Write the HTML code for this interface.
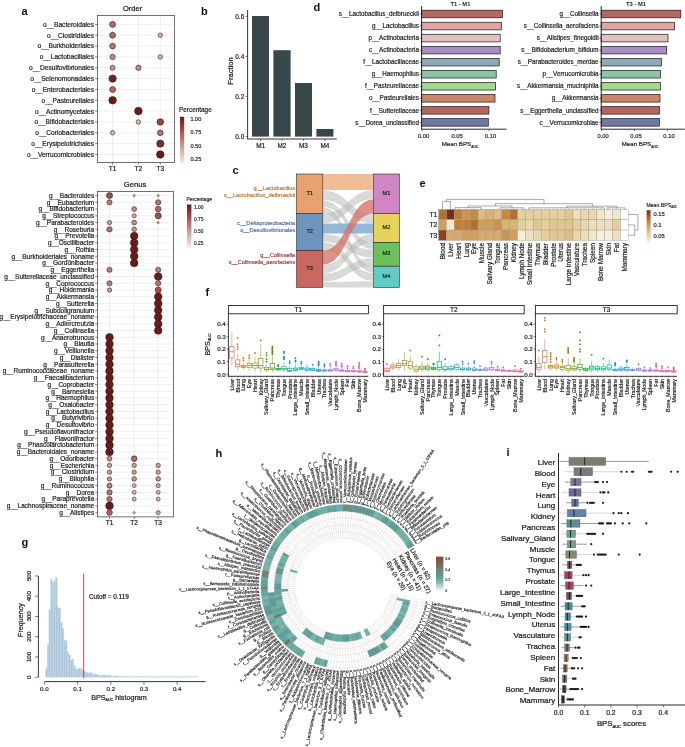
<!DOCTYPE html>
<html lang="en"><head><meta charset="utf-8"><title>Figure</title>
<style>
html,body{margin:0;padding:0;background:#fff;}
body{width:685px;height:747px;overflow:hidden;}
svg{display:block;font-family:"Liberation Sans",Arial,sans-serif;}
</style></head><body>
<svg width="685" height="747" viewBox="0 0 685 747">
<rect width="685" height="747" fill="#ffffff"/>
<g fill="#1a1a1a">
<g id="panel_a">
<text x="21.50" y="14.50" font-size="11" fill="#111" font-weight="bold">a</text>
<rect x="97.60" y="15.50" width="77.00" height="146.90" fill="#fff" stroke="#333" stroke-width="0.7" />
<line x1="112.60" y1="15.90" x2="112.60" y2="162.00" stroke="#dcdcdc" stroke-width="0.5" />
<line x1="138.40" y1="15.90" x2="138.40" y2="162.00" stroke="#dcdcdc" stroke-width="0.5" />
<line x1="160.30" y1="15.90" x2="160.30" y2="162.00" stroke="#dcdcdc" stroke-width="0.5" />
<line x1="98.00" y1="24.40" x2="174.20" y2="24.40" stroke="#dfdfdf" stroke-width="0.5" />
<line x1="98.00" y1="35.24" x2="174.20" y2="35.24" stroke="#dfdfdf" stroke-width="0.5" />
<line x1="98.00" y1="46.08" x2="174.20" y2="46.08" stroke="#dfdfdf" stroke-width="0.5" />
<line x1="98.00" y1="56.92" x2="174.20" y2="56.92" stroke="#dfdfdf" stroke-width="0.5" />
<line x1="98.00" y1="67.76" x2="174.20" y2="67.76" stroke="#dfdfdf" stroke-width="0.5" />
<line x1="98.00" y1="78.60" x2="174.20" y2="78.60" stroke="#dfdfdf" stroke-width="0.5" />
<line x1="98.00" y1="89.44" x2="174.20" y2="89.44" stroke="#dfdfdf" stroke-width="0.5" />
<line x1="98.00" y1="100.28" x2="174.20" y2="100.28" stroke="#dfdfdf" stroke-width="0.5" />
<line x1="98.00" y1="111.12" x2="174.20" y2="111.12" stroke="#dfdfdf" stroke-width="0.5" />
<line x1="98.00" y1="121.96" x2="174.20" y2="121.96" stroke="#dfdfdf" stroke-width="0.5" />
<line x1="98.00" y1="132.80" x2="174.20" y2="132.80" stroke="#dfdfdf" stroke-width="0.5" />
<line x1="98.00" y1="143.64" x2="174.20" y2="143.64" stroke="#dfdfdf" stroke-width="0.5" />
<line x1="98.00" y1="154.48" x2="174.20" y2="154.48" stroke="#dfdfdf" stroke-width="0.5" />
<line x1="95.00" y1="24.40" x2="97.60" y2="24.40" stroke="#333" stroke-width="0.6" />
<text x="94.00" y="26.80" font-size="6.6" text-anchor="end" stroke="#1a1a1a" stroke-width="0.198">o__Bacteroidales</text>
<circle cx="112.60" cy="24.40" r="2.96" fill="#ad6863" stroke="#2b1010" stroke-width="0.55" />
<line x1="95.00" y1="35.24" x2="97.60" y2="35.24" stroke="#333" stroke-width="0.6" />
<text x="94.00" y="37.64" font-size="6.6" text-anchor="end" stroke="#1a1a1a" stroke-width="0.198">o__Clostridiales</text>
<circle cx="112.60" cy="35.24" r="2.96" fill="#ad6863" stroke="#2b1010" stroke-width="0.55" />
<circle cx="160.30" cy="35.24" r="2.23" fill="#d9b5b1" stroke="#2b1010" stroke-width="0.55" />
<line x1="95.00" y1="46.08" x2="97.60" y2="46.08" stroke="#333" stroke-width="0.6" />
<text x="94.00" y="48.48" font-size="6.6" text-anchor="end" stroke="#1a1a1a" stroke-width="0.198">o__Burkholderiales</text>
<circle cx="112.60" cy="46.08" r="2.86" fill="#b4746f" stroke="#2b1010" stroke-width="0.55" />
<line x1="95.00" y1="56.92" x2="97.60" y2="56.92" stroke="#333" stroke-width="0.6" />
<text x="94.00" y="59.32" font-size="6.6" text-anchor="end" stroke="#1a1a1a" stroke-width="0.198">o__Lactobacillales</text>
<circle cx="112.60" cy="56.92" r="2.65" fill="#c18a85" stroke="#2b1010" stroke-width="0.55" />
<circle cx="160.30" cy="56.92" r="2.23" fill="#d9b5b1" stroke="#2b1010" stroke-width="0.55" />
<line x1="95.00" y1="67.76" x2="97.60" y2="67.76" stroke="#333" stroke-width="0.6" />
<text x="94.00" y="70.16" font-size="6.6" text-anchor="end" stroke="#1a1a1a" stroke-width="0.198">o__Desulfovibrionales</text>
<circle cx="112.60" cy="67.76" r="2.54" fill="#c79590" stroke="#2b1010" stroke-width="0.55" />
<circle cx="138.40" cy="67.76" r="2.65" fill="#c18a85" stroke="#2b1010" stroke-width="0.55" />
<line x1="95.00" y1="78.60" x2="97.60" y2="78.60" stroke="#333" stroke-width="0.6" />
<text x="94.00" y="81.00" font-size="6.6" text-anchor="end" stroke="#1a1a1a" stroke-width="0.198">o__Selenomonadales</text>
<circle cx="112.60" cy="78.60" r="3.69" fill="#742323" stroke="#2b1010" stroke-width="0.55" />
<line x1="95.00" y1="89.44" x2="97.60" y2="89.44" stroke="#333" stroke-width="0.6" />
<text x="94.00" y="91.84" font-size="6.6" text-anchor="end" stroke="#1a1a1a" stroke-width="0.198">o__Enterobacteriales</text>
<circle cx="112.60" cy="89.44" r="2.96" fill="#ad6863" stroke="#2b1010" stroke-width="0.55" />
<line x1="95.00" y1="100.28" x2="97.60" y2="100.28" stroke="#333" stroke-width="0.6" />
<text x="94.00" y="102.68" font-size="6.6" text-anchor="end" stroke="#1a1a1a" stroke-width="0.198">o__Pasteurellales</text>
<circle cx="112.60" cy="100.28" r="3.80" fill="#6b1a1b" stroke="#2b1010" stroke-width="0.55" />
<line x1="95.00" y1="111.12" x2="97.60" y2="111.12" stroke="#333" stroke-width="0.6" />
<text x="94.00" y="113.52" font-size="6.6" text-anchor="end" stroke="#1a1a1a" stroke-width="0.198">o__Actinomycetales</text>
<circle cx="138.40" cy="111.12" r="3.80" fill="#6b1a1b" stroke="#2b1010" stroke-width="0.55" />
<line x1="95.00" y1="121.96" x2="97.60" y2="121.96" stroke="#333" stroke-width="0.6" />
<text x="94.00" y="124.36" font-size="6.6" text-anchor="end" stroke="#1a1a1a" stroke-width="0.198">o__Bifidobacteriales</text>
<circle cx="138.40" cy="121.96" r="2.23" fill="#d9b5b1" stroke="#2b1010" stroke-width="0.55" />
<circle cx="160.30" cy="121.96" r="3.28" fill="#974641" stroke="#2b1010" stroke-width="0.55" />
<line x1="95.00" y1="132.80" x2="97.60" y2="132.80" stroke="#333" stroke-width="0.6" />
<text x="94.00" y="135.20" font-size="6.6" text-anchor="end" stroke="#1a1a1a" stroke-width="0.198">o__Coriobacteriales</text>
<circle cx="112.60" cy="132.80" r="2.23" fill="#d9b5b1" stroke="#2b1010" stroke-width="0.55" />
<circle cx="160.30" cy="132.80" r="2.86" fill="#b4746f" stroke="#2b1010" stroke-width="0.55" />
<line x1="95.00" y1="143.64" x2="97.60" y2="143.64" stroke="#333" stroke-width="0.6" />
<text x="94.00" y="146.04" font-size="6.6" text-anchor="end" stroke="#1a1a1a" stroke-width="0.198">o__Erysipelotrichales</text>
<circle cx="160.30" cy="143.64" r="3.59" fill="#7d2c2a" stroke="#2b1010" stroke-width="0.55" />
<line x1="95.00" y1="154.48" x2="97.60" y2="154.48" stroke="#333" stroke-width="0.6" />
<text x="94.00" y="156.88" font-size="6.6" text-anchor="end" stroke="#1a1a1a" stroke-width="0.198">o__Verrucomicrobiales</text>
<circle cx="160.30" cy="154.48" r="3.80" fill="#6b1a1b" stroke="#2b1010" stroke-width="0.55" />
<line x1="112.60" y1="162.40" x2="112.60" y2="164.80" stroke="#333" stroke-width="0.6" />
<text x="112.60" y="170.60" font-size="6.6" text-anchor="middle" stroke="#1a1a1a" stroke-width="0.198">T1</text>
<line x1="138.40" y1="162.40" x2="138.40" y2="164.80" stroke="#333" stroke-width="0.6" />
<text x="138.40" y="170.60" font-size="6.6" text-anchor="middle" stroke="#1a1a1a" stroke-width="0.198">T2</text>
<line x1="160.30" y1="162.40" x2="160.30" y2="164.80" stroke="#333" stroke-width="0.6" />
<text x="160.30" y="170.60" font-size="6.6" text-anchor="middle" stroke="#1a1a1a" stroke-width="0.198">T3</text>
<text x="132.60" y="11.20" font-size="7.6" text-anchor="middle" stroke="#1a1a1a" stroke-width="0.228">Order</text>
<text x="179.00" y="112.00" font-size="6.4" stroke="#1a1a1a" stroke-width="0.192">Percentage</text>
<defs><linearGradient id="gred" x1="0" y1="0" x2="0" y2="1"><stop offset="0.0" stop-color="#6b1a1b"/><stop offset="0.25" stop-color="#974641"/><stop offset="0.5" stop-color="#bb7f7a"/><stop offset="0.75" stop-color="#d9b5b1"/><stop offset="1" stop-color="#f3e6e4"/></linearGradient></defs>
<rect x="180.00" y="116.80" width="4.20" height="46.00" fill="url(#gred)" />
<text x="190.40" y="120.80" font-size="5.6" stroke="#1a1a1a" stroke-width="0.168">1.00</text>
<text x="190.40" y="134.40" font-size="5.6" stroke="#1a1a1a" stroke-width="0.168">0.75</text>
<text x="190.40" y="147.60" font-size="5.6" stroke="#1a1a1a" stroke-width="0.168">0.50</text>
<text x="190.40" y="160.80" font-size="5.6" stroke="#1a1a1a" stroke-width="0.168">0.25</text>
<text x="135.00" y="187.00" font-size="7.6" text-anchor="middle" stroke="#1a1a1a" stroke-width="0.228">Genus</text>
<rect x="97.40" y="191.40" width="76.20" height="325.50" fill="#fff" stroke="#333" stroke-width="0.7" />
<line x1="109.50" y1="191.80" x2="109.50" y2="516.50" stroke="#dcdcdc" stroke-width="0.5" />
<line x1="134.20" y1="191.80" x2="134.20" y2="516.50" stroke="#dcdcdc" stroke-width="0.5" />
<line x1="158.20" y1="191.80" x2="158.20" y2="516.50" stroke="#dcdcdc" stroke-width="0.5" />
<line x1="97.80" y1="195.60" x2="173.20" y2="195.60" stroke="#dfdfdf" stroke-width="0.5" />
<line x1="97.80" y1="202.34" x2="173.20" y2="202.34" stroke="#dfdfdf" stroke-width="0.5" />
<line x1="97.80" y1="209.09" x2="173.20" y2="209.09" stroke="#dfdfdf" stroke-width="0.5" />
<line x1="97.80" y1="215.83" x2="173.20" y2="215.83" stroke="#dfdfdf" stroke-width="0.5" />
<line x1="97.80" y1="222.58" x2="173.20" y2="222.58" stroke="#dfdfdf" stroke-width="0.5" />
<line x1="97.80" y1="229.32" x2="173.20" y2="229.32" stroke="#dfdfdf" stroke-width="0.5" />
<line x1="97.80" y1="236.07" x2="173.20" y2="236.07" stroke="#dfdfdf" stroke-width="0.5" />
<line x1="97.80" y1="242.81" x2="173.20" y2="242.81" stroke="#dfdfdf" stroke-width="0.5" />
<line x1="97.80" y1="249.56" x2="173.20" y2="249.56" stroke="#dfdfdf" stroke-width="0.5" />
<line x1="97.80" y1="256.31" x2="173.20" y2="256.31" stroke="#dfdfdf" stroke-width="0.5" />
<line x1="97.80" y1="263.05" x2="173.20" y2="263.05" stroke="#dfdfdf" stroke-width="0.5" />
<line x1="97.80" y1="269.80" x2="173.20" y2="269.80" stroke="#dfdfdf" stroke-width="0.5" />
<line x1="97.80" y1="276.54" x2="173.20" y2="276.54" stroke="#dfdfdf" stroke-width="0.5" />
<line x1="97.80" y1="283.28" x2="173.20" y2="283.28" stroke="#dfdfdf" stroke-width="0.5" />
<line x1="97.80" y1="290.03" x2="173.20" y2="290.03" stroke="#dfdfdf" stroke-width="0.5" />
<line x1="97.80" y1="296.77" x2="173.20" y2="296.77" stroke="#dfdfdf" stroke-width="0.5" />
<line x1="97.80" y1="303.52" x2="173.20" y2="303.52" stroke="#dfdfdf" stroke-width="0.5" />
<line x1="97.80" y1="310.26" x2="173.20" y2="310.26" stroke="#dfdfdf" stroke-width="0.5" />
<line x1="97.80" y1="317.01" x2="173.20" y2="317.01" stroke="#dfdfdf" stroke-width="0.5" />
<line x1="97.80" y1="323.75" x2="173.20" y2="323.75" stroke="#dfdfdf" stroke-width="0.5" />
<line x1="97.80" y1="330.50" x2="173.20" y2="330.50" stroke="#dfdfdf" stroke-width="0.5" />
<line x1="97.80" y1="337.25" x2="173.20" y2="337.25" stroke="#dfdfdf" stroke-width="0.5" />
<line x1="97.80" y1="343.99" x2="173.20" y2="343.99" stroke="#dfdfdf" stroke-width="0.5" />
<line x1="97.80" y1="350.74" x2="173.20" y2="350.74" stroke="#dfdfdf" stroke-width="0.5" />
<line x1="97.80" y1="357.48" x2="173.20" y2="357.48" stroke="#dfdfdf" stroke-width="0.5" />
<line x1="97.80" y1="364.23" x2="173.20" y2="364.23" stroke="#dfdfdf" stroke-width="0.5" />
<line x1="97.80" y1="370.97" x2="173.20" y2="370.97" stroke="#dfdfdf" stroke-width="0.5" />
<line x1="97.80" y1="377.72" x2="173.20" y2="377.72" stroke="#dfdfdf" stroke-width="0.5" />
<line x1="97.80" y1="384.46" x2="173.20" y2="384.46" stroke="#dfdfdf" stroke-width="0.5" />
<line x1="97.80" y1="391.20" x2="173.20" y2="391.20" stroke="#dfdfdf" stroke-width="0.5" />
<line x1="97.80" y1="397.95" x2="173.20" y2="397.95" stroke="#dfdfdf" stroke-width="0.5" />
<line x1="97.80" y1="404.69" x2="173.20" y2="404.69" stroke="#dfdfdf" stroke-width="0.5" />
<line x1="97.80" y1="411.44" x2="173.20" y2="411.44" stroke="#dfdfdf" stroke-width="0.5" />
<line x1="97.80" y1="418.19" x2="173.20" y2="418.19" stroke="#dfdfdf" stroke-width="0.5" />
<line x1="97.80" y1="424.93" x2="173.20" y2="424.93" stroke="#dfdfdf" stroke-width="0.5" />
<line x1="97.80" y1="431.68" x2="173.20" y2="431.68" stroke="#dfdfdf" stroke-width="0.5" />
<line x1="97.80" y1="438.42" x2="173.20" y2="438.42" stroke="#dfdfdf" stroke-width="0.5" />
<line x1="97.80" y1="445.16" x2="173.20" y2="445.16" stroke="#dfdfdf" stroke-width="0.5" />
<line x1="97.80" y1="451.91" x2="173.20" y2="451.91" stroke="#dfdfdf" stroke-width="0.5" />
<line x1="97.80" y1="458.65" x2="173.20" y2="458.65" stroke="#dfdfdf" stroke-width="0.5" />
<line x1="97.80" y1="465.40" x2="173.20" y2="465.40" stroke="#dfdfdf" stroke-width="0.5" />
<line x1="97.80" y1="472.14" x2="173.20" y2="472.14" stroke="#dfdfdf" stroke-width="0.5" />
<line x1="97.80" y1="478.89" x2="173.20" y2="478.89" stroke="#dfdfdf" stroke-width="0.5" />
<line x1="97.80" y1="485.63" x2="173.20" y2="485.63" stroke="#dfdfdf" stroke-width="0.5" />
<line x1="97.80" y1="492.38" x2="173.20" y2="492.38" stroke="#dfdfdf" stroke-width="0.5" />
<line x1="97.80" y1="499.12" x2="173.20" y2="499.12" stroke="#dfdfdf" stroke-width="0.5" />
<line x1="97.80" y1="505.87" x2="173.20" y2="505.87" stroke="#dfdfdf" stroke-width="0.5" />
<line x1="97.80" y1="512.62" x2="173.20" y2="512.62" stroke="#dfdfdf" stroke-width="0.5" />
<line x1="95.20" y1="195.60" x2="97.40" y2="195.60" stroke="#333" stroke-width="0.6" />
<text x="94.20" y="197.90" font-size="6.5" text-anchor="end" stroke="#1a1a1a" stroke-width="0.195">g__Bacteroides</text>
<line x1="95.20" y1="202.34" x2="97.40" y2="202.34" stroke="#333" stroke-width="0.6" />
<text x="94.20" y="204.65" font-size="6.5" text-anchor="end" stroke="#1a1a1a" stroke-width="0.195">g__Eubacterium</text>
<line x1="95.20" y1="209.09" x2="97.40" y2="209.09" stroke="#333" stroke-width="0.6" />
<text x="94.20" y="211.39" font-size="6.5" text-anchor="end" stroke="#1a1a1a" stroke-width="0.195">g__Bifidobacterium</text>
<line x1="95.20" y1="215.83" x2="97.40" y2="215.83" stroke="#333" stroke-width="0.6" />
<text x="94.20" y="218.13" font-size="6.5" text-anchor="end" stroke="#1a1a1a" stroke-width="0.195">g__Streptococcus</text>
<line x1="95.20" y1="222.58" x2="97.40" y2="222.58" stroke="#333" stroke-width="0.6" />
<text x="94.20" y="224.88" font-size="6.5" text-anchor="end" stroke="#1a1a1a" stroke-width="0.195">g__Parabacteroides</text>
<line x1="95.20" y1="229.32" x2="97.40" y2="229.32" stroke="#333" stroke-width="0.6" />
<text x="94.20" y="231.62" font-size="6.5" text-anchor="end" stroke="#1a1a1a" stroke-width="0.195">g__Roseburia</text>
<line x1="95.20" y1="236.07" x2="97.40" y2="236.07" stroke="#333" stroke-width="0.6" />
<text x="94.20" y="238.37" font-size="6.5" text-anchor="end" stroke="#1a1a1a" stroke-width="0.195">g__Prevotella</text>
<line x1="95.20" y1="242.81" x2="97.40" y2="242.81" stroke="#333" stroke-width="0.6" />
<text x="94.20" y="245.12" font-size="6.5" text-anchor="end" stroke="#1a1a1a" stroke-width="0.195">g__Oscillibacter</text>
<line x1="95.20" y1="249.56" x2="97.40" y2="249.56" stroke="#333" stroke-width="0.6" />
<text x="94.20" y="251.86" font-size="6.5" text-anchor="end" stroke="#1a1a1a" stroke-width="0.195">g__Rothia</text>
<line x1="95.20" y1="256.31" x2="97.40" y2="256.31" stroke="#333" stroke-width="0.6" />
<text x="94.20" y="258.61" font-size="6.5" text-anchor="end" stroke="#1a1a1a" stroke-width="0.195">g__Burkholderiales_noname</text>
<line x1="95.20" y1="263.05" x2="97.40" y2="263.05" stroke="#333" stroke-width="0.6" />
<text x="94.20" y="265.35" font-size="6.5" text-anchor="end" stroke="#1a1a1a" stroke-width="0.195">g__Gordonibacter</text>
<line x1="95.20" y1="269.80" x2="97.40" y2="269.80" stroke="#333" stroke-width="0.6" />
<text x="94.20" y="272.10" font-size="6.5" text-anchor="end" stroke="#1a1a1a" stroke-width="0.195">g__Eggerthella</text>
<line x1="95.20" y1="276.54" x2="97.40" y2="276.54" stroke="#333" stroke-width="0.6" />
<text x="94.20" y="278.84" font-size="6.5" text-anchor="end" stroke="#1a1a1a" stroke-width="0.195">g__Sutterellaceae_unclassified</text>
<line x1="95.20" y1="283.28" x2="97.40" y2="283.28" stroke="#333" stroke-width="0.6" />
<text x="94.20" y="285.58" font-size="6.5" text-anchor="end" stroke="#1a1a1a" stroke-width="0.195">g__Coprococcus</text>
<line x1="95.20" y1="290.03" x2="97.40" y2="290.03" stroke="#333" stroke-width="0.6" />
<text x="94.20" y="292.33" font-size="6.5" text-anchor="end" stroke="#1a1a1a" stroke-width="0.195">g__Holdemania</text>
<line x1="95.20" y1="296.77" x2="97.40" y2="296.77" stroke="#333" stroke-width="0.6" />
<text x="94.20" y="299.07" font-size="6.5" text-anchor="end" stroke="#1a1a1a" stroke-width="0.195">g__Akkermansia</text>
<line x1="95.20" y1="303.52" x2="97.40" y2="303.52" stroke="#333" stroke-width="0.6" />
<text x="94.20" y="305.82" font-size="6.5" text-anchor="end" stroke="#1a1a1a" stroke-width="0.195">g__Sutterella</text>
<line x1="95.20" y1="310.26" x2="97.40" y2="310.26" stroke="#333" stroke-width="0.6" />
<text x="94.20" y="312.56" font-size="6.5" text-anchor="end" stroke="#1a1a1a" stroke-width="0.195">g__Subdoligranulum</text>
<line x1="95.20" y1="317.01" x2="97.40" y2="317.01" stroke="#333" stroke-width="0.6" />
<text x="94.20" y="319.31" font-size="6.5" text-anchor="end" stroke="#1a1a1a" stroke-width="0.195">g__Erysipelotrichaceae_noname</text>
<line x1="95.20" y1="323.75" x2="97.40" y2="323.75" stroke="#333" stroke-width="0.6" />
<text x="94.20" y="326.06" font-size="6.5" text-anchor="end" stroke="#1a1a1a" stroke-width="0.195">g__Adlercreutzia</text>
<line x1="95.20" y1="330.50" x2="97.40" y2="330.50" stroke="#333" stroke-width="0.6" />
<text x="94.20" y="332.80" font-size="6.5" text-anchor="end" stroke="#1a1a1a" stroke-width="0.195">g__Collinsella</text>
<line x1="95.20" y1="337.25" x2="97.40" y2="337.25" stroke="#333" stroke-width="0.6" />
<text x="94.20" y="339.55" font-size="6.5" text-anchor="end" stroke="#1a1a1a" stroke-width="0.195">g__Anaerotruncus</text>
<line x1="95.20" y1="343.99" x2="97.40" y2="343.99" stroke="#333" stroke-width="0.6" />
<text x="94.20" y="346.29" font-size="6.5" text-anchor="end" stroke="#1a1a1a" stroke-width="0.195">g__Blautia</text>
<line x1="95.20" y1="350.74" x2="97.40" y2="350.74" stroke="#333" stroke-width="0.6" />
<text x="94.20" y="353.04" font-size="6.5" text-anchor="end" stroke="#1a1a1a" stroke-width="0.195">g__Veillonella</text>
<line x1="95.20" y1="357.48" x2="97.40" y2="357.48" stroke="#333" stroke-width="0.6" />
<text x="94.20" y="359.78" font-size="6.5" text-anchor="end" stroke="#1a1a1a" stroke-width="0.195">g__Dialister</text>
<line x1="95.20" y1="364.23" x2="97.40" y2="364.23" stroke="#333" stroke-width="0.6" />
<text x="94.20" y="366.53" font-size="6.5" text-anchor="end" stroke="#1a1a1a" stroke-width="0.195">g__Parasutterella</text>
<line x1="95.20" y1="370.97" x2="97.40" y2="370.97" stroke="#333" stroke-width="0.6" />
<text x="94.20" y="373.27" font-size="6.5" text-anchor="end" stroke="#1a1a1a" stroke-width="0.195">g__Ruminococcaceae_noname</text>
<line x1="95.20" y1="377.72" x2="97.40" y2="377.72" stroke="#333" stroke-width="0.6" />
<text x="94.20" y="380.02" font-size="6.5" text-anchor="end" stroke="#1a1a1a" stroke-width="0.195">g__Faecalibacterium</text>
<line x1="95.20" y1="384.46" x2="97.40" y2="384.46" stroke="#333" stroke-width="0.6" />
<text x="94.20" y="386.76" font-size="6.5" text-anchor="end" stroke="#1a1a1a" stroke-width="0.195">g__Coprobacter</text>
<line x1="95.20" y1="391.20" x2="97.40" y2="391.20" stroke="#333" stroke-width="0.6" />
<text x="94.20" y="393.50" font-size="6.5" text-anchor="end" stroke="#1a1a1a" stroke-width="0.195">g__Barnesiella</text>
<line x1="95.20" y1="397.95" x2="97.40" y2="397.95" stroke="#333" stroke-width="0.6" />
<text x="94.20" y="400.25" font-size="6.5" text-anchor="end" stroke="#1a1a1a" stroke-width="0.195">g__Haemophilus</text>
<line x1="95.20" y1="404.69" x2="97.40" y2="404.69" stroke="#333" stroke-width="0.6" />
<text x="94.20" y="407.00" font-size="6.5" text-anchor="end" stroke="#1a1a1a" stroke-width="0.195">g__Oxalobacter</text>
<line x1="95.20" y1="411.44" x2="97.40" y2="411.44" stroke="#333" stroke-width="0.6" />
<text x="94.20" y="413.74" font-size="6.5" text-anchor="end" stroke="#1a1a1a" stroke-width="0.195">g__Lactobacillus</text>
<line x1="95.20" y1="418.19" x2="97.40" y2="418.19" stroke="#333" stroke-width="0.6" />
<text x="94.20" y="420.49" font-size="6.5" text-anchor="end" stroke="#1a1a1a" stroke-width="0.195">g__Butyrivibrio</text>
<line x1="95.20" y1="424.93" x2="97.40" y2="424.93" stroke="#333" stroke-width="0.6" />
<text x="94.20" y="427.23" font-size="6.5" text-anchor="end" stroke="#1a1a1a" stroke-width="0.195">g__Desulfovibrio</text>
<line x1="95.20" y1="431.68" x2="97.40" y2="431.68" stroke="#333" stroke-width="0.6" />
<text x="94.20" y="433.98" font-size="6.5" text-anchor="end" stroke="#1a1a1a" stroke-width="0.195">g__Pseudoflavonifractor</text>
<line x1="95.20" y1="438.42" x2="97.40" y2="438.42" stroke="#333" stroke-width="0.6" />
<text x="94.20" y="440.72" font-size="6.5" text-anchor="end" stroke="#1a1a1a" stroke-width="0.195">g__Flavonifractor</text>
<line x1="95.20" y1="445.16" x2="97.40" y2="445.16" stroke="#333" stroke-width="0.6" />
<text x="94.20" y="447.46" font-size="6.5" text-anchor="end" stroke="#1a1a1a" stroke-width="0.195">g__Phascolarctobacterium</text>
<line x1="95.20" y1="451.91" x2="97.40" y2="451.91" stroke="#333" stroke-width="0.6" />
<text x="94.20" y="454.21" font-size="6.5" text-anchor="end" stroke="#1a1a1a" stroke-width="0.195">g__Bacteroidales_noname</text>
<line x1="95.20" y1="458.65" x2="97.40" y2="458.65" stroke="#333" stroke-width="0.6" />
<text x="94.20" y="460.95" font-size="6.5" text-anchor="end" stroke="#1a1a1a" stroke-width="0.195">g__Odoribacter</text>
<line x1="95.20" y1="465.40" x2="97.40" y2="465.40" stroke="#333" stroke-width="0.6" />
<text x="94.20" y="467.70" font-size="6.5" text-anchor="end" stroke="#1a1a1a" stroke-width="0.195">g__Escherichia</text>
<line x1="95.20" y1="472.14" x2="97.40" y2="472.14" stroke="#333" stroke-width="0.6" />
<text x="94.20" y="474.44" font-size="6.5" text-anchor="end" stroke="#1a1a1a" stroke-width="0.195">g__Clostridium</text>
<line x1="95.20" y1="478.89" x2="97.40" y2="478.89" stroke="#333" stroke-width="0.6" />
<text x="94.20" y="481.19" font-size="6.5" text-anchor="end" stroke="#1a1a1a" stroke-width="0.195">g__Bilophila</text>
<line x1="95.20" y1="485.63" x2="97.40" y2="485.63" stroke="#333" stroke-width="0.6" />
<text x="94.20" y="487.94" font-size="6.5" text-anchor="end" stroke="#1a1a1a" stroke-width="0.195">g__Ruminococcus</text>
<line x1="95.20" y1="492.38" x2="97.40" y2="492.38" stroke="#333" stroke-width="0.6" />
<text x="94.20" y="494.68" font-size="6.5" text-anchor="end" stroke="#1a1a1a" stroke-width="0.195">g__Dorea</text>
<line x1="95.20" y1="499.12" x2="97.40" y2="499.12" stroke="#333" stroke-width="0.6" />
<text x="94.20" y="501.43" font-size="6.5" text-anchor="end" stroke="#1a1a1a" stroke-width="0.195">g__Paraprevotella</text>
<line x1="95.20" y1="505.87" x2="97.40" y2="505.87" stroke="#333" stroke-width="0.6" />
<text x="94.20" y="508.17" font-size="6.5" text-anchor="end" stroke="#1a1a1a" stroke-width="0.195">g__Lachnospiraceae_noname</text>
<line x1="95.20" y1="512.62" x2="97.40" y2="512.62" stroke="#333" stroke-width="0.6" />
<text x="94.20" y="514.91" font-size="6.5" text-anchor="end" stroke="#1a1a1a" stroke-width="0.195">g__Alistipes</text>
<circle cx="109.50" cy="195.60" r="3.05" fill="#9e514c" stroke="#2b1010" stroke-width="0.55" />
<circle cx="134.20" cy="195.60" r="1.00" fill="#f0e0de" stroke="#2b1010" stroke-width="0.55" />
<circle cx="158.20" cy="195.60" r="1.00" fill="#f0e0de" stroke="#2b1010" stroke-width="0.55" />
<circle cx="109.50" cy="202.34" r="2.55" fill="#bb7f7a" stroke="#2b1010" stroke-width="0.55" />
<circle cx="158.20" cy="202.34" r="2.67" fill="#b4746f" stroke="#2b1010" stroke-width="0.55" />
<circle cx="134.20" cy="209.09" r="2.42" fill="#c18a85" stroke="#2b1010" stroke-width="0.55" />
<circle cx="158.20" cy="209.09" r="2.80" fill="#ad6863" stroke="#2b1010" stroke-width="0.55" />
<circle cx="134.20" cy="215.83" r="2.05" fill="#d3aaa6" stroke="#2b1010" stroke-width="0.55" />
<circle cx="158.20" cy="215.83" r="3.05" fill="#9e514c" stroke="#2b1010" stroke-width="0.55" />
<circle cx="109.50" cy="222.58" r="2.17" fill="#cd9f9b" stroke="#2b1010" stroke-width="0.55" />
<circle cx="134.20" cy="222.58" r="2.42" fill="#c18a85" stroke="#2b1010" stroke-width="0.55" />
<circle cx="158.20" cy="222.58" r="1.00" fill="#ebd6d4" stroke="#2b1010" stroke-width="0.55" />
<circle cx="109.50" cy="229.32" r="2.67" fill="#b4746f" stroke="#2b1010" stroke-width="0.55" />
<circle cx="134.20" cy="229.32" r="2.30" fill="#c79590" stroke="#2b1010" stroke-width="0.55" />
<circle cx="134.20" cy="236.07" r="3.80" fill="#6b1a1b" stroke="#2b1010" stroke-width="0.55" />
<circle cx="134.20" cy="242.81" r="3.80" fill="#6b1a1b" stroke="#2b1010" stroke-width="0.55" />
<circle cx="134.20" cy="249.56" r="3.80" fill="#6b1a1b" stroke="#2b1010" stroke-width="0.55" />
<circle cx="134.20" cy="256.31" r="3.80" fill="#6b1a1b" stroke="#2b1010" stroke-width="0.55" />
<circle cx="134.20" cy="263.05" r="3.80" fill="#6b1a1b" stroke="#2b1010" stroke-width="0.55" />
<circle cx="109.50" cy="269.80" r="2.55" fill="#bb7f7a" stroke="#2b1010" stroke-width="0.55" />
<circle cx="158.20" cy="269.80" r="2.55" fill="#bb7f7a" stroke="#2b1010" stroke-width="0.55" />
<circle cx="158.20" cy="276.54" r="3.80" fill="#6b1a1b" stroke="#2b1010" stroke-width="0.55" />
<circle cx="109.50" cy="283.28" r="2.55" fill="#bb7f7a" stroke="#2b1010" stroke-width="0.55" />
<circle cx="158.20" cy="283.28" r="2.67" fill="#b4746f" stroke="#2b1010" stroke-width="0.55" />
<circle cx="109.50" cy="290.03" r="2.17" fill="#cd9f9b" stroke="#2b1010" stroke-width="0.55" />
<circle cx="158.20" cy="290.03" r="3.05" fill="#9e514c" stroke="#2b1010" stroke-width="0.55" />
<circle cx="158.20" cy="296.77" r="3.80" fill="#6b1a1b" stroke="#2b1010" stroke-width="0.55" />
<circle cx="158.20" cy="303.52" r="3.80" fill="#6b1a1b" stroke="#2b1010" stroke-width="0.55" />
<circle cx="158.20" cy="310.26" r="3.80" fill="#6b1a1b" stroke="#2b1010" stroke-width="0.55" />
<circle cx="158.20" cy="317.01" r="3.80" fill="#6b1a1b" stroke="#2b1010" stroke-width="0.55" />
<circle cx="158.20" cy="323.75" r="3.80" fill="#6b1a1b" stroke="#2b1010" stroke-width="0.55" />
<circle cx="158.20" cy="330.50" r="3.80" fill="#6b1a1b" stroke="#2b1010" stroke-width="0.55" />
<circle cx="109.50" cy="337.25" r="3.80" fill="#6b1a1b" stroke="#2b1010" stroke-width="0.55" />
<circle cx="109.50" cy="343.99" r="3.80" fill="#6b1a1b" stroke="#2b1010" stroke-width="0.55" />
<circle cx="109.50" cy="350.74" r="3.80" fill="#6b1a1b" stroke="#2b1010" stroke-width="0.55" />
<circle cx="109.50" cy="357.48" r="3.80" fill="#6b1a1b" stroke="#2b1010" stroke-width="0.55" />
<circle cx="109.50" cy="364.23" r="3.80" fill="#6b1a1b" stroke="#2b1010" stroke-width="0.55" />
<circle cx="109.50" cy="370.97" r="3.80" fill="#6b1a1b" stroke="#2b1010" stroke-width="0.55" />
<circle cx="109.50" cy="377.72" r="3.80" fill="#6b1a1b" stroke="#2b1010" stroke-width="0.55" />
<circle cx="109.50" cy="384.46" r="3.80" fill="#6b1a1b" stroke="#2b1010" stroke-width="0.55" />
<circle cx="109.50" cy="391.20" r="3.80" fill="#6b1a1b" stroke="#2b1010" stroke-width="0.55" />
<circle cx="109.50" cy="397.95" r="3.80" fill="#6b1a1b" stroke="#2b1010" stroke-width="0.55" />
<circle cx="109.50" cy="404.69" r="3.80" fill="#6b1a1b" stroke="#2b1010" stroke-width="0.55" />
<circle cx="109.50" cy="411.44" r="3.80" fill="#6b1a1b" stroke="#2b1010" stroke-width="0.55" />
<circle cx="109.50" cy="418.19" r="3.80" fill="#6b1a1b" stroke="#2b1010" stroke-width="0.55" />
<circle cx="109.50" cy="424.93" r="3.80" fill="#6b1a1b" stroke="#2b1010" stroke-width="0.55" />
<circle cx="109.50" cy="431.68" r="3.80" fill="#6b1a1b" stroke="#2b1010" stroke-width="0.55" />
<circle cx="109.50" cy="438.42" r="3.80" fill="#6b1a1b" stroke="#2b1010" stroke-width="0.55" />
<circle cx="109.50" cy="445.16" r="3.80" fill="#6b1a1b" stroke="#2b1010" stroke-width="0.55" />
<circle cx="109.50" cy="451.91" r="3.80" fill="#6b1a1b" stroke="#2b1010" stroke-width="0.55" />
<circle cx="109.50" cy="458.65" r="2.42" fill="#c18a85" stroke="#2b1010" stroke-width="0.55" />
<circle cx="134.20" cy="458.65" r="2.80" fill="#ad6863" stroke="#2b1010" stroke-width="0.55" />
<circle cx="109.50" cy="465.40" r="2.17" fill="#cd9f9b" stroke="#2b1010" stroke-width="0.55" />
<circle cx="134.20" cy="465.40" r="2.17" fill="#cd9f9b" stroke="#2b1010" stroke-width="0.55" />
<circle cx="158.20" cy="465.40" r="2.17" fill="#cd9f9b" stroke="#2b1010" stroke-width="0.55" />
<circle cx="109.50" cy="472.14" r="2.17" fill="#cd9f9b" stroke="#2b1010" stroke-width="0.55" />
<circle cx="134.20" cy="472.14" r="2.17" fill="#cd9f9b" stroke="#2b1010" stroke-width="0.55" />
<circle cx="158.20" cy="472.14" r="2.17" fill="#cd9f9b" stroke="#2b1010" stroke-width="0.55" />
<circle cx="109.50" cy="478.89" r="2.17" fill="#cd9f9b" stroke="#2b1010" stroke-width="0.55" />
<circle cx="134.20" cy="478.89" r="2.30" fill="#c79590" stroke="#2b1010" stroke-width="0.55" />
<circle cx="158.20" cy="478.89" r="2.30" fill="#c79590" stroke="#2b1010" stroke-width="0.55" />
<circle cx="109.50" cy="485.63" r="2.55" fill="#bb7f7a" stroke="#2b1010" stroke-width="0.55" />
<circle cx="134.20" cy="485.63" r="1.93" fill="#d9b5b1" stroke="#2b1010" stroke-width="0.55" />
<circle cx="158.20" cy="485.63" r="2.05" fill="#d3aaa6" stroke="#2b1010" stroke-width="0.55" />
<circle cx="109.50" cy="492.38" r="2.67" fill="#b4746f" stroke="#2b1010" stroke-width="0.55" />
<circle cx="134.20" cy="492.38" r="1.93" fill="#d9b5b1" stroke="#2b1010" stroke-width="0.55" />
<circle cx="158.20" cy="492.38" r="1.93" fill="#d9b5b1" stroke="#2b1010" stroke-width="0.55" />
<circle cx="109.50" cy="499.12" r="2.67" fill="#b4746f" stroke="#2b1010" stroke-width="0.55" />
<circle cx="134.20" cy="499.12" r="1.93" fill="#d9b5b1" stroke="#2b1010" stroke-width="0.55" />
<circle cx="158.20" cy="499.12" r="1.93" fill="#d9b5b1" stroke="#2b1010" stroke-width="0.55" />
<circle cx="109.50" cy="505.87" r="3.80" fill="#6b1a1b" stroke="#2b1010" stroke-width="0.55" />
<circle cx="109.50" cy="512.62" r="2.80" fill="#ad6863" stroke="#2b1010" stroke-width="0.55" />
<circle cx="134.20" cy="512.62" r="1.00" fill="#f2e4e2" stroke="#2b1010" stroke-width="0.55" />
<circle cx="158.20" cy="512.62" r="2.05" fill="#d3aaa6" stroke="#2b1010" stroke-width="0.55" />
<line x1="109.50" y1="516.90" x2="109.50" y2="519.10" stroke="#333" stroke-width="0.6" />
<text x="109.50" y="524.90" font-size="6.6" text-anchor="middle" stroke="#1a1a1a" stroke-width="0.198">T1</text>
<line x1="134.20" y1="516.90" x2="134.20" y2="519.10" stroke="#333" stroke-width="0.6" />
<text x="134.20" y="524.90" font-size="6.6" text-anchor="middle" stroke="#1a1a1a" stroke-width="0.198">T2</text>
<line x1="158.20" y1="516.90" x2="158.20" y2="519.10" stroke="#333" stroke-width="0.6" />
<text x="158.20" y="524.90" font-size="6.6" text-anchor="middle" stroke="#1a1a1a" stroke-width="0.198">T3</text>
<text x="186.40" y="201.00" font-size="5" stroke="#1a1a1a" stroke-width="0.150">Percentage</text>
<rect x="187.00" y="204.50" width="4.40" height="42.70" fill="url(#gred)" />
<text x="194.00" y="209.40" font-size="4.8" stroke="#1a1a1a" stroke-width="0.144">1.00</text>
<text x="194.00" y="221.20" font-size="4.8" stroke="#1a1a1a" stroke-width="0.144">0.75</text>
<text x="194.00" y="233.00" font-size="4.8" stroke="#1a1a1a" stroke-width="0.144">0.50</text>
<text x="194.00" y="245.00" font-size="4.8" stroke="#1a1a1a" stroke-width="0.144">0.25</text>
</g>
<g id="panel_b">
<text x="201.00" y="15.00" font-size="11" fill="#111" font-weight="bold">b</text>
<rect x="252.00" y="16.00" width="17.00" height="120.60" fill="#37474a" />
<rect x="273.40" y="50.20" width="17.20" height="86.40" fill="#37474a" />
<rect x="295.00" y="83.00" width="17.00" height="53.60" fill="#37474a" />
<rect x="316.40" y="129.00" width="17.00" height="7.60" fill="#37474a" />
<line x1="247.60" y1="10.00" x2="247.60" y2="139.00" stroke="#1f1f1f" stroke-width="0.9" />
<line x1="247.25" y1="139.00" x2="336.80" y2="139.00" stroke="#1f1f1f" stroke-width="0.9" />
<line x1="245.60" y1="16.40" x2="247.60" y2="16.40" stroke="#222" stroke-width="0.6" />
<text x="244.20" y="18.70" font-size="6.4" text-anchor="end" stroke="#1a1a1a" stroke-width="0.192">0.6</text>
<line x1="245.60" y1="56.40" x2="247.60" y2="56.40" stroke="#222" stroke-width="0.6" />
<text x="244.20" y="58.70" font-size="6.4" text-anchor="end" stroke="#1a1a1a" stroke-width="0.192">0.4</text>
<line x1="245.60" y1="96.40" x2="247.60" y2="96.40" stroke="#222" stroke-width="0.6" />
<text x="244.20" y="98.70" font-size="6.4" text-anchor="end" stroke="#1a1a1a" stroke-width="0.192">0.2</text>
<line x1="245.60" y1="136.60" x2="247.60" y2="136.60" stroke="#222" stroke-width="0.6" />
<text x="244.20" y="138.90" font-size="6.4" text-anchor="end" stroke="#1a1a1a" stroke-width="0.192">0.0</text>
<line x1="260.60" y1="139.00" x2="260.60" y2="141.00" stroke="#222" stroke-width="0.6" />
<text x="260.60" y="147.80" font-size="6.4" text-anchor="middle" stroke="#1a1a1a" stroke-width="0.192">M1</text>
<line x1="282.00" y1="139.00" x2="282.00" y2="141.00" stroke="#222" stroke-width="0.6" />
<text x="282.00" y="147.80" font-size="6.4" text-anchor="middle" stroke="#1a1a1a" stroke-width="0.192">M2</text>
<line x1="303.40" y1="139.00" x2="303.40" y2="141.00" stroke="#222" stroke-width="0.6" />
<text x="303.40" y="147.80" font-size="6.4" text-anchor="middle" stroke="#1a1a1a" stroke-width="0.192">M3</text>
<line x1="325.00" y1="139.00" x2="325.00" y2="141.00" stroke="#222" stroke-width="0.6" />
<text x="325.00" y="147.80" font-size="6.4" text-anchor="middle" stroke="#1a1a1a" stroke-width="0.192">M4</text>
<text x="232.60" y="71.00" font-size="7.6" text-anchor="middle" stroke="#1a1a1a" stroke-width="0.228" transform="rotate(-90.00 232.60 71.00)">Fraction</text>
</g>
<g id="panel_d">
<text x="313.60" y="11.40" font-size="11" fill="#111" font-weight="bold">d</text>
<rect x="421.60" y="10.20" width="80.80" height="7.60" fill="#b4685e" stroke="#1a1a1a" stroke-width="0.7" />
<line x1="419.80" y1="14.00" x2="421.60" y2="14.00" stroke="#222" stroke-width="0.6" />
<text x="419.00" y="16.20" font-size="6.3" text-anchor="end" stroke="#1a1a1a" stroke-width="0.189">s__Lactobacillus_delbrueckii</text>
<rect x="421.60" y="22.24" width="79.80" height="7.60" fill="#e0a5a2" stroke="#1a1a1a" stroke-width="0.7" />
<line x1="419.80" y1="26.04" x2="421.60" y2="26.04" stroke="#222" stroke-width="0.6" />
<text x="419.00" y="28.24" font-size="6.3" text-anchor="end" stroke="#1a1a1a" stroke-width="0.189">g__Lactobacillus</text>
<rect x="421.60" y="34.28" width="78.60" height="7.60" fill="#e3c0c1" stroke="#1a1a1a" stroke-width="0.7" />
<line x1="419.80" y1="38.08" x2="421.60" y2="38.08" stroke="#222" stroke-width="0.6" />
<text x="419.00" y="40.28" font-size="6.3" text-anchor="end" stroke="#1a1a1a" stroke-width="0.189">p__Actinobacteria</text>
<rect x="421.60" y="46.32" width="78.60" height="7.60" fill="#a98cc0" stroke="#1a1a1a" stroke-width="0.7" />
<line x1="419.80" y1="50.12" x2="421.60" y2="50.12" stroke="#222" stroke-width="0.6" />
<text x="419.00" y="52.32" font-size="6.3" text-anchor="end" stroke="#1a1a1a" stroke-width="0.189">c__Actinobacteria</text>
<rect x="421.60" y="58.36" width="77.60" height="7.60" fill="#8fa9b8" stroke="#1a1a1a" stroke-width="0.7" />
<line x1="419.80" y1="62.16" x2="421.60" y2="62.16" stroke="#222" stroke-width="0.6" />
<text x="419.00" y="64.36" font-size="6.3" text-anchor="end" stroke="#1a1a1a" stroke-width="0.189">f__Lactobacillaceae</text>
<rect x="421.60" y="70.40" width="74.60" height="7.60" fill="#8dc3a8" stroke="#1a1a1a" stroke-width="0.7" />
<line x1="419.80" y1="74.20" x2="421.60" y2="74.20" stroke="#222" stroke-width="0.6" />
<text x="419.00" y="76.40" font-size="6.3" text-anchor="end" stroke="#1a1a1a" stroke-width="0.189">g__Haemophilus</text>
<rect x="421.60" y="82.44" width="74.00" height="7.60" fill="#a5d88f" stroke="#1a1a1a" stroke-width="0.7" />
<line x1="419.80" y1="86.24" x2="421.60" y2="86.24" stroke="#222" stroke-width="0.6" />
<text x="419.00" y="88.44" font-size="6.3" text-anchor="end" stroke="#1a1a1a" stroke-width="0.189">f__Pasteurellaceae</text>
<rect x="421.60" y="94.48" width="73.40" height="7.60" fill="#c98668" stroke="#1a1a1a" stroke-width="0.7" />
<line x1="419.80" y1="98.28" x2="421.60" y2="98.28" stroke="#222" stroke-width="0.6" />
<text x="419.00" y="100.48" font-size="6.3" text-anchor="end" stroke="#1a1a1a" stroke-width="0.189">o__Pasteurellales</text>
<rect x="421.60" y="106.52" width="67.30" height="7.60" fill="#b5655f" stroke="#1a1a1a" stroke-width="0.7" />
<line x1="419.80" y1="110.32" x2="421.60" y2="110.32" stroke="#222" stroke-width="0.6" />
<text x="419.00" y="112.52" font-size="6.3" text-anchor="end" stroke="#1a1a1a" stroke-width="0.189">f__Sutterellaceae</text>
<rect x="421.60" y="118.56" width="66.70" height="7.60" fill="#7178a8" stroke="#1a1a1a" stroke-width="0.7" />
<line x1="419.80" y1="122.36" x2="421.60" y2="122.36" stroke="#222" stroke-width="0.6" />
<text x="419.00" y="124.56" font-size="6.3" text-anchor="end" stroke="#1a1a1a" stroke-width="0.189">s__Dorea_unclassified</text>
<line x1="421.60" y1="6.00" x2="421.60" y2="129.20" stroke="#1f1f1f" stroke-width="0.95" />
<line x1="421.20" y1="129.20" x2="506.52" y2="129.20" stroke="#1f1f1f" stroke-width="0.95" />
<line x1="422.00" y1="129.20" x2="422.00" y2="131.00" stroke="#222" stroke-width="0.6" />
<text x="423.50" y="138.00" font-size="5.8" text-anchor="middle" stroke="#1a1a1a" stroke-width="0.174">0.00</text>
<line x1="455.60" y1="129.20" x2="455.60" y2="131.00" stroke="#222" stroke-width="0.6" />
<text x="457.10" y="138.00" font-size="5.8" text-anchor="middle" stroke="#1a1a1a" stroke-width="0.174">0.05</text>
<line x1="489.00" y1="129.20" x2="489.00" y2="131.00" stroke="#222" stroke-width="0.6" />
<text x="490.50" y="138.00" font-size="5.8" text-anchor="middle" stroke="#1a1a1a" stroke-width="0.174">0.10</text>
<text x="460.40" y="5.60" font-size="5.8" text-anchor="middle" font-weight="bold">T1 - M1</text>
<text x="460.00" y="146.40" font-size="6.2" text-anchor="middle" stroke="#1a1a1a" stroke-width="0.186">Mean BPS<tspan font-size="3.4" dy="1.2">AUC</tspan></text>
<rect x="601.20" y="10.20" width="79.60" height="7.60" fill="#b4685e" stroke="#1a1a1a" stroke-width="0.7" />
<line x1="599.40" y1="14.00" x2="601.20" y2="14.00" stroke="#222" stroke-width="0.6" />
<text x="598.60" y="16.20" font-size="6.3" text-anchor="end" stroke="#1a1a1a" stroke-width="0.189">g__Collinsella</text>
<rect x="601.20" y="22.24" width="73.20" height="7.60" fill="#e0a5a2" stroke="#1a1a1a" stroke-width="0.7" />
<line x1="599.40" y1="26.04" x2="601.20" y2="26.04" stroke="#222" stroke-width="0.6" />
<text x="598.60" y="28.24" font-size="6.3" text-anchor="end" stroke="#1a1a1a" stroke-width="0.189">s__Collinsella_aerofaciens</text>
<rect x="601.20" y="34.28" width="66.80" height="7.60" fill="#e3c0c1" stroke="#1a1a1a" stroke-width="0.7" />
<line x1="599.40" y1="38.08" x2="601.20" y2="38.08" stroke="#222" stroke-width="0.6" />
<text x="598.60" y="40.28" font-size="6.3" text-anchor="end" stroke="#1a1a1a" stroke-width="0.189">s__Alistipes_finegoldii</text>
<rect x="601.20" y="46.32" width="65.50" height="7.60" fill="#a98cc0" stroke="#1a1a1a" stroke-width="0.7" />
<line x1="599.40" y1="50.12" x2="601.20" y2="50.12" stroke="#222" stroke-width="0.6" />
<text x="598.60" y="52.32" font-size="6.3" text-anchor="end" stroke="#1a1a1a" stroke-width="0.189">s__Bifidobacterium_bifidum</text>
<rect x="601.20" y="58.36" width="60.40" height="7.60" fill="#8fa9b8" stroke="#1a1a1a" stroke-width="0.7" />
<line x1="599.40" y1="62.16" x2="601.20" y2="62.16" stroke="#222" stroke-width="0.6" />
<text x="598.60" y="64.36" font-size="6.3" text-anchor="end" stroke="#1a1a1a" stroke-width="0.189">s__Parabacteroides_merdae</text>
<rect x="601.20" y="70.40" width="59.30" height="7.60" fill="#8dc3a8" stroke="#1a1a1a" stroke-width="0.7" />
<line x1="599.40" y1="74.20" x2="601.20" y2="74.20" stroke="#222" stroke-width="0.6" />
<text x="598.60" y="76.40" font-size="6.3" text-anchor="end" stroke="#1a1a1a" stroke-width="0.189">p__Verrucomicrobia</text>
<rect x="601.20" y="82.44" width="59.30" height="7.60" fill="#a5d88f" stroke="#1a1a1a" stroke-width="0.7" />
<line x1="599.40" y1="86.24" x2="601.20" y2="86.24" stroke="#222" stroke-width="0.6" />
<text x="598.60" y="88.44" font-size="6.3" text-anchor="end" stroke="#1a1a1a" stroke-width="0.189">s__Akkermansia_muciniphila</text>
<rect x="601.20" y="94.48" width="58.80" height="7.60" fill="#c98668" stroke="#1a1a1a" stroke-width="0.7" />
<line x1="599.40" y1="98.28" x2="601.20" y2="98.28" stroke="#222" stroke-width="0.6" />
<text x="598.60" y="100.48" font-size="6.3" text-anchor="end" stroke="#1a1a1a" stroke-width="0.189">g__Akkermansia</text>
<rect x="601.20" y="106.52" width="58.30" height="7.60" fill="#b5655f" stroke="#1a1a1a" stroke-width="0.7" />
<line x1="599.40" y1="110.32" x2="601.20" y2="110.32" stroke="#222" stroke-width="0.6" />
<text x="598.60" y="112.52" font-size="6.3" text-anchor="end" stroke="#1a1a1a" stroke-width="0.189">s__Eggerthella_unclassified</text>
<rect x="601.20" y="118.56" width="58.20" height="7.60" fill="#7178a8" stroke="#1a1a1a" stroke-width="0.7" />
<line x1="599.40" y1="122.36" x2="601.20" y2="122.36" stroke="#222" stroke-width="0.6" />
<text x="598.60" y="124.56" font-size="6.3" text-anchor="end" stroke="#1a1a1a" stroke-width="0.189">c__Verrucomicrobiae</text>
<line x1="601.20" y1="6.00" x2="601.20" y2="129.20" stroke="#1f1f1f" stroke-width="0.95" />
<line x1="600.80" y1="129.20" x2="684.74" y2="129.20" stroke="#1f1f1f" stroke-width="0.95" />
<line x1="601.60" y1="129.20" x2="601.60" y2="131.00" stroke="#222" stroke-width="0.6" />
<text x="603.10" y="138.00" font-size="5.8" text-anchor="middle" stroke="#1a1a1a" stroke-width="0.174">0.00</text>
<line x1="634.50" y1="129.20" x2="634.50" y2="131.00" stroke="#222" stroke-width="0.6" />
<text x="636.00" y="138.00" font-size="5.8" text-anchor="middle" stroke="#1a1a1a" stroke-width="0.174">0.05</text>
<line x1="667.50" y1="129.20" x2="667.50" y2="131.00" stroke="#222" stroke-width="0.6" />
<text x="669.00" y="138.00" font-size="5.8" text-anchor="middle" stroke="#1a1a1a" stroke-width="0.174">0.10</text>
<text x="636.00" y="5.60" font-size="5.8" text-anchor="middle" font-weight="bold">T3 - M1</text>
<text x="640.00" y="146.40" font-size="6.2" text-anchor="middle" stroke="#1a1a1a" stroke-width="0.186">Mean BPS<tspan font-size="3.4" dy="1.2">AUC</tspan></text>
</g>
<g id="panel_c">
<text x="232.40" y="173.80" font-size="11" fill="#111" font-weight="bold">c</text>
<text x="295.20" y="189.80" font-size="5.6" text-anchor="end" fill="#b5763f" stroke="#b5763f" stroke-width="0.168">g__Lactobacillus</text>
<text x="295.20" y="196.60" font-size="5.6" text-anchor="end" fill="#b5763f" stroke="#b5763f" stroke-width="0.168">s__Lactobacillus_delbrueckii</text>
<text x="295.20" y="225.20" font-size="5.6" text-anchor="end" fill="#4f6fa8" stroke="#4f6fa8" stroke-width="0.168">c__Deltaproteobacteria</text>
<text x="295.20" y="232.20" font-size="5.6" text-anchor="end" fill="#4f6fa8" stroke="#4f6fa8" stroke-width="0.168">o__Desulfovibrionales</text>
<text x="295.20" y="256.80" font-size="5.6" text-anchor="end" fill="#a33b3b" stroke="#a33b3b" stroke-width="0.168">g__Collinsella</text>
<text x="295.20" y="263.80" font-size="5.6" text-anchor="end" fill="#a33b3b" stroke="#a33b3b" stroke-width="0.168">s__Collinsella_aerofaciens</text>
<path d="M322.80,190.40 C348.20,190.40 348.20,213.60 373.60,213.60 L373.60,223.40 C348.20,223.40 348.20,200.00 322.80,200.00 Z" fill="#b2b5af" fill-opacity="0.5"/>
<path d="M322.80,200.40 C348.20,200.40 348.20,242.40 373.60,242.40 L373.60,249.20 C348.20,249.20 348.20,207.00 322.80,207.00 Z" fill="#b2b5af" fill-opacity="0.5"/>
<path d="M322.80,207.40 C348.20,207.40 348.20,266.20 373.60,266.20 L373.60,272.40 C348.20,272.40 348.20,213.20 322.80,213.20 Z" fill="#b2b5af" fill-opacity="0.5"/>
<path d="M322.80,213.60 C348.20,213.60 348.20,190.20 373.60,190.20 L373.60,199.20 C348.20,199.20 348.20,223.20 322.80,223.20 Z" fill="#b2b5af" fill-opacity="0.5"/>
<path d="M322.80,234.00 C348.20,234.00 348.20,249.60 373.60,249.60 L373.60,257.60 C348.20,257.60 348.20,241.80 322.80,241.80 Z" fill="#b2b5af" fill-opacity="0.5"/>
<path d="M322.80,242.20 C348.20,242.20 348.20,272.80 373.60,272.80 L373.60,280.80 C348.20,280.80 348.20,250.20 322.80,250.20 Z" fill="#b2b5af" fill-opacity="0.5"/>
<path d="M322.80,264.80 C348.20,264.80 348.20,233.80 373.60,233.80 L373.60,242.20 C348.20,242.20 348.20,273.20 322.80,273.20 Z" fill="#b2b5af" fill-opacity="0.5"/>
<path d="M322.80,273.60 C348.20,273.60 348.20,258.00 373.60,258.00 L373.60,266.00 C348.20,266.00 348.20,281.60 322.80,281.60 Z" fill="#b2b5af" fill-opacity="0.5"/>
<path d="M322.80,282.00 C348.20,282.00 348.20,281.20 373.60,281.20 L373.60,287.40 C348.20,287.40 348.20,287.40 322.80,287.40 Z" fill="#b2b5af" fill-opacity="0.5"/>
<path d="M322.80,174.00 C348.20,174.00 348.20,174.00 373.60,174.00 L373.60,190.00 C348.20,190.00 348.20,190.00 322.80,190.00 Z" fill="#eeb184" fill-opacity="0.85"/>
<path d="M322.80,223.60 C348.20,223.60 348.20,223.60 373.60,223.60 L373.60,233.60 C348.20,233.60 348.20,233.60 322.80,233.60 Z" fill="#86a9cf" fill-opacity="0.85"/>
<path d="M322.80,250.40 C348.20,250.40 348.20,199.40 373.60,199.40 L373.60,213.60 C348.20,213.60 348.20,264.40 322.80,264.40 Z" fill="#d5756c" fill-opacity="0.8"/>
<rect x="296.60" y="174.00" width="26.20" height="39.40" fill="#e9a16f" stroke="#2a2a2a" stroke-width="0.6" />
<text x="309.70" y="194.70" font-size="5.6" text-anchor="middle" stroke="#1a1a1a" stroke-width="0.168">T1</text>
<rect x="296.60" y="213.40" width="26.20" height="37.00" fill="#6c94bd" stroke="#2a2a2a" stroke-width="0.6" />
<text x="309.70" y="232.90" font-size="5.6" text-anchor="middle" stroke="#1a1a1a" stroke-width="0.168">T2</text>
<rect x="296.60" y="250.40" width="26.20" height="37.00" fill="#c96863" stroke="#2a2a2a" stroke-width="0.6" />
<text x="309.70" y="269.90" font-size="5.6" text-anchor="middle" stroke="#1a1a1a" stroke-width="0.168">T3</text>
<rect x="373.60" y="174.00" width="25.80" height="39.60" fill="#d086c4" stroke="#2a2a2a" stroke-width="0.6" />
<text x="386.50" y="194.80" font-size="5.6" text-anchor="middle" stroke="#1a1a1a" stroke-width="0.168">M1</text>
<rect x="373.60" y="213.60" width="25.80" height="28.80" fill="#e6d35a" stroke="#2a2a2a" stroke-width="0.6" />
<text x="386.50" y="229.00" font-size="5.6" text-anchor="middle" stroke="#1a1a1a" stroke-width="0.168">M2</text>
<rect x="373.60" y="242.40" width="25.80" height="23.80" fill="#6cc15a" stroke="#2a2a2a" stroke-width="0.6" />
<text x="386.50" y="255.30" font-size="5.6" text-anchor="middle" stroke="#1a1a1a" stroke-width="0.168">M3</text>
<rect x="373.60" y="266.20" width="25.80" height="21.20" fill="#5fcdc6" stroke="#2a2a2a" stroke-width="0.6" />
<text x="386.50" y="277.80" font-size="5.6" text-anchor="middle" stroke="#1a1a1a" stroke-width="0.168">M4</text>
</g>
<g id="panel_e">
<text x="419.40" y="186.60" font-size="11" fill="#111" font-weight="bold">e</text>
<rect x="438.60" y="209.40" width="7.91" height="10.33" fill="#b27132" stroke="#9a9a9a" stroke-width="0.4" />
<rect x="438.60" y="219.73" width="7.91" height="10.33" fill="#cea05c" stroke="#9a9a9a" stroke-width="0.4" />
<rect x="438.60" y="230.06" width="7.91" height="10.33" fill="#894323" stroke="#9a9a9a" stroke-width="0.4" />
<text x="444.85" y="242.99" font-size="6.4" text-anchor="end" stroke="#1a1a1a" stroke-width="0.192" transform="rotate(-90.00 444.85 242.99)">Blood</text>
<rect x="446.50" y="209.40" width="7.91" height="10.33" fill="#73301f" stroke="#9a9a9a" stroke-width="0.4" />
<rect x="446.50" y="219.73" width="7.91" height="10.33" fill="#f3e8cf" stroke="#9a9a9a" stroke-width="0.4" />
<rect x="446.50" y="230.06" width="7.91" height="10.33" fill="#d4ab68" stroke="#9a9a9a" stroke-width="0.4" />
<text x="452.76" y="242.99" font-size="6.4" text-anchor="end" stroke="#1a1a1a" stroke-width="0.192" transform="rotate(-90.00 452.76 242.99)">Liver</text>
<rect x="454.41" y="209.40" width="7.91" height="10.33" fill="#bd8038" stroke="#9a9a9a" stroke-width="0.4" />
<rect x="454.41" y="219.73" width="7.91" height="10.33" fill="#bd8038" stroke="#9a9a9a" stroke-width="0.4" />
<rect x="454.41" y="230.06" width="7.91" height="10.33" fill="#d4ab68" stroke="#9a9a9a" stroke-width="0.4" />
<text x="460.66" y="242.99" font-size="6.4" text-anchor="end" stroke="#1a1a1a" stroke-width="0.192" transform="rotate(-90.00 460.66 242.99)">Heart</text>
<rect x="462.31" y="209.40" width="7.91" height="10.33" fill="#c89650" stroke="#9a9a9a" stroke-width="0.4" />
<rect x="462.31" y="219.73" width="7.91" height="10.33" fill="#bd8038" stroke="#9a9a9a" stroke-width="0.4" />
<rect x="462.31" y="230.06" width="7.91" height="10.33" fill="#cea05c" stroke="#9a9a9a" stroke-width="0.4" />
<text x="468.57" y="242.99" font-size="6.4" text-anchor="end" stroke="#1a1a1a" stroke-width="0.192" transform="rotate(-90.00 468.57 242.99)">Lung</text>
<rect x="470.22" y="209.40" width="7.91" height="10.33" fill="#c38b44" stroke="#9a9a9a" stroke-width="0.4" />
<rect x="470.22" y="219.73" width="7.91" height="10.33" fill="#b27132" stroke="#9a9a9a" stroke-width="0.4" />
<rect x="470.22" y="230.06" width="7.91" height="10.33" fill="#cea05c" stroke="#9a9a9a" stroke-width="0.4" />
<text x="476.47" y="242.99" font-size="6.4" text-anchor="end" stroke="#1a1a1a" stroke-width="0.192" transform="rotate(-90.00 476.47 242.99)">Eye</text>
<rect x="478.12" y="209.40" width="7.91" height="10.33" fill="#ddbd83" stroke="#9a9a9a" stroke-width="0.4" />
<rect x="478.12" y="219.73" width="7.91" height="10.33" fill="#cea05c" stroke="#9a9a9a" stroke-width="0.4" />
<rect x="478.12" y="230.06" width="7.91" height="10.33" fill="#d4ab68" stroke="#9a9a9a" stroke-width="0.4" />
<text x="484.38" y="242.99" font-size="6.4" text-anchor="end" stroke="#1a1a1a" stroke-width="0.192" transform="rotate(-90.00 484.38 242.99)">Muscle</text>
<rect x="486.03" y="209.40" width="7.91" height="10.33" fill="#d8b476" stroke="#9a9a9a" stroke-width="0.4" />
<rect x="486.03" y="219.73" width="7.91" height="10.33" fill="#cea05c" stroke="#9a9a9a" stroke-width="0.4" />
<rect x="486.03" y="230.06" width="7.91" height="10.33" fill="#d4ab68" stroke="#9a9a9a" stroke-width="0.4" />
<text x="492.28" y="242.99" font-size="6.4" text-anchor="end" stroke="#1a1a1a" stroke-width="0.192" transform="rotate(-90.00 492.28 242.99)">Salivary Gland</text>
<rect x="493.94" y="209.40" width="7.91" height="10.33" fill="#ddbd83" stroke="#9a9a9a" stroke-width="0.4" />
<rect x="493.94" y="219.73" width="7.91" height="10.33" fill="#c89650" stroke="#9a9a9a" stroke-width="0.4" />
<rect x="493.94" y="230.06" width="7.91" height="10.33" fill="#d4ab68" stroke="#9a9a9a" stroke-width="0.4" />
<text x="500.19" y="242.99" font-size="6.4" text-anchor="end" stroke="#1a1a1a" stroke-width="0.192" transform="rotate(-90.00 500.19 242.99)">Tongue</text>
<rect x="501.84" y="209.40" width="7.91" height="10.33" fill="#c38b44" stroke="#9a9a9a" stroke-width="0.4" />
<rect x="501.84" y="219.73" width="7.91" height="10.33" fill="#d8b476" stroke="#9a9a9a" stroke-width="0.4" />
<rect x="501.84" y="230.06" width="7.91" height="10.33" fill="#c89650" stroke="#9a9a9a" stroke-width="0.4" />
<text x="508.09" y="242.99" font-size="6.4" text-anchor="end" stroke="#1a1a1a" stroke-width="0.192" transform="rotate(-90.00 508.09 242.99)">Pancreas</text>
<rect x="509.75" y="209.40" width="7.91" height="10.33" fill="#b27132" stroke="#9a9a9a" stroke-width="0.4" />
<rect x="509.75" y="219.73" width="7.91" height="10.33" fill="#d8b476" stroke="#9a9a9a" stroke-width="0.4" />
<rect x="509.75" y="230.06" width="7.91" height="10.33" fill="#cea05c" stroke="#9a9a9a" stroke-width="0.4" />
<text x="516.00" y="242.99" font-size="6.4" text-anchor="end" stroke="#1a1a1a" stroke-width="0.192" transform="rotate(-90.00 516.00 242.99)">Kidney</text>
<rect x="517.65" y="209.40" width="7.91" height="10.33" fill="#e6cf9e" stroke="#9a9a9a" stroke-width="0.4" />
<rect x="517.65" y="219.73" width="7.91" height="10.33" fill="#e6cf9e" stroke="#9a9a9a" stroke-width="0.4" />
<rect x="517.65" y="230.06" width="7.91" height="10.33" fill="#f6eeda" stroke="#9a9a9a" stroke-width="0.4" />
<text x="523.90" y="242.99" font-size="6.4" text-anchor="end" stroke="#1a1a1a" stroke-width="0.192" transform="rotate(-90.00 523.90 242.99)">Lymph Node</text>
<rect x="525.56" y="209.40" width="7.91" height="10.33" fill="#e6cf9e" stroke="#9a9a9a" stroke-width="0.4" />
<rect x="525.56" y="219.73" width="7.91" height="10.33" fill="#ead6ac" stroke="#9a9a9a" stroke-width="0.4" />
<rect x="525.56" y="230.06" width="7.91" height="10.33" fill="#eedebb" stroke="#9a9a9a" stroke-width="0.4" />
<text x="531.81" y="242.99" font-size="6.4" text-anchor="end" stroke="#1a1a1a" stroke-width="0.192" transform="rotate(-90.00 531.81 242.99)">Small Intestine</text>
<rect x="533.46" y="209.40" width="7.91" height="10.33" fill="#e6cf9e" stroke="#9a9a9a" stroke-width="0.4" />
<rect x="533.46" y="219.73" width="7.91" height="10.33" fill="#e2c690" stroke="#9a9a9a" stroke-width="0.4" />
<rect x="533.46" y="230.06" width="7.91" height="10.33" fill="#ead6ac" stroke="#9a9a9a" stroke-width="0.4" />
<text x="539.71" y="242.99" font-size="6.4" text-anchor="end" stroke="#1a1a1a" stroke-width="0.192" transform="rotate(-90.00 539.71 242.99)">Thymus</text>
<rect x="541.37" y="209.40" width="7.91" height="10.33" fill="#e6cf9e" stroke="#9a9a9a" stroke-width="0.4" />
<rect x="541.37" y="219.73" width="7.91" height="10.33" fill="#e6cf9e" stroke="#9a9a9a" stroke-width="0.4" />
<rect x="541.37" y="230.06" width="7.91" height="10.33" fill="#e6cf9e" stroke="#9a9a9a" stroke-width="0.4" />
<text x="547.62" y="242.99" font-size="6.4" text-anchor="end" stroke="#1a1a1a" stroke-width="0.192" transform="rotate(-90.00 547.62 242.99)">Bladder</text>
<rect x="549.27" y="209.40" width="7.91" height="10.33" fill="#e6cf9e" stroke="#9a9a9a" stroke-width="0.4" />
<rect x="549.27" y="219.73" width="7.91" height="10.33" fill="#e2c690" stroke="#9a9a9a" stroke-width="0.4" />
<rect x="549.27" y="230.06" width="7.91" height="10.33" fill="#e2c690" stroke="#9a9a9a" stroke-width="0.4" />
<text x="555.52" y="242.99" font-size="6.4" text-anchor="end" stroke="#1a1a1a" stroke-width="0.192" transform="rotate(-90.00 555.52 242.99)">Prostate</text>
<rect x="557.18" y="209.40" width="7.91" height="10.33" fill="#e6cf9e" stroke="#9a9a9a" stroke-width="0.4" />
<rect x="557.18" y="219.73" width="7.91" height="10.33" fill="#e2c690" stroke="#9a9a9a" stroke-width="0.4" />
<rect x="557.18" y="230.06" width="7.91" height="10.33" fill="#e2c690" stroke="#9a9a9a" stroke-width="0.4" />
<text x="563.43" y="242.99" font-size="6.4" text-anchor="end" stroke="#1a1a1a" stroke-width="0.192" transform="rotate(-90.00 563.43 242.99)">Uterus</text>
<rect x="565.08" y="209.40" width="7.91" height="10.33" fill="#e2c690" stroke="#9a9a9a" stroke-width="0.4" />
<rect x="565.08" y="219.73" width="7.91" height="10.33" fill="#e2c690" stroke="#9a9a9a" stroke-width="0.4" />
<rect x="565.08" y="230.06" width="7.91" height="10.33" fill="#ddbd83" stroke="#9a9a9a" stroke-width="0.4" />
<text x="571.33" y="242.99" font-size="6.4" text-anchor="end" stroke="#1a1a1a" stroke-width="0.192" transform="rotate(-90.00 571.33 242.99)">Large Intestine</text>
<rect x="572.99" y="209.40" width="7.91" height="10.33" fill="#eedebb" stroke="#9a9a9a" stroke-width="0.4" />
<rect x="572.99" y="219.73" width="7.91" height="10.33" fill="#e6cf9e" stroke="#9a9a9a" stroke-width="0.4" />
<rect x="572.99" y="230.06" width="7.91" height="10.33" fill="#ead6ac" stroke="#9a9a9a" stroke-width="0.4" />
<text x="579.24" y="242.99" font-size="6.4" text-anchor="end" stroke="#1a1a1a" stroke-width="0.192" transform="rotate(-90.00 579.24 242.99)">Vasculature</text>
<rect x="580.89" y="209.40" width="7.91" height="10.33" fill="#ead6ac" stroke="#9a9a9a" stroke-width="0.4" />
<rect x="580.89" y="219.73" width="7.91" height="10.33" fill="#ead6ac" stroke="#9a9a9a" stroke-width="0.4" />
<rect x="580.89" y="230.06" width="7.91" height="10.33" fill="#eedebb" stroke="#9a9a9a" stroke-width="0.4" />
<text x="587.14" y="242.99" font-size="6.4" text-anchor="end" stroke="#1a1a1a" stroke-width="0.192" transform="rotate(-90.00 587.14 242.99)">Trachea</text>
<rect x="588.80" y="209.40" width="7.91" height="10.33" fill="#ead6ac" stroke="#9a9a9a" stroke-width="0.4" />
<rect x="588.80" y="219.73" width="7.91" height="10.33" fill="#eedebb" stroke="#9a9a9a" stroke-width="0.4" />
<rect x="588.80" y="230.06" width="7.91" height="10.33" fill="#f2e6c9" stroke="#9a9a9a" stroke-width="0.4" />
<text x="595.05" y="242.99" font-size="6.4" text-anchor="end" stroke="#1a1a1a" stroke-width="0.192" transform="rotate(-90.00 595.05 242.99)">Spleen</text>
<rect x="596.70" y="209.40" width="7.91" height="10.33" fill="#f2e6c9" stroke="#9a9a9a" stroke-width="0.4" />
<rect x="596.70" y="219.73" width="7.91" height="10.33" fill="#eedebb" stroke="#9a9a9a" stroke-width="0.4" />
<rect x="596.70" y="230.06" width="7.91" height="10.33" fill="#f6eeda" stroke="#9a9a9a" stroke-width="0.4" />
<text x="602.95" y="242.99" font-size="6.4" text-anchor="end" stroke="#1a1a1a" stroke-width="0.192" transform="rotate(-90.00 602.95 242.99)">Bone Marrow</text>
<rect x="604.61" y="209.40" width="7.91" height="10.33" fill="#f6eeda" stroke="#9a9a9a" stroke-width="0.4" />
<rect x="604.61" y="219.73" width="7.91" height="10.33" fill="#eedebb" stroke="#9a9a9a" stroke-width="0.4" />
<rect x="604.61" y="230.06" width="7.91" height="10.33" fill="#f6eeda" stroke="#9a9a9a" stroke-width="0.4" />
<text x="610.86" y="242.99" font-size="6.4" text-anchor="end" stroke="#1a1a1a" stroke-width="0.192" transform="rotate(-90.00 610.86 242.99)">Skin</text>
<rect x="612.51" y="209.40" width="7.91" height="10.33" fill="#f2e6c9" stroke="#9a9a9a" stroke-width="0.4" />
<rect x="612.51" y="219.73" width="7.91" height="10.33" fill="#e6cf9e" stroke="#9a9a9a" stroke-width="0.4" />
<rect x="612.51" y="230.06" width="7.91" height="10.33" fill="#eedebb" stroke="#9a9a9a" stroke-width="0.4" />
<text x="618.76" y="242.99" font-size="6.4" text-anchor="end" stroke="#1a1a1a" stroke-width="0.192" transform="rotate(-90.00 618.76 242.99)">Fat</text>
<rect x="620.41" y="209.40" width="7.91" height="10.33" fill="#ffffff" stroke="#9a9a9a" stroke-width="0.4" />
<rect x="620.41" y="219.73" width="7.91" height="10.33" fill="#ffffff" stroke="#9a9a9a" stroke-width="0.4" />
<rect x="620.41" y="230.06" width="7.91" height="10.33" fill="#ffffff" stroke="#9a9a9a" stroke-width="0.4" />
<text x="626.67" y="242.99" font-size="6.4" text-anchor="end" stroke="#1a1a1a" stroke-width="0.192" transform="rotate(-90.00 626.67 242.99)">Mammary</text>
<text x="437.40" y="216.97" font-size="6.8" text-anchor="end" stroke="#1a1a1a" stroke-width="0.204">T1</text>
<text x="437.40" y="227.30" font-size="6.8" text-anchor="end" stroke="#1a1a1a" stroke-width="0.204">T2</text>
<text x="437.40" y="237.62" font-size="6.8" text-anchor="end" stroke="#1a1a1a" stroke-width="0.204">T3</text>
<polyline points="442.55,209.40 442.55,201.40 450.46,201.40 450.46,209.40" fill="none" stroke="#555" stroke-width="0.5"/>
<polyline points="446.60,201.40 446.60,199.40 544.00,199.40 544.00,203.70" fill="none" stroke="#555" stroke-width="0.5"/>
<polyline points="495.40,206.00 495.40,203.70 592.40,203.70 592.40,206.20" fill="none" stroke="#555" stroke-width="0.5"/>
<polyline points="468.00,207.60 468.00,206.00 512.00,206.00 512.00,207.80" fill="none" stroke="#555" stroke-width="0.5"/>
<polyline points="455.00,209.40 455.00,207.60 481.00,207.60 481.00,209.40" fill="none" stroke="#555" stroke-width="0.5"/>
<polyline points="500.00,209.40 500.00,207.80 524.00,207.80 524.00,209.40" fill="none" stroke="#555" stroke-width="0.5"/>
<polyline points="567.00,207.80 567.00,206.20 617.00,206.20 617.00,207.80" fill="none" stroke="#555" stroke-width="0.5"/>
<polyline points="529.00,209.40 529.00,207.80 604.00,207.80 604.00,209.40" fill="none" stroke="#555" stroke-width="0.5"/>
<polyline points="607.00,209.40 607.00,207.80 625.00,207.80 625.00,209.40" fill="none" stroke="#555" stroke-width="0.5"/>
<line x1="458.36" y1="209.40" x2="458.36" y2="208.50" stroke="#555" stroke-width="0.4" />
<line x1="466.27" y1="209.40" x2="466.27" y2="208.50" stroke="#555" stroke-width="0.4" />
<line x1="474.17" y1="209.40" x2="474.17" y2="208.50" stroke="#555" stroke-width="0.4" />
<line x1="482.08" y1="209.40" x2="482.08" y2="208.50" stroke="#555" stroke-width="0.4" />
<line x1="489.98" y1="209.40" x2="489.98" y2="208.50" stroke="#555" stroke-width="0.4" />
<line x1="497.89" y1="209.40" x2="497.89" y2="208.50" stroke="#555" stroke-width="0.4" />
<line x1="505.79" y1="209.40" x2="505.79" y2="208.50" stroke="#555" stroke-width="0.4" />
<line x1="513.70" y1="209.40" x2="513.70" y2="208.50" stroke="#555" stroke-width="0.4" />
<line x1="521.60" y1="209.40" x2="521.60" y2="208.50" stroke="#555" stroke-width="0.4" />
<line x1="529.51" y1="209.40" x2="529.51" y2="208.50" stroke="#555" stroke-width="0.4" />
<line x1="537.41" y1="209.40" x2="537.41" y2="208.50" stroke="#555" stroke-width="0.4" />
<line x1="545.32" y1="209.40" x2="545.32" y2="208.50" stroke="#555" stroke-width="0.4" />
<line x1="553.22" y1="209.40" x2="553.22" y2="208.50" stroke="#555" stroke-width="0.4" />
<line x1="561.13" y1="209.40" x2="561.13" y2="208.50" stroke="#555" stroke-width="0.4" />
<line x1="569.03" y1="209.40" x2="569.03" y2="208.50" stroke="#555" stroke-width="0.4" />
<line x1="576.94" y1="209.40" x2="576.94" y2="208.50" stroke="#555" stroke-width="0.4" />
<line x1="584.84" y1="209.40" x2="584.84" y2="208.50" stroke="#555" stroke-width="0.4" />
<line x1="592.75" y1="209.40" x2="592.75" y2="208.50" stroke="#555" stroke-width="0.4" />
<line x1="600.65" y1="209.40" x2="600.65" y2="208.50" stroke="#555" stroke-width="0.4" />
<line x1="608.56" y1="209.40" x2="608.56" y2="208.50" stroke="#555" stroke-width="0.4" />
<line x1="616.46" y1="209.40" x2="616.46" y2="208.50" stroke="#555" stroke-width="0.4" />
<polyline points="628.32,224.90 634.72,224.90 634.72,235.22 628.32,235.22" fill="none" stroke="#555" stroke-width="0.5"/>
<polyline points="628.32,214.56 637.92,214.56 637.92,230.06 634.72,230.06" fill="none" stroke="#555" stroke-width="0.5"/>
<text x="646.40" y="206.60" font-size="5.2" stroke="#1a1a1a" stroke-width="0.156">Mean BPS<tspan font-size="2.8" dy="1.2">AUC</tspan></text>
<defs><linearGradient id="gbr" x1="0" y1="0" x2="0" y2="1"><stop offset="0.000" stop-color="#73301f"/><stop offset="0.150" stop-color="#9c5426"/><stop offset="0.300" stop-color="#bd8038"/><stop offset="0.500" stop-color="#d4ab68"/><stop offset="0.700" stop-color="#e6cf9e"/><stop offset="0.880" stop-color="#f4ead2"/><stop offset="1.000" stop-color="#ffffff"/></linearGradient></defs>
<rect x="646.60" y="210.20" width="4.00" height="34.40" fill="url(#gbr)" />
<text x="653.40" y="215.90" font-size="5.8" stroke="#1a1a1a" stroke-width="0.174">0.15</text>
<text x="653.40" y="227.10" font-size="5.8" stroke="#1a1a1a" stroke-width="0.174">0.1</text>
<text x="653.40" y="237.80" font-size="5.8" stroke="#1a1a1a" stroke-width="0.174">0.05</text>
</g>
<g id="panel_f">
<text x="205.60" y="296.00" font-size="11" fill="#111" font-weight="bold">f</text>
<g>
<rect x="228.40" y="305.50" width="140.00" height="8.30" fill="#fff" stroke="#222" stroke-width="0.9" />
<text x="298.40" y="312.00" font-size="6.6" text-anchor="middle" stroke="#1a1a1a" stroke-width="0.198">T1</text>
<line x1="228.40" y1="313.80" x2="228.40" y2="376.50" stroke="#1f1f1f" stroke-width="0.9" />
<line x1="227.95" y1="376.30" x2="368.40" y2="376.30" stroke="#1f1f1f" stroke-width="0.9" />
<line x1="226.60" y1="374.30" x2="228.40" y2="374.30" stroke="#222" stroke-width="0.6" />
<text x="225.80" y="376.50" font-size="6.2" text-anchor="end" stroke="#1a1a1a" stroke-width="0.186">0.0</text>
<line x1="226.60" y1="361.75" x2="228.40" y2="361.75" stroke="#222" stroke-width="0.6" />
<text x="225.80" y="363.95" font-size="6.2" text-anchor="end" stroke="#1a1a1a" stroke-width="0.186">0.1</text>
<line x1="226.60" y1="349.20" x2="228.40" y2="349.20" stroke="#222" stroke-width="0.6" />
<text x="225.80" y="351.40" font-size="6.2" text-anchor="end" stroke="#1a1a1a" stroke-width="0.186">0.2</text>
<line x1="226.60" y1="336.65" x2="228.40" y2="336.65" stroke="#222" stroke-width="0.6" />
<text x="225.80" y="338.85" font-size="6.2" text-anchor="end" stroke="#1a1a1a" stroke-width="0.186">0.3</text>
<line x1="226.60" y1="324.10" x2="228.40" y2="324.10" stroke="#222" stroke-width="0.6" />
<text x="225.80" y="326.30" font-size="6.2" text-anchor="end" stroke="#1a1a1a" stroke-width="0.186">0.4</text>
<line x1="231.87" y1="364.89" x2="231.87" y2="357.99" stroke="#d5635b" stroke-width="0.5" />
<line x1="231.87" y1="346.69" x2="231.87" y2="331.63" stroke="#d5635b" stroke-width="0.5" />
<rect x="229.67" y="346.69" width="4.40" height="11.30" fill="#fff" stroke="#d5635b" stroke-width="0.65" />
<line x1="229.67" y1="351.71" x2="234.07" y2="351.71" stroke="#d5635b" stroke-width="0.8" />
<line x1="231.87" y1="376.00" x2="231.87" y2="377.60" stroke="#222" stroke-width="0.5" />
<text x="233.77" y="379.00" font-size="5.3" text-anchor="end" stroke="#1a1a1a" stroke-width="0.159" transform="rotate(-90.00 233.77 379.00)">Liver</text>
<line x1="237.66" y1="370.54" x2="237.66" y2="366.77" stroke="#cc6d30" stroke-width="0.5" />
<line x1="237.66" y1="359.87" x2="237.66" y2="354.22" stroke="#cc6d30" stroke-width="0.5" />
<rect x="235.46" y="359.87" width="4.40" height="6.90" fill="#fff" stroke="#cc6d30" stroke-width="0.65" />
<line x1="235.46" y1="364.26" x2="239.85" y2="364.26" stroke="#cc6d30" stroke-width="0.8" />
<circle cx="237.66" cy="349.20" r="0.90" fill="#cc6d30" />
<circle cx="237.66" cy="346.69" r="0.90" fill="#cc6d30" />
<circle cx="237.66" cy="344.18" r="0.90" fill="#cc6d30" />
<circle cx="237.66" cy="337.91" r="0.90" fill="#cc6d30" />
<line x1="237.66" y1="376.00" x2="237.66" y2="377.60" stroke="#222" stroke-width="0.5" />
<text x="239.56" y="379.00" font-size="5.3" text-anchor="end" stroke="#1a1a1a" stroke-width="0.159" transform="rotate(-90.00 239.56 379.00)">Blood</text>
<line x1="243.44" y1="369.28" x2="243.44" y2="367.40" stroke="#bf7600" stroke-width="0.5" />
<line x1="243.44" y1="365.51" x2="243.44" y2="363.00" stroke="#bf7600" stroke-width="0.5" />
<rect x="241.24" y="365.51" width="4.40" height="1.88" fill="#fff" stroke="#bf7600" stroke-width="0.65" />
<line x1="241.24" y1="366.77" x2="245.64" y2="366.77" stroke="#bf7600" stroke-width="0.8" />
<circle cx="243.44" cy="360.50" r="0.90" fill="#bf7600" />
<circle cx="243.44" cy="357.99" r="0.90" fill="#bf7600" />
<line x1="243.44" y1="376.00" x2="243.44" y2="377.60" stroke="#222" stroke-width="0.5" />
<text x="245.34" y="379.00" font-size="5.3" text-anchor="end" stroke="#1a1a1a" stroke-width="0.159" transform="rotate(-90.00 245.34 379.00)">Lung</text>
<line x1="249.23" y1="370.54" x2="249.23" y2="367.40" stroke="#af7f00" stroke-width="0.5" />
<line x1="249.23" y1="363.63" x2="249.23" y2="359.24" stroke="#af7f00" stroke-width="0.5" />
<rect x="247.03" y="363.63" width="4.40" height="3.77" fill="#fff" stroke="#af7f00" stroke-width="0.65" />
<line x1="247.03" y1="365.51" x2="251.42" y2="365.51" stroke="#af7f00" stroke-width="0.8" />
<circle cx="249.23" cy="357.99" r="0.90" fill="#af7f00" />
<circle cx="249.23" cy="355.48" r="0.90" fill="#af7f00" />
<line x1="249.23" y1="376.00" x2="249.23" y2="377.60" stroke="#222" stroke-width="0.5" />
<text x="251.13" y="379.00" font-size="5.3" text-anchor="end" stroke="#1a1a1a" stroke-width="0.159" transform="rotate(-90.00 251.13 379.00)">Eye</text>
<line x1="255.01" y1="371.79" x2="255.01" y2="368.03" stroke="#9d8700" stroke-width="0.5" />
<line x1="255.01" y1="363.00" x2="255.01" y2="356.73" stroke="#9d8700" stroke-width="0.5" />
<rect x="252.81" y="363.00" width="4.40" height="5.02" fill="#fff" stroke="#9d8700" stroke-width="0.65" />
<line x1="252.81" y1="365.51" x2="257.21" y2="365.51" stroke="#9d8700" stroke-width="0.8" />
<circle cx="255.01" cy="352.97" r="0.90" fill="#9d8700" />
<line x1="255.01" y1="376.00" x2="255.01" y2="377.60" stroke="#222" stroke-width="0.5" />
<text x="256.91" y="379.00" font-size="5.3" text-anchor="end" stroke="#1a1a1a" stroke-width="0.159" transform="rotate(-90.00 256.91 379.00)">Heart</text>
<line x1="260.80" y1="373.05" x2="260.80" y2="368.03" stroke="#868e00" stroke-width="0.5" />
<line x1="260.80" y1="358.61" x2="260.80" y2="344.18" stroke="#868e00" stroke-width="0.5" />
<rect x="258.60" y="358.61" width="4.40" height="9.41" fill="#fff" stroke="#868e00" stroke-width="0.65" />
<line x1="258.60" y1="365.51" x2="263.00" y2="365.51" stroke="#868e00" stroke-width="0.8" />
<circle cx="260.80" cy="340.42" r="0.90" fill="#868e00" />
<line x1="260.80" y1="376.00" x2="260.80" y2="377.60" stroke="#222" stroke-width="0.5" />
<text x="262.70" y="379.00" font-size="5.3" text-anchor="end" stroke="#1a1a1a" stroke-width="0.159" transform="rotate(-90.00 262.70 379.00)">Kidney</text>
<line x1="266.58" y1="371.79" x2="266.58" y2="369.91" stroke="#689500" stroke-width="0.5" />
<line x1="266.58" y1="367.40" x2="266.58" y2="364.26" stroke="#689500" stroke-width="0.5" />
<rect x="264.38" y="367.40" width="4.40" height="2.51" fill="#fff" stroke="#689500" stroke-width="0.65" />
<line x1="264.38" y1="369.28" x2="268.78" y2="369.28" stroke="#689500" stroke-width="0.8" />
<circle cx="266.58" cy="361.75" r="0.90" fill="#689500" />
<circle cx="266.58" cy="359.24" r="0.90" fill="#689500" />
<circle cx="266.58" cy="355.48" r="0.90" fill="#689500" />
<circle cx="266.58" cy="352.97" r="0.90" fill="#689500" />
<line x1="266.58" y1="376.00" x2="266.58" y2="377.60" stroke="#222" stroke-width="0.5" />
<text x="268.48" y="379.00" font-size="5.3" text-anchor="end" stroke="#1a1a1a" stroke-width="0.159" transform="rotate(-90.00 268.48 379.00)">Salivary_Gland</text>
<line x1="272.37" y1="371.79" x2="272.37" y2="369.28" stroke="#3b9a00" stroke-width="0.5" />
<line x1="272.37" y1="363.63" x2="272.37" y2="355.48" stroke="#3b9a00" stroke-width="0.5" />
<rect x="270.17" y="363.63" width="4.40" height="5.65" fill="#fff" stroke="#3b9a00" stroke-width="0.65" />
<line x1="270.17" y1="368.03" x2="274.57" y2="368.03" stroke="#3b9a00" stroke-width="0.8" />
<circle cx="272.37" cy="354.22" r="0.90" fill="#3b9a00" />
<circle cx="272.37" cy="352.97" r="0.90" fill="#3b9a00" />
<circle cx="272.37" cy="351.71" r="0.90" fill="#3b9a00" />
<circle cx="272.37" cy="350.46" r="0.90" fill="#3b9a00" />
<circle cx="272.37" cy="349.20" r="0.90" fill="#3b9a00" />
<circle cx="272.37" cy="347.94" r="0.90" fill="#3b9a00" />
<circle cx="272.37" cy="346.69" r="0.90" fill="#3b9a00" />
<line x1="272.37" y1="376.00" x2="272.37" y2="377.60" stroke="#222" stroke-width="0.5" />
<text x="274.27" y="379.00" font-size="5.3" text-anchor="end" stroke="#1a1a1a" stroke-width="0.159" transform="rotate(-90.00 274.27 379.00)">Pancreas</text>
<line x1="278.15" y1="370.54" x2="278.15" y2="369.91" stroke="#009f2b" stroke-width="0.5" />
<line x1="278.15" y1="368.65" x2="278.15" y2="367.40" stroke="#009f2b" stroke-width="0.5" />
<rect x="275.95" y="368.65" width="4.40" height="1.25" fill="#fff" stroke="#009f2b" stroke-width="0.65" />
<line x1="275.95" y1="369.28" x2="280.35" y2="369.28" stroke="#009f2b" stroke-width="0.8" />
<circle cx="278.15" cy="366.14" r="0.90" fill="#009f2b" />
<circle cx="278.15" cy="364.89" r="0.90" fill="#009f2b" />
<line x1="278.15" y1="376.00" x2="278.15" y2="377.60" stroke="#222" stroke-width="0.5" />
<text x="280.05" y="379.00" font-size="5.3" text-anchor="end" stroke="#1a1a1a" stroke-width="0.159" transform="rotate(-90.00 280.05 379.00)">Thymus</text>
<line x1="283.94" y1="371.79" x2="283.94" y2="369.91" stroke="#00a256" stroke-width="0.5" />
<line x1="283.94" y1="366.77" x2="283.94" y2="361.75" stroke="#00a256" stroke-width="0.5" />
<rect x="281.74" y="366.77" width="4.40" height="3.14" fill="#fff" stroke="#00a256" stroke-width="0.65" />
<line x1="281.74" y1="368.65" x2="286.14" y2="368.65" stroke="#00a256" stroke-width="0.8" />
<circle cx="283.94" cy="359.24" r="0.90" fill="#00a256" />
<circle cx="283.94" cy="357.99" r="0.90" fill="#00a256" />
<circle cx="283.94" cy="356.73" r="0.90" fill="#00a256" />
<circle cx="283.94" cy="352.97" r="0.90" fill="#00a256" />
<circle cx="283.94" cy="351.71" r="0.90" fill="#00a256" />
<line x1="283.94" y1="376.00" x2="283.94" y2="377.60" stroke="#222" stroke-width="0.5" />
<text x="285.84" y="379.00" font-size="5.3" text-anchor="end" stroke="#1a1a1a" stroke-width="0.159" transform="rotate(-90.00 285.84 379.00)">Tongue</text>
<line x1="289.72" y1="372.42" x2="289.72" y2="371.16" stroke="#00a475" stroke-width="0.5" />
<line x1="289.72" y1="368.65" x2="289.72" y2="365.51" stroke="#00a475" stroke-width="0.5" />
<rect x="287.52" y="368.65" width="4.40" height="2.51" fill="#fff" stroke="#00a475" stroke-width="0.65" />
<line x1="287.52" y1="370.54" x2="291.92" y2="370.54" stroke="#00a475" stroke-width="0.8" />
<circle cx="289.72" cy="363.00" r="0.90" fill="#00a475" />
<circle cx="289.72" cy="361.12" r="0.90" fill="#00a475" />
<line x1="289.72" y1="376.00" x2="289.72" y2="377.60" stroke="#222" stroke-width="0.5" />
<text x="291.62" y="379.00" font-size="5.3" text-anchor="end" stroke="#1a1a1a" stroke-width="0.159" transform="rotate(-90.00 291.62 379.00)">Prostate</text>
<line x1="295.51" y1="371.79" x2="295.51" y2="370.54" stroke="#00a590" stroke-width="0.5" />
<line x1="295.51" y1="368.03" x2="295.51" y2="364.26" stroke="#00a590" stroke-width="0.5" />
<rect x="293.31" y="368.03" width="4.40" height="2.51" fill="#fff" stroke="#00a590" stroke-width="0.65" />
<line x1="293.31" y1="369.28" x2="297.71" y2="369.28" stroke="#00a590" stroke-width="0.8" />
<circle cx="295.51" cy="361.75" r="0.90" fill="#00a590" />
<circle cx="295.51" cy="360.50" r="0.90" fill="#00a590" />
<circle cx="295.51" cy="357.99" r="0.90" fill="#00a590" />
<line x1="295.51" y1="376.00" x2="295.51" y2="377.60" stroke="#222" stroke-width="0.5" />
<text x="297.41" y="379.00" font-size="5.3" text-anchor="end" stroke="#1a1a1a" stroke-width="0.159" transform="rotate(-90.00 297.41 379.00)">Large_Intestine</text>
<line x1="301.29" y1="370.54" x2="301.29" y2="369.28" stroke="#00a4a8" stroke-width="0.5" />
<line x1="301.29" y1="367.40" x2="301.29" y2="364.89" stroke="#00a4a8" stroke-width="0.5" />
<rect x="299.09" y="367.40" width="4.40" height="1.88" fill="#fff" stroke="#00a4a8" stroke-width="0.65" />
<line x1="299.09" y1="368.65" x2="303.49" y2="368.65" stroke="#00a4a8" stroke-width="0.8" />
<circle cx="301.29" cy="363.63" r="0.90" fill="#00a4a8" />
<circle cx="301.29" cy="361.75" r="0.90" fill="#00a4a8" />
<line x1="301.29" y1="376.00" x2="301.29" y2="377.60" stroke="#222" stroke-width="0.5" />
<text x="303.19" y="379.00" font-size="5.3" text-anchor="end" stroke="#1a1a1a" stroke-width="0.159" transform="rotate(-90.00 303.19 379.00)">Muscle</text>
<line x1="307.08" y1="372.42" x2="307.08" y2="370.54" stroke="#00a0bd" stroke-width="0.5" />
<line x1="307.08" y1="368.03" x2="307.08" y2="364.26" stroke="#00a0bd" stroke-width="0.5" />
<rect x="304.88" y="368.03" width="4.40" height="2.51" fill="#fff" stroke="#00a0bd" stroke-width="0.65" />
<line x1="304.88" y1="369.28" x2="309.28" y2="369.28" stroke="#00a0bd" stroke-width="0.8" />
<line x1="307.08" y1="376.00" x2="307.08" y2="377.60" stroke="#222" stroke-width="0.5" />
<text x="308.98" y="379.00" font-size="5.3" text-anchor="end" stroke="#1a1a1a" stroke-width="0.159" transform="rotate(-90.00 308.98 379.00)">Small_Intestine</text>
<line x1="312.86" y1="371.16" x2="312.86" y2="370.54" stroke="#009acf" stroke-width="0.5" />
<line x1="312.86" y1="368.65" x2="312.86" y2="366.77" stroke="#009acf" stroke-width="0.5" />
<rect x="310.66" y="368.65" width="4.40" height="1.88" fill="#fff" stroke="#009acf" stroke-width="0.65" />
<line x1="310.66" y1="369.91" x2="315.06" y2="369.91" stroke="#009acf" stroke-width="0.8" />
<circle cx="312.86" cy="364.89" r="0.90" fill="#009acf" />
<line x1="312.86" y1="376.00" x2="312.86" y2="377.60" stroke="#222" stroke-width="0.5" />
<text x="314.76" y="379.00" font-size="5.3" text-anchor="end" stroke="#1a1a1a" stroke-width="0.159" transform="rotate(-90.00 314.76 379.00)">Bladder</text>
<line x1="318.65" y1="371.79" x2="318.65" y2="371.16" stroke="#0091dc" stroke-width="0.5" />
<line x1="318.65" y1="369.28" x2="318.65" y2="366.77" stroke="#0091dc" stroke-width="0.5" />
<rect x="316.45" y="369.28" width="4.40" height="1.88" fill="#fff" stroke="#0091dc" stroke-width="0.65" />
<line x1="316.45" y1="370.54" x2="320.85" y2="370.54" stroke="#0091dc" stroke-width="0.8" />
<circle cx="318.65" cy="365.51" r="0.90" fill="#0091dc" />
<circle cx="318.65" cy="364.26" r="0.90" fill="#0091dc" />
<circle cx="318.65" cy="363.00" r="0.90" fill="#0091dc" />
<circle cx="318.65" cy="361.75" r="0.90" fill="#0091dc" />
<line x1="318.65" y1="376.00" x2="318.65" y2="377.60" stroke="#222" stroke-width="0.5" />
<text x="320.55" y="379.00" font-size="5.3" text-anchor="end" stroke="#1a1a1a" stroke-width="0.159" transform="rotate(-90.00 320.55 379.00)">Uterus</text>
<line x1="324.43" y1="371.79" x2="324.43" y2="371.16" stroke="#5085e3" stroke-width="0.5" />
<line x1="324.43" y1="369.91" x2="324.43" y2="368.03" stroke="#5085e3" stroke-width="0.5" />
<rect x="322.23" y="369.91" width="4.40" height="1.25" fill="#fff" stroke="#5085e3" stroke-width="0.65" />
<line x1="322.23" y1="370.54" x2="326.63" y2="370.54" stroke="#5085e3" stroke-width="0.8" />
<circle cx="324.43" cy="366.77" r="0.90" fill="#5085e3" />
<circle cx="324.43" cy="365.51" r="0.90" fill="#5085e3" />
<circle cx="324.43" cy="364.26" r="0.90" fill="#5085e3" />
<line x1="324.43" y1="376.00" x2="324.43" y2="377.60" stroke="#222" stroke-width="0.5" />
<text x="326.33" y="379.00" font-size="5.3" text-anchor="end" stroke="#1a1a1a" stroke-width="0.159" transform="rotate(-90.00 326.33 379.00)">Trachea</text>
<line x1="330.22" y1="371.79" x2="330.22" y2="371.16" stroke="#8777e4" stroke-width="0.5" />
<line x1="330.22" y1="369.28" x2="330.22" y2="366.77" stroke="#8777e4" stroke-width="0.5" />
<rect x="328.02" y="369.28" width="4.40" height="1.88" fill="#fff" stroke="#8777e4" stroke-width="0.65" />
<line x1="328.02" y1="370.54" x2="332.42" y2="370.54" stroke="#8777e4" stroke-width="0.8" />
<circle cx="330.22" cy="365.51" r="0.90" fill="#8777e4" />
<circle cx="330.22" cy="363.63" r="0.90" fill="#8777e4" />
<line x1="330.22" y1="376.00" x2="330.22" y2="377.60" stroke="#222" stroke-width="0.5" />
<text x="332.12" y="379.00" font-size="5.3" text-anchor="end" stroke="#1a1a1a" stroke-width="0.159" transform="rotate(-90.00 332.12 379.00)">Vasculature</text>
<line x1="336.00" y1="371.79" x2="336.00" y2="370.54" stroke="#ab68df" stroke-width="0.5" />
<line x1="336.00" y1="368.65" x2="336.00" y2="366.14" stroke="#ab68df" stroke-width="0.5" />
<rect x="333.80" y="368.65" width="4.40" height="1.88" fill="#fff" stroke="#ab68df" stroke-width="0.65" />
<line x1="333.80" y1="369.91" x2="338.20" y2="369.91" stroke="#ab68df" stroke-width="0.8" />
<circle cx="336.00" cy="365.51" r="0.90" fill="#ab68df" />
<circle cx="336.00" cy="364.26" r="0.90" fill="#ab68df" />
<circle cx="336.00" cy="363.00" r="0.90" fill="#ab68df" />
<circle cx="336.00" cy="361.75" r="0.90" fill="#ab68df" />
<line x1="336.00" y1="376.00" x2="336.00" y2="377.60" stroke="#222" stroke-width="0.5" />
<text x="337.90" y="379.00" font-size="5.3" text-anchor="end" stroke="#1a1a1a" stroke-width="0.159" transform="rotate(-90.00 337.90 379.00)">Lymph_Node</text>
<line x1="341.79" y1="371.79" x2="341.79" y2="371.16" stroke="#c35bd4" stroke-width="0.5" />
<line x1="341.79" y1="369.91" x2="341.79" y2="368.03" stroke="#c35bd4" stroke-width="0.5" />
<rect x="339.59" y="369.91" width="4.40" height="1.25" fill="#fff" stroke="#c35bd4" stroke-width="0.65" />
<line x1="339.59" y1="370.54" x2="343.99" y2="370.54" stroke="#c35bd4" stroke-width="0.8" />
<circle cx="341.79" cy="366.77" r="0.90" fill="#c35bd4" />
<circle cx="341.79" cy="365.51" r="0.90" fill="#c35bd4" />
<circle cx="341.79" cy="363.63" r="0.90" fill="#c35bd4" />
<line x1="341.79" y1="376.00" x2="341.79" y2="377.60" stroke="#222" stroke-width="0.5" />
<text x="343.69" y="379.00" font-size="5.3" text-anchor="end" stroke="#1a1a1a" stroke-width="0.159" transform="rotate(-90.00 343.69 379.00)">Spleen</text>
<line x1="347.57" y1="372.42" x2="347.57" y2="371.79" stroke="#d352c4" stroke-width="0.5" />
<line x1="347.57" y1="370.54" x2="347.57" y2="369.28" stroke="#d352c4" stroke-width="0.5" />
<rect x="345.38" y="370.54" width="4.40" height="1.25" fill="#fff" stroke="#d352c4" stroke-width="0.65" />
<line x1="345.38" y1="371.16" x2="349.77" y2="371.16" stroke="#d352c4" stroke-width="0.8" />
<circle cx="347.57" cy="368.03" r="0.90" fill="#d352c4" />
<circle cx="347.57" cy="366.14" r="0.90" fill="#d352c4" />
<line x1="347.57" y1="376.00" x2="347.57" y2="377.60" stroke="#222" stroke-width="0.5" />
<text x="349.47" y="379.00" font-size="5.3" text-anchor="end" stroke="#1a1a1a" stroke-width="0.159" transform="rotate(-90.00 349.47 379.00)">Fat</text>
<line x1="353.36" y1="372.42" x2="353.36" y2="371.79" stroke="#db50af" stroke-width="0.5" />
<line x1="353.36" y1="370.79" x2="353.36" y2="369.91" stroke="#db50af" stroke-width="0.5" />
<rect x="351.16" y="370.79" width="4.40" height="1.00" fill="#fff" stroke="#db50af" stroke-width="0.65" />
<line x1="351.16" y1="371.54" x2="355.56" y2="371.54" stroke="#db50af" stroke-width="0.8" />
<circle cx="353.36" cy="368.65" r="0.90" fill="#db50af" />
<circle cx="353.36" cy="366.77" r="0.90" fill="#db50af" />
<line x1="353.36" y1="376.00" x2="353.36" y2="377.60" stroke="#222" stroke-width="0.5" />
<text x="355.26" y="379.00" font-size="5.3" text-anchor="end" stroke="#1a1a1a" stroke-width="0.159" transform="rotate(-90.00 355.26 379.00)">Skin</text>
<line x1="359.14" y1="372.79" x2="359.14" y2="372.04" stroke="#de5397" stroke-width="0.5" />
<line x1="359.14" y1="370.79" x2="359.14" y2="369.28" stroke="#de5397" stroke-width="0.5" />
<rect x="356.95" y="370.79" width="4.40" height="1.25" fill="#fff" stroke="#de5397" stroke-width="0.65" />
<line x1="356.95" y1="371.54" x2="361.34" y2="371.54" stroke="#de5397" stroke-width="0.8" />
<circle cx="359.14" cy="368.03" r="0.90" fill="#de5397" />
<circle cx="359.14" cy="366.77" r="0.90" fill="#de5397" />
<circle cx="359.14" cy="364.89" r="0.90" fill="#de5397" />
<circle cx="359.14" cy="363.00" r="0.90" fill="#de5397" />
<line x1="359.14" y1="376.00" x2="359.14" y2="377.60" stroke="#222" stroke-width="0.5" />
<text x="361.04" y="379.00" font-size="5.3" text-anchor="end" stroke="#1a1a1a" stroke-width="0.159" transform="rotate(-90.00 361.04 379.00)">Bone_Marrow</text>
<line x1="364.93" y1="373.05" x2="364.93" y2="372.42" stroke="#dc5a7b" stroke-width="0.5" />
<line x1="364.93" y1="371.54" x2="364.93" y2="370.54" stroke="#dc5a7b" stroke-width="0.5" />
<rect x="362.73" y="371.54" width="4.40" height="0.88" fill="#fff" stroke="#dc5a7b" stroke-width="0.65" />
<line x1="362.73" y1="372.04" x2="367.13" y2="372.04" stroke="#dc5a7b" stroke-width="0.8" />
<circle cx="364.93" cy="369.91" r="0.90" fill="#dc5a7b" />
<circle cx="364.93" cy="368.65" r="0.90" fill="#dc5a7b" />
<line x1="364.93" y1="376.00" x2="364.93" y2="377.60" stroke="#222" stroke-width="0.5" />
<text x="366.83" y="379.00" font-size="5.3" text-anchor="end" stroke="#1a1a1a" stroke-width="0.159" transform="rotate(-90.00 366.83 379.00)">Mammary</text>
<rect x="383.60" y="305.50" width="140.60" height="8.30" fill="#fff" stroke="#222" stroke-width="0.9" />
<text x="453.90" y="312.00" font-size="6.6" text-anchor="middle" stroke="#1a1a1a" stroke-width="0.198">T2</text>
<line x1="383.60" y1="313.80" x2="383.60" y2="376.50" stroke="#1f1f1f" stroke-width="0.9" />
<line x1="383.15" y1="376.30" x2="524.20" y2="376.30" stroke="#1f1f1f" stroke-width="0.9" />
<line x1="381.80" y1="374.30" x2="383.60" y2="374.30" stroke="#222" stroke-width="0.6" />
<text x="381.00" y="376.50" font-size="6.2" text-anchor="end" stroke="#1a1a1a" stroke-width="0.186">0.0</text>
<line x1="381.80" y1="361.75" x2="383.60" y2="361.75" stroke="#222" stroke-width="0.6" />
<text x="381.00" y="363.95" font-size="6.2" text-anchor="end" stroke="#1a1a1a" stroke-width="0.186">0.1</text>
<line x1="381.80" y1="349.20" x2="383.60" y2="349.20" stroke="#222" stroke-width="0.6" />
<text x="381.00" y="351.40" font-size="6.2" text-anchor="end" stroke="#1a1a1a" stroke-width="0.186">0.2</text>
<line x1="381.80" y1="336.65" x2="383.60" y2="336.65" stroke="#222" stroke-width="0.6" />
<text x="381.00" y="338.85" font-size="6.2" text-anchor="end" stroke="#1a1a1a" stroke-width="0.186">0.3</text>
<line x1="381.80" y1="324.10" x2="383.60" y2="324.10" stroke="#222" stroke-width="0.6" />
<text x="381.00" y="326.30" font-size="6.2" text-anchor="end" stroke="#1a1a1a" stroke-width="0.186">0.4</text>
<line x1="387.09" y1="373.05" x2="387.09" y2="371.79" stroke="#d5635b" stroke-width="0.5" />
<line x1="387.09" y1="368.65" x2="387.09" y2="366.77" stroke="#d5635b" stroke-width="0.5" />
<rect x="384.88" y="368.65" width="4.42" height="3.14" fill="#fff" stroke="#d5635b" stroke-width="0.65" />
<line x1="384.88" y1="370.54" x2="389.29" y2="370.54" stroke="#d5635b" stroke-width="0.8" />
<circle cx="387.09" cy="364.26" r="0.90" fill="#d5635b" />
<line x1="387.09" y1="376.00" x2="387.09" y2="377.60" stroke="#222" stroke-width="0.5" />
<text x="388.99" y="379.00" font-size="5.3" text-anchor="end" stroke="#1a1a1a" stroke-width="0.159" transform="rotate(-90.00 388.99 379.00)">Liver</text>
<line x1="392.90" y1="370.54" x2="392.90" y2="368.03" stroke="#cc6d30" stroke-width="0.5" />
<line x1="392.90" y1="364.89" x2="392.90" y2="361.75" stroke="#cc6d30" stroke-width="0.5" />
<rect x="390.69" y="364.89" width="4.42" height="3.14" fill="#fff" stroke="#cc6d30" stroke-width="0.65" />
<line x1="390.69" y1="366.77" x2="395.10" y2="366.77" stroke="#cc6d30" stroke-width="0.8" />
<line x1="392.90" y1="376.00" x2="392.90" y2="377.60" stroke="#222" stroke-width="0.5" />
<text x="394.80" y="379.00" font-size="5.3" text-anchor="end" stroke="#1a1a1a" stroke-width="0.159" transform="rotate(-90.00 394.80 379.00)">Blood</text>
<line x1="398.71" y1="370.54" x2="398.71" y2="367.40" stroke="#bf7600" stroke-width="0.5" />
<line x1="398.71" y1="363.63" x2="398.71" y2="359.24" stroke="#bf7600" stroke-width="0.5" />
<rect x="396.50" y="363.63" width="4.42" height="3.77" fill="#fff" stroke="#bf7600" stroke-width="0.65" />
<line x1="396.50" y1="365.51" x2="400.91" y2="365.51" stroke="#bf7600" stroke-width="0.8" />
<line x1="398.71" y1="376.00" x2="398.71" y2="377.60" stroke="#222" stroke-width="0.5" />
<text x="400.61" y="379.00" font-size="5.3" text-anchor="end" stroke="#1a1a1a" stroke-width="0.159" transform="rotate(-90.00 400.61 379.00)">Lung</text>
<line x1="404.52" y1="370.54" x2="404.52" y2="365.51" stroke="#af7f00" stroke-width="0.5" />
<line x1="404.52" y1="360.50" x2="404.52" y2="351.71" stroke="#af7f00" stroke-width="0.5" />
<rect x="402.31" y="360.50" width="4.42" height="5.02" fill="#fff" stroke="#af7f00" stroke-width="0.65" />
<line x1="402.31" y1="363.63" x2="406.72" y2="363.63" stroke="#af7f00" stroke-width="0.8" />
<line x1="404.52" y1="376.00" x2="404.52" y2="377.60" stroke="#222" stroke-width="0.5" />
<text x="406.42" y="379.00" font-size="5.3" text-anchor="end" stroke="#1a1a1a" stroke-width="0.159" transform="rotate(-90.00 406.42 379.00)">Eye</text>
<line x1="410.33" y1="370.54" x2="410.33" y2="368.03" stroke="#9d8700" stroke-width="0.5" />
<line x1="410.33" y1="361.75" x2="410.33" y2="355.48" stroke="#9d8700" stroke-width="0.5" />
<rect x="408.12" y="361.75" width="4.42" height="6.28" fill="#fff" stroke="#9d8700" stroke-width="0.65" />
<line x1="408.12" y1="365.51" x2="412.53" y2="365.51" stroke="#9d8700" stroke-width="0.8" />
<circle cx="410.33" cy="350.46" r="0.90" fill="#9d8700" />
<line x1="410.33" y1="376.00" x2="410.33" y2="377.60" stroke="#222" stroke-width="0.5" />
<text x="412.23" y="379.00" font-size="5.3" text-anchor="end" stroke="#1a1a1a" stroke-width="0.159" transform="rotate(-90.00 412.23 379.00)">Heart</text>
<line x1="416.14" y1="373.05" x2="416.14" y2="371.16" stroke="#868e00" stroke-width="0.5" />
<line x1="416.14" y1="366.77" x2="416.14" y2="364.26" stroke="#868e00" stroke-width="0.5" />
<rect x="413.93" y="366.77" width="4.42" height="4.39" fill="#fff" stroke="#868e00" stroke-width="0.65" />
<line x1="413.93" y1="369.28" x2="418.34" y2="369.28" stroke="#868e00" stroke-width="0.8" />
<line x1="416.14" y1="376.00" x2="416.14" y2="377.60" stroke="#222" stroke-width="0.5" />
<text x="418.04" y="379.00" font-size="5.3" text-anchor="end" stroke="#1a1a1a" stroke-width="0.159" transform="rotate(-90.00 418.04 379.00)">Kidney</text>
<line x1="421.95" y1="371.79" x2="421.95" y2="369.28" stroke="#689500" stroke-width="0.5" />
<line x1="421.95" y1="366.14" x2="421.95" y2="361.75" stroke="#689500" stroke-width="0.5" />
<rect x="419.74" y="366.14" width="4.42" height="3.14" fill="#fff" stroke="#689500" stroke-width="0.65" />
<line x1="419.74" y1="368.03" x2="424.15" y2="368.03" stroke="#689500" stroke-width="0.8" />
<circle cx="421.95" cy="356.73" r="0.90" fill="#689500" />
<line x1="421.95" y1="376.00" x2="421.95" y2="377.60" stroke="#222" stroke-width="0.5" />
<text x="423.85" y="379.00" font-size="5.3" text-anchor="end" stroke="#1a1a1a" stroke-width="0.159" transform="rotate(-90.00 423.85 379.00)">Salivary_Gland</text>
<line x1="427.76" y1="371.79" x2="427.76" y2="369.28" stroke="#3b9a00" stroke-width="0.5" />
<line x1="427.76" y1="366.14" x2="427.76" y2="363.00" stroke="#3b9a00" stroke-width="0.5" />
<rect x="425.55" y="366.14" width="4.42" height="3.14" fill="#fff" stroke="#3b9a00" stroke-width="0.65" />
<line x1="425.55" y1="368.03" x2="429.96" y2="368.03" stroke="#3b9a00" stroke-width="0.8" />
<circle cx="427.76" cy="359.24" r="0.90" fill="#3b9a00" />
<line x1="427.76" y1="376.00" x2="427.76" y2="377.60" stroke="#222" stroke-width="0.5" />
<text x="429.66" y="379.00" font-size="5.3" text-anchor="end" stroke="#1a1a1a" stroke-width="0.159" transform="rotate(-90.00 429.66 379.00)">Pancreas</text>
<line x1="433.57" y1="370.54" x2="433.57" y2="369.28" stroke="#009f2b" stroke-width="0.5" />
<line x1="433.57" y1="367.40" x2="433.57" y2="365.51" stroke="#009f2b" stroke-width="0.5" />
<rect x="431.36" y="367.40" width="4.42" height="1.88" fill="#fff" stroke="#009f2b" stroke-width="0.65" />
<line x1="431.36" y1="368.65" x2="435.77" y2="368.65" stroke="#009f2b" stroke-width="0.8" />
<circle cx="433.57" cy="364.26" r="0.90" fill="#009f2b" />
<circle cx="433.57" cy="363.63" r="0.90" fill="#009f2b" />
<line x1="433.57" y1="376.00" x2="433.57" y2="377.60" stroke="#222" stroke-width="0.5" />
<text x="435.47" y="379.00" font-size="5.3" text-anchor="end" stroke="#1a1a1a" stroke-width="0.159" transform="rotate(-90.00 435.47 379.00)">Thymus</text>
<line x1="439.38" y1="371.79" x2="439.38" y2="369.28" stroke="#00a256" stroke-width="0.5" />
<line x1="439.38" y1="361.75" x2="439.38" y2="351.71" stroke="#00a256" stroke-width="0.5" />
<rect x="437.17" y="361.75" width="4.42" height="7.53" fill="#fff" stroke="#00a256" stroke-width="0.65" />
<line x1="437.17" y1="367.40" x2="441.58" y2="367.40" stroke="#00a256" stroke-width="0.8" />
<circle cx="439.38" cy="345.44" r="0.90" fill="#00a256" />
<circle cx="439.38" cy="335.39" r="0.90" fill="#00a256" />
<line x1="439.38" y1="376.00" x2="439.38" y2="377.60" stroke="#222" stroke-width="0.5" />
<text x="441.28" y="379.00" font-size="5.3" text-anchor="end" stroke="#1a1a1a" stroke-width="0.159" transform="rotate(-90.00 441.28 379.00)">Tongue</text>
<line x1="445.19" y1="371.79" x2="445.19" y2="369.91" stroke="#00a475" stroke-width="0.5" />
<line x1="445.19" y1="366.77" x2="445.19" y2="363.00" stroke="#00a475" stroke-width="0.5" />
<rect x="442.98" y="366.77" width="4.42" height="3.14" fill="#fff" stroke="#00a475" stroke-width="0.65" />
<line x1="442.98" y1="369.28" x2="447.39" y2="369.28" stroke="#00a475" stroke-width="0.8" />
<circle cx="445.19" cy="359.24" r="0.90" fill="#00a475" />
<line x1="445.19" y1="376.00" x2="445.19" y2="377.60" stroke="#222" stroke-width="0.5" />
<text x="447.09" y="379.00" font-size="5.3" text-anchor="end" stroke="#1a1a1a" stroke-width="0.159" transform="rotate(-90.00 447.09 379.00)">Prostate</text>
<line x1="451.00" y1="371.79" x2="451.00" y2="369.91" stroke="#00a590" stroke-width="0.5" />
<line x1="451.00" y1="366.77" x2="451.00" y2="364.26" stroke="#00a590" stroke-width="0.5" />
<rect x="448.79" y="366.77" width="4.42" height="3.14" fill="#fff" stroke="#00a590" stroke-width="0.65" />
<line x1="448.79" y1="368.65" x2="453.20" y2="368.65" stroke="#00a590" stroke-width="0.8" />
<line x1="451.00" y1="376.00" x2="451.00" y2="377.60" stroke="#222" stroke-width="0.5" />
<text x="452.90" y="379.00" font-size="5.3" text-anchor="end" stroke="#1a1a1a" stroke-width="0.159" transform="rotate(-90.00 452.90 379.00)">Large_Intestine</text>
<line x1="456.80" y1="370.54" x2="456.80" y2="369.28" stroke="#00a4a8" stroke-width="0.5" />
<line x1="456.80" y1="364.89" x2="456.80" y2="363.00" stroke="#00a4a8" stroke-width="0.5" />
<rect x="454.60" y="364.89" width="4.42" height="4.39" fill="#fff" stroke="#00a4a8" stroke-width="0.65" />
<line x1="454.60" y1="367.40" x2="459.01" y2="367.40" stroke="#00a4a8" stroke-width="0.8" />
<line x1="456.80" y1="376.00" x2="456.80" y2="377.60" stroke="#222" stroke-width="0.5" />
<text x="458.70" y="379.00" font-size="5.3" text-anchor="end" stroke="#1a1a1a" stroke-width="0.159" transform="rotate(-90.00 458.70 379.00)">Muscle</text>
<line x1="462.61" y1="371.79" x2="462.61" y2="369.91" stroke="#00a0bd" stroke-width="0.5" />
<line x1="462.61" y1="368.03" x2="462.61" y2="366.14" stroke="#00a0bd" stroke-width="0.5" />
<rect x="460.41" y="368.03" width="4.42" height="1.88" fill="#fff" stroke="#00a0bd" stroke-width="0.65" />
<line x1="460.41" y1="369.28" x2="464.82" y2="369.28" stroke="#00a0bd" stroke-width="0.8" />
<circle cx="462.61" cy="364.26" r="0.90" fill="#00a0bd" />
<circle cx="462.61" cy="361.75" r="0.90" fill="#00a0bd" />
<line x1="462.61" y1="376.00" x2="462.61" y2="377.60" stroke="#222" stroke-width="0.5" />
<text x="464.51" y="379.00" font-size="5.3" text-anchor="end" stroke="#1a1a1a" stroke-width="0.159" transform="rotate(-90.00 464.51 379.00)">Small_Intestine</text>
<line x1="468.42" y1="371.16" x2="468.42" y2="369.91" stroke="#009acf" stroke-width="0.5" />
<line x1="468.42" y1="368.03" x2="468.42" y2="366.14" stroke="#009acf" stroke-width="0.5" />
<rect x="466.22" y="368.03" width="4.42" height="1.88" fill="#fff" stroke="#009acf" stroke-width="0.65" />
<line x1="466.22" y1="369.28" x2="470.63" y2="369.28" stroke="#009acf" stroke-width="0.8" />
<circle cx="468.42" cy="363.63" r="0.90" fill="#009acf" />
<line x1="468.42" y1="376.00" x2="468.42" y2="377.60" stroke="#222" stroke-width="0.5" />
<text x="470.32" y="379.00" font-size="5.3" text-anchor="end" stroke="#1a1a1a" stroke-width="0.159" transform="rotate(-90.00 470.32 379.00)">Bladder</text>
<line x1="474.23" y1="371.79" x2="474.23" y2="370.54" stroke="#0091dc" stroke-width="0.5" />
<line x1="474.23" y1="368.03" x2="474.23" y2="365.51" stroke="#0091dc" stroke-width="0.5" />
<rect x="472.03" y="368.03" width="4.42" height="2.51" fill="#fff" stroke="#0091dc" stroke-width="0.65" />
<line x1="472.03" y1="369.91" x2="476.44" y2="369.91" stroke="#0091dc" stroke-width="0.8" />
<circle cx="474.23" cy="363.00" r="0.90" fill="#0091dc" />
<circle cx="474.23" cy="361.12" r="0.90" fill="#0091dc" />
<line x1="474.23" y1="376.00" x2="474.23" y2="377.60" stroke="#222" stroke-width="0.5" />
<text x="476.13" y="379.00" font-size="5.3" text-anchor="end" stroke="#1a1a1a" stroke-width="0.159" transform="rotate(-90.00 476.13 379.00)">Uterus</text>
<line x1="480.04" y1="371.79" x2="480.04" y2="370.54" stroke="#5085e3" stroke-width="0.5" />
<line x1="480.04" y1="369.28" x2="480.04" y2="368.03" stroke="#5085e3" stroke-width="0.5" />
<rect x="477.84" y="369.28" width="4.42" height="1.25" fill="#fff" stroke="#5085e3" stroke-width="0.65" />
<line x1="477.84" y1="369.91" x2="482.25" y2="369.91" stroke="#5085e3" stroke-width="0.8" />
<circle cx="480.04" cy="366.14" r="0.90" fill="#5085e3" />
<line x1="480.04" y1="376.00" x2="480.04" y2="377.60" stroke="#222" stroke-width="0.5" />
<text x="481.94" y="379.00" font-size="5.3" text-anchor="end" stroke="#1a1a1a" stroke-width="0.159" transform="rotate(-90.00 481.94 379.00)">Trachea</text>
<line x1="485.85" y1="371.79" x2="485.85" y2="370.54" stroke="#8777e4" stroke-width="0.5" />
<line x1="485.85" y1="368.03" x2="485.85" y2="366.14" stroke="#8777e4" stroke-width="0.5" />
<rect x="483.65" y="368.03" width="4.42" height="2.51" fill="#fff" stroke="#8777e4" stroke-width="0.65" />
<line x1="483.65" y1="369.28" x2="488.06" y2="369.28" stroke="#8777e4" stroke-width="0.8" />
<line x1="485.85" y1="376.00" x2="485.85" y2="377.60" stroke="#222" stroke-width="0.5" />
<text x="487.75" y="379.00" font-size="5.3" text-anchor="end" stroke="#1a1a1a" stroke-width="0.159" transform="rotate(-90.00 487.75 379.00)">Vasculature</text>
<line x1="491.66" y1="371.16" x2="491.66" y2="369.91" stroke="#ab68df" stroke-width="0.5" />
<line x1="491.66" y1="367.40" x2="491.66" y2="365.51" stroke="#ab68df" stroke-width="0.5" />
<rect x="489.46" y="367.40" width="4.42" height="2.51" fill="#fff" stroke="#ab68df" stroke-width="0.65" />
<line x1="489.46" y1="369.28" x2="493.87" y2="369.28" stroke="#ab68df" stroke-width="0.8" />
<circle cx="491.66" cy="363.63" r="0.90" fill="#ab68df" />
<circle cx="491.66" cy="361.75" r="0.90" fill="#ab68df" />
<line x1="491.66" y1="376.00" x2="491.66" y2="377.60" stroke="#222" stroke-width="0.5" />
<text x="493.56" y="379.00" font-size="5.3" text-anchor="end" stroke="#1a1a1a" stroke-width="0.159" transform="rotate(-90.00 493.56 379.00)">Lymph_Node</text>
<line x1="497.47" y1="371.79" x2="497.47" y2="370.54" stroke="#c35bd4" stroke-width="0.5" />
<line x1="497.47" y1="369.28" x2="497.47" y2="368.03" stroke="#c35bd4" stroke-width="0.5" />
<rect x="495.27" y="369.28" width="4.42" height="1.25" fill="#fff" stroke="#c35bd4" stroke-width="0.65" />
<line x1="495.27" y1="369.91" x2="499.68" y2="369.91" stroke="#c35bd4" stroke-width="0.8" />
<circle cx="497.47" cy="366.77" r="0.90" fill="#c35bd4" />
<line x1="497.47" y1="376.00" x2="497.47" y2="377.60" stroke="#222" stroke-width="0.5" />
<text x="499.37" y="379.00" font-size="5.3" text-anchor="end" stroke="#1a1a1a" stroke-width="0.159" transform="rotate(-90.00 499.37 379.00)">Spleen</text>
<line x1="503.28" y1="371.79" x2="503.28" y2="371.16" stroke="#d352c4" stroke-width="0.5" />
<line x1="503.28" y1="369.91" x2="503.28" y2="368.65" stroke="#d352c4" stroke-width="0.5" />
<rect x="501.08" y="369.91" width="4.42" height="1.25" fill="#fff" stroke="#d352c4" stroke-width="0.65" />
<line x1="501.08" y1="370.54" x2="505.49" y2="370.54" stroke="#d352c4" stroke-width="0.8" />
<circle cx="503.28" cy="367.40" r="0.90" fill="#d352c4" />
<line x1="503.28" y1="376.00" x2="503.28" y2="377.60" stroke="#222" stroke-width="0.5" />
<text x="505.18" y="379.00" font-size="5.3" text-anchor="end" stroke="#1a1a1a" stroke-width="0.159" transform="rotate(-90.00 505.18 379.00)">Fat</text>
<line x1="509.09" y1="372.04" x2="509.09" y2="371.54" stroke="#db50af" stroke-width="0.5" />
<line x1="509.09" y1="370.28" x2="509.09" y2="369.28" stroke="#db50af" stroke-width="0.5" />
<rect x="506.89" y="370.28" width="4.42" height="1.25" fill="#fff" stroke="#db50af" stroke-width="0.65" />
<line x1="506.89" y1="370.91" x2="511.30" y2="370.91" stroke="#db50af" stroke-width="0.8" />
<line x1="509.09" y1="376.00" x2="509.09" y2="377.60" stroke="#222" stroke-width="0.5" />
<text x="510.99" y="379.00" font-size="5.3" text-anchor="end" stroke="#1a1a1a" stroke-width="0.159" transform="rotate(-90.00 510.99 379.00)">Skin</text>
<line x1="514.90" y1="372.42" x2="514.90" y2="371.79" stroke="#de5397" stroke-width="0.5" />
<line x1="514.90" y1="369.91" x2="514.90" y2="368.65" stroke="#de5397" stroke-width="0.5" />
<rect x="512.70" y="369.91" width="4.42" height="1.88" fill="#fff" stroke="#de5397" stroke-width="0.65" />
<line x1="512.70" y1="371.16" x2="517.11" y2="371.16" stroke="#de5397" stroke-width="0.8" />
<circle cx="514.90" cy="366.14" r="0.90" fill="#de5397" />
<line x1="514.90" y1="376.00" x2="514.90" y2="377.60" stroke="#222" stroke-width="0.5" />
<text x="516.80" y="379.00" font-size="5.3" text-anchor="end" stroke="#1a1a1a" stroke-width="0.159" transform="rotate(-90.00 516.80 379.00)">Bone_Marrow</text>
<line x1="520.71" y1="372.79" x2="520.71" y2="372.04" stroke="#dc5a7b" stroke-width="0.5" />
<line x1="520.71" y1="370.79" x2="520.71" y2="369.91" stroke="#dc5a7b" stroke-width="0.5" />
<rect x="518.51" y="370.79" width="4.42" height="1.25" fill="#fff" stroke="#dc5a7b" stroke-width="0.65" />
<line x1="518.51" y1="371.54" x2="522.92" y2="371.54" stroke="#dc5a7b" stroke-width="0.8" />
<circle cx="520.71" cy="368.65" r="0.90" fill="#dc5a7b" />
<line x1="520.71" y1="376.00" x2="520.71" y2="377.60" stroke="#222" stroke-width="0.5" />
<text x="522.61" y="379.00" font-size="5.3" text-anchor="end" stroke="#1a1a1a" stroke-width="0.159" transform="rotate(-90.00 522.61 379.00)">Mammary</text>
<rect x="535.40" y="305.50" width="141.80" height="8.30" fill="#fff" stroke="#222" stroke-width="0.9" />
<text x="606.30" y="312.00" font-size="6.6" text-anchor="middle" stroke="#1a1a1a" stroke-width="0.198">T3</text>
<line x1="535.40" y1="313.80" x2="535.40" y2="376.50" stroke="#1f1f1f" stroke-width="0.9" />
<line x1="534.95" y1="376.30" x2="677.20" y2="376.30" stroke="#1f1f1f" stroke-width="0.9" />
<line x1="533.60" y1="374.30" x2="535.40" y2="374.30" stroke="#222" stroke-width="0.6" />
<text x="532.80" y="376.50" font-size="6.2" text-anchor="end" stroke="#1a1a1a" stroke-width="0.186">0.0</text>
<line x1="533.60" y1="361.75" x2="535.40" y2="361.75" stroke="#222" stroke-width="0.6" />
<text x="532.80" y="363.95" font-size="6.2" text-anchor="end" stroke="#1a1a1a" stroke-width="0.186">0.1</text>
<line x1="533.60" y1="349.20" x2="535.40" y2="349.20" stroke="#222" stroke-width="0.6" />
<text x="532.80" y="351.40" font-size="6.2" text-anchor="end" stroke="#1a1a1a" stroke-width="0.186">0.2</text>
<line x1="533.60" y1="336.65" x2="535.40" y2="336.65" stroke="#222" stroke-width="0.6" />
<text x="532.80" y="338.85" font-size="6.2" text-anchor="end" stroke="#1a1a1a" stroke-width="0.186">0.3</text>
<line x1="533.60" y1="324.10" x2="535.40" y2="324.10" stroke="#222" stroke-width="0.6" />
<text x="532.80" y="326.30" font-size="6.2" text-anchor="end" stroke="#1a1a1a" stroke-width="0.186">0.4</text>
<line x1="538.92" y1="372.42" x2="538.92" y2="369.28" stroke="#d5635b" stroke-width="0.5" />
<line x1="538.92" y1="363.63" x2="538.92" y2="356.73" stroke="#d5635b" stroke-width="0.5" />
<rect x="536.69" y="363.63" width="4.45" height="5.65" fill="#fff" stroke="#d5635b" stroke-width="0.65" />
<line x1="536.69" y1="367.40" x2="541.14" y2="367.40" stroke="#d5635b" stroke-width="0.8" />
<circle cx="538.92" cy="350.46" r="0.90" fill="#d5635b" />
<line x1="538.92" y1="376.00" x2="538.92" y2="377.60" stroke="#222" stroke-width="0.5" />
<text x="540.82" y="379.00" font-size="5.3" text-anchor="end" stroke="#1a1a1a" stroke-width="0.159" transform="rotate(-90.00 540.82 379.00)">Liver</text>
<line x1="544.78" y1="369.28" x2="544.78" y2="362.38" stroke="#cc6d30" stroke-width="0.5" />
<line x1="544.78" y1="350.46" x2="544.78" y2="339.16" stroke="#cc6d30" stroke-width="0.5" />
<rect x="542.55" y="350.46" width="4.45" height="11.92" fill="#fff" stroke="#cc6d30" stroke-width="0.65" />
<line x1="542.55" y1="356.73" x2="547.00" y2="356.73" stroke="#cc6d30" stroke-width="0.8" />
<circle cx="544.78" cy="331.63" r="0.90" fill="#cc6d30" />
<circle cx="544.78" cy="329.12" r="0.90" fill="#cc6d30" />
<circle cx="544.78" cy="320.34" r="0.90" fill="#cc6d30" />
<circle cx="544.78" cy="317.82" r="0.90" fill="#cc6d30" />
<line x1="544.78" y1="376.00" x2="544.78" y2="377.60" stroke="#222" stroke-width="0.5" />
<text x="546.68" y="379.00" font-size="5.3" text-anchor="end" stroke="#1a1a1a" stroke-width="0.159" transform="rotate(-90.00 546.68 379.00)">Blood</text>
<line x1="550.63" y1="370.54" x2="550.63" y2="368.03" stroke="#bf7600" stroke-width="0.5" />
<line x1="550.63" y1="365.51" x2="550.63" y2="363.63" stroke="#bf7600" stroke-width="0.5" />
<rect x="548.41" y="365.51" width="4.45" height="2.51" fill="#fff" stroke="#bf7600" stroke-width="0.65" />
<line x1="548.41" y1="366.77" x2="552.86" y2="366.77" stroke="#bf7600" stroke-width="0.8" />
<circle cx="550.63" cy="361.75" r="0.90" fill="#bf7600" />
<circle cx="550.63" cy="359.24" r="0.90" fill="#bf7600" />
<circle cx="550.63" cy="356.73" r="0.90" fill="#bf7600" />
<circle cx="550.63" cy="354.85" r="0.90" fill="#bf7600" />
<circle cx="550.63" cy="352.97" r="0.90" fill="#bf7600" />
<line x1="550.63" y1="376.00" x2="550.63" y2="377.60" stroke="#222" stroke-width="0.5" />
<text x="552.53" y="379.00" font-size="5.3" text-anchor="end" stroke="#1a1a1a" stroke-width="0.159" transform="rotate(-90.00 552.53 379.00)">Lung</text>
<line x1="556.49" y1="370.54" x2="556.49" y2="368.03" stroke="#af7f00" stroke-width="0.5" />
<line x1="556.49" y1="364.89" x2="556.49" y2="361.75" stroke="#af7f00" stroke-width="0.5" />
<rect x="554.27" y="364.89" width="4.45" height="3.14" fill="#fff" stroke="#af7f00" stroke-width="0.65" />
<line x1="554.27" y1="366.77" x2="558.72" y2="366.77" stroke="#af7f00" stroke-width="0.8" />
<circle cx="556.49" cy="359.87" r="0.90" fill="#af7f00" />
<circle cx="556.49" cy="357.99" r="0.90" fill="#af7f00" />
<line x1="556.49" y1="376.00" x2="556.49" y2="377.60" stroke="#222" stroke-width="0.5" />
<text x="558.39" y="379.00" font-size="5.3" text-anchor="end" stroke="#1a1a1a" stroke-width="0.159" transform="rotate(-90.00 558.39 379.00)">Eye</text>
<line x1="562.35" y1="371.79" x2="562.35" y2="369.28" stroke="#9d8700" stroke-width="0.5" />
<line x1="562.35" y1="366.14" x2="562.35" y2="363.00" stroke="#9d8700" stroke-width="0.5" />
<rect x="560.13" y="366.14" width="4.45" height="3.14" fill="#fff" stroke="#9d8700" stroke-width="0.65" />
<line x1="560.13" y1="367.40" x2="564.58" y2="367.40" stroke="#9d8700" stroke-width="0.8" />
<circle cx="562.35" cy="361.75" r="0.90" fill="#9d8700" />
<circle cx="562.35" cy="359.87" r="0.90" fill="#9d8700" />
<line x1="562.35" y1="376.00" x2="562.35" y2="377.60" stroke="#222" stroke-width="0.5" />
<text x="564.25" y="379.00" font-size="5.3" text-anchor="end" stroke="#1a1a1a" stroke-width="0.159" transform="rotate(-90.00 564.25 379.00)">Heart</text>
<line x1="568.21" y1="373.05" x2="568.21" y2="370.54" stroke="#868e00" stroke-width="0.5" />
<line x1="568.21" y1="365.51" x2="568.21" y2="357.99" stroke="#868e00" stroke-width="0.5" />
<rect x="565.99" y="365.51" width="4.45" height="5.02" fill="#fff" stroke="#868e00" stroke-width="0.65" />
<line x1="565.99" y1="368.65" x2="570.44" y2="368.65" stroke="#868e00" stroke-width="0.8" />
<circle cx="568.21" cy="352.97" r="0.90" fill="#868e00" />
<circle cx="568.21" cy="351.71" r="0.90" fill="#868e00" />
<circle cx="568.21" cy="350.46" r="0.90" fill="#868e00" />
<circle cx="568.21" cy="349.20" r="0.90" fill="#868e00" />
<circle cx="568.21" cy="347.94" r="0.90" fill="#868e00" />
<line x1="568.21" y1="376.00" x2="568.21" y2="377.60" stroke="#222" stroke-width="0.5" />
<text x="570.11" y="379.00" font-size="5.3" text-anchor="end" stroke="#1a1a1a" stroke-width="0.159" transform="rotate(-90.00 570.11 379.00)">Kidney</text>
<line x1="574.07" y1="371.79" x2="574.07" y2="369.91" stroke="#689500" stroke-width="0.5" />
<line x1="574.07" y1="366.77" x2="574.07" y2="363.00" stroke="#689500" stroke-width="0.5" />
<rect x="571.85" y="366.77" width="4.45" height="3.14" fill="#fff" stroke="#689500" stroke-width="0.65" />
<line x1="571.85" y1="368.65" x2="576.30" y2="368.65" stroke="#689500" stroke-width="0.8" />
<circle cx="574.07" cy="361.75" r="0.90" fill="#689500" />
<circle cx="574.07" cy="360.50" r="0.90" fill="#689500" />
<circle cx="574.07" cy="359.24" r="0.90" fill="#689500" />
<circle cx="574.07" cy="357.99" r="0.90" fill="#689500" />
<line x1="574.07" y1="376.00" x2="574.07" y2="377.60" stroke="#222" stroke-width="0.5" />
<text x="575.97" y="379.00" font-size="5.3" text-anchor="end" stroke="#1a1a1a" stroke-width="0.159" transform="rotate(-90.00 575.97 379.00)">Salivary_Gland</text>
<line x1="579.93" y1="371.79" x2="579.93" y2="369.28" stroke="#3b9a00" stroke-width="0.5" />
<line x1="579.93" y1="364.26" x2="579.93" y2="357.99" stroke="#3b9a00" stroke-width="0.5" />
<rect x="577.71" y="364.26" width="4.45" height="5.02" fill="#fff" stroke="#3b9a00" stroke-width="0.65" />
<line x1="577.71" y1="367.40" x2="582.16" y2="367.40" stroke="#3b9a00" stroke-width="0.8" />
<circle cx="579.93" cy="351.71" r="0.90" fill="#3b9a00" />
<circle cx="579.93" cy="349.20" r="0.90" fill="#3b9a00" />
<circle cx="579.93" cy="344.18" r="0.90" fill="#3b9a00" />
<circle cx="579.93" cy="340.42" r="0.90" fill="#3b9a00" />
<circle cx="579.93" cy="332.26" r="0.90" fill="#3b9a00" />
<line x1="579.93" y1="376.00" x2="579.93" y2="377.60" stroke="#222" stroke-width="0.5" />
<text x="581.83" y="379.00" font-size="5.3" text-anchor="end" stroke="#1a1a1a" stroke-width="0.159" transform="rotate(-90.00 581.83 379.00)">Pancreas</text>
<line x1="585.79" y1="371.79" x2="585.79" y2="370.54" stroke="#009f2b" stroke-width="0.5" />
<line x1="585.79" y1="368.65" x2="585.79" y2="366.77" stroke="#009f2b" stroke-width="0.5" />
<rect x="583.57" y="368.65" width="4.45" height="1.88" fill="#fff" stroke="#009f2b" stroke-width="0.65" />
<line x1="583.57" y1="369.91" x2="588.02" y2="369.91" stroke="#009f2b" stroke-width="0.8" />
<line x1="585.79" y1="376.00" x2="585.79" y2="377.60" stroke="#222" stroke-width="0.5" />
<text x="587.69" y="379.00" font-size="5.3" text-anchor="end" stroke="#1a1a1a" stroke-width="0.159" transform="rotate(-90.00 587.69 379.00)">Thymus</text>
<line x1="591.65" y1="372.42" x2="591.65" y2="369.91" stroke="#00a256" stroke-width="0.5" />
<line x1="591.65" y1="366.14" x2="591.65" y2="361.75" stroke="#00a256" stroke-width="0.5" />
<rect x="589.42" y="366.14" width="4.45" height="3.77" fill="#fff" stroke="#00a256" stroke-width="0.65" />
<line x1="589.42" y1="368.03" x2="593.88" y2="368.03" stroke="#00a256" stroke-width="0.8" />
<circle cx="591.65" cy="354.85" r="0.90" fill="#00a256" />
<line x1="591.65" y1="376.00" x2="591.65" y2="377.60" stroke="#222" stroke-width="0.5" />
<text x="593.55" y="379.00" font-size="5.3" text-anchor="end" stroke="#1a1a1a" stroke-width="0.159" transform="rotate(-90.00 593.55 379.00)">Tongue</text>
<line x1="597.51" y1="371.79" x2="597.51" y2="369.91" stroke="#00a475" stroke-width="0.5" />
<line x1="597.51" y1="366.77" x2="597.51" y2="364.89" stroke="#00a475" stroke-width="0.5" />
<rect x="595.28" y="366.77" width="4.45" height="3.14" fill="#fff" stroke="#00a475" stroke-width="0.65" />
<line x1="595.28" y1="368.65" x2="599.74" y2="368.65" stroke="#00a475" stroke-width="0.8" />
<line x1="597.51" y1="376.00" x2="597.51" y2="377.60" stroke="#222" stroke-width="0.5" />
<text x="599.41" y="379.00" font-size="5.3" text-anchor="end" stroke="#1a1a1a" stroke-width="0.159" transform="rotate(-90.00 599.41 379.00)">Prostate</text>
<line x1="603.37" y1="371.79" x2="603.37" y2="369.91" stroke="#00a590" stroke-width="0.5" />
<line x1="603.37" y1="366.77" x2="603.37" y2="363.00" stroke="#00a590" stroke-width="0.5" />
<rect x="601.14" y="366.77" width="4.45" height="3.14" fill="#fff" stroke="#00a590" stroke-width="0.65" />
<line x1="601.14" y1="368.65" x2="605.60" y2="368.65" stroke="#00a590" stroke-width="0.8" />
<circle cx="603.37" cy="358.61" r="0.90" fill="#00a590" />
<line x1="603.37" y1="376.00" x2="603.37" y2="377.60" stroke="#222" stroke-width="0.5" />
<text x="605.27" y="379.00" font-size="5.3" text-anchor="end" stroke="#1a1a1a" stroke-width="0.159" transform="rotate(-90.00 605.27 379.00)">Large_Intestine</text>
<line x1="609.23" y1="371.79" x2="609.23" y2="369.28" stroke="#00a4a8" stroke-width="0.5" />
<line x1="609.23" y1="364.89" x2="609.23" y2="359.24" stroke="#00a4a8" stroke-width="0.5" />
<rect x="607.00" y="364.89" width="4.45" height="4.39" fill="#fff" stroke="#00a4a8" stroke-width="0.65" />
<line x1="607.00" y1="368.03" x2="611.46" y2="368.03" stroke="#00a4a8" stroke-width="0.8" />
<line x1="609.23" y1="376.00" x2="609.23" y2="377.60" stroke="#222" stroke-width="0.5" />
<text x="611.13" y="379.00" font-size="5.3" text-anchor="end" stroke="#1a1a1a" stroke-width="0.159" transform="rotate(-90.00 611.13 379.00)">Muscle</text>
<line x1="615.09" y1="371.79" x2="615.09" y2="370.54" stroke="#00a0bd" stroke-width="0.5" />
<line x1="615.09" y1="369.28" x2="615.09" y2="367.40" stroke="#00a0bd" stroke-width="0.5" />
<rect x="612.86" y="369.28" width="4.45" height="1.25" fill="#fff" stroke="#00a0bd" stroke-width="0.65" />
<line x1="612.86" y1="369.91" x2="617.32" y2="369.91" stroke="#00a0bd" stroke-width="0.8" />
<circle cx="615.09" cy="365.51" r="0.90" fill="#00a0bd" />
<circle cx="615.09" cy="364.26" r="0.90" fill="#00a0bd" />
<circle cx="615.09" cy="363.00" r="0.90" fill="#00a0bd" />
<line x1="615.09" y1="376.00" x2="615.09" y2="377.60" stroke="#222" stroke-width="0.5" />
<text x="616.99" y="379.00" font-size="5.3" text-anchor="end" stroke="#1a1a1a" stroke-width="0.159" transform="rotate(-90.00 616.99 379.00)">Small_Intestine</text>
<line x1="620.95" y1="371.79" x2="620.95" y2="370.54" stroke="#009acf" stroke-width="0.5" />
<line x1="620.95" y1="368.03" x2="620.95" y2="365.51" stroke="#009acf" stroke-width="0.5" />
<rect x="618.72" y="368.03" width="4.45" height="2.51" fill="#fff" stroke="#009acf" stroke-width="0.65" />
<line x1="618.72" y1="369.28" x2="623.18" y2="369.28" stroke="#009acf" stroke-width="0.8" />
<line x1="620.95" y1="376.00" x2="620.95" y2="377.60" stroke="#222" stroke-width="0.5" />
<text x="622.85" y="379.00" font-size="5.3" text-anchor="end" stroke="#1a1a1a" stroke-width="0.159" transform="rotate(-90.00 622.85 379.00)">Bladder</text>
<line x1="626.81" y1="372.42" x2="626.81" y2="370.54" stroke="#0091dc" stroke-width="0.5" />
<line x1="626.81" y1="367.40" x2="626.81" y2="363.63" stroke="#0091dc" stroke-width="0.5" />
<rect x="624.58" y="367.40" width="4.45" height="3.14" fill="#fff" stroke="#0091dc" stroke-width="0.65" />
<line x1="624.58" y1="369.28" x2="629.03" y2="369.28" stroke="#0091dc" stroke-width="0.8" />
<circle cx="626.81" cy="361.75" r="0.90" fill="#0091dc" />
<circle cx="626.81" cy="360.50" r="0.90" fill="#0091dc" />
<line x1="626.81" y1="376.00" x2="626.81" y2="377.60" stroke="#222" stroke-width="0.5" />
<text x="628.71" y="379.00" font-size="5.3" text-anchor="end" stroke="#1a1a1a" stroke-width="0.159" transform="rotate(-90.00 628.71 379.00)">Uterus</text>
<line x1="632.67" y1="371.79" x2="632.67" y2="370.54" stroke="#5085e3" stroke-width="0.5" />
<line x1="632.67" y1="369.28" x2="632.67" y2="367.40" stroke="#5085e3" stroke-width="0.5" />
<rect x="630.44" y="369.28" width="4.45" height="1.25" fill="#fff" stroke="#5085e3" stroke-width="0.65" />
<line x1="630.44" y1="369.91" x2="634.89" y2="369.91" stroke="#5085e3" stroke-width="0.8" />
<line x1="632.67" y1="376.00" x2="632.67" y2="377.60" stroke="#222" stroke-width="0.5" />
<text x="634.57" y="379.00" font-size="5.3" text-anchor="end" stroke="#1a1a1a" stroke-width="0.159" transform="rotate(-90.00 634.57 379.00)">Trachea</text>
<line x1="638.53" y1="371.79" x2="638.53" y2="370.54" stroke="#8777e4" stroke-width="0.5" />
<line x1="638.53" y1="368.65" x2="638.53" y2="366.77" stroke="#8777e4" stroke-width="0.5" />
<rect x="636.30" y="368.65" width="4.45" height="1.88" fill="#fff" stroke="#8777e4" stroke-width="0.65" />
<line x1="636.30" y1="369.91" x2="640.75" y2="369.91" stroke="#8777e4" stroke-width="0.8" />
<circle cx="638.53" cy="364.26" r="0.90" fill="#8777e4" />
<line x1="638.53" y1="376.00" x2="638.53" y2="377.60" stroke="#222" stroke-width="0.5" />
<text x="640.43" y="379.00" font-size="5.3" text-anchor="end" stroke="#1a1a1a" stroke-width="0.159" transform="rotate(-90.00 640.43 379.00)">Vasculature</text>
<line x1="644.39" y1="371.79" x2="644.39" y2="371.16" stroke="#ab68df" stroke-width="0.5" />
<line x1="644.39" y1="369.91" x2="644.39" y2="368.65" stroke="#ab68df" stroke-width="0.5" />
<rect x="642.16" y="369.91" width="4.45" height="1.25" fill="#fff" stroke="#ab68df" stroke-width="0.65" />
<line x1="642.16" y1="370.54" x2="646.61" y2="370.54" stroke="#ab68df" stroke-width="0.8" />
<circle cx="644.39" cy="367.40" r="0.90" fill="#ab68df" />
<line x1="644.39" y1="376.00" x2="644.39" y2="377.60" stroke="#222" stroke-width="0.5" />
<text x="646.29" y="379.00" font-size="5.3" text-anchor="end" stroke="#1a1a1a" stroke-width="0.159" transform="rotate(-90.00 646.29 379.00)">Lymph_Node</text>
<line x1="650.25" y1="371.79" x2="650.25" y2="371.16" stroke="#c35bd4" stroke-width="0.5" />
<line x1="650.25" y1="369.91" x2="650.25" y2="369.28" stroke="#c35bd4" stroke-width="0.5" />
<rect x="648.02" y="369.91" width="4.45" height="1.25" fill="#fff" stroke="#c35bd4" stroke-width="0.65" />
<line x1="648.02" y1="370.54" x2="652.47" y2="370.54" stroke="#c35bd4" stroke-width="0.8" />
<circle cx="650.25" cy="368.03" r="0.90" fill="#c35bd4" />
<line x1="650.25" y1="376.00" x2="650.25" y2="377.60" stroke="#222" stroke-width="0.5" />
<text x="652.15" y="379.00" font-size="5.3" text-anchor="end" stroke="#1a1a1a" stroke-width="0.159" transform="rotate(-90.00 652.15 379.00)">Spleen</text>
<line x1="656.11" y1="371.79" x2="656.11" y2="371.16" stroke="#d352c4" stroke-width="0.5" />
<line x1="656.11" y1="369.91" x2="656.11" y2="368.03" stroke="#d352c4" stroke-width="0.5" />
<rect x="653.88" y="369.91" width="4.45" height="1.25" fill="#fff" stroke="#d352c4" stroke-width="0.65" />
<line x1="653.88" y1="370.54" x2="658.33" y2="370.54" stroke="#d352c4" stroke-width="0.8" />
<circle cx="656.11" cy="366.77" r="0.90" fill="#d352c4" />
<circle cx="656.11" cy="365.51" r="0.90" fill="#d352c4" />
<circle cx="656.11" cy="363.63" r="0.90" fill="#d352c4" />
<line x1="656.11" y1="376.00" x2="656.11" y2="377.60" stroke="#222" stroke-width="0.5" />
<text x="658.01" y="379.00" font-size="5.3" text-anchor="end" stroke="#1a1a1a" stroke-width="0.159" transform="rotate(-90.00 658.01 379.00)">Fat</text>
<line x1="661.97" y1="372.42" x2="661.97" y2="371.79" stroke="#db50af" stroke-width="0.5" />
<line x1="661.97" y1="370.54" x2="661.97" y2="369.28" stroke="#db50af" stroke-width="0.5" />
<rect x="659.74" y="370.54" width="4.45" height="1.25" fill="#fff" stroke="#db50af" stroke-width="0.65" />
<line x1="659.74" y1="371.16" x2="664.19" y2="371.16" stroke="#db50af" stroke-width="0.8" />
<circle cx="661.97" cy="368.03" r="0.90" fill="#db50af" />
<circle cx="661.97" cy="366.14" r="0.90" fill="#db50af" />
<line x1="661.97" y1="376.00" x2="661.97" y2="377.60" stroke="#222" stroke-width="0.5" />
<text x="663.87" y="379.00" font-size="5.3" text-anchor="end" stroke="#1a1a1a" stroke-width="0.159" transform="rotate(-90.00 663.87 379.00)">Skin</text>
<line x1="667.82" y1="372.42" x2="667.82" y2="371.79" stroke="#de5397" stroke-width="0.5" />
<line x1="667.82" y1="370.54" x2="667.82" y2="369.28" stroke="#de5397" stroke-width="0.5" />
<rect x="665.60" y="370.54" width="4.45" height="1.25" fill="#fff" stroke="#de5397" stroke-width="0.65" />
<line x1="665.60" y1="371.16" x2="670.05" y2="371.16" stroke="#de5397" stroke-width="0.8" />
<circle cx="667.82" cy="367.40" r="0.90" fill="#de5397" />
<line x1="667.82" y1="376.00" x2="667.82" y2="377.60" stroke="#222" stroke-width="0.5" />
<text x="669.72" y="379.00" font-size="5.3" text-anchor="end" stroke="#1a1a1a" stroke-width="0.159" transform="rotate(-90.00 669.72 379.00)">Bone_Marrow</text>
<line x1="673.68" y1="372.79" x2="673.68" y2="372.04" stroke="#dc5a7b" stroke-width="0.5" />
<line x1="673.68" y1="370.79" x2="673.68" y2="369.91" stroke="#dc5a7b" stroke-width="0.5" />
<rect x="671.46" y="370.79" width="4.45" height="1.25" fill="#fff" stroke="#dc5a7b" stroke-width="0.65" />
<line x1="671.46" y1="371.54" x2="675.91" y2="371.54" stroke="#dc5a7b" stroke-width="0.8" />
<circle cx="673.68" cy="369.28" r="0.90" fill="#dc5a7b" />
<circle cx="673.68" cy="368.28" r="0.90" fill="#dc5a7b" />
<circle cx="673.68" cy="367.40" r="0.90" fill="#dc5a7b" />
<line x1="673.68" y1="376.00" x2="673.68" y2="377.60" stroke="#222" stroke-width="0.5" />
<text x="675.58" y="379.00" font-size="5.3" text-anchor="end" stroke="#1a1a1a" stroke-width="0.159" transform="rotate(-90.00 675.58 379.00)">Mammary</text>
</g>
<text x="209.90" y="344.50" font-size="7.2" text-anchor="middle" stroke="#1a1a1a" stroke-width="0.216" transform="rotate(-90.00 209.90 344.50)">BPS<tspan font-size="3.6" dy="1.2">AUC</tspan></text>
</g>
<g id="panel_g">
<text x="21.60" y="546.40" font-size="11" fill="#111" font-weight="bold">g</text>
<rect x="45.60" y="668.09" width="1.66" height="9.11" fill="#a9c6dc" stroke="#c7dbea" stroke-width="0.25" />
<rect x="47.26" y="644.80" width="1.66" height="32.40" fill="#a9c6dc" stroke="#c7dbea" stroke-width="0.25" />
<rect x="48.92" y="609.36" width="1.66" height="67.84" fill="#a9c6dc" stroke="#c7dbea" stroke-width="0.25" />
<rect x="50.58" y="578.99" width="1.66" height="98.21" fill="#a9c6dc" stroke="#c7dbea" stroke-width="0.25" />
<rect x="52.24" y="582.03" width="1.66" height="95.18" fill="#a9c6dc" stroke="#c7dbea" stroke-width="0.25" />
<rect x="53.90" y="580.00" width="1.66" height="97.20" fill="#a9c6dc" stroke="#c7dbea" stroke-width="0.25" />
<rect x="55.56" y="577.37" width="1.66" height="99.83" fill="#a9c6dc" stroke="#c7dbea" stroke-width="0.25" />
<rect x="57.22" y="607.34" width="1.66" height="69.86" fill="#a9c6dc" stroke="#c7dbea" stroke-width="0.25" />
<rect x="58.88" y="608.35" width="1.66" height="68.85" fill="#a9c6dc" stroke="#c7dbea" stroke-width="0.25" />
<rect x="60.54" y="622.53" width="1.66" height="54.68" fill="#a9c6dc" stroke="#c7dbea" stroke-width="0.25" />
<rect x="62.20" y="628.60" width="1.66" height="48.60" fill="#a9c6dc" stroke="#c7dbea" stroke-width="0.25" />
<rect x="63.86" y="639.74" width="1.66" height="37.46" fill="#a9c6dc" stroke="#c7dbea" stroke-width="0.25" />
<rect x="65.52" y="640.75" width="1.66" height="36.45" fill="#a9c6dc" stroke="#c7dbea" stroke-width="0.25" />
<rect x="67.18" y="651.89" width="1.66" height="25.31" fill="#a9c6dc" stroke="#c7dbea" stroke-width="0.25" />
<rect x="68.84" y="654.93" width="1.66" height="22.28" fill="#a9c6dc" stroke="#c7dbea" stroke-width="0.25" />
<rect x="70.50" y="659.99" width="1.66" height="17.21" fill="#a9c6dc" stroke="#c7dbea" stroke-width="0.25" />
<rect x="72.16" y="658.98" width="1.66" height="18.23" fill="#a9c6dc" stroke="#c7dbea" stroke-width="0.25" />
<rect x="73.82" y="666.06" width="1.66" height="11.14" fill="#a9c6dc" stroke="#c7dbea" stroke-width="0.25" />
<rect x="75.48" y="668.70" width="1.66" height="8.51" fill="#a9c6dc" stroke="#c7dbea" stroke-width="0.25" />
<rect x="77.14" y="669.10" width="1.66" height="8.10" fill="#a9c6dc" stroke="#c7dbea" stroke-width="0.25" />
<rect x="78.80" y="668.09" width="1.66" height="9.11" fill="#a9c6dc" stroke="#c7dbea" stroke-width="0.25" />
<rect x="80.46" y="668.70" width="1.66" height="8.51" fill="#a9c6dc" stroke="#c7dbea" stroke-width="0.25" />
<rect x="82.12" y="670.11" width="1.66" height="7.09" fill="#a9c6dc" stroke="#c7dbea" stroke-width="0.25" />
<rect x="83.78" y="671.12" width="1.66" height="6.08" fill="#a9c6dc" stroke="#c7dbea" stroke-width="0.25" />
<rect x="85.44" y="672.14" width="1.66" height="5.06" fill="#a9c6dc" stroke="#c7dbea" stroke-width="0.25" />
<rect x="87.10" y="672.75" width="1.66" height="4.46" fill="#a9c6dc" stroke="#c7dbea" stroke-width="0.25" />
<rect x="88.76" y="673.15" width="1.66" height="4.05" fill="#a9c6dc" stroke="#c7dbea" stroke-width="0.25" />
<rect x="90.42" y="672.14" width="1.66" height="5.06" fill="#a9c6dc" stroke="#c7dbea" stroke-width="0.25" />
<rect x="92.08" y="674.16" width="1.66" height="3.04" fill="#a9c6dc" stroke="#c7dbea" stroke-width="0.25" />
<rect x="93.74" y="673.56" width="1.66" height="3.65" fill="#a9c6dc" stroke="#c7dbea" stroke-width="0.25" />
<rect x="95.40" y="674.37" width="1.66" height="2.83" fill="#a9c6dc" stroke="#c7dbea" stroke-width="0.25" />
<rect x="97.06" y="674.77" width="1.66" height="2.43" fill="#a9c6dc" stroke="#c7dbea" stroke-width="0.25" />
<rect x="98.72" y="675.18" width="1.66" height="2.03" fill="#a9c6dc" stroke="#c7dbea" stroke-width="0.25" />
<rect x="100.38" y="675.38" width="1.66" height="1.82" fill="#a9c6dc" stroke="#c7dbea" stroke-width="0.25" />
<rect x="102.04" y="674.97" width="1.66" height="2.23" fill="#a9c6dc" stroke="#c7dbea" stroke-width="0.25" />
<rect x="103.70" y="674.77" width="1.66" height="2.43" fill="#a9c6dc" stroke="#c7dbea" stroke-width="0.25" />
<rect x="105.36" y="675.58" width="1.66" height="1.62" fill="#a9c6dc" stroke="#c7dbea" stroke-width="0.25" />
<rect x="107.02" y="675.78" width="1.66" height="1.42" fill="#a9c6dc" stroke="#c7dbea" stroke-width="0.25" />
<rect x="108.68" y="675.38" width="1.66" height="1.82" fill="#a9c6dc" stroke="#c7dbea" stroke-width="0.25" />
<rect x="110.34" y="675.99" width="1.66" height="1.22" fill="#a9c6dc" stroke="#c7dbea" stroke-width="0.25" />
<rect x="112.00" y="676.19" width="1.66" height="1.01" fill="#a9c6dc" stroke="#c7dbea" stroke-width="0.25" />
<rect x="113.66" y="675.99" width="1.66" height="1.22" fill="#a9c6dc" stroke="#c7dbea" stroke-width="0.25" />
<rect x="115.32" y="675.78" width="1.66" height="1.42" fill="#a9c6dc" stroke="#c7dbea" stroke-width="0.25" />
<rect x="116.98" y="676.39" width="1.66" height="0.81" fill="#a9c6dc" stroke="#c7dbea" stroke-width="0.25" />
<rect x="118.64" y="676.39" width="1.66" height="0.81" fill="#a9c6dc" stroke="#c7dbea" stroke-width="0.25" />
<rect x="120.30" y="676.19" width="1.66" height="1.01" fill="#a9c6dc" stroke="#c7dbea" stroke-width="0.25" />
<rect x="121.96" y="676.59" width="1.66" height="0.61" fill="#a9c6dc" stroke="#c7dbea" stroke-width="0.25" />
<rect x="123.62" y="676.59" width="1.66" height="0.61" fill="#a9c6dc" stroke="#c7dbea" stroke-width="0.25" />
<rect x="125.28" y="676.39" width="1.66" height="0.81" fill="#a9c6dc" stroke="#c7dbea" stroke-width="0.25" />
<rect x="126.94" y="676.59" width="1.66" height="0.61" fill="#a9c6dc" stroke="#c7dbea" stroke-width="0.25" />
<rect x="128.60" y="676.70" width="1.66" height="0.50" fill="#a9c6dc" stroke="#c7dbea" stroke-width="0.25" />
<rect x="130.26" y="676.59" width="1.66" height="0.61" fill="#a9c6dc" stroke="#c7dbea" stroke-width="0.25" />
<rect x="131.92" y="676.70" width="1.66" height="0.50" fill="#a9c6dc" stroke="#c7dbea" stroke-width="0.25" />
<rect x="133.58" y="676.70" width="1.66" height="0.50" fill="#a9c6dc" stroke="#c7dbea" stroke-width="0.25" />
<rect x="135.24" y="676.59" width="1.66" height="0.61" fill="#a9c6dc" stroke="#c7dbea" stroke-width="0.25" />
<rect x="136.90" y="676.70" width="1.66" height="0.50" fill="#a9c6dc" stroke="#c7dbea" stroke-width="0.25" />
<rect x="138.56" y="676.70" width="1.66" height="0.50" fill="#a9c6dc" stroke="#c7dbea" stroke-width="0.25" />
<rect x="140.22" y="676.70" width="1.66" height="0.50" fill="#a9c6dc" stroke="#c7dbea" stroke-width="0.25" />
<rect x="141.88" y="676.70" width="1.66" height="0.50" fill="#a9c6dc" stroke="#c7dbea" stroke-width="0.25" />
<rect x="143.54" y="676.70" width="1.66" height="0.50" fill="#a9c6dc" stroke="#c7dbea" stroke-width="0.25" />
<rect x="145.20" y="676.70" width="1.66" height="0.50" fill="#a9c6dc" stroke="#c7dbea" stroke-width="0.25" />
<rect x="146.86" y="676.70" width="1.66" height="0.50" fill="#a9c6dc" stroke="#c7dbea" stroke-width="0.25" />
<rect x="148.52" y="676.70" width="1.66" height="0.50" fill="#a9c6dc" stroke="#c7dbea" stroke-width="0.25" />
<rect x="150.18" y="676.70" width="1.66" height="0.50" fill="#a9c6dc" stroke="#c7dbea" stroke-width="0.25" />
<rect x="151.84" y="676.70" width="1.66" height="0.50" fill="#a9c6dc" stroke="#c7dbea" stroke-width="0.25" />
<rect x="153.50" y="676.70" width="1.66" height="0.50" fill="#a9c6dc" stroke="#c7dbea" stroke-width="0.25" />
<rect x="155.16" y="676.70" width="1.66" height="0.50" fill="#a9c6dc" stroke="#c7dbea" stroke-width="0.25" />
<rect x="156.82" y="676.70" width="1.66" height="0.50" fill="#a9c6dc" stroke="#c7dbea" stroke-width="0.25" />
<rect x="158.48" y="676.70" width="1.66" height="0.50" fill="#a9c6dc" stroke="#c7dbea" stroke-width="0.25" />
<rect x="160.14" y="676.70" width="1.66" height="0.50" fill="#a9c6dc" stroke="#c7dbea" stroke-width="0.25" />
<rect x="161.80" y="676.70" width="1.66" height="0.50" fill="#a9c6dc" stroke="#c7dbea" stroke-width="0.25" />
<rect x="163.46" y="676.70" width="1.66" height="0.50" fill="#a9c6dc" stroke="#c7dbea" stroke-width="0.25" />
<rect x="165.12" y="676.70" width="1.66" height="0.50" fill="#a9c6dc" stroke="#c7dbea" stroke-width="0.25" />
<rect x="166.78" y="676.70" width="1.66" height="0.50" fill="#a9c6dc" stroke="#c7dbea" stroke-width="0.25" />
<rect x="168.44" y="676.70" width="1.66" height="0.50" fill="#a9c6dc" stroke="#c7dbea" stroke-width="0.25" />
<rect x="170.10" y="676.70" width="1.66" height="0.50" fill="#a9c6dc" stroke="#c7dbea" stroke-width="0.25" />
<rect x="171.76" y="676.70" width="1.66" height="0.50" fill="#a9c6dc" stroke="#c7dbea" stroke-width="0.25" />
<rect x="173.42" y="676.70" width="1.66" height="0.50" fill="#a9c6dc" stroke="#c7dbea" stroke-width="0.25" />
<rect x="175.08" y="676.70" width="1.66" height="0.50" fill="#a9c6dc" stroke="#c7dbea" stroke-width="0.25" />
<rect x="176.74" y="676.70" width="1.66" height="0.50" fill="#a9c6dc" stroke="#c7dbea" stroke-width="0.25" />
<rect x="178.40" y="676.70" width="1.66" height="0.50" fill="#a9c6dc" stroke="#c7dbea" stroke-width="0.25" />
<rect x="180.06" y="676.70" width="1.66" height="0.50" fill="#a9c6dc" stroke="#c7dbea" stroke-width="0.25" />
<rect x="181.72" y="676.70" width="1.66" height="0.50" fill="#a9c6dc" stroke="#c7dbea" stroke-width="0.25" />
<rect x="183.38" y="676.70" width="1.66" height="0.50" fill="#a9c6dc" stroke="#c7dbea" stroke-width="0.25" />
<rect x="185.04" y="676.70" width="1.66" height="0.50" fill="#a9c6dc" stroke="#c7dbea" stroke-width="0.25" />
<rect x="186.70" y="676.70" width="1.66" height="0.50" fill="#a9c6dc" stroke="#c7dbea" stroke-width="0.25" />
<rect x="188.36" y="676.70" width="1.66" height="0.50" fill="#a9c6dc" stroke="#c7dbea" stroke-width="0.25" />
<rect x="190.02" y="676.70" width="1.66" height="0.50" fill="#a9c6dc" stroke="#c7dbea" stroke-width="0.25" />
<rect x="191.68" y="676.70" width="1.66" height="0.50" fill="#a9c6dc" stroke="#c7dbea" stroke-width="0.25" />
<rect x="193.34" y="676.70" width="1.66" height="0.50" fill="#a9c6dc" stroke="#c7dbea" stroke-width="0.25" />
<rect x="195.00" y="676.70" width="1.66" height="0.50" fill="#a9c6dc" stroke="#c7dbea" stroke-width="0.25" />
<rect x="196.66" y="676.70" width="1.66" height="0.50" fill="#a9c6dc" stroke="#c7dbea" stroke-width="0.25" />
<line x1="38.40" y1="576.00" x2="38.40" y2="677.20" stroke="#1f1f1f" stroke-width="0.9" />
<line x1="35.00" y1="677.20" x2="38.40" y2="677.20" stroke="#222" stroke-width="0.6" />
<text x="31.40" y="677.20" font-size="6.2" text-anchor="middle" stroke="#1a1a1a" stroke-width="0.186" transform="rotate(-90.00 31.40 677.20)">0</text>
<line x1="35.00" y1="656.95" x2="38.40" y2="656.95" stroke="#222" stroke-width="0.6" />
<text x="31.40" y="656.95" font-size="6.2" text-anchor="middle" stroke="#1a1a1a" stroke-width="0.186" transform="rotate(-90.00 31.40 656.95)">100</text>
<line x1="35.00" y1="636.70" x2="38.40" y2="636.70" stroke="#222" stroke-width="0.6" />
<text x="31.40" y="636.70" font-size="6.2" text-anchor="middle" stroke="#1a1a1a" stroke-width="0.186" transform="rotate(-90.00 31.40 636.70)">200</text>
<line x1="35.00" y1="616.45" x2="38.40" y2="616.45" stroke="#222" stroke-width="0.6" />
<text x="31.40" y="616.45" font-size="6.2" text-anchor="middle" stroke="#1a1a1a" stroke-width="0.186" transform="rotate(-90.00 31.40 616.45)">300</text>
<line x1="35.00" y1="596.20" x2="38.40" y2="596.20" stroke="#222" stroke-width="0.6" />
<text x="31.40" y="596.20" font-size="6.2" text-anchor="middle" stroke="#1a1a1a" stroke-width="0.186" transform="rotate(-90.00 31.40 596.20)">400</text>
<line x1="35.00" y1="575.95" x2="38.40" y2="575.95" stroke="#222" stroke-width="0.6" />
<text x="31.40" y="575.95" font-size="6.2" text-anchor="middle" stroke="#1a1a1a" stroke-width="0.186" transform="rotate(-90.00 31.40 575.95)">500</text>
<text x="23.40" y="620.00" font-size="7.2" text-anchor="middle" stroke="#1a1a1a" stroke-width="0.216" transform="rotate(-90.00 23.40 620.00)">Frequency</text>
<line x1="44.40" y1="681.60" x2="205.50" y2="681.60" stroke="#1f1f1f" stroke-width="0.9" />
<line x1="44.40" y1="681.60" x2="44.40" y2="684.80" stroke="#222" stroke-width="0.6" />
<text x="44.40" y="691.40" font-size="6.2" text-anchor="middle" stroke="#1a1a1a" stroke-width="0.186">0.0</text>
<line x1="77.60" y1="681.60" x2="77.60" y2="684.80" stroke="#222" stroke-width="0.6" />
<text x="77.60" y="691.40" font-size="6.2" text-anchor="middle" stroke="#1a1a1a" stroke-width="0.186">0.1</text>
<line x1="110.80" y1="681.60" x2="110.80" y2="684.80" stroke="#222" stroke-width="0.6" />
<text x="110.80" y="691.40" font-size="6.2" text-anchor="middle" stroke="#1a1a1a" stroke-width="0.186">0.2</text>
<line x1="144.00" y1="681.60" x2="144.00" y2="684.80" stroke="#222" stroke-width="0.6" />
<text x="144.00" y="691.40" font-size="6.2" text-anchor="middle" stroke="#1a1a1a" stroke-width="0.186">0.3</text>
<line x1="177.20" y1="681.60" x2="177.20" y2="684.80" stroke="#222" stroke-width="0.6" />
<text x="177.20" y="691.40" font-size="6.2" text-anchor="middle" stroke="#1a1a1a" stroke-width="0.186">0.4</text>
<text x="119.00" y="699.60" font-size="7.2" text-anchor="middle" stroke="#1a1a1a" stroke-width="0.216">BPS<tspan font-size="3.6" dy="1.2">AUC</tspan><tspan dy="-1.2"> histogram</tspan></text>
<line x1="83.70" y1="573.60" x2="83.70" y2="678.00" stroke="#c0392b" stroke-width="0.9" />
<text x="89.00" y="599.20" font-size="6.4" stroke="#1a1a1a" stroke-width="0.192">Cutoff = 0.119</text>
</g>
<g id="panel_h">
<text x="215.40" y="457.30" font-size="11" fill="#111" font-weight="bold">h</text>
<path d="M423.83,600.13 A81.95,81.95 0 0 1 423.22,603.37 L416.61,601.99 A75.20,75.20 0 0 0 417.17,599.01 Z" fill="#ffffff" stroke="#cdbfbf" stroke-width="0.22"/>
<path d="M417.17,599.01 A75.20,75.20 0 0 1 416.61,601.99 L410.00,600.60 A68.45,68.45 0 0 0 410.51,597.90 Z" fill="#ffffff" stroke="#cdbfbf" stroke-width="0.22"/>
<path d="M410.51,597.90 A68.45,68.45 0 0 1 410.00,600.60 L403.39,599.22 A61.70,61.70 0 0 0 403.85,596.78 Z" fill="#ffffff" stroke="#cdbfbf" stroke-width="0.22"/>
<path d="M403.85,596.78 A61.70,61.70 0 0 1 403.39,599.22 L396.79,597.84 A54.95,54.95 0 0 0 397.20,595.67 Z" fill="#ffffff" stroke="#cdbfbf" stroke-width="0.22"/>
<path d="M397.20,595.67 A54.95,54.95 0 0 1 396.79,597.84 L390.18,596.46 A48.20,48.20 0 0 0 390.54,594.56 Z" fill="#ffffff" stroke="#cdbfbf" stroke-width="0.22"/>
<path d="M423.22,603.37 A81.95,81.95 0 0 1 422.48,606.58 L415.93,604.93 A75.20,75.20 0 0 0 416.61,601.99 Z" fill="#ffffff" stroke="#cdbfbf" stroke-width="0.22"/>
<path d="M416.61,601.99 A75.20,75.20 0 0 1 415.93,604.93 L409.38,603.29 A68.45,68.45 0 0 0 410.00,600.60 Z" fill="#ffffff" stroke="#cdbfbf" stroke-width="0.22"/>
<path d="M410.00,600.60 A68.45,68.45 0 0 1 409.38,603.29 L402.84,601.64 A61.70,61.70 0 0 0 403.39,599.22 Z" fill="#6daca3" stroke="#6daca3" stroke-width="0.45"/>
<path d="M403.39,599.22 A61.70,61.70 0 0 1 402.84,601.64 L396.29,600.00 A54.95,54.95 0 0 0 396.79,597.84 Z" fill="#73b1a8" stroke="#73b1a8" stroke-width="0.45"/>
<path d="M396.79,597.84 A54.95,54.95 0 0 1 396.29,600.00 L389.75,598.35 A48.20,48.20 0 0 0 390.18,596.46 Z" fill="#ffffff" stroke="#cdbfbf" stroke-width="0.22"/>
<path d="M422.48,606.58 A81.95,81.95 0 0 1 421.61,609.76 L415.13,607.85 A75.20,75.20 0 0 0 415.93,604.93 Z" fill="#ffffff" stroke="#cdbfbf" stroke-width="0.22"/>
<path d="M415.93,604.93 A75.20,75.20 0 0 1 415.13,607.85 L408.66,605.95 A68.45,68.45 0 0 0 409.38,603.29 Z" fill="#ffffff" stroke="#cdbfbf" stroke-width="0.22"/>
<path d="M409.38,603.29 A68.45,68.45 0 0 1 408.66,605.95 L402.18,604.04 A61.70,61.70 0 0 0 402.84,601.64 Z" fill="#63a39b" stroke="#63a39b" stroke-width="0.45"/>
<path d="M402.84,601.64 A61.70,61.70 0 0 1 402.18,604.04 L395.71,602.13 A54.95,54.95 0 0 0 396.29,600.00 Z" fill="#ffffff" stroke="#cdbfbf" stroke-width="0.22"/>
<path d="M396.29,600.00 A54.95,54.95 0 0 1 395.71,602.13 L389.23,600.22 A48.20,48.20 0 0 0 389.75,598.35 Z" fill="#ffffff" stroke="#cdbfbf" stroke-width="0.22"/>
<path d="M421.61,609.76 A81.95,81.95 0 0 1 420.61,612.91 L414.22,610.74 A75.20,75.20 0 0 0 415.13,607.85 Z" fill="#ffffff" stroke="#cdbfbf" stroke-width="0.22"/>
<path d="M415.13,607.85 A75.20,75.20 0 0 1 414.22,610.74 L407.83,608.57 A68.45,68.45 0 0 0 408.66,605.95 Z" fill="#ffffff" stroke="#cdbfbf" stroke-width="0.22"/>
<path d="M408.66,605.95 A68.45,68.45 0 0 1 407.83,608.57 L401.43,606.41 A61.70,61.70 0 0 0 402.18,604.04 Z" fill="#76b3aa" stroke="#76b3aa" stroke-width="0.45"/>
<path d="M402.18,604.04 A61.70,61.70 0 0 1 401.43,606.41 L395.04,604.24 A54.95,54.95 0 0 0 395.71,602.13 Z" fill="#ffffff" stroke="#cdbfbf" stroke-width="0.22"/>
<path d="M395.71,602.13 A54.95,54.95 0 0 1 395.04,604.24 L388.65,602.07 A48.20,48.20 0 0 0 389.23,600.22 Z" fill="#ffffff" stroke="#cdbfbf" stroke-width="0.22"/>
<path d="M420.61,612.91 A81.95,81.95 0 0 1 419.49,616.01 L413.19,613.58 A75.20,75.20 0 0 0 414.22,610.74 Z" fill="#ffffff" stroke="#cdbfbf" stroke-width="0.22"/>
<path d="M414.22,610.74 A75.20,75.20 0 0 1 413.19,613.58 L406.89,611.16 A68.45,68.45 0 0 0 407.83,608.57 Z" fill="#ffffff" stroke="#cdbfbf" stroke-width="0.22"/>
<path d="M407.83,608.57 A68.45,68.45 0 0 1 406.89,611.16 L400.59,608.74 A61.70,61.70 0 0 0 401.43,606.41 Z" fill="#66a69e" stroke="#66a69e" stroke-width="0.45"/>
<path d="M401.43,606.41 A61.70,61.70 0 0 1 400.59,608.74 L394.29,606.32 A54.95,54.95 0 0 0 395.04,604.24 Z" fill="#ffffff" stroke="#cdbfbf" stroke-width="0.22"/>
<path d="M395.04,604.24 A54.95,54.95 0 0 1 394.29,606.32 L387.99,603.90 A48.20,48.20 0 0 0 388.65,602.07 Z" fill="#ffffff" stroke="#cdbfbf" stroke-width="0.22"/>
<path d="M419.49,616.01 A81.95,81.95 0 0 1 418.25,619.06 L412.05,616.39 A75.20,75.20 0 0 0 413.19,613.58 Z" fill="#ffffff" stroke="#cdbfbf" stroke-width="0.22"/>
<path d="M413.19,613.58 A75.20,75.20 0 0 1 412.05,616.39 L405.85,613.71 A68.45,68.45 0 0 0 406.89,611.16 Z" fill="#ffffff" stroke="#cdbfbf" stroke-width="0.22"/>
<path d="M406.89,611.16 A68.45,68.45 0 0 1 405.85,613.71 L399.65,611.04 A61.70,61.70 0 0 0 400.59,608.74 Z" fill="#6caba2" stroke="#6caba2" stroke-width="0.45"/>
<path d="M400.59,608.74 A61.70,61.70 0 0 1 399.65,611.04 L393.46,608.37 A54.95,54.95 0 0 0 394.29,606.32 Z" fill="#ffffff" stroke="#cdbfbf" stroke-width="0.22"/>
<path d="M394.29,606.32 A54.95,54.95 0 0 1 393.46,608.37 L387.26,605.69 A48.20,48.20 0 0 0 387.99,603.90 Z" fill="#ffffff" stroke="#cdbfbf" stroke-width="0.22"/>
<path d="M418.25,619.06 A81.95,81.95 0 0 1 416.88,622.06 L410.79,619.14 A75.20,75.20 0 0 0 412.05,616.39 Z" fill="#ffffff" stroke="#cdbfbf" stroke-width="0.22"/>
<path d="M412.05,616.39 A75.20,75.20 0 0 1 410.79,619.14 L404.71,616.22 A68.45,68.45 0 0 0 405.85,613.71 Z" fill="#ffffff" stroke="#cdbfbf" stroke-width="0.22"/>
<path d="M405.85,613.71 A68.45,68.45 0 0 1 404.71,616.22 L398.62,613.30 A61.70,61.70 0 0 0 399.65,611.04 Z" fill="#76b3aa" stroke="#76b3aa" stroke-width="0.45"/>
<path d="M399.65,611.04 A61.70,61.70 0 0 1 398.62,613.30 L392.54,610.38 A54.95,54.95 0 0 0 393.46,608.37 Z" fill="#ffffff" stroke="#cdbfbf" stroke-width="0.22"/>
<path d="M393.46,608.37 A54.95,54.95 0 0 1 392.54,610.38 L386.45,607.46 A48.20,48.20 0 0 0 387.26,605.69 Z" fill="#ffffff" stroke="#cdbfbf" stroke-width="0.22"/>
<path d="M416.88,622.06 A81.95,81.95 0 0 1 415.39,625.01 L409.43,621.84 A75.20,75.20 0 0 0 410.79,619.14 Z" fill="#ffffff" stroke="#cdbfbf" stroke-width="0.22"/>
<path d="M410.79,619.14 A75.20,75.20 0 0 1 409.43,621.84 L403.47,618.68 A68.45,68.45 0 0 0 404.71,616.22 Z" fill="#ffffff" stroke="#cdbfbf" stroke-width="0.22"/>
<path d="M404.71,616.22 A68.45,68.45 0 0 1 403.47,618.68 L397.51,615.52 A61.70,61.70 0 0 0 398.62,613.30 Z" fill="#67a79f" stroke="#67a79f" stroke-width="0.45"/>
<path d="M398.62,613.30 A61.70,61.70 0 0 1 397.51,615.52 L391.54,612.35 A54.95,54.95 0 0 0 392.54,610.38 Z" fill="#ffffff" stroke="#cdbfbf" stroke-width="0.22"/>
<path d="M392.54,610.38 A54.95,54.95 0 0 1 391.54,612.35 L385.58,609.19 A48.20,48.20 0 0 0 386.45,607.46 Z" fill="#ffffff" stroke="#cdbfbf" stroke-width="0.22"/>
<path d="M415.39,625.01 A81.95,81.95 0 0 1 413.79,627.89 L407.96,624.49 A75.20,75.20 0 0 0 409.43,621.84 Z" fill="#ffffff" stroke="#cdbfbf" stroke-width="0.22"/>
<path d="M409.43,621.84 A75.20,75.20 0 0 1 407.96,624.49 L402.13,621.09 A68.45,68.45 0 0 0 403.47,618.68 Z" fill="#ffffff" stroke="#cdbfbf" stroke-width="0.22"/>
<path d="M403.47,618.68 A68.45,68.45 0 0 1 402.13,621.09 L396.30,617.68 A61.70,61.70 0 0 0 397.51,615.52 Z" fill="#77b4ab" stroke="#77b4ab" stroke-width="0.45"/>
<path d="M397.51,615.52 A61.70,61.70 0 0 1 396.30,617.68 L390.47,614.28 A54.95,54.95 0 0 0 391.54,612.35 Z" fill="#ffffff" stroke="#cdbfbf" stroke-width="0.22"/>
<path d="M391.54,612.35 A54.95,54.95 0 0 1 390.47,614.28 L384.64,610.88 A48.20,48.20 0 0 0 385.58,609.19 Z" fill="#ffffff" stroke="#cdbfbf" stroke-width="0.22"/>
<path d="M413.79,627.89 A81.95,81.95 0 0 1 412.07,630.70 L406.38,627.07 A75.20,75.20 0 0 0 407.96,624.49 Z" fill="#ffffff" stroke="#cdbfbf" stroke-width="0.22"/>
<path d="M407.96,624.49 A75.20,75.20 0 0 1 406.38,627.07 L400.69,623.44 A68.45,68.45 0 0 0 402.13,621.09 Z" fill="#ffffff" stroke="#cdbfbf" stroke-width="0.22"/>
<path d="M402.13,621.09 A68.45,68.45 0 0 1 400.69,623.44 L395.00,619.80 A61.70,61.70 0 0 0 396.30,617.68 Z" fill="#5e9890" stroke="#5e9890" stroke-width="0.45"/>
<path d="M396.30,617.68 A61.70,61.70 0 0 1 395.00,619.80 L389.31,616.17 A54.95,54.95 0 0 0 390.47,614.28 Z" fill="#ffffff" stroke="#cdbfbf" stroke-width="0.22"/>
<path d="M390.47,614.28 A54.95,54.95 0 0 1 389.31,616.17 L383.63,612.54 A48.20,48.20 0 0 0 384.64,610.88 Z" fill="#ffffff" stroke="#cdbfbf" stroke-width="0.22"/>
<path d="M412.07,630.70 A81.95,81.95 0 0 1 410.24,633.44 L404.70,629.59 A75.20,75.20 0 0 0 406.38,627.07 Z" fill="#ffffff" stroke="#cdbfbf" stroke-width="0.22"/>
<path d="M406.38,627.07 A75.20,75.20 0 0 1 404.70,629.59 L399.16,625.73 A68.45,68.45 0 0 0 400.69,623.44 Z" fill="#ffffff" stroke="#cdbfbf" stroke-width="0.22"/>
<path d="M400.69,623.44 A68.45,68.45 0 0 1 399.16,625.73 L393.63,621.87 A61.70,61.70 0 0 0 395.00,619.80 Z" fill="#5e9890" stroke="#5e9890" stroke-width="0.45"/>
<path d="M395.00,619.80 A61.70,61.70 0 0 1 393.63,621.87 L388.09,618.01 A54.95,54.95 0 0 0 389.31,616.17 Z" fill="#ffffff" stroke="#cdbfbf" stroke-width="0.22"/>
<path d="M389.31,616.17 A54.95,54.95 0 0 1 388.09,618.01 L382.55,614.15 A48.20,48.20 0 0 0 383.63,612.54 Z" fill="#ffffff" stroke="#cdbfbf" stroke-width="0.22"/>
<path d="M410.24,633.44 A81.95,81.95 0 0 1 408.30,636.11 L402.92,632.03 A75.20,75.20 0 0 0 404.70,629.59 Z" fill="#ffffff" stroke="#cdbfbf" stroke-width="0.22"/>
<path d="M404.70,629.59 A75.20,75.20 0 0 1 402.92,632.03 L397.54,627.96 A68.45,68.45 0 0 0 399.16,625.73 Z" fill="#ffffff" stroke="#cdbfbf" stroke-width="0.22"/>
<path d="M399.16,625.73 A68.45,68.45 0 0 1 397.54,627.96 L392.17,623.88 A61.70,61.70 0 0 0 393.63,621.87 Z" fill="#5e9890" stroke="#5e9890" stroke-width="0.45"/>
<path d="M393.63,621.87 A61.70,61.70 0 0 1 392.17,623.88 L386.79,619.80 A54.95,54.95 0 0 0 388.09,618.01 Z" fill="#ffffff" stroke="#cdbfbf" stroke-width="0.22"/>
<path d="M388.09,618.01 A54.95,54.95 0 0 1 386.79,619.80 L381.41,615.72 A48.20,48.20 0 0 0 382.55,614.15 Z" fill="#ffffff" stroke="#cdbfbf" stroke-width="0.22"/>
<path d="M408.30,636.11 A81.95,81.95 0 0 1 406.26,638.70 L401.05,634.41 A75.20,75.20 0 0 0 402.92,632.03 Z" fill="#ffffff" stroke="#cdbfbf" stroke-width="0.22"/>
<path d="M402.92,632.03 A75.20,75.20 0 0 1 401.05,634.41 L395.84,630.12 A68.45,68.45 0 0 0 397.54,627.96 Z" fill="#ffffff" stroke="#cdbfbf" stroke-width="0.22"/>
<path d="M397.54,627.96 A68.45,68.45 0 0 1 395.84,630.12 L390.63,625.83 A61.70,61.70 0 0 0 392.17,623.88 Z" fill="#6aa9a1" stroke="#6aa9a1" stroke-width="0.45"/>
<path d="M392.17,623.88 A61.70,61.70 0 0 1 390.63,625.83 L385.42,621.53 A54.95,54.95 0 0 0 386.79,619.80 Z" fill="#ffffff" stroke="#cdbfbf" stroke-width="0.22"/>
<path d="M386.79,619.80 A54.95,54.95 0 0 1 385.42,621.53 L380.21,617.24 A48.20,48.20 0 0 0 381.41,615.72 Z" fill="#ffffff" stroke="#cdbfbf" stroke-width="0.22"/>
<path d="M406.26,638.70 A81.95,81.95 0 0 1 404.11,641.20 L399.08,636.70 A75.20,75.20 0 0 0 401.05,634.41 Z" fill="#ffffff" stroke="#cdbfbf" stroke-width="0.22"/>
<path d="M401.05,634.41 A75.20,75.20 0 0 1 399.08,636.70 L394.04,632.21 A68.45,68.45 0 0 0 395.84,630.12 Z" fill="#ffffff" stroke="#cdbfbf" stroke-width="0.22"/>
<path d="M395.84,630.12 A68.45,68.45 0 0 1 394.04,632.21 L389.01,627.71 A61.70,61.70 0 0 0 390.63,625.83 Z" fill="#5d9e96" stroke="#5d9e96" stroke-width="0.45"/>
<path d="M390.63,625.83 A61.70,61.70 0 0 1 389.01,627.71 L383.98,623.21 A54.95,54.95 0 0 0 385.42,621.53 Z" fill="#ffffff" stroke="#cdbfbf" stroke-width="0.22"/>
<path d="M385.42,621.53 A54.95,54.95 0 0 1 383.98,623.21 L378.94,618.71 A48.20,48.20 0 0 0 380.21,617.24 Z" fill="#ffffff" stroke="#cdbfbf" stroke-width="0.22"/>
<path d="M404.11,641.20 A81.95,81.95 0 0 1 401.86,643.62 L397.02,638.92 A75.20,75.20 0 0 0 399.08,636.70 Z" fill="#ffffff" stroke="#cdbfbf" stroke-width="0.22"/>
<path d="M399.08,636.70 A75.20,75.20 0 0 1 397.02,638.92 L392.17,634.22 A68.45,68.45 0 0 0 394.04,632.21 Z" fill="#ffffff" stroke="#cdbfbf" stroke-width="0.22"/>
<path d="M394.04,632.21 A68.45,68.45 0 0 1 392.17,634.22 L387.32,629.53 A61.70,61.70 0 0 0 389.01,627.71 Z" fill="#74b2a9" stroke="#74b2a9" stroke-width="0.45"/>
<path d="M389.01,627.71 A61.70,61.70 0 0 1 387.32,629.53 L382.47,624.83 A54.95,54.95 0 0 0 383.98,623.21 Z" fill="#ffffff" stroke="#cdbfbf" stroke-width="0.22"/>
<path d="M383.98,623.21 A54.95,54.95 0 0 1 382.47,624.83 L377.62,620.13 A48.20,48.20 0 0 0 378.94,618.71 Z" fill="#ffffff" stroke="#cdbfbf" stroke-width="0.22"/>
<path d="M401.86,643.62 A81.95,81.95 0 0 1 399.52,645.94 L394.87,641.05 A75.20,75.20 0 0 0 397.02,638.92 Z" fill="#ffffff" stroke="#cdbfbf" stroke-width="0.22"/>
<path d="M397.02,638.92 A75.20,75.20 0 0 1 394.87,641.05 L390.21,636.16 A68.45,68.45 0 0 0 392.17,634.22 Z" fill="#ffffff" stroke="#cdbfbf" stroke-width="0.22"/>
<path d="M392.17,634.22 A68.45,68.45 0 0 1 390.21,636.16 L385.56,631.28 A61.70,61.70 0 0 0 387.32,629.53 Z" fill="#71afa6" stroke="#71afa6" stroke-width="0.45"/>
<path d="M387.32,629.53 A61.70,61.70 0 0 1 385.56,631.28 L380.90,626.39 A54.95,54.95 0 0 0 382.47,624.83 Z" fill="#ffffff" stroke="#cdbfbf" stroke-width="0.22"/>
<path d="M382.47,624.83 A54.95,54.95 0 0 1 380.90,626.39 L376.24,621.50 A48.20,48.20 0 0 0 377.62,620.13 Z" fill="#ffffff" stroke="#cdbfbf" stroke-width="0.22"/>
<path d="M399.52,645.94 A81.95,81.95 0 0 1 397.09,648.16 L392.63,643.09 A75.20,75.20 0 0 0 394.87,641.05 Z" fill="#ffffff" stroke="#cdbfbf" stroke-width="0.22"/>
<path d="M394.87,641.05 A75.20,75.20 0 0 1 392.63,643.09 L388.18,638.02 A68.45,68.45 0 0 0 390.21,636.16 Z" fill="#ffffff" stroke="#cdbfbf" stroke-width="0.22"/>
<path d="M390.21,636.16 A68.45,68.45 0 0 1 388.18,638.02 L383.72,632.95 A61.70,61.70 0 0 0 385.56,631.28 Z" fill="#63a49b" stroke="#63a49b" stroke-width="0.45"/>
<path d="M385.56,631.28 A61.70,61.70 0 0 1 383.72,632.95 L379.27,627.88 A54.95,54.95 0 0 0 380.90,626.39 Z" fill="#ffffff" stroke="#cdbfbf" stroke-width="0.22"/>
<path d="M380.90,626.39 A54.95,54.95 0 0 1 379.27,627.88 L374.81,622.81 A48.20,48.20 0 0 0 376.24,621.50 Z" fill="#ffffff" stroke="#cdbfbf" stroke-width="0.22"/>
<path d="M397.09,648.16 A81.95,81.95 0 0 1 394.57,650.29 L390.32,645.04 A75.20,75.20 0 0 0 392.63,643.09 Z" fill="#ffffff" stroke="#cdbfbf" stroke-width="0.22"/>
<path d="M392.63,643.09 A75.20,75.20 0 0 1 390.32,645.04 L386.07,639.80 A68.45,68.45 0 0 0 388.18,638.02 Z" fill="#ffffff" stroke="#cdbfbf" stroke-width="0.22"/>
<path d="M388.18,638.02 A68.45,68.45 0 0 1 386.07,639.80 L381.83,634.55 A61.70,61.70 0 0 0 383.72,632.95 Z" fill="#5b9b93" stroke="#5b9b93" stroke-width="0.45"/>
<path d="M383.72,632.95 A61.70,61.70 0 0 1 381.83,634.55 L377.58,629.31 A54.95,54.95 0 0 0 379.27,627.88 Z" fill="#ffffff" stroke="#cdbfbf" stroke-width="0.22"/>
<path d="M379.27,627.88 A54.95,54.95 0 0 1 377.58,629.31 L373.33,624.06 A48.20,48.20 0 0 0 374.81,622.81 Z" fill="#ffffff" stroke="#cdbfbf" stroke-width="0.22"/>
<path d="M394.57,650.29 A81.95,81.95 0 0 1 391.96,652.31 L387.93,646.90 A75.20,75.20 0 0 0 390.32,645.04 Z" fill="#ffffff" stroke="#cdbfbf" stroke-width="0.22"/>
<path d="M390.32,645.04 A75.20,75.20 0 0 1 387.93,646.90 L383.90,641.49 A68.45,68.45 0 0 0 386.07,639.80 Z" fill="#ffffff" stroke="#cdbfbf" stroke-width="0.22"/>
<path d="M386.07,639.80 A68.45,68.45 0 0 1 383.90,641.49 L379.87,636.08 A61.70,61.70 0 0 0 381.83,634.55 Z" fill="#65a59d" stroke="#65a59d" stroke-width="0.45"/>
<path d="M381.83,634.55 A61.70,61.70 0 0 1 379.87,636.08 L375.83,630.66 A54.95,54.95 0 0 0 377.58,629.31 Z" fill="#ffffff" stroke="#cdbfbf" stroke-width="0.22"/>
<path d="M377.58,629.31 A54.95,54.95 0 0 1 375.83,630.66 L371.80,625.25 A48.20,48.20 0 0 0 373.33,624.06 Z" fill="#ffffff" stroke="#cdbfbf" stroke-width="0.22"/>
<path d="M391.96,652.31 A81.95,81.95 0 0 1 389.28,654.23 L385.47,648.66 A75.20,75.20 0 0 0 387.93,646.90 Z" fill="#ffffff" stroke="#cdbfbf" stroke-width="0.22"/>
<path d="M387.93,646.90 A75.20,75.20 0 0 1 385.47,648.66 L381.66,643.09 A68.45,68.45 0 0 0 383.90,641.49 Z" fill="#6baaa2" stroke="#6baaa2" stroke-width="0.45"/>
<path d="M383.90,641.49 A68.45,68.45 0 0 1 381.66,643.09 L377.85,637.52 A61.70,61.70 0 0 0 379.87,636.08 Z" fill="#ffffff" stroke="#cdbfbf" stroke-width="0.22"/>
<path d="M379.87,636.08 A61.70,61.70 0 0 1 377.85,637.52 L374.03,631.95 A54.95,54.95 0 0 0 375.83,630.66 Z" fill="#ffffff" stroke="#cdbfbf" stroke-width="0.22"/>
<path d="M375.83,630.66 A54.95,54.95 0 0 1 374.03,631.95 L370.22,626.38 A48.20,48.20 0 0 0 371.80,625.25 Z" fill="#ffffff" stroke="#cdbfbf" stroke-width="0.22"/>
<path d="M389.28,654.23 A81.95,81.95 0 0 1 386.52,656.04 L382.94,650.32 A75.20,75.20 0 0 0 385.47,648.66 Z" fill="#ffffff" stroke="#cdbfbf" stroke-width="0.22"/>
<path d="M385.47,648.66 A75.20,75.20 0 0 1 382.94,650.32 L379.35,644.60 A68.45,68.45 0 0 0 381.66,643.09 Z" fill="#5b9b92" stroke="#5b9b92" stroke-width="0.45"/>
<path d="M381.66,643.09 A68.45,68.45 0 0 1 379.35,644.60 L375.77,638.88 A61.70,61.70 0 0 0 377.85,637.52 Z" fill="#ffffff" stroke="#cdbfbf" stroke-width="0.22"/>
<path d="M377.85,637.52 A61.70,61.70 0 0 1 375.77,638.88 L372.18,633.16 A54.95,54.95 0 0 0 374.03,631.95 Z" fill="#ffffff" stroke="#cdbfbf" stroke-width="0.22"/>
<path d="M374.03,631.95 A54.95,54.95 0 0 1 372.18,633.16 L368.60,627.44 A48.20,48.20 0 0 0 370.22,626.38 Z" fill="#ffffff" stroke="#cdbfbf" stroke-width="0.22"/>
<path d="M386.52,656.04 A81.95,81.95 0 0 1 383.69,657.73 L380.34,651.87 A75.20,75.20 0 0 0 382.94,650.32 Z" fill="#ffffff" stroke="#cdbfbf" stroke-width="0.22"/>
<path d="M382.94,650.32 A75.20,75.20 0 0 1 380.34,651.87 L376.99,646.01 A68.45,68.45 0 0 0 379.35,644.60 Z" fill="#76b4ab" stroke="#76b4ab" stroke-width="0.45"/>
<path d="M379.35,644.60 A68.45,68.45 0 0 1 376.99,646.01 L373.64,640.16 A61.70,61.70 0 0 0 375.77,638.88 Z" fill="#ffffff" stroke="#cdbfbf" stroke-width="0.22"/>
<path d="M375.77,638.88 A61.70,61.70 0 0 1 373.64,640.16 L370.29,634.30 A54.95,54.95 0 0 0 372.18,633.16 Z" fill="#ffffff" stroke="#cdbfbf" stroke-width="0.22"/>
<path d="M372.18,633.16 A54.95,54.95 0 0 1 370.29,634.30 L366.93,628.44 A48.20,48.20 0 0 0 368.60,627.44 Z" fill="#ffffff" stroke="#cdbfbf" stroke-width="0.22"/>
<path d="M383.69,657.73 A81.95,81.95 0 0 1 380.80,659.31 L377.69,653.32 A75.20,75.20 0 0 0 380.34,651.87 Z" fill="#ffffff" stroke="#cdbfbf" stroke-width="0.22"/>
<path d="M380.34,651.87 A75.20,75.20 0 0 1 377.69,653.32 L374.57,647.33 A68.45,68.45 0 0 0 376.99,646.01 Z" fill="#5e9890" stroke="#5e9890" stroke-width="0.45"/>
<path d="M376.99,646.01 A68.45,68.45 0 0 1 374.57,647.33 L371.46,641.34 A61.70,61.70 0 0 0 373.64,640.16 Z" fill="#ffffff" stroke="#cdbfbf" stroke-width="0.22"/>
<path d="M373.64,640.16 A61.70,61.70 0 0 1 371.46,641.34 L368.35,635.36 A54.95,54.95 0 0 0 370.29,634.30 Z" fill="#ffffff" stroke="#cdbfbf" stroke-width="0.22"/>
<path d="M370.29,634.30 A54.95,54.95 0 0 1 368.35,635.36 L365.23,629.37 A48.20,48.20 0 0 0 366.93,628.44 Z" fill="#6eada4" stroke="#6eada4" stroke-width="0.45"/>
<path d="M380.80,659.31 A81.95,81.95 0 0 1 377.84,660.77 L374.97,654.66 A75.20,75.20 0 0 0 377.69,653.32 Z" fill="#ffffff" stroke="#cdbfbf" stroke-width="0.22"/>
<path d="M377.69,653.32 A75.20,75.20 0 0 1 374.97,654.66 L372.10,648.55 A68.45,68.45 0 0 0 374.57,647.33 Z" fill="#5e9890" stroke="#5e9890" stroke-width="0.45"/>
<path d="M374.57,647.33 A68.45,68.45 0 0 1 372.10,648.55 L369.23,642.45 A61.70,61.70 0 0 0 371.46,641.34 Z" fill="#ffffff" stroke="#cdbfbf" stroke-width="0.22"/>
<path d="M371.46,641.34 A61.70,61.70 0 0 1 369.23,642.45 L366.36,636.34 A54.95,54.95 0 0 0 368.35,635.36 Z" fill="#ffffff" stroke="#cdbfbf" stroke-width="0.22"/>
<path d="M368.35,635.36 A54.95,54.95 0 0 1 366.36,636.34 L363.49,630.23 A48.20,48.20 0 0 0 365.23,629.37 Z" fill="#74b2a9" stroke="#74b2a9" stroke-width="0.45"/>
<path d="M377.84,660.77 A81.95,81.95 0 0 1 374.83,662.12 L372.21,655.90 A75.20,75.20 0 0 0 374.97,654.66 Z" fill="#ffffff" stroke="#cdbfbf" stroke-width="0.22"/>
<path d="M374.97,654.66 A75.20,75.20 0 0 1 372.21,655.90 L369.59,649.68 A68.45,68.45 0 0 0 372.10,648.55 Z" fill="#5e9890" stroke="#5e9890" stroke-width="0.45"/>
<path d="M372.10,648.55 A68.45,68.45 0 0 1 369.59,649.68 L366.97,643.46 A61.70,61.70 0 0 0 369.23,642.45 Z" fill="#ffffff" stroke="#cdbfbf" stroke-width="0.22"/>
<path d="M369.23,642.45 A61.70,61.70 0 0 1 366.97,643.46 L364.34,637.24 A54.95,54.95 0 0 0 366.36,636.34 Z" fill="#ffffff" stroke="#cdbfbf" stroke-width="0.22"/>
<path d="M366.36,636.34 A54.95,54.95 0 0 1 364.34,637.24 L361.72,631.02 A48.20,48.20 0 0 0 363.49,630.23 Z" fill="#ffffff" stroke="#cdbfbf" stroke-width="0.22"/>
<path d="M374.83,662.12 A81.95,81.95 0 0 1 371.77,663.34 L369.40,657.01 A75.20,75.20 0 0 0 372.21,655.90 Z" fill="#ffffff" stroke="#cdbfbf" stroke-width="0.22"/>
<path d="M372.21,655.90 A75.20,75.20 0 0 1 369.40,657.01 L367.03,650.69 A68.45,68.45 0 0 0 369.59,649.68 Z" fill="#5d9f96" stroke="#5d9f96" stroke-width="0.45"/>
<path d="M369.59,649.68 A68.45,68.45 0 0 1 367.03,650.69 L364.66,644.37 A61.70,61.70 0 0 0 366.97,643.46 Z" fill="#ffffff" stroke="#cdbfbf" stroke-width="0.22"/>
<path d="M366.97,643.46 A61.70,61.70 0 0 1 364.66,644.37 L362.29,638.05 A54.95,54.95 0 0 0 364.34,637.24 Z" fill="#ffffff" stroke="#cdbfbf" stroke-width="0.22"/>
<path d="M364.34,637.24 A54.95,54.95 0 0 1 362.29,638.05 L359.92,631.73 A48.20,48.20 0 0 0 361.72,631.02 Z" fill="#ffffff" stroke="#cdbfbf" stroke-width="0.22"/>
<path d="M371.77,663.34 A81.95,81.95 0 0 1 368.66,664.43 L366.54,658.02 A75.20,75.20 0 0 0 369.40,657.01 Z" fill="#ffffff" stroke="#cdbfbf" stroke-width="0.22"/>
<path d="M369.40,657.01 A75.20,75.20 0 0 1 366.54,658.02 L364.43,651.61 A68.45,68.45 0 0 0 367.03,650.69 Z" fill="#ffffff" stroke="#cdbfbf" stroke-width="0.22"/>
<path d="M367.03,650.69 A68.45,68.45 0 0 1 364.43,651.61 L362.32,645.20 A61.70,61.70 0 0 0 364.66,644.37 Z" fill="#ffffff" stroke="#cdbfbf" stroke-width="0.22"/>
<path d="M364.66,644.37 A61.70,61.70 0 0 1 362.32,645.20 L360.20,638.79 A54.95,54.95 0 0 0 362.29,638.05 Z" fill="#ffffff" stroke="#cdbfbf" stroke-width="0.22"/>
<path d="M362.29,638.05 A54.95,54.95 0 0 1 360.20,638.79 L358.09,632.38 A48.20,48.20 0 0 0 359.92,631.73 Z" fill="#72b0a7" stroke="#72b0a7" stroke-width="0.45"/>
<path d="M368.66,664.43 A81.95,81.95 0 0 1 365.50,665.40 L363.65,658.91 A75.20,75.20 0 0 0 366.54,658.02 Z" fill="#ffffff" stroke="#cdbfbf" stroke-width="0.22"/>
<path d="M366.54,658.02 A75.20,75.20 0 0 1 363.65,658.91 L361.80,652.42 A68.45,68.45 0 0 0 364.43,651.61 Z" fill="#ffffff" stroke="#cdbfbf" stroke-width="0.22"/>
<path d="M364.43,651.61 A68.45,68.45 0 0 1 361.80,652.42 L359.94,645.93 A61.70,61.70 0 0 0 362.32,645.20 Z" fill="#ffffff" stroke="#cdbfbf" stroke-width="0.22"/>
<path d="M362.32,645.20 A61.70,61.70 0 0 1 359.94,645.93 L358.09,639.44 A54.95,54.95 0 0 0 360.20,638.79 Z" fill="#ffffff" stroke="#cdbfbf" stroke-width="0.22"/>
<path d="M360.20,638.79 A54.95,54.95 0 0 1 358.09,639.44 L356.24,632.95 A48.20,48.20 0 0 0 358.09,632.38 Z" fill="#65a59d" stroke="#65a59d" stroke-width="0.45"/>
<path d="M365.50,665.40 A81.95,81.95 0 0 1 362.32,666.24 L360.72,659.68 A75.20,75.20 0 0 0 363.65,658.91 Z" fill="#ffffff" stroke="#cdbfbf" stroke-width="0.22"/>
<path d="M363.65,658.91 A75.20,75.20 0 0 1 360.72,659.68 L359.13,653.12 A68.45,68.45 0 0 0 361.80,652.42 Z" fill="#ffffff" stroke="#cdbfbf" stroke-width="0.22"/>
<path d="M361.80,652.42 A68.45,68.45 0 0 1 359.13,653.12 L357.54,646.56 A61.70,61.70 0 0 0 359.94,645.93 Z" fill="#ffffff" stroke="#cdbfbf" stroke-width="0.22"/>
<path d="M359.94,645.93 A61.70,61.70 0 0 1 357.54,646.56 L355.95,640.00 A54.95,54.95 0 0 0 358.09,639.44 Z" fill="#ffffff" stroke="#cdbfbf" stroke-width="0.22"/>
<path d="M358.09,639.44 A54.95,54.95 0 0 1 355.95,640.00 L354.36,633.44 A48.20,48.20 0 0 0 356.24,632.95 Z" fill="#63a39b" stroke="#63a39b" stroke-width="0.45"/>
<path d="M362.32,666.24 A81.95,81.95 0 0 1 359.10,666.95 L357.77,660.34 A75.20,75.20 0 0 0 360.72,659.68 Z" fill="#ffffff" stroke="#cdbfbf" stroke-width="0.22"/>
<path d="M360.72,659.68 A75.20,75.20 0 0 1 357.77,660.34 L356.44,653.72 A68.45,68.45 0 0 0 359.13,653.12 Z" fill="#ffffff" stroke="#cdbfbf" stroke-width="0.22"/>
<path d="M359.13,653.12 A68.45,68.45 0 0 1 356.44,653.72 L355.12,647.10 A61.70,61.70 0 0 0 357.54,646.56 Z" fill="#ffffff" stroke="#cdbfbf" stroke-width="0.22"/>
<path d="M357.54,646.56 A61.70,61.70 0 0 1 355.12,647.10 L353.79,640.48 A54.95,54.95 0 0 0 355.95,640.00 Z" fill="#ffffff" stroke="#cdbfbf" stroke-width="0.22"/>
<path d="M355.95,640.00 A54.95,54.95 0 0 1 353.79,640.48 L352.47,633.86 A48.20,48.20 0 0 0 354.36,633.44 Z" fill="#6caba2" stroke="#6caba2" stroke-width="0.45"/>
<path d="M359.10,666.95 A81.95,81.95 0 0 1 355.85,667.54 L354.79,660.87 A75.20,75.20 0 0 0 357.77,660.34 Z" fill="#ffffff" stroke="#cdbfbf" stroke-width="0.22"/>
<path d="M357.77,660.34 A75.20,75.20 0 0 1 354.79,660.87 L353.73,654.20 A68.45,68.45 0 0 0 356.44,653.72 Z" fill="#ffffff" stroke="#cdbfbf" stroke-width="0.22"/>
<path d="M356.44,653.72 A68.45,68.45 0 0 1 353.73,654.20 L352.67,647.54 A61.70,61.70 0 0 0 355.12,647.10 Z" fill="#ffffff" stroke="#cdbfbf" stroke-width="0.22"/>
<path d="M355.12,647.10 A61.70,61.70 0 0 1 352.67,647.54 L351.62,640.87 A54.95,54.95 0 0 0 353.79,640.48 Z" fill="#ffffff" stroke="#cdbfbf" stroke-width="0.22"/>
<path d="M353.79,640.48 A54.95,54.95 0 0 1 351.62,640.87 L350.56,634.20 A48.20,48.20 0 0 0 352.47,633.86 Z" fill="#66a69e" stroke="#66a69e" stroke-width="0.45"/>
<path d="M355.85,667.54 A81.95,81.95 0 0 1 352.58,667.99 L351.79,661.28 A75.20,75.20 0 0 0 354.79,660.87 Z" fill="#ffffff" stroke="#cdbfbf" stroke-width="0.22"/>
<path d="M354.79,660.87 A75.20,75.20 0 0 1 351.79,661.28 L351.00,654.58 A68.45,68.45 0 0 0 353.73,654.20 Z" fill="#ffffff" stroke="#cdbfbf" stroke-width="0.22"/>
<path d="M353.73,654.20 A68.45,68.45 0 0 1 351.00,654.58 L350.22,647.88 A61.70,61.70 0 0 0 352.67,647.54 Z" fill="#ffffff" stroke="#cdbfbf" stroke-width="0.22"/>
<path d="M352.67,647.54 A61.70,61.70 0 0 1 350.22,647.88 L349.43,641.17 A54.95,54.95 0 0 0 351.62,640.87 Z" fill="#ffffff" stroke="#cdbfbf" stroke-width="0.22"/>
<path d="M351.62,640.87 A54.95,54.95 0 0 1 349.43,641.17 L348.64,634.47 A48.20,48.20 0 0 0 350.56,634.20 Z" fill="#76b3aa" stroke="#76b3aa" stroke-width="0.45"/>
<path d="M352.58,667.99 A81.95,81.95 0 0 1 349.30,668.31 L348.78,661.58 A75.20,75.20 0 0 0 351.79,661.28 Z" fill="#ffffff" stroke="#cdbfbf" stroke-width="0.22"/>
<path d="M351.79,661.28 A75.20,75.20 0 0 1 348.78,661.58 L348.26,654.85 A68.45,68.45 0 0 0 351.00,654.58 Z" fill="#ffffff" stroke="#cdbfbf" stroke-width="0.22"/>
<path d="M351.00,654.58 A68.45,68.45 0 0 1 348.26,654.85 L347.74,648.12 A61.70,61.70 0 0 0 350.22,647.88 Z" fill="#ffffff" stroke="#cdbfbf" stroke-width="0.22"/>
<path d="M350.22,647.88 A61.70,61.70 0 0 1 347.74,648.12 L347.23,641.39 A54.95,54.95 0 0 0 349.43,641.17 Z" fill="#ffffff" stroke="#cdbfbf" stroke-width="0.22"/>
<path d="M349.43,641.17 A54.95,54.95 0 0 1 347.23,641.39 L346.71,634.66 A48.20,48.20 0 0 0 348.64,634.47 Z" fill="#5a9c94" stroke="#5a9c94" stroke-width="0.45"/>
<path d="M349.30,668.31 A81.95,81.95 0 0 1 346.01,668.49 L345.76,661.75 A75.20,75.20 0 0 0 348.78,661.58 Z" fill="#ffffff" stroke="#cdbfbf" stroke-width="0.22"/>
<path d="M348.78,661.58 A75.20,75.20 0 0 1 345.76,661.75 L345.51,655.00 A68.45,68.45 0 0 0 348.26,654.85 Z" fill="#ffffff" stroke="#cdbfbf" stroke-width="0.22"/>
<path d="M348.26,654.85 A68.45,68.45 0 0 1 345.51,655.00 L345.27,648.26 A61.70,61.70 0 0 0 347.74,648.12 Z" fill="#ffffff" stroke="#cdbfbf" stroke-width="0.22"/>
<path d="M347.74,648.12 A61.70,61.70 0 0 1 345.27,648.26 L345.02,641.51 A54.95,54.95 0 0 0 347.23,641.39 Z" fill="#ffffff" stroke="#cdbfbf" stroke-width="0.22"/>
<path d="M347.23,641.39 A54.95,54.95 0 0 1 345.02,641.51 L344.77,634.77 A48.20,48.20 0 0 0 346.71,634.66 Z" fill="#5a9c94" stroke="#5a9c94" stroke-width="0.45"/>
<path d="M346.01,668.49 A81.95,81.95 0 0 1 342.71,668.55 L342.74,661.80 A75.20,75.20 0 0 0 345.76,661.75 Z" fill="#ffffff" stroke="#cdbfbf" stroke-width="0.22"/>
<path d="M345.76,661.75 A75.20,75.20 0 0 1 342.74,661.80 L342.76,655.05 A68.45,68.45 0 0 0 345.51,655.00 Z" fill="#ffffff" stroke="#cdbfbf" stroke-width="0.22"/>
<path d="M345.51,655.00 A68.45,68.45 0 0 1 342.76,655.05 L342.78,648.30 A61.70,61.70 0 0 0 345.27,648.26 Z" fill="#ffffff" stroke="#cdbfbf" stroke-width="0.22"/>
<path d="M345.27,648.26 A61.70,61.70 0 0 1 342.78,648.30 L342.81,641.55 A54.95,54.95 0 0 0 345.02,641.51 Z" fill="#ffffff" stroke="#cdbfbf" stroke-width="0.22"/>
<path d="M345.02,641.51 A54.95,54.95 0 0 1 342.81,641.55 L342.83,634.80 A48.20,48.20 0 0 0 344.77,634.77 Z" fill="#5a9c94" stroke="#5a9c94" stroke-width="0.45"/>
<path d="M342.71,668.55 A81.95,81.95 0 0 1 339.42,668.47 L339.71,661.73 A75.20,75.20 0 0 0 342.74,661.80 Z" fill="#ffffff" stroke="#cdbfbf" stroke-width="0.22"/>
<path d="M342.74,661.80 A75.20,75.20 0 0 1 339.71,661.73 L340.01,654.98 A68.45,68.45 0 0 0 342.76,655.05 Z" fill="#ffffff" stroke="#cdbfbf" stroke-width="0.22"/>
<path d="M342.76,655.05 A68.45,68.45 0 0 1 340.01,654.98 L340.30,648.24 A61.70,61.70 0 0 0 342.78,648.30 Z" fill="#ffffff" stroke="#cdbfbf" stroke-width="0.22"/>
<path d="M342.78,648.30 A61.70,61.70 0 0 1 340.30,648.24 L340.60,641.50 A54.95,54.95 0 0 0 342.81,641.55 Z" fill="#ffffff" stroke="#cdbfbf" stroke-width="0.22"/>
<path d="M342.81,641.55 A54.95,54.95 0 0 1 340.60,641.50 L340.89,634.75 A48.20,48.20 0 0 0 342.83,634.80 Z" fill="#6aa9a1" stroke="#6aa9a1" stroke-width="0.45"/>
<path d="M339.42,668.47 A81.95,81.95 0 0 1 336.12,668.26 L336.69,661.53 A75.20,75.20 0 0 0 339.71,661.73 Z" fill="#ffffff" stroke="#cdbfbf" stroke-width="0.22"/>
<path d="M339.71,661.73 A75.20,75.20 0 0 1 336.69,661.53 L337.26,654.81 A68.45,68.45 0 0 0 340.01,654.98 Z" fill="#ffffff" stroke="#cdbfbf" stroke-width="0.22"/>
<path d="M340.01,654.98 A68.45,68.45 0 0 1 337.26,654.81 L337.82,648.08 A61.70,61.70 0 0 0 340.30,648.24 Z" fill="#ffffff" stroke="#cdbfbf" stroke-width="0.22"/>
<path d="M340.30,648.24 A61.70,61.70 0 0 1 337.82,648.08 L338.39,641.36 A54.95,54.95 0 0 0 340.60,641.50 Z" fill="#ffffff" stroke="#cdbfbf" stroke-width="0.22"/>
<path d="M340.60,641.50 A54.95,54.95 0 0 1 338.39,641.36 L338.96,634.63 A48.20,48.20 0 0 0 340.89,634.75 Z" fill="#6eaca4" stroke="#6eaca4" stroke-width="0.45"/>
<path d="M336.12,668.26 A81.95,81.95 0 0 1 332.84,667.92 L333.68,661.22 A75.20,75.20 0 0 0 336.69,661.53 Z" fill="#ffffff" stroke="#cdbfbf" stroke-width="0.22"/>
<path d="M336.69,661.53 A75.20,75.20 0 0 1 333.68,661.22 L334.52,654.52 A68.45,68.45 0 0 0 337.26,654.81 Z" fill="#ffffff" stroke="#cdbfbf" stroke-width="0.22"/>
<path d="M337.26,654.81 A68.45,68.45 0 0 1 334.52,654.52 L335.35,647.82 A61.70,61.70 0 0 0 337.82,648.08 Z" fill="#ffffff" stroke="#cdbfbf" stroke-width="0.22"/>
<path d="M337.82,648.08 A61.70,61.70 0 0 1 335.35,647.82 L336.19,641.13 A54.95,54.95 0 0 0 338.39,641.36 Z" fill="#ffffff" stroke="#cdbfbf" stroke-width="0.22"/>
<path d="M338.39,641.36 A54.95,54.95 0 0 1 336.19,641.13 L337.03,634.43 A48.20,48.20 0 0 0 338.96,634.63 Z" fill="#65a59d" stroke="#65a59d" stroke-width="0.45"/>
<path d="M332.84,667.92 A81.95,81.95 0 0 1 329.58,667.44 L330.69,660.78 A75.20,75.20 0 0 0 333.68,661.22 Z" fill="#ffffff" stroke="#cdbfbf" stroke-width="0.22"/>
<path d="M333.68,661.22 A75.20,75.20 0 0 1 330.69,660.78 L331.79,654.13 A68.45,68.45 0 0 0 334.52,654.52 Z" fill="#ffffff" stroke="#cdbfbf" stroke-width="0.22"/>
<path d="M334.52,654.52 A68.45,68.45 0 0 1 331.79,654.13 L332.90,647.47 A61.70,61.70 0 0 0 335.35,647.82 Z" fill="#ffffff" stroke="#cdbfbf" stroke-width="0.22"/>
<path d="M335.35,647.82 A61.70,61.70 0 0 1 332.90,647.47 L334.00,640.81 A54.95,54.95 0 0 0 336.19,641.13 Z" fill="#ffffff" stroke="#cdbfbf" stroke-width="0.22"/>
<path d="M336.19,641.13 A54.95,54.95 0 0 1 334.00,640.81 L335.11,634.15 A48.20,48.20 0 0 0 337.03,634.43 Z" fill="#69a9a0" stroke="#69a9a0" stroke-width="0.45"/>
<path d="M329.58,667.44 A81.95,81.95 0 0 1 326.34,666.84 L327.71,660.23 A75.20,75.20 0 0 0 330.69,660.78 Z" fill="#ffffff" stroke="#cdbfbf" stroke-width="0.22"/>
<path d="M330.69,660.78 A75.20,75.20 0 0 1 327.71,660.23 L329.08,653.62 A68.45,68.45 0 0 0 331.79,654.13 Z" fill="#ffffff" stroke="#cdbfbf" stroke-width="0.22"/>
<path d="M331.79,654.13 A68.45,68.45 0 0 1 329.08,653.62 L330.46,647.01 A61.70,61.70 0 0 0 332.90,647.47 Z" fill="#ffffff" stroke="#cdbfbf" stroke-width="0.22"/>
<path d="M332.90,647.47 A61.70,61.70 0 0 1 330.46,647.01 L331.83,640.40 A54.95,54.95 0 0 0 334.00,640.81 Z" fill="#ffffff" stroke="#cdbfbf" stroke-width="0.22"/>
<path d="M334.00,640.81 A54.95,54.95 0 0 1 331.83,640.40 L333.20,633.79 A48.20,48.20 0 0 0 335.11,634.15 Z" fill="#6eada4" stroke="#6eada4" stroke-width="0.45"/>
<path d="M326.34,666.84 A81.95,81.95 0 0 1 323.12,666.10 L324.76,659.55 A75.20,75.20 0 0 0 327.71,660.23 Z" fill="#5e9f97" stroke="#5e9f97" stroke-width="0.45"/>
<path d="M327.71,660.23 A75.20,75.20 0 0 1 324.76,659.55 L326.40,653.01 A68.45,68.45 0 0 0 329.08,653.62 Z" fill="#ffffff" stroke="#cdbfbf" stroke-width="0.22"/>
<path d="M329.08,653.62 A68.45,68.45 0 0 1 326.40,653.01 L328.04,646.46 A61.70,61.70 0 0 0 330.46,647.01 Z" fill="#ffffff" stroke="#cdbfbf" stroke-width="0.22"/>
<path d="M330.46,647.01 A61.70,61.70 0 0 1 328.04,646.46 L329.67,639.91 A54.95,54.95 0 0 0 331.83,640.40 Z" fill="#ffffff" stroke="#cdbfbf" stroke-width="0.22"/>
<path d="M331.83,640.40 A54.95,54.95 0 0 1 329.67,639.91 L331.31,633.36 A48.20,48.20 0 0 0 333.20,633.79 Z" fill="#61a29a" stroke="#61a29a" stroke-width="0.45"/>
<path d="M323.12,666.10 A81.95,81.95 0 0 1 319.94,665.24 L321.84,658.76 A75.20,75.20 0 0 0 324.76,659.55 Z" fill="#70aea6" stroke="#70aea6" stroke-width="0.45"/>
<path d="M324.76,659.55 A75.20,75.20 0 0 1 321.84,658.76 L323.74,652.28 A68.45,68.45 0 0 0 326.40,653.01 Z" fill="#ffffff" stroke="#cdbfbf" stroke-width="0.22"/>
<path d="M326.40,653.01 A68.45,68.45 0 0 1 323.74,652.28 L325.64,645.81 A61.70,61.70 0 0 0 328.04,646.46 Z" fill="#ffffff" stroke="#cdbfbf" stroke-width="0.22"/>
<path d="M328.04,646.46 A61.70,61.70 0 0 1 325.64,645.81 L327.54,639.33 A54.95,54.95 0 0 0 329.67,639.91 Z" fill="#ffffff" stroke="#cdbfbf" stroke-width="0.22"/>
<path d="M329.67,639.91 A54.95,54.95 0 0 1 327.54,639.33 L329.44,632.85 A48.20,48.20 0 0 0 331.31,633.36 Z" fill="#65a59d" stroke="#65a59d" stroke-width="0.45"/>
<path d="M319.94,665.24 A81.95,81.95 0 0 1 316.80,664.25 L318.96,657.85 A75.20,75.20 0 0 0 321.84,658.76 Z" fill="#67a79e" stroke="#67a79e" stroke-width="0.45"/>
<path d="M321.84,658.76 A75.20,75.20 0 0 1 318.96,657.85 L321.11,651.46 A68.45,68.45 0 0 0 323.74,652.28 Z" fill="#ffffff" stroke="#cdbfbf" stroke-width="0.22"/>
<path d="M323.74,652.28 A68.45,68.45 0 0 1 321.11,651.46 L323.27,645.06 A61.70,61.70 0 0 0 325.64,645.81 Z" fill="#ffffff" stroke="#cdbfbf" stroke-width="0.22"/>
<path d="M325.64,645.81 A61.70,61.70 0 0 1 323.27,645.06 L325.43,638.67 A54.95,54.95 0 0 0 327.54,639.33 Z" fill="#ffffff" stroke="#cdbfbf" stroke-width="0.22"/>
<path d="M327.54,639.33 A54.95,54.95 0 0 1 325.43,638.67 L327.59,632.27 A48.20,48.20 0 0 0 329.44,632.85 Z" fill="#5b9d95" stroke="#5b9d95" stroke-width="0.45"/>
<path d="M316.80,664.25 A81.95,81.95 0 0 1 313.69,663.13 L316.11,656.83 A75.20,75.20 0 0 0 318.96,657.85 Z" fill="#60a199" stroke="#60a199" stroke-width="0.45"/>
<path d="M318.96,657.85 A75.20,75.20 0 0 1 316.11,656.83 L318.52,650.52 A68.45,68.45 0 0 0 321.11,651.46 Z" fill="#ffffff" stroke="#cdbfbf" stroke-width="0.22"/>
<path d="M321.11,651.46 A68.45,68.45 0 0 1 318.52,650.52 L320.94,644.22 A61.70,61.70 0 0 0 323.27,645.06 Z" fill="#ffffff" stroke="#cdbfbf" stroke-width="0.22"/>
<path d="M323.27,645.06 A61.70,61.70 0 0 1 320.94,644.22 L323.35,637.92 A54.95,54.95 0 0 0 325.43,638.67 Z" fill="#6eada4" stroke="#6eada4" stroke-width="0.45"/>
<path d="M325.43,638.67 A54.95,54.95 0 0 1 323.35,637.92 L325.76,631.61 A48.20,48.20 0 0 0 327.59,632.27 Z" fill="#5c9b92" stroke="#5c9b92" stroke-width="0.45"/>
<path d="M313.69,663.13 A81.95,81.95 0 0 1 310.64,661.89 L313.30,655.69 A75.20,75.20 0 0 0 316.11,656.83 Z" fill="#ffffff" stroke="#cdbfbf" stroke-width="0.22"/>
<path d="M316.11,656.83 A75.20,75.20 0 0 1 313.30,655.69 L315.97,649.49 A68.45,68.45 0 0 0 318.52,650.52 Z" fill="#ffffff" stroke="#cdbfbf" stroke-width="0.22"/>
<path d="M318.52,650.52 A68.45,68.45 0 0 1 315.97,649.49 L318.64,643.29 A61.70,61.70 0 0 0 320.94,644.22 Z" fill="#ffffff" stroke="#cdbfbf" stroke-width="0.22"/>
<path d="M320.94,644.22 A61.70,61.70 0 0 1 318.64,643.29 L321.30,637.08 A54.95,54.95 0 0 0 323.35,637.92 Z" fill="#74b2a9" stroke="#74b2a9" stroke-width="0.45"/>
<path d="M323.35,637.92 A54.95,54.95 0 0 1 321.30,637.08 L323.97,630.88 A48.20,48.20 0 0 0 325.76,631.61 Z" fill="#ffffff" stroke="#cdbfbf" stroke-width="0.22"/>
<path d="M310.64,661.89 A81.95,81.95 0 0 1 307.64,660.53 L310.55,654.44 A75.20,75.20 0 0 0 313.30,655.69 Z" fill="#ffffff" stroke="#cdbfbf" stroke-width="0.22"/>
<path d="M313.30,655.69 A75.20,75.20 0 0 1 310.55,654.44 L313.46,648.35 A68.45,68.45 0 0 0 315.97,649.49 Z" fill="#ffffff" stroke="#cdbfbf" stroke-width="0.22"/>
<path d="M315.97,649.49 A68.45,68.45 0 0 1 313.46,648.35 L316.37,642.26 A61.70,61.70 0 0 0 318.64,643.29 Z" fill="#ffffff" stroke="#cdbfbf" stroke-width="0.22"/>
<path d="M318.64,643.29 A61.70,61.70 0 0 1 316.37,642.26 L319.29,636.17 A54.95,54.95 0 0 0 321.30,637.08 Z" fill="#6aaaa1" stroke="#6aaaa1" stroke-width="0.45"/>
<path d="M321.30,637.08 A54.95,54.95 0 0 1 319.29,636.17 L322.20,630.08 A48.20,48.20 0 0 0 323.97,630.88 Z" fill="#ffffff" stroke="#cdbfbf" stroke-width="0.22"/>
<path d="M307.64,660.53 A81.95,81.95 0 0 1 304.69,659.04 L307.85,653.08 A75.20,75.20 0 0 0 310.55,654.44 Z" fill="#ffffff" stroke="#cdbfbf" stroke-width="0.22"/>
<path d="M310.55,654.44 A75.20,75.20 0 0 1 307.85,653.08 L311.00,647.11 A68.45,68.45 0 0 0 313.46,648.35 Z" fill="#ffffff" stroke="#cdbfbf" stroke-width="0.22"/>
<path d="M313.46,648.35 A68.45,68.45 0 0 1 311.00,647.11 L314.16,641.14 A61.70,61.70 0 0 0 316.37,642.26 Z" fill="#ffffff" stroke="#cdbfbf" stroke-width="0.22"/>
<path d="M316.37,642.26 A61.70,61.70 0 0 1 314.16,641.14 L317.31,635.18 A54.95,54.95 0 0 0 319.29,636.17 Z" fill="#5fa098" stroke="#5fa098" stroke-width="0.45"/>
<path d="M319.29,636.17 A54.95,54.95 0 0 1 317.31,635.18 L320.47,629.21 A48.20,48.20 0 0 0 322.20,630.08 Z" fill="#ffffff" stroke="#cdbfbf" stroke-width="0.22"/>
<path d="M304.69,659.04 A81.95,81.95 0 0 1 301.81,657.44 L305.20,651.61 A75.20,75.20 0 0 0 307.85,653.08 Z" fill="#ffffff" stroke="#cdbfbf" stroke-width="0.22"/>
<path d="M307.85,653.08 A75.20,75.20 0 0 1 305.20,651.61 L308.59,645.77 A68.45,68.45 0 0 0 311.00,647.11 Z" fill="#ffffff" stroke="#cdbfbf" stroke-width="0.22"/>
<path d="M311.00,647.11 A68.45,68.45 0 0 1 308.59,645.77 L311.99,639.94 A61.70,61.70 0 0 0 314.16,641.14 Z" fill="#ffffff" stroke="#cdbfbf" stroke-width="0.22"/>
<path d="M314.16,641.14 A61.70,61.70 0 0 1 311.99,639.94 L315.38,634.10 A54.95,54.95 0 0 0 317.31,635.18 Z" fill="#73b1a8" stroke="#73b1a8" stroke-width="0.45"/>
<path d="M317.31,635.18 A54.95,54.95 0 0 1 315.38,634.10 L318.77,628.27 A48.20,48.20 0 0 0 320.47,629.21 Z" fill="#ffffff" stroke="#cdbfbf" stroke-width="0.22"/>
<path d="M301.81,657.44 A81.95,81.95 0 0 1 298.99,655.73 L302.61,650.04 A75.20,75.20 0 0 0 305.20,651.61 Z" fill="#68a89f" stroke="#68a89f" stroke-width="0.45"/>
<path d="M305.20,651.61 A75.20,75.20 0 0 1 302.61,650.04 L306.24,644.34 A68.45,68.45 0 0 0 308.59,645.77 Z" fill="#ffffff" stroke="#cdbfbf" stroke-width="0.22"/>
<path d="M308.59,645.77 A68.45,68.45 0 0 1 306.24,644.34 L309.86,638.65 A61.70,61.70 0 0 0 311.99,639.94 Z" fill="#ffffff" stroke="#cdbfbf" stroke-width="0.22"/>
<path d="M311.99,639.94 A61.70,61.70 0 0 1 309.86,638.65 L313.49,632.95 A54.95,54.95 0 0 0 315.38,634.10 Z" fill="#77b4ab" stroke="#77b4ab" stroke-width="0.45"/>
<path d="M315.38,634.10 A54.95,54.95 0 0 1 313.49,632.95 L317.11,627.26 A48.20,48.20 0 0 0 318.77,628.27 Z" fill="#ffffff" stroke="#cdbfbf" stroke-width="0.22"/>
<path d="M298.99,655.73 A81.95,81.95 0 0 1 296.24,653.90 L300.10,648.36 A75.20,75.20 0 0 0 302.61,650.04 Z" fill="#62a39a" stroke="#62a39a" stroke-width="0.45"/>
<path d="M302.61,650.04 A75.20,75.20 0 0 1 300.10,648.36 L303.95,642.82 A68.45,68.45 0 0 0 306.24,644.34 Z" fill="#ffffff" stroke="#cdbfbf" stroke-width="0.22"/>
<path d="M306.24,644.34 A68.45,68.45 0 0 1 303.95,642.82 L307.80,637.27 A61.70,61.70 0 0 0 309.86,638.65 Z" fill="#ffffff" stroke="#cdbfbf" stroke-width="0.22"/>
<path d="M309.86,638.65 A61.70,61.70 0 0 1 307.80,637.27 L311.65,631.73 A54.95,54.95 0 0 0 313.49,632.95 Z" fill="#5fa098" stroke="#5fa098" stroke-width="0.45"/>
<path d="M313.49,632.95 A54.95,54.95 0 0 1 311.65,631.73 L315.50,626.19 A48.20,48.20 0 0 0 317.11,627.26 Z" fill="#ffffff" stroke="#cdbfbf" stroke-width="0.22"/>
<path d="M296.24,653.90 A81.95,81.95 0 0 1 293.57,651.97 L297.65,646.58 A75.20,75.20 0 0 0 300.10,648.36 Z" fill="#65a59d" stroke="#65a59d" stroke-width="0.45"/>
<path d="M300.10,648.36 A75.20,75.20 0 0 1 297.65,646.58 L301.72,641.20 A68.45,68.45 0 0 0 303.95,642.82 Z" fill="#ffffff" stroke="#cdbfbf" stroke-width="0.22"/>
<path d="M303.95,642.82 A68.45,68.45 0 0 1 301.72,641.20 L305.79,635.82 A61.70,61.70 0 0 0 307.80,637.27 Z" fill="#ffffff" stroke="#cdbfbf" stroke-width="0.22"/>
<path d="M307.80,637.27 A61.70,61.70 0 0 1 305.79,635.82 L309.86,630.43 A54.95,54.95 0 0 0 311.65,631.73 Z" fill="#5b9d95" stroke="#5b9d95" stroke-width="0.45"/>
<path d="M311.65,631.73 A54.95,54.95 0 0 1 309.86,630.43 L313.93,625.05 A48.20,48.20 0 0 0 315.50,626.19 Z" fill="#ffffff" stroke="#cdbfbf" stroke-width="0.22"/>
<path d="M293.57,651.97 A81.95,81.95 0 0 1 290.98,649.93 L295.27,644.71 A75.20,75.20 0 0 0 297.65,646.58 Z" fill="#6eaca4" stroke="#6eaca4" stroke-width="0.45"/>
<path d="M297.65,646.58 A75.20,75.20 0 0 1 295.27,644.71 L299.55,639.49 A68.45,68.45 0 0 0 301.72,641.20 Z" fill="#ffffff" stroke="#cdbfbf" stroke-width="0.22"/>
<path d="M301.72,641.20 A68.45,68.45 0 0 1 299.55,639.49 L303.84,634.28 A61.70,61.70 0 0 0 305.79,635.82 Z" fill="#ffffff" stroke="#cdbfbf" stroke-width="0.22"/>
<path d="M305.79,635.82 A61.70,61.70 0 0 1 303.84,634.28 L308.12,629.06 A54.95,54.95 0 0 0 309.86,630.43 Z" fill="#61a29a" stroke="#61a29a" stroke-width="0.45"/>
<path d="M309.86,630.43 A54.95,54.95 0 0 1 308.12,629.06 L312.41,623.85 A48.20,48.20 0 0 0 313.93,625.05 Z" fill="#ffffff" stroke="#cdbfbf" stroke-width="0.22"/>
<path d="M290.98,649.93 A81.95,81.95 0 0 1 288.48,647.78 L292.97,642.74 A75.20,75.20 0 0 0 295.27,644.71 Z" fill="#64a59c" stroke="#64a59c" stroke-width="0.45"/>
<path d="M295.27,644.71 A75.20,75.20 0 0 1 292.97,642.74 L297.46,637.70 A68.45,68.45 0 0 0 299.55,639.49 Z" fill="#ffffff" stroke="#cdbfbf" stroke-width="0.22"/>
<path d="M299.55,639.49 A68.45,68.45 0 0 1 297.46,637.70 L301.95,632.66 A61.70,61.70 0 0 0 303.84,634.28 Z" fill="#ffffff" stroke="#cdbfbf" stroke-width="0.22"/>
<path d="M303.84,634.28 A61.70,61.70 0 0 1 301.95,632.66 L306.44,627.62 A54.95,54.95 0 0 0 308.12,629.06 Z" fill="#65a59d" stroke="#65a59d" stroke-width="0.45"/>
<path d="M308.12,629.06 A54.95,54.95 0 0 1 306.44,627.62 L310.93,622.59 A48.20,48.20 0 0 0 312.41,623.85 Z" fill="#ffffff" stroke="#cdbfbf" stroke-width="0.22"/>
<path d="M288.48,647.78 A81.95,81.95 0 0 1 286.06,645.54 L290.75,640.68 A75.20,75.20 0 0 0 292.97,642.74 Z" fill="#69a8a0" stroke="#69a8a0" stroke-width="0.45"/>
<path d="M292.97,642.74 A75.20,75.20 0 0 1 290.75,640.68 L295.44,635.83 A68.45,68.45 0 0 0 297.46,637.70 Z" fill="#5c9e96" stroke="#5c9e96" stroke-width="0.45"/>
<path d="M297.46,637.70 A68.45,68.45 0 0 1 295.44,635.83 L300.13,630.98 A61.70,61.70 0 0 0 301.95,632.66 Z" fill="#ffffff" stroke="#cdbfbf" stroke-width="0.22"/>
<path d="M301.95,632.66 A61.70,61.70 0 0 1 300.13,630.98 L304.82,626.12 A54.95,54.95 0 0 0 306.44,627.62 Z" fill="#ffffff" stroke="#cdbfbf" stroke-width="0.22"/>
<path d="M306.44,627.62 A54.95,54.95 0 0 1 304.82,626.12 L309.51,621.27 A48.20,48.20 0 0 0 310.93,622.59 Z" fill="#ffffff" stroke="#cdbfbf" stroke-width="0.22"/>
<path d="M286.06,645.54 A81.95,81.95 0 0 1 283.74,643.20 L288.62,638.54 A75.20,75.20 0 0 0 290.75,640.68 Z" fill="#777162" stroke="#777162" stroke-width="0.45"/>
<path d="M290.75,640.68 A75.20,75.20 0 0 1 288.62,638.54 L293.50,633.88 A68.45,68.45 0 0 0 295.44,635.83 Z" fill="#68a89f" stroke="#68a89f" stroke-width="0.45"/>
<path d="M295.44,635.83 A68.45,68.45 0 0 1 293.50,633.88 L298.38,629.21 A61.70,61.70 0 0 0 300.13,630.98 Z" fill="#ffffff" stroke="#cdbfbf" stroke-width="0.22"/>
<path d="M300.13,630.98 A61.70,61.70 0 0 1 298.38,629.21 L303.26,624.55 A54.95,54.95 0 0 0 304.82,626.12 Z" fill="#ffffff" stroke="#cdbfbf" stroke-width="0.22"/>
<path d="M304.82,626.12 A54.95,54.95 0 0 1 303.26,624.55 L308.14,619.89 A48.20,48.20 0 0 0 309.51,621.27 Z" fill="#ffffff" stroke="#cdbfbf" stroke-width="0.22"/>
<path d="M283.74,643.20 A81.95,81.95 0 0 1 281.51,640.77 L286.57,636.31 A75.20,75.20 0 0 0 288.62,638.54 Z" fill="#62a39a" stroke="#62a39a" stroke-width="0.45"/>
<path d="M288.62,638.54 A75.20,75.20 0 0 1 286.57,636.31 L291.64,631.85 A68.45,68.45 0 0 0 293.50,633.88 Z" fill="#76b3aa" stroke="#76b3aa" stroke-width="0.45"/>
<path d="M293.50,633.88 A68.45,68.45 0 0 1 291.64,631.85 L296.70,627.38 A61.70,61.70 0 0 0 298.38,629.21 Z" fill="#ffffff" stroke="#cdbfbf" stroke-width="0.22"/>
<path d="M298.38,629.21 A61.70,61.70 0 0 1 296.70,627.38 L301.77,622.92 A54.95,54.95 0 0 0 303.26,624.55 Z" fill="#ffffff" stroke="#cdbfbf" stroke-width="0.22"/>
<path d="M303.26,624.55 A54.95,54.95 0 0 1 301.77,622.92 L306.83,618.46 A48.20,48.20 0 0 0 308.14,619.89 Z" fill="#ffffff" stroke="#cdbfbf" stroke-width="0.22"/>
<path d="M281.51,640.77 A81.95,81.95 0 0 1 279.38,638.25 L284.62,634.00 A75.20,75.20 0 0 0 286.57,636.31 Z" fill="#61a299" stroke="#61a299" stroke-width="0.45"/>
<path d="M286.57,636.31 A75.20,75.20 0 0 1 284.62,634.00 L289.86,629.74 A68.45,68.45 0 0 0 291.64,631.85 Z" fill="#63a39b" stroke="#63a39b" stroke-width="0.45"/>
<path d="M291.64,631.85 A68.45,68.45 0 0 1 289.86,629.74 L295.10,625.49 A61.70,61.70 0 0 0 296.70,627.38 Z" fill="#ffffff" stroke="#cdbfbf" stroke-width="0.22"/>
<path d="M296.70,627.38 A61.70,61.70 0 0 1 295.10,625.49 L300.34,621.23 A54.95,54.95 0 0 0 301.77,622.92 Z" fill="#ffffff" stroke="#cdbfbf" stroke-width="0.22"/>
<path d="M301.77,622.92 A54.95,54.95 0 0 1 300.34,621.23 L305.58,616.98 A48.20,48.20 0 0 0 306.83,618.46 Z" fill="#ffffff" stroke="#cdbfbf" stroke-width="0.22"/>
<path d="M279.38,638.25 A81.95,81.95 0 0 1 277.35,635.65 L282.76,631.61 A75.20,75.20 0 0 0 284.62,634.00 Z" fill="#5c9a92" stroke="#5c9a92" stroke-width="0.45"/>
<path d="M284.62,634.00 A75.20,75.20 0 0 1 282.76,631.61 L288.17,627.57 A68.45,68.45 0 0 0 289.86,629.74 Z" fill="#5d9e96" stroke="#5d9e96" stroke-width="0.45"/>
<path d="M289.86,629.74 A68.45,68.45 0 0 1 288.17,627.57 L293.57,623.53 A61.70,61.70 0 0 0 295.10,625.49 Z" fill="#ffffff" stroke="#cdbfbf" stroke-width="0.22"/>
<path d="M295.10,625.49 A61.70,61.70 0 0 1 293.57,623.53 L298.98,619.49 A54.95,54.95 0 0 0 300.34,621.23 Z" fill="#ffffff" stroke="#cdbfbf" stroke-width="0.22"/>
<path d="M300.34,621.23 A54.95,54.95 0 0 1 298.98,619.49 L304.39,615.45 A48.20,48.20 0 0 0 305.58,616.98 Z" fill="#ffffff" stroke="#cdbfbf" stroke-width="0.22"/>
<path d="M277.35,635.65 A81.95,81.95 0 0 1 275.43,632.97 L281.00,629.15 A75.20,75.20 0 0 0 282.76,631.61 Z" fill="#6fada4" stroke="#6fada4" stroke-width="0.45"/>
<path d="M282.76,631.61 A75.20,75.20 0 0 1 281.00,629.15 L286.56,625.33 A68.45,68.45 0 0 0 288.17,627.57 Z" fill="#6baaa2" stroke="#6baaa2" stroke-width="0.45"/>
<path d="M288.17,627.57 A68.45,68.45 0 0 1 286.56,625.33 L292.13,621.51 A61.70,61.70 0 0 0 293.57,623.53 Z" fill="#ffffff" stroke="#cdbfbf" stroke-width="0.22"/>
<path d="M293.57,623.53 A61.70,61.70 0 0 1 292.13,621.51 L297.69,617.69 A54.95,54.95 0 0 0 298.98,619.49 Z" fill="#ffffff" stroke="#cdbfbf" stroke-width="0.22"/>
<path d="M298.98,619.49 A54.95,54.95 0 0 1 297.69,617.69 L303.26,613.87 A48.20,48.20 0 0 0 304.39,615.45 Z" fill="#ffffff" stroke="#cdbfbf" stroke-width="0.22"/>
<path d="M275.43,632.97 A81.95,81.95 0 0 1 273.62,630.21 L279.33,626.62 A75.20,75.20 0 0 0 281.00,629.15 Z" fill="#62a39a" stroke="#62a39a" stroke-width="0.45"/>
<path d="M281.00,629.15 A75.20,75.20 0 0 1 279.33,626.62 L285.05,623.03 A68.45,68.45 0 0 0 286.56,625.33 Z" fill="#77b4ab" stroke="#77b4ab" stroke-width="0.45"/>
<path d="M286.56,625.33 A68.45,68.45 0 0 1 285.05,623.03 L290.76,619.44 A61.70,61.70 0 0 0 292.13,621.51 Z" fill="#ffffff" stroke="#cdbfbf" stroke-width="0.22"/>
<path d="M292.13,621.51 A61.70,61.70 0 0 1 290.76,619.44 L296.48,615.84 A54.95,54.95 0 0 0 297.69,617.69 Z" fill="#ffffff" stroke="#cdbfbf" stroke-width="0.22"/>
<path d="M297.69,617.69 A54.95,54.95 0 0 1 296.48,615.84 L302.19,612.25 A48.20,48.20 0 0 0 303.26,613.87 Z" fill="#ffffff" stroke="#cdbfbf" stroke-width="0.22"/>
<path d="M273.62,630.21 A81.95,81.95 0 0 1 271.92,627.39 L277.78,624.03 A75.20,75.20 0 0 0 279.33,626.62 Z" fill="#60968e" stroke="#60968e" stroke-width="0.45"/>
<path d="M279.33,626.62 A75.20,75.20 0 0 1 277.78,624.03 L283.63,620.67 A68.45,68.45 0 0 0 285.05,623.03 Z" fill="#72b0a8" stroke="#72b0a8" stroke-width="0.45"/>
<path d="M285.05,623.03 A68.45,68.45 0 0 1 283.63,620.67 L289.49,617.31 A61.70,61.70 0 0 0 290.76,619.44 Z" fill="#ffffff" stroke="#cdbfbf" stroke-width="0.22"/>
<path d="M290.76,619.44 A61.70,61.70 0 0 1 289.49,617.31 L295.34,613.95 A54.95,54.95 0 0 0 296.48,615.84 Z" fill="#ffffff" stroke="#cdbfbf" stroke-width="0.22"/>
<path d="M296.48,615.84 A54.95,54.95 0 0 1 295.34,613.95 L301.19,610.59 A48.20,48.20 0 0 0 302.19,612.25 Z" fill="#ffffff" stroke="#cdbfbf" stroke-width="0.22"/>
<path d="M271.92,627.39 A81.95,81.95 0 0 1 270.34,624.50 L276.32,621.37 A75.20,75.20 0 0 0 277.78,624.03 Z" fill="#74b2a9" stroke="#74b2a9" stroke-width="0.45"/>
<path d="M277.78,624.03 A75.20,75.20 0 0 1 276.32,621.37 L282.31,618.25 A68.45,68.45 0 0 0 283.63,620.67 Z" fill="#76b3aa" stroke="#76b3aa" stroke-width="0.45"/>
<path d="M283.63,620.67 A68.45,68.45 0 0 1 282.31,618.25 L288.29,615.13 A61.70,61.70 0 0 0 289.49,617.31 Z" fill="#ffffff" stroke="#cdbfbf" stroke-width="0.22"/>
<path d="M289.49,617.31 A61.70,61.70 0 0 1 288.29,615.13 L294.28,612.01 A54.95,54.95 0 0 0 295.34,613.95 Z" fill="#ffffff" stroke="#cdbfbf" stroke-width="0.22"/>
<path d="M295.34,613.95 A54.95,54.95 0 0 1 294.28,612.01 L300.26,608.89 A48.20,48.20 0 0 0 301.19,610.59 Z" fill="#ffffff" stroke="#cdbfbf" stroke-width="0.22"/>
<path d="M270.34,624.50 A81.95,81.95 0 0 1 268.87,621.54 L274.98,618.66 A75.20,75.20 0 0 0 276.32,621.37 Z" fill="#5fa098" stroke="#5fa098" stroke-width="0.45"/>
<path d="M276.32,621.37 A75.20,75.20 0 0 1 274.98,618.66 L281.08,615.79 A68.45,68.45 0 0 0 282.31,618.25 Z" fill="#74b1a9" stroke="#74b1a9" stroke-width="0.45"/>
<path d="M282.31,618.25 A68.45,68.45 0 0 1 281.08,615.79 L287.19,612.91 A61.70,61.70 0 0 0 288.29,615.13 Z" fill="#ffffff" stroke="#cdbfbf" stroke-width="0.22"/>
<path d="M288.29,615.13 A61.70,61.70 0 0 1 287.19,612.91 L293.30,610.03 A54.95,54.95 0 0 0 294.28,612.01 Z" fill="#ffffff" stroke="#cdbfbf" stroke-width="0.22"/>
<path d="M294.28,612.01 A54.95,54.95 0 0 1 293.30,610.03 L299.40,607.15 A48.20,48.20 0 0 0 300.26,608.89 Z" fill="#ffffff" stroke="#cdbfbf" stroke-width="0.22"/>
<path d="M268.87,621.54 A81.95,81.95 0 0 1 267.53,618.53 L273.74,615.90 A75.20,75.20 0 0 0 274.98,618.66 Z" fill="#70aea5" stroke="#70aea5" stroke-width="0.45"/>
<path d="M274.98,618.66 A75.20,75.20 0 0 1 273.74,615.90 L279.96,613.27 A68.45,68.45 0 0 0 281.08,615.79 Z" fill="#767668" stroke="#767668" stroke-width="0.45"/>
<path d="M281.08,615.79 A68.45,68.45 0 0 1 279.96,613.27 L286.18,610.64 A61.70,61.70 0 0 0 287.19,612.91 Z" fill="#5b9d95" stroke="#5b9d95" stroke-width="0.45"/>
<path d="M287.19,612.91 A61.70,61.70 0 0 1 286.18,610.64 L292.39,608.01 A54.95,54.95 0 0 0 293.30,610.03 Z" fill="#ffffff" stroke="#cdbfbf" stroke-width="0.22"/>
<path d="M293.30,610.03 A54.95,54.95 0 0 1 292.39,608.01 L298.61,605.38 A48.20,48.20 0 0 0 299.40,607.15 Z" fill="#ffffff" stroke="#cdbfbf" stroke-width="0.22"/>
<path d="M267.53,618.53 A81.95,81.95 0 0 1 266.30,615.47 L272.62,613.09 A75.20,75.20 0 0 0 273.74,615.90 Z" fill="#75b3aa" stroke="#75b3aa" stroke-width="0.45"/>
<path d="M273.74,615.90 A75.20,75.20 0 0 1 272.62,613.09 L278.94,610.71 A68.45,68.45 0 0 0 279.96,613.27 Z" fill="#69a9a0" stroke="#69a9a0" stroke-width="0.45"/>
<path d="M279.96,613.27 A68.45,68.45 0 0 1 278.94,610.71 L285.25,608.33 A61.70,61.70 0 0 0 286.18,610.64 Z" fill="#66a69d" stroke="#66a69d" stroke-width="0.45"/>
<path d="M286.18,610.64 A61.70,61.70 0 0 1 285.25,608.33 L291.57,605.96 A54.95,54.95 0 0 0 292.39,608.01 Z" fill="#ffffff" stroke="#cdbfbf" stroke-width="0.22"/>
<path d="M292.39,608.01 A54.95,54.95 0 0 1 291.57,605.96 L297.89,603.58 A48.20,48.20 0 0 0 298.61,605.38 Z" fill="#ffffff" stroke="#cdbfbf" stroke-width="0.22"/>
<path d="M266.30,615.47 A81.95,81.95 0 0 1 265.20,612.36 L271.61,610.24 A75.20,75.20 0 0 0 272.62,613.09 Z" fill="#60968e" stroke="#60968e" stroke-width="0.45"/>
<path d="M272.62,613.09 A75.20,75.20 0 0 1 271.61,610.24 L278.02,608.12 A68.45,68.45 0 0 0 278.94,610.71 Z" fill="#5d9e96" stroke="#5d9e96" stroke-width="0.45"/>
<path d="M278.94,610.71 A68.45,68.45 0 0 1 278.02,608.12 L284.43,605.99 A61.70,61.70 0 0 0 285.25,608.33 Z" fill="#5b9d95" stroke="#5b9d95" stroke-width="0.45"/>
<path d="M285.25,608.33 A61.70,61.70 0 0 1 284.43,605.99 L290.84,603.87 A54.95,54.95 0 0 0 291.57,605.96 Z" fill="#ffffff" stroke="#cdbfbf" stroke-width="0.22"/>
<path d="M291.57,605.96 A54.95,54.95 0 0 1 290.84,603.87 L297.24,601.75 A48.20,48.20 0 0 0 297.89,603.58 Z" fill="#ffffff" stroke="#cdbfbf" stroke-width="0.22"/>
<path d="M265.20,612.36 A81.95,81.95 0 0 1 264.23,609.21 L270.72,607.35 A75.20,75.20 0 0 0 271.61,610.24 Z" fill="#60968e" stroke="#60968e" stroke-width="0.45"/>
<path d="M271.61,610.24 A75.20,75.20 0 0 1 270.72,607.35 L277.21,605.48 A68.45,68.45 0 0 0 278.02,608.12 Z" fill="#6aaaa1" stroke="#6aaaa1" stroke-width="0.45"/>
<path d="M278.02,608.12 A68.45,68.45 0 0 1 277.21,605.48 L283.69,603.62 A61.70,61.70 0 0 0 284.43,605.99 Z" fill="#6caba3" stroke="#6caba3" stroke-width="0.45"/>
<path d="M284.43,605.99 A61.70,61.70 0 0 1 283.69,603.62 L290.18,601.76 A54.95,54.95 0 0 0 290.84,603.87 Z" fill="#ffffff" stroke="#cdbfbf" stroke-width="0.22"/>
<path d="M290.84,603.87 A54.95,54.95 0 0 1 290.18,601.76 L296.67,599.90 A48.20,48.20 0 0 0 297.24,601.75 Z" fill="#ffffff" stroke="#cdbfbf" stroke-width="0.22"/>
<path d="M264.23,609.21 A81.95,81.95 0 0 1 263.38,606.02 L269.94,604.42 A75.20,75.20 0 0 0 270.72,607.35 Z" fill="#5b9d95" stroke="#5b9d95" stroke-width="0.45"/>
<path d="M270.72,607.35 A75.20,75.20 0 0 1 269.94,604.42 L276.50,602.82 A68.45,68.45 0 0 0 277.21,605.48 Z" fill="#5b9b93" stroke="#5b9b93" stroke-width="0.45"/>
<path d="M277.21,605.48 A68.45,68.45 0 0 1 276.50,602.82 L283.06,601.22 A61.70,61.70 0 0 0 283.69,603.62 Z" fill="#73b1a8" stroke="#73b1a8" stroke-width="0.45"/>
<path d="M283.69,603.62 A61.70,61.70 0 0 1 283.06,601.22 L289.62,599.62 A54.95,54.95 0 0 0 290.18,601.76 Z" fill="#ffffff" stroke="#cdbfbf" stroke-width="0.22"/>
<path d="M290.18,601.76 A54.95,54.95 0 0 1 289.62,599.62 L296.17,598.02 A48.20,48.20 0 0 0 296.67,599.90 Z" fill="#ffffff" stroke="#cdbfbf" stroke-width="0.22"/>
<path d="M263.38,606.02 A81.95,81.95 0 0 1 262.67,602.80 L269.28,601.47 A75.20,75.20 0 0 0 269.94,604.42 Z" fill="#72b0a7" stroke="#72b0a7" stroke-width="0.45"/>
<path d="M269.94,604.42 A75.20,75.20 0 0 1 269.28,601.47 L275.90,600.13 A68.45,68.45 0 0 0 276.50,602.82 Z" fill="#5e9890" stroke="#5e9890" stroke-width="0.45"/>
<path d="M276.50,602.82 A68.45,68.45 0 0 1 275.90,600.13 L282.52,598.80 A61.70,61.70 0 0 0 283.06,601.22 Z" fill="#70afa6" stroke="#70afa6" stroke-width="0.45"/>
<path d="M283.06,601.22 A61.70,61.70 0 0 1 282.52,598.80 L289.13,597.46 A54.95,54.95 0 0 0 289.62,599.62 Z" fill="#ffffff" stroke="#cdbfbf" stroke-width="0.22"/>
<path d="M289.62,599.62 A54.95,54.95 0 0 1 289.13,597.46 L295.75,596.13 A48.20,48.20 0 0 0 296.17,598.02 Z" fill="#ffffff" stroke="#cdbfbf" stroke-width="0.22"/>
<path d="M262.67,602.80 A81.95,81.95 0 0 1 262.08,599.56 L268.75,598.49 A75.20,75.20 0 0 0 269.28,601.47 Z" fill="#68a89f" stroke="#68a89f" stroke-width="0.45"/>
<path d="M269.28,601.47 A75.20,75.20 0 0 1 268.75,598.49 L275.41,597.42 A68.45,68.45 0 0 0 275.90,600.13 Z" fill="#5e9890" stroke="#5e9890" stroke-width="0.45"/>
<path d="M275.90,600.13 A68.45,68.45 0 0 1 275.41,597.42 L282.08,596.36 A61.70,61.70 0 0 0 282.52,598.80 Z" fill="#5a9c94" stroke="#5a9c94" stroke-width="0.45"/>
<path d="M282.52,598.80 A61.70,61.70 0 0 1 282.08,596.36 L288.74,595.29 A54.95,54.95 0 0 0 289.13,597.46 Z" fill="#ffffff" stroke="#cdbfbf" stroke-width="0.22"/>
<path d="M289.13,597.46 A54.95,54.95 0 0 1 288.74,595.29 L295.41,594.22 A48.20,48.20 0 0 0 295.75,596.13 Z" fill="#ffffff" stroke="#cdbfbf" stroke-width="0.22"/>
<path d="M262.08,599.56 A81.95,81.95 0 0 1 261.63,596.29 L268.33,595.49 A75.20,75.20 0 0 0 268.75,598.49 Z" fill="#78b5ac" stroke="#78b5ac" stroke-width="0.45"/>
<path d="M268.75,598.49 A75.20,75.20 0 0 1 268.33,595.49 L275.03,594.69 A68.45,68.45 0 0 0 275.41,597.42 Z" fill="#6aa9a1" stroke="#6aa9a1" stroke-width="0.45"/>
<path d="M275.41,597.42 A68.45,68.45 0 0 1 275.03,594.69 L281.73,593.90 A61.70,61.70 0 0 0 282.08,596.36 Z" fill="#6caba2" stroke="#6caba2" stroke-width="0.45"/>
<path d="M282.08,596.36 A61.70,61.70 0 0 1 281.73,593.90 L288.44,593.10 A54.95,54.95 0 0 0 288.74,595.29 Z" fill="#ffffff" stroke="#cdbfbf" stroke-width="0.22"/>
<path d="M288.74,595.29 A54.95,54.95 0 0 1 288.44,593.10 L295.14,592.30 A48.20,48.20 0 0 0 295.41,594.22 Z" fill="#ffffff" stroke="#cdbfbf" stroke-width="0.22"/>
<path d="M261.63,596.29 A81.95,81.95 0 0 1 261.30,593.01 L268.03,592.48 A75.20,75.20 0 0 0 268.33,595.49 Z" fill="#65a59d" stroke="#65a59d" stroke-width="0.45"/>
<path d="M268.33,595.49 A75.20,75.20 0 0 1 268.03,592.48 L274.76,591.95 A68.45,68.45 0 0 0 275.03,594.69 Z" fill="#5b9b93" stroke="#5b9b93" stroke-width="0.45"/>
<path d="M275.03,594.69 A68.45,68.45 0 0 1 274.76,591.95 L281.49,591.43 A61.70,61.70 0 0 0 281.73,593.90 Z" fill="#61a29a" stroke="#61a29a" stroke-width="0.45"/>
<path d="M281.73,593.90 A61.70,61.70 0 0 1 281.49,591.43 L288.22,590.90 A54.95,54.95 0 0 0 288.44,593.10 Z" fill="#ffffff" stroke="#cdbfbf" stroke-width="0.22"/>
<path d="M288.44,593.10 A54.95,54.95 0 0 1 288.22,590.90 L294.95,590.37 A48.20,48.20 0 0 0 295.14,592.30 Z" fill="#ffffff" stroke="#cdbfbf" stroke-width="0.22"/>
<path d="M261.30,593.01 A81.95,81.95 0 0 1 261.11,589.72 L267.85,589.46 A75.20,75.20 0 0 0 268.03,592.48 Z" fill="#67a79e" stroke="#67a79e" stroke-width="0.45"/>
<path d="M268.03,592.48 A75.20,75.20 0 0 1 267.85,589.46 L274.60,589.20 A68.45,68.45 0 0 0 274.76,591.95 Z" fill="#ffffff" stroke="#cdbfbf" stroke-width="0.22"/>
<path d="M274.76,591.95 A68.45,68.45 0 0 1 274.60,589.20 L281.34,588.95 A61.70,61.70 0 0 0 281.49,591.43 Z" fill="#64a49c" stroke="#64a49c" stroke-width="0.45"/>
<path d="M281.49,591.43 A61.70,61.70 0 0 1 281.34,588.95 L288.09,588.69 A54.95,54.95 0 0 0 288.22,590.90 Z" fill="#62a29a" stroke="#62a29a" stroke-width="0.45"/>
<path d="M288.22,590.90 A54.95,54.95 0 0 1 288.09,588.69 L294.83,588.43 A48.20,48.20 0 0 0 294.95,590.37 Z" fill="#ffffff" stroke="#cdbfbf" stroke-width="0.22"/>
<path d="M261.11,589.72 A81.95,81.95 0 0 1 261.05,586.42 L267.80,586.43 A75.20,75.20 0 0 0 267.85,589.46 Z" fill="#747e71" stroke="#747e71" stroke-width="0.45"/>
<path d="M267.85,589.46 A75.20,75.20 0 0 1 267.80,586.43 L274.55,586.45 A68.45,68.45 0 0 0 274.60,589.20 Z" fill="#ffffff" stroke="#cdbfbf" stroke-width="0.22"/>
<path d="M274.60,589.20 A68.45,68.45 0 0 1 274.55,586.45 L281.30,586.46 A61.70,61.70 0 0 0 281.34,588.95 Z" fill="#5a9c94" stroke="#5a9c94" stroke-width="0.45"/>
<path d="M281.34,588.95 A61.70,61.70 0 0 1 281.30,586.46 L288.05,586.48 A54.95,54.95 0 0 0 288.09,588.69 Z" fill="#ffffff" stroke="#cdbfbf" stroke-width="0.22"/>
<path d="M288.09,588.69 A54.95,54.95 0 0 1 288.05,586.48 L294.80,586.49 A48.20,48.20 0 0 0 294.83,588.43 Z" fill="#ffffff" stroke="#cdbfbf" stroke-width="0.22"/>
<path d="M261.05,586.42 A81.95,81.95 0 0 1 261.12,583.12 L267.87,583.41 A75.20,75.20 0 0 0 267.80,586.43 Z" fill="#5ea097" stroke="#5ea097" stroke-width="0.45"/>
<path d="M267.80,586.43 A75.20,75.20 0 0 1 267.87,583.41 L274.61,583.70 A68.45,68.45 0 0 0 274.55,586.45 Z" fill="#ffffff" stroke="#cdbfbf" stroke-width="0.22"/>
<path d="M274.55,586.45 A68.45,68.45 0 0 1 274.61,583.70 L281.36,583.98 A61.70,61.70 0 0 0 281.30,586.46 Z" fill="#5b9d95" stroke="#5b9d95" stroke-width="0.45"/>
<path d="M281.30,586.46 A61.70,61.70 0 0 1 281.36,583.98 L288.10,584.27 A54.95,54.95 0 0 0 288.05,586.48 Z" fill="#ffffff" stroke="#cdbfbf" stroke-width="0.22"/>
<path d="M288.05,586.48 A54.95,54.95 0 0 1 288.10,584.27 L294.84,584.55 A48.20,48.20 0 0 0 294.80,586.49 Z" fill="#ffffff" stroke="#cdbfbf" stroke-width="0.22"/>
<path d="M261.12,583.12 A81.95,81.95 0 0 1 261.33,579.83 L268.06,580.39 A75.20,75.20 0 0 0 267.87,583.41 Z" fill="#5e9f97" stroke="#5e9f97" stroke-width="0.45"/>
<path d="M267.87,583.41 A75.20,75.20 0 0 1 268.06,580.39 L274.78,580.95 A68.45,68.45 0 0 0 274.61,583.70 Z" fill="#ffffff" stroke="#cdbfbf" stroke-width="0.22"/>
<path d="M274.61,583.70 A68.45,68.45 0 0 1 274.78,580.95 L281.51,581.50 A61.70,61.70 0 0 0 281.36,583.98 Z" fill="#6baaa2" stroke="#6baaa2" stroke-width="0.45"/>
<path d="M281.36,583.98 A61.70,61.70 0 0 1 281.51,581.50 L288.24,582.06 A54.95,54.95 0 0 0 288.10,584.27 Z" fill="#ffffff" stroke="#cdbfbf" stroke-width="0.22"/>
<path d="M288.10,584.27 A54.95,54.95 0 0 1 288.24,582.06 L294.96,582.62 A48.20,48.20 0 0 0 294.84,584.55 Z" fill="#ffffff" stroke="#cdbfbf" stroke-width="0.22"/>
<path d="M261.33,579.83 A81.95,81.95 0 0 1 261.67,576.55 L268.37,577.38 A75.20,75.20 0 0 0 268.06,580.39 Z" fill="#6baaa1" stroke="#6baaa1" stroke-width="0.45"/>
<path d="M268.06,580.39 A75.20,75.20 0 0 1 268.37,577.38 L275.07,578.21 A68.45,68.45 0 0 0 274.78,580.95 Z" fill="#ffffff" stroke="#cdbfbf" stroke-width="0.22"/>
<path d="M274.78,580.95 A68.45,68.45 0 0 1 275.07,578.21 L281.77,579.03 A61.70,61.70 0 0 0 281.51,581.50 Z" fill="#75b2a9" stroke="#75b2a9" stroke-width="0.45"/>
<path d="M281.51,581.50 A61.70,61.70 0 0 1 281.77,579.03 L288.46,579.86 A54.95,54.95 0 0 0 288.24,582.06 Z" fill="#ffffff" stroke="#cdbfbf" stroke-width="0.22"/>
<path d="M288.24,582.06 A54.95,54.95 0 0 1 288.46,579.86 L295.16,580.69 A48.20,48.20 0 0 0 294.96,582.62 Z" fill="#ffffff" stroke="#cdbfbf" stroke-width="0.22"/>
<path d="M261.67,576.55 A81.95,81.95 0 0 1 262.14,573.29 L268.80,574.38 A75.20,75.20 0 0 0 268.37,577.38 Z" fill="#747e71" stroke="#747e71" stroke-width="0.45"/>
<path d="M268.37,577.38 A75.20,75.20 0 0 1 268.80,574.38 L275.46,575.48 A68.45,68.45 0 0 0 275.07,578.21 Z" fill="#ffffff" stroke="#cdbfbf" stroke-width="0.22"/>
<path d="M275.07,578.21 A68.45,68.45 0 0 1 275.46,575.48 L282.12,576.58 A61.70,61.70 0 0 0 281.77,579.03 Z" fill="#76b3aa" stroke="#76b3aa" stroke-width="0.45"/>
<path d="M281.77,579.03 A61.70,61.70 0 0 1 282.12,576.58 L288.78,577.67 A54.95,54.95 0 0 0 288.46,579.86 Z" fill="#ffffff" stroke="#cdbfbf" stroke-width="0.22"/>
<path d="M288.46,579.86 A54.95,54.95 0 0 1 288.78,577.67 L295.44,578.77 A48.20,48.20 0 0 0 295.16,580.69 Z" fill="#ffffff" stroke="#cdbfbf" stroke-width="0.22"/>
<path d="M262.14,573.29 A81.95,81.95 0 0 1 262.74,570.05 L269.35,571.41 A75.20,75.20 0 0 0 268.80,574.38 Z" fill="#747e71" stroke="#747e71" stroke-width="0.45"/>
<path d="M268.80,574.38 A75.20,75.20 0 0 1 269.35,571.41 L275.96,572.77 A68.45,68.45 0 0 0 275.46,575.48 Z" fill="#ffffff" stroke="#cdbfbf" stroke-width="0.22"/>
<path d="M275.46,575.48 A68.45,68.45 0 0 1 275.96,572.77 L282.57,574.14 A61.70,61.70 0 0 0 282.12,576.58 Z" fill="#71afa6" stroke="#71afa6" stroke-width="0.45"/>
<path d="M282.12,576.58 A61.70,61.70 0 0 1 282.57,574.14 L289.18,575.50 A54.95,54.95 0 0 0 288.78,577.67 Z" fill="#ffffff" stroke="#cdbfbf" stroke-width="0.22"/>
<path d="M288.78,577.67 A54.95,54.95 0 0 1 289.18,575.50 L295.79,576.86 A48.20,48.20 0 0 0 295.44,578.77 Z" fill="#ffffff" stroke="#cdbfbf" stroke-width="0.22"/>
<path d="M262.74,570.05 A81.95,81.95 0 0 1 263.47,566.83 L270.02,568.46 A75.20,75.20 0 0 0 269.35,571.41 Z" fill="#73b1a8" stroke="#73b1a8" stroke-width="0.45"/>
<path d="M269.35,571.41 A75.20,75.20 0 0 1 270.02,568.46 L276.57,570.09 A68.45,68.45 0 0 0 275.96,572.77 Z" fill="#ffffff" stroke="#cdbfbf" stroke-width="0.22"/>
<path d="M275.96,572.77 A68.45,68.45 0 0 1 276.57,570.09 L283.12,571.71 A61.70,61.70 0 0 0 282.57,574.14 Z" fill="#6a8d83" stroke="#6a8d83" stroke-width="0.45"/>
<path d="M282.57,574.14 A61.70,61.70 0 0 1 283.12,571.71 L289.67,573.34 A54.95,54.95 0 0 0 289.18,575.50 Z" fill="#ffffff" stroke="#cdbfbf" stroke-width="0.22"/>
<path d="M289.18,575.50 A54.95,54.95 0 0 1 289.67,573.34 L296.22,574.97 A48.20,48.20 0 0 0 295.79,576.86 Z" fill="#ffffff" stroke="#cdbfbf" stroke-width="0.22"/>
<path d="M263.47,566.83 A81.95,81.95 0 0 1 264.33,563.65 L270.81,565.54 A75.20,75.20 0 0 0 270.02,568.46 Z" fill="#76b4ab" stroke="#76b4ab" stroke-width="0.45"/>
<path d="M270.02,568.46 A75.20,75.20 0 0 1 270.81,565.54 L277.29,567.43 A68.45,68.45 0 0 0 276.57,570.09 Z" fill="#ffffff" stroke="#cdbfbf" stroke-width="0.22"/>
<path d="M276.57,570.09 A68.45,68.45 0 0 1 277.29,567.43 L283.77,569.32 A61.70,61.70 0 0 0 283.12,571.71 Z" fill="#6a8d83" stroke="#6a8d83" stroke-width="0.45"/>
<path d="M283.12,571.71 A61.70,61.70 0 0 1 283.77,569.32 L290.25,571.21 A54.95,54.95 0 0 0 289.67,573.34 Z" fill="#ffffff" stroke="#cdbfbf" stroke-width="0.22"/>
<path d="M289.67,573.34 A54.95,54.95 0 0 1 290.25,571.21 L296.73,573.10 A48.20,48.20 0 0 0 296.22,574.97 Z" fill="#ffffff" stroke="#cdbfbf" stroke-width="0.22"/>
<path d="M264.33,563.65 A81.95,81.95 0 0 1 265.32,560.50 L271.72,562.65 A75.20,75.20 0 0 0 270.81,565.54 Z" fill="#73b1a8" stroke="#73b1a8" stroke-width="0.45"/>
<path d="M270.81,565.54 A75.20,75.20 0 0 1 271.72,562.65 L278.11,564.80 A68.45,68.45 0 0 0 277.29,567.43 Z" fill="#ffffff" stroke="#cdbfbf" stroke-width="0.22"/>
<path d="M277.29,567.43 A68.45,68.45 0 0 1 278.11,564.80 L284.51,566.95 A61.70,61.70 0 0 0 283.77,569.32 Z" fill="#75b2a9" stroke="#75b2a9" stroke-width="0.45"/>
<path d="M283.77,569.32 A61.70,61.70 0 0 1 284.51,566.95 L290.91,569.10 A54.95,54.95 0 0 0 290.25,571.21 Z" fill="#ffffff" stroke="#cdbfbf" stroke-width="0.22"/>
<path d="M290.25,571.21 A54.95,54.95 0 0 1 290.91,569.10 L297.31,571.25 A48.20,48.20 0 0 0 296.73,573.10 Z" fill="#6caba2" stroke="#6caba2" stroke-width="0.45"/>
<path d="M265.32,560.50 A81.95,81.95 0 0 1 266.43,557.40 L272.74,559.80 A75.20,75.20 0 0 0 271.72,562.65 Z" fill="#77b4ab" stroke="#77b4ab" stroke-width="0.45"/>
<path d="M271.72,562.65 A75.20,75.20 0 0 1 272.74,559.80 L279.04,562.21 A68.45,68.45 0 0 0 278.11,564.80 Z" fill="#ffffff" stroke="#cdbfbf" stroke-width="0.22"/>
<path d="M278.11,564.80 A68.45,68.45 0 0 1 279.04,562.21 L285.35,564.61 A61.70,61.70 0 0 0 284.51,566.95 Z" fill="#5b9d95" stroke="#5b9d95" stroke-width="0.45"/>
<path d="M284.51,566.95 A61.70,61.70 0 0 1 285.35,564.61 L291.66,567.02 A54.95,54.95 0 0 0 290.91,569.10 Z" fill="#ffffff" stroke="#cdbfbf" stroke-width="0.22"/>
<path d="M290.91,569.10 A54.95,54.95 0 0 1 291.66,567.02 L297.96,569.42 A48.20,48.20 0 0 0 297.31,571.25 Z" fill="#ffffff" stroke="#cdbfbf" stroke-width="0.22"/>
<path d="M266.43,557.40 A81.95,81.95 0 0 1 267.67,554.34 L273.87,557.00 A75.20,75.20 0 0 0 272.74,559.80 Z" fill="#64a49c" stroke="#64a49c" stroke-width="0.45"/>
<path d="M272.74,559.80 A75.20,75.20 0 0 1 273.87,557.00 L280.08,559.65 A68.45,68.45 0 0 0 279.04,562.21 Z" fill="#ffffff" stroke="#cdbfbf" stroke-width="0.22"/>
<path d="M279.04,562.21 A68.45,68.45 0 0 1 280.08,559.65 L286.28,562.31 A61.70,61.70 0 0 0 285.35,564.61 Z" fill="#73b1a8" stroke="#73b1a8" stroke-width="0.45"/>
<path d="M285.35,564.61 A61.70,61.70 0 0 1 286.28,562.31 L292.49,564.97 A54.95,54.95 0 0 0 291.66,567.02 Z" fill="#ffffff" stroke="#cdbfbf" stroke-width="0.22"/>
<path d="M291.66,567.02 A54.95,54.95 0 0 1 292.49,564.97 L298.69,567.62 A48.20,48.20 0 0 0 297.96,569.42 Z" fill="#ffffff" stroke="#cdbfbf" stroke-width="0.22"/>
<path d="M267.67,554.34 A81.95,81.95 0 0 1 269.03,551.33 L275.12,554.24 A75.20,75.20 0 0 0 273.87,557.00 Z" fill="#70aea5" stroke="#70aea5" stroke-width="0.45"/>
<path d="M273.87,557.00 A75.20,75.20 0 0 1 275.12,554.24 L281.21,557.14 A68.45,68.45 0 0 0 280.08,559.65 Z" fill="#ffffff" stroke="#cdbfbf" stroke-width="0.22"/>
<path d="M280.08,559.65 A68.45,68.45 0 0 1 281.21,557.14 L287.31,560.05 A61.70,61.70 0 0 0 286.28,562.31 Z" fill="#6daba3" stroke="#6daba3" stroke-width="0.45"/>
<path d="M286.28,562.31 A61.70,61.70 0 0 1 287.31,560.05 L293.40,562.95 A54.95,54.95 0 0 0 292.49,564.97 Z" fill="#ffffff" stroke="#cdbfbf" stroke-width="0.22"/>
<path d="M292.49,564.97 A54.95,54.95 0 0 1 293.40,562.95 L299.49,565.86 A48.20,48.20 0 0 0 298.69,567.62 Z" fill="#ffffff" stroke="#cdbfbf" stroke-width="0.22"/>
<path d="M269.03,551.33 A81.95,81.95 0 0 1 270.51,548.39 L276.48,551.53 A75.20,75.20 0 0 0 275.12,554.24 Z" fill="#6caba2" stroke="#6caba2" stroke-width="0.45"/>
<path d="M275.12,554.24 A75.20,75.20 0 0 1 276.48,551.53 L282.45,554.68 A68.45,68.45 0 0 0 281.21,557.14 Z" fill="#ffffff" stroke="#cdbfbf" stroke-width="0.22"/>
<path d="M281.21,557.14 A68.45,68.45 0 0 1 282.45,554.68 L288.42,557.83 A61.70,61.70 0 0 0 287.31,560.05 Z" fill="#74b2a9" stroke="#74b2a9" stroke-width="0.45"/>
<path d="M287.31,560.05 A61.70,61.70 0 0 1 288.42,557.83 L294.39,560.98 A54.95,54.95 0 0 0 293.40,562.95 Z" fill="#ffffff" stroke="#cdbfbf" stroke-width="0.22"/>
<path d="M293.40,562.95 A54.95,54.95 0 0 1 294.39,560.98 L300.36,564.12 A48.20,48.20 0 0 0 299.49,565.86 Z" fill="#ffffff" stroke="#cdbfbf" stroke-width="0.22"/>
<path d="M270.51,548.39 A81.95,81.95 0 0 1 272.10,545.50 L277.94,548.89 A75.20,75.20 0 0 0 276.48,551.53 Z" fill="#5c9e96" stroke="#5c9e96" stroke-width="0.45"/>
<path d="M276.48,551.53 A75.20,75.20 0 0 1 277.94,548.89 L283.78,552.27 A68.45,68.45 0 0 0 282.45,554.68 Z" fill="#ffffff" stroke="#cdbfbf" stroke-width="0.22"/>
<path d="M282.45,554.68 A68.45,68.45 0 0 1 283.78,552.27 L289.62,555.66 A61.70,61.70 0 0 0 288.42,557.83 Z" fill="#5c9a92" stroke="#5c9a92" stroke-width="0.45"/>
<path d="M288.42,557.83 A61.70,61.70 0 0 1 289.62,555.66 L295.46,559.04 A54.95,54.95 0 0 0 294.39,560.98 Z" fill="#ffffff" stroke="#cdbfbf" stroke-width="0.22"/>
<path d="M294.39,560.98 A54.95,54.95 0 0 1 295.46,559.04 L301.30,562.43 A48.20,48.20 0 0 0 300.36,564.12 Z" fill="#ffffff" stroke="#cdbfbf" stroke-width="0.22"/>
<path d="M272.10,545.50 A81.95,81.95 0 0 1 273.81,542.68 L279.51,546.30 A75.20,75.20 0 0 0 277.94,548.89 Z" fill="#69a8a0" stroke="#69a8a0" stroke-width="0.45"/>
<path d="M277.94,548.89 A75.20,75.20 0 0 1 279.51,546.30 L285.21,549.92 A68.45,68.45 0 0 0 283.78,552.27 Z" fill="#ffffff" stroke="#cdbfbf" stroke-width="0.22"/>
<path d="M283.78,552.27 A68.45,68.45 0 0 1 285.21,549.92 L290.91,553.53 A61.70,61.70 0 0 0 289.62,555.66 Z" fill="#ffffff" stroke="#cdbfbf" stroke-width="0.22"/>
<path d="M289.62,555.66 A61.70,61.70 0 0 1 290.91,553.53 L296.61,557.15 A54.95,54.95 0 0 0 295.46,559.04 Z" fill="#ffffff" stroke="#cdbfbf" stroke-width="0.22"/>
<path d="M295.46,559.04 A54.95,54.95 0 0 1 296.61,557.15 L302.31,560.77 A48.20,48.20 0 0 0 301.30,562.43 Z" fill="#ffffff" stroke="#cdbfbf" stroke-width="0.22"/>
<path d="M273.81,542.68 A81.95,81.95 0 0 1 275.64,539.93 L281.18,543.78 A75.20,75.20 0 0 0 279.51,546.30 Z" fill="#68a89f" stroke="#68a89f" stroke-width="0.45"/>
<path d="M279.51,546.30 A75.20,75.20 0 0 1 281.18,543.78 L286.73,547.62 A68.45,68.45 0 0 0 285.21,549.92 Z" fill="#ffffff" stroke="#cdbfbf" stroke-width="0.22"/>
<path d="M285.21,549.92 A68.45,68.45 0 0 1 286.73,547.62 L292.28,551.46 A61.70,61.70 0 0 0 290.91,553.53 Z" fill="#ffffff" stroke="#cdbfbf" stroke-width="0.22"/>
<path d="M290.91,553.53 A61.70,61.70 0 0 1 292.28,551.46 L297.83,555.31 A54.95,54.95 0 0 0 296.61,557.15 Z" fill="#ffffff" stroke="#cdbfbf" stroke-width="0.22"/>
<path d="M296.61,557.15 A54.95,54.95 0 0 1 297.83,555.31 L303.38,559.15 A48.20,48.20 0 0 0 302.31,560.77 Z" fill="#ffffff" stroke="#cdbfbf" stroke-width="0.22"/>
<path d="M275.64,539.93 A81.95,81.95 0 0 1 277.57,537.26 L282.96,541.32 A75.20,75.20 0 0 0 281.18,543.78 Z" fill="#75b3aa" stroke="#75b3aa" stroke-width="0.45"/>
<path d="M281.18,543.78 A75.20,75.20 0 0 1 282.96,541.32 L288.35,545.39 A68.45,68.45 0 0 0 286.73,547.62 Z" fill="#ffffff" stroke="#cdbfbf" stroke-width="0.22"/>
<path d="M286.73,547.62 A68.45,68.45 0 0 1 288.35,545.39 L293.74,549.45 A61.70,61.70 0 0 0 292.28,551.46 Z" fill="#ffffff" stroke="#cdbfbf" stroke-width="0.22"/>
<path d="M292.28,551.46 A61.70,61.70 0 0 1 293.74,549.45 L299.13,553.52 A54.95,54.95 0 0 0 297.83,555.31 Z" fill="#ffffff" stroke="#cdbfbf" stroke-width="0.22"/>
<path d="M297.83,555.31 A54.95,54.95 0 0 1 299.13,553.52 L304.51,557.58 A48.20,48.20 0 0 0 303.38,559.15 Z" fill="#ffffff" stroke="#cdbfbf" stroke-width="0.22"/>
<path d="M277.57,537.26 A81.95,81.95 0 0 1 279.61,534.67 L284.83,538.95 A75.20,75.20 0 0 0 282.96,541.32 Z" fill="#75b2a9" stroke="#75b2a9" stroke-width="0.45"/>
<path d="M282.96,541.32 A75.20,75.20 0 0 1 284.83,538.95 L290.05,543.22 A68.45,68.45 0 0 0 288.35,545.39 Z" fill="#ffffff" stroke="#cdbfbf" stroke-width="0.22"/>
<path d="M288.35,545.39 A68.45,68.45 0 0 1 290.05,543.22 L295.27,547.50 A61.70,61.70 0 0 0 293.74,549.45 Z" fill="#ffffff" stroke="#cdbfbf" stroke-width="0.22"/>
<path d="M293.74,549.45 A61.70,61.70 0 0 1 295.27,547.50 L300.49,551.78 A54.95,54.95 0 0 0 299.13,553.52 Z" fill="#ffffff" stroke="#cdbfbf" stroke-width="0.22"/>
<path d="M299.13,553.52 A54.95,54.95 0 0 1 300.49,551.78 L305.71,556.06 A48.20,48.20 0 0 0 304.51,557.58 Z" fill="#ffffff" stroke="#cdbfbf" stroke-width="0.22"/>
<path d="M279.61,534.67 A81.95,81.95 0 0 1 281.75,532.16 L286.79,536.64 A75.20,75.20 0 0 0 284.83,538.95 Z" fill="#6daca3" stroke="#6daca3" stroke-width="0.45"/>
<path d="M284.83,538.95 A75.20,75.20 0 0 1 286.79,536.64 L291.84,541.13 A68.45,68.45 0 0 0 290.05,543.22 Z" fill="#ffffff" stroke="#cdbfbf" stroke-width="0.22"/>
<path d="M290.05,543.22 A68.45,68.45 0 0 1 291.84,541.13 L296.88,545.61 A61.70,61.70 0 0 0 295.27,547.50 Z" fill="#ffffff" stroke="#cdbfbf" stroke-width="0.22"/>
<path d="M295.27,547.50 A61.70,61.70 0 0 1 296.88,545.61 L301.93,550.10 A54.95,54.95 0 0 0 300.49,551.78 Z" fill="#ffffff" stroke="#cdbfbf" stroke-width="0.22"/>
<path d="M300.49,551.78 A54.95,54.95 0 0 1 301.93,550.10 L306.97,554.58 A48.20,48.20 0 0 0 305.71,556.06 Z" fill="#ffffff" stroke="#cdbfbf" stroke-width="0.22"/>
<path d="M281.75,532.16 A81.95,81.95 0 0 1 283.99,529.74 L288.85,534.42 A75.20,75.20 0 0 0 286.79,536.64 Z" fill="#6faea5" stroke="#6faea5" stroke-width="0.45"/>
<path d="M286.79,536.64 A75.20,75.20 0 0 1 288.85,534.42 L293.71,539.11 A68.45,68.45 0 0 0 291.84,541.13 Z" fill="#ffffff" stroke="#cdbfbf" stroke-width="0.22"/>
<path d="M291.84,541.13 A68.45,68.45 0 0 1 293.71,539.11 L298.57,543.79 A61.70,61.70 0 0 0 296.88,545.61 Z" fill="#ffffff" stroke="#cdbfbf" stroke-width="0.22"/>
<path d="M296.88,545.61 A61.70,61.70 0 0 1 298.57,543.79 L303.43,548.47 A54.95,54.95 0 0 0 301.93,550.10 Z" fill="#ffffff" stroke="#cdbfbf" stroke-width="0.22"/>
<path d="M301.93,550.10 A54.95,54.95 0 0 1 303.43,548.47 L308.29,553.16 A48.20,48.20 0 0 0 306.97,554.58 Z" fill="#ffffff" stroke="#cdbfbf" stroke-width="0.22"/>
<path d="M283.99,529.74 A81.95,81.95 0 0 1 286.32,527.41 L290.99,532.29 A75.20,75.20 0 0 0 288.85,534.42 Z" fill="#5d9e96" stroke="#5d9e96" stroke-width="0.45"/>
<path d="M288.85,534.42 A75.20,75.20 0 0 1 290.99,532.29 L295.66,537.16 A68.45,68.45 0 0 0 293.71,539.11 Z" fill="#ffffff" stroke="#cdbfbf" stroke-width="0.22"/>
<path d="M293.71,539.11 A68.45,68.45 0 0 1 295.66,537.16 L300.33,542.04 A61.70,61.70 0 0 0 298.57,543.79 Z" fill="#ffffff" stroke="#cdbfbf" stroke-width="0.22"/>
<path d="M298.57,543.79 A61.70,61.70 0 0 1 300.33,542.04 L305.00,546.91 A54.95,54.95 0 0 0 303.43,548.47 Z" fill="#ffffff" stroke="#cdbfbf" stroke-width="0.22"/>
<path d="M303.43,548.47 A54.95,54.95 0 0 1 305.00,546.91 L309.66,551.79 A48.20,48.20 0 0 0 308.29,553.16 Z" fill="#ffffff" stroke="#cdbfbf" stroke-width="0.22"/>
<path d="M286.32,527.41 A81.95,81.95 0 0 1 288.75,525.18 L293.22,530.24 A75.20,75.20 0 0 0 290.99,532.29 Z" fill="#73b1a8" stroke="#73b1a8" stroke-width="0.45"/>
<path d="M290.99,532.29 A75.20,75.20 0 0 1 293.22,530.24 L297.69,535.30 A68.45,68.45 0 0 0 295.66,537.16 Z" fill="#ffffff" stroke="#cdbfbf" stroke-width="0.22"/>
<path d="M295.66,537.16 A68.45,68.45 0 0 1 297.69,535.30 L302.15,540.36 A61.70,61.70 0 0 0 300.33,542.04 Z" fill="#ffffff" stroke="#cdbfbf" stroke-width="0.22"/>
<path d="M300.33,542.04 A61.70,61.70 0 0 1 302.15,540.36 L306.62,545.42 A54.95,54.95 0 0 0 305.00,546.91 Z" fill="#ffffff" stroke="#cdbfbf" stroke-width="0.22"/>
<path d="M305.00,546.91 A54.95,54.95 0 0 1 306.62,545.42 L311.09,550.47 A48.20,48.20 0 0 0 309.66,551.79 Z" fill="#ffffff" stroke="#cdbfbf" stroke-width="0.22"/>
<path d="M288.75,525.18 A81.95,81.95 0 0 1 291.26,523.05 L295.52,528.28 A75.20,75.20 0 0 0 293.22,530.24 Z" fill="#77b4ab" stroke="#77b4ab" stroke-width="0.45"/>
<path d="M293.22,530.24 A75.20,75.20 0 0 1 295.52,528.28 L299.79,533.52 A68.45,68.45 0 0 0 297.69,535.30 Z" fill="#ffffff" stroke="#cdbfbf" stroke-width="0.22"/>
<path d="M297.69,535.30 A68.45,68.45 0 0 1 299.79,533.52 L304.05,538.75 A61.70,61.70 0 0 0 302.15,540.36 Z" fill="#ffffff" stroke="#cdbfbf" stroke-width="0.22"/>
<path d="M302.15,540.36 A61.70,61.70 0 0 1 304.05,538.75 L308.31,543.98 A54.95,54.95 0 0 0 306.62,545.42 Z" fill="#ffffff" stroke="#cdbfbf" stroke-width="0.22"/>
<path d="M306.62,545.42 A54.95,54.95 0 0 1 308.31,543.98 L312.57,549.22 A48.20,48.20 0 0 0 311.09,550.47 Z" fill="#ffffff" stroke="#cdbfbf" stroke-width="0.22"/>
<path d="M291.26,523.05 A81.95,81.95 0 0 1 293.86,521.02 L297.91,526.42 A75.20,75.20 0 0 0 295.52,528.28 Z" fill="#5b9b93" stroke="#5b9b93" stroke-width="0.45"/>
<path d="M295.52,528.28 A75.20,75.20 0 0 1 297.91,526.42 L301.96,531.82 A68.45,68.45 0 0 0 299.79,533.52 Z" fill="#ffffff" stroke="#cdbfbf" stroke-width="0.22"/>
<path d="M299.79,533.52 A68.45,68.45 0 0 1 301.96,531.82 L306.00,537.22 A61.70,61.70 0 0 0 304.05,538.75 Z" fill="#ffffff" stroke="#cdbfbf" stroke-width="0.22"/>
<path d="M304.05,538.75 A61.70,61.70 0 0 1 306.00,537.22 L310.05,542.62 A54.95,54.95 0 0 0 308.31,543.98 Z" fill="#ffffff" stroke="#cdbfbf" stroke-width="0.22"/>
<path d="M308.31,543.98 A54.95,54.95 0 0 1 310.05,542.62 L314.10,548.03 A48.20,48.20 0 0 0 312.57,549.22 Z" fill="#ffffff" stroke="#cdbfbf" stroke-width="0.22"/>
<path d="M293.86,521.02 A81.95,81.95 0 0 1 296.54,519.09 L300.37,524.65 A75.20,75.20 0 0 0 297.91,526.42 Z" fill="#67a69e" stroke="#67a69e" stroke-width="0.45"/>
<path d="M297.91,526.42 A75.20,75.20 0 0 1 300.37,524.65 L304.19,530.21 A68.45,68.45 0 0 0 301.96,531.82 Z" fill="#ffffff" stroke="#cdbfbf" stroke-width="0.22"/>
<path d="M301.96,531.82 A68.45,68.45 0 0 1 304.19,530.21 L308.02,535.77 A61.70,61.70 0 0 0 306.00,537.22 Z" fill="#ffffff" stroke="#cdbfbf" stroke-width="0.22"/>
<path d="M306.00,537.22 A61.70,61.70 0 0 1 308.02,535.77 L311.85,541.33 A54.95,54.95 0 0 0 310.05,542.62 Z" fill="#ffffff" stroke="#cdbfbf" stroke-width="0.22"/>
<path d="M310.05,542.62 A54.95,54.95 0 0 1 311.85,541.33 L315.67,546.89 A48.20,48.20 0 0 0 314.10,548.03 Z" fill="#ffffff" stroke="#cdbfbf" stroke-width="0.22"/>
<path d="M296.54,519.09 A81.95,81.95 0 0 1 299.29,517.28 L302.89,522.99 A75.20,75.20 0 0 0 300.37,524.65 Z" fill="#73b1a8" stroke="#73b1a8" stroke-width="0.45"/>
<path d="M300.37,524.65 A75.20,75.20 0 0 1 302.89,522.99 L306.49,528.70 A68.45,68.45 0 0 0 304.19,530.21 Z" fill="#ffffff" stroke="#cdbfbf" stroke-width="0.22"/>
<path d="M304.19,530.21 A68.45,68.45 0 0 1 306.49,528.70 L310.09,534.41 A61.70,61.70 0 0 0 308.02,535.77 Z" fill="#ffffff" stroke="#cdbfbf" stroke-width="0.22"/>
<path d="M308.02,535.77 A61.70,61.70 0 0 1 310.09,534.41 L313.69,540.12 A54.95,54.95 0 0 0 311.85,541.33 Z" fill="#ffffff" stroke="#cdbfbf" stroke-width="0.22"/>
<path d="M311.85,541.33 A54.95,54.95 0 0 1 313.69,540.12 L317.29,545.83 A48.20,48.20 0 0 0 315.67,546.89 Z" fill="#ffffff" stroke="#cdbfbf" stroke-width="0.22"/>
<path d="M299.29,517.28 A81.95,81.95 0 0 1 302.12,515.58 L305.49,521.43 A75.20,75.20 0 0 0 302.89,522.99 Z" fill="#66a69e" stroke="#66a69e" stroke-width="0.45"/>
<path d="M302.89,522.99 A75.20,75.20 0 0 1 305.49,521.43 L308.85,527.28 A68.45,68.45 0 0 0 306.49,528.70 Z" fill="#ffffff" stroke="#cdbfbf" stroke-width="0.22"/>
<path d="M306.49,528.70 A68.45,68.45 0 0 1 308.85,527.28 L312.22,533.13 A61.70,61.70 0 0 0 310.09,534.41 Z" fill="#ffffff" stroke="#cdbfbf" stroke-width="0.22"/>
<path d="M310.09,534.41 A61.70,61.70 0 0 1 312.22,533.13 L315.59,538.98 A54.95,54.95 0 0 0 313.69,540.12 Z" fill="#ffffff" stroke="#cdbfbf" stroke-width="0.22"/>
<path d="M313.69,540.12 A54.95,54.95 0 0 1 315.59,538.98 L318.96,544.83 A48.20,48.20 0 0 0 317.29,545.83 Z" fill="#ffffff" stroke="#cdbfbf" stroke-width="0.22"/>
<path d="M302.12,515.58 A81.95,81.95 0 0 1 305.01,513.99 L308.14,519.97 A75.20,75.20 0 0 0 305.49,521.43 Z" fill="#77b4ab" stroke="#77b4ab" stroke-width="0.45"/>
<path d="M305.49,521.43 A75.20,75.20 0 0 1 308.14,519.97 L311.27,525.95 A68.45,68.45 0 0 0 308.85,527.28 Z" fill="#ffffff" stroke="#cdbfbf" stroke-width="0.22"/>
<path d="M308.85,527.28 A68.45,68.45 0 0 1 311.27,525.95 L314.40,531.93 A61.70,61.70 0 0 0 312.22,533.13 Z" fill="#ffffff" stroke="#cdbfbf" stroke-width="0.22"/>
<path d="M312.22,533.13 A61.70,61.70 0 0 1 314.40,531.93 L317.53,537.91 A54.95,54.95 0 0 0 315.59,538.98 Z" fill="#ffffff" stroke="#cdbfbf" stroke-width="0.22"/>
<path d="M315.59,538.98 A54.95,54.95 0 0 1 317.53,537.91 L320.66,543.89 A48.20,48.20 0 0 0 318.96,544.83 Z" fill="#ffffff" stroke="#cdbfbf" stroke-width="0.22"/>
<path d="M305.01,513.99 A81.95,81.95 0 0 1 307.96,512.52 L310.85,518.62 A75.20,75.20 0 0 0 308.14,519.97 Z" fill="#67a69e" stroke="#67a69e" stroke-width="0.45"/>
<path d="M308.14,519.97 A75.20,75.20 0 0 1 310.85,518.62 L313.73,524.72 A68.45,68.45 0 0 0 311.27,525.95 Z" fill="#ffffff" stroke="#cdbfbf" stroke-width="0.22"/>
<path d="M311.27,525.95 A68.45,68.45 0 0 1 313.73,524.72 L316.62,530.82 A61.70,61.70 0 0 0 314.40,531.93 Z" fill="#ffffff" stroke="#cdbfbf" stroke-width="0.22"/>
<path d="M314.40,531.93 A61.70,61.70 0 0 1 316.62,530.82 L319.51,536.93 A54.95,54.95 0 0 0 317.53,537.91 Z" fill="#ffffff" stroke="#cdbfbf" stroke-width="0.22"/>
<path d="M317.53,537.91 A54.95,54.95 0 0 1 319.51,536.93 L322.39,543.03 A48.20,48.20 0 0 0 320.66,543.89 Z" fill="#ffffff" stroke="#cdbfbf" stroke-width="0.22"/>
<path d="M307.96,512.52 A81.95,81.95 0 0 1 310.97,511.17 L313.61,517.38 A75.20,75.20 0 0 0 310.85,518.62 Z" fill="#5c9b92" stroke="#5c9b92" stroke-width="0.45"/>
<path d="M310.85,518.62 A75.20,75.20 0 0 1 313.61,517.38 L316.25,523.59 A68.45,68.45 0 0 0 313.73,524.72 Z" fill="#ffffff" stroke="#cdbfbf" stroke-width="0.22"/>
<path d="M313.73,524.72 A68.45,68.45 0 0 1 316.25,523.59 L318.88,529.81 A61.70,61.70 0 0 0 316.62,530.82 Z" fill="#ffffff" stroke="#cdbfbf" stroke-width="0.22"/>
<path d="M316.62,530.82 A61.70,61.70 0 0 1 318.88,529.81 L321.52,536.02 A54.95,54.95 0 0 0 319.51,536.93 Z" fill="#ffffff" stroke="#cdbfbf" stroke-width="0.22"/>
<path d="M319.51,536.93 A54.95,54.95 0 0 1 321.52,536.02 L324.16,542.23 A48.20,48.20 0 0 0 322.39,543.03 Z" fill="#ffffff" stroke="#cdbfbf" stroke-width="0.22"/>
<path d="M310.97,511.17 A81.95,81.95 0 0 1 314.03,509.94 L316.42,516.26 A75.20,75.20 0 0 0 313.61,517.38 Z" fill="#5c9d95" stroke="#5c9d95" stroke-width="0.45"/>
<path d="M313.61,517.38 A75.20,75.20 0 0 1 316.42,516.26 L318.80,522.57 A68.45,68.45 0 0 0 316.25,523.59 Z" fill="#ffffff" stroke="#cdbfbf" stroke-width="0.22"/>
<path d="M316.25,523.59 A68.45,68.45 0 0 1 318.80,522.57 L321.19,528.88 A61.70,61.70 0 0 0 318.88,529.81 Z" fill="#ffffff" stroke="#cdbfbf" stroke-width="0.22"/>
<path d="M318.88,529.81 A61.70,61.70 0 0 1 321.19,528.88 L323.58,535.20 A54.95,54.95 0 0 0 321.52,536.02 Z" fill="#ffffff" stroke="#cdbfbf" stroke-width="0.22"/>
<path d="M321.52,536.02 A54.95,54.95 0 0 1 323.58,535.20 L325.96,541.51 A48.20,48.20 0 0 0 324.16,542.23 Z" fill="#ffffff" stroke="#cdbfbf" stroke-width="0.22"/>
<path d="M314.03,509.94 A81.95,81.95 0 0 1 317.14,508.84 L319.27,515.24 A75.20,75.20 0 0 0 316.42,516.26 Z" fill="#61a29a" stroke="#61a29a" stroke-width="0.45"/>
<path d="M316.42,516.26 A75.20,75.20 0 0 1 319.27,515.24 L321.40,521.65 A68.45,68.45 0 0 0 318.80,522.57 Z" fill="#ffffff" stroke="#cdbfbf" stroke-width="0.22"/>
<path d="M318.80,522.57 A68.45,68.45 0 0 1 321.40,521.65 L323.53,528.05 A61.70,61.70 0 0 0 321.19,528.88 Z" fill="#ffffff" stroke="#cdbfbf" stroke-width="0.22"/>
<path d="M321.19,528.88 A61.70,61.70 0 0 1 323.53,528.05 L325.66,534.46 A54.95,54.95 0 0 0 323.58,535.20 Z" fill="#ffffff" stroke="#cdbfbf" stroke-width="0.22"/>
<path d="M323.58,535.20 A54.95,54.95 0 0 1 325.66,534.46 L327.79,540.86 A48.20,48.20 0 0 0 325.96,541.51 Z" fill="#ffffff" stroke="#cdbfbf" stroke-width="0.22"/>
<path d="M317.14,508.84 A81.95,81.95 0 0 1 320.29,507.86 L322.16,514.35 A75.20,75.20 0 0 0 319.27,515.24 Z" fill="#6faea5" stroke="#6faea5" stroke-width="0.45"/>
<path d="M319.27,515.24 A75.20,75.20 0 0 1 322.16,514.35 L324.03,520.83 A68.45,68.45 0 0 0 321.40,521.65 Z" fill="#ffffff" stroke="#cdbfbf" stroke-width="0.22"/>
<path d="M321.40,521.65 A68.45,68.45 0 0 1 324.03,520.83 L325.90,527.32 A61.70,61.70 0 0 0 323.53,528.05 Z" fill="#ffffff" stroke="#cdbfbf" stroke-width="0.22"/>
<path d="M323.53,528.05 A61.70,61.70 0 0 1 325.90,527.32 L327.77,533.80 A54.95,54.95 0 0 0 325.66,534.46 Z" fill="#ffffff" stroke="#cdbfbf" stroke-width="0.22"/>
<path d="M325.66,534.46 A54.95,54.95 0 0 1 327.77,533.80 L329.64,540.29 A48.20,48.20 0 0 0 327.79,540.86 Z" fill="#ffffff" stroke="#cdbfbf" stroke-width="0.22"/>
<path d="M320.29,507.86 A81.95,81.95 0 0 1 323.47,507.01 L325.08,513.57 A75.20,75.20 0 0 0 322.16,514.35 Z" fill="#6caba2" stroke="#6caba2" stroke-width="0.45"/>
<path d="M322.16,514.35 A75.20,75.20 0 0 1 325.08,513.57 L326.69,520.12 A68.45,68.45 0 0 0 324.03,520.83 Z" fill="#ffffff" stroke="#cdbfbf" stroke-width="0.22"/>
<path d="M324.03,520.83 A68.45,68.45 0 0 1 326.69,520.12 L328.30,526.68 A61.70,61.70 0 0 0 325.90,527.32 Z" fill="#ffffff" stroke="#cdbfbf" stroke-width="0.22"/>
<path d="M325.90,527.32 A61.70,61.70 0 0 1 328.30,526.68 L329.91,533.23 A54.95,54.95 0 0 0 327.77,533.80 Z" fill="#ffffff" stroke="#cdbfbf" stroke-width="0.22"/>
<path d="M327.77,533.80 A54.95,54.95 0 0 1 329.91,533.23 L331.52,539.79 A48.20,48.20 0 0 0 329.64,540.29 Z" fill="#ffffff" stroke="#cdbfbf" stroke-width="0.22"/>
<path d="M323.47,507.01 A81.95,81.95 0 0 1 326.69,506.29 L328.04,512.90 A75.20,75.20 0 0 0 325.08,513.57 Z" fill="#72b0a8" stroke="#72b0a8" stroke-width="0.45"/>
<path d="M325.08,513.57 A75.20,75.20 0 0 1 328.04,512.90 L329.38,519.52 A68.45,68.45 0 0 0 326.69,520.12 Z" fill="#ffffff" stroke="#cdbfbf" stroke-width="0.22"/>
<path d="M326.69,520.12 A68.45,68.45 0 0 1 329.38,519.52 L330.72,526.13 A61.70,61.70 0 0 0 328.30,526.68 Z" fill="#ffffff" stroke="#cdbfbf" stroke-width="0.22"/>
<path d="M328.30,526.68 A61.70,61.70 0 0 1 330.72,526.13 L332.07,532.75 A54.95,54.95 0 0 0 329.91,533.23 Z" fill="#ffffff" stroke="#cdbfbf" stroke-width="0.22"/>
<path d="M329.91,533.23 A54.95,54.95 0 0 1 332.07,532.75 L333.41,539.36 A48.20,48.20 0 0 0 331.52,539.79 Z" fill="#ffffff" stroke="#cdbfbf" stroke-width="0.22"/>
<path d="M326.69,506.29 A81.95,81.95 0 0 1 329.94,505.70 L331.01,512.36 A75.20,75.20 0 0 0 328.04,512.90 Z" fill="#5fa098" stroke="#5fa098" stroke-width="0.45"/>
<path d="M328.04,512.90 A75.20,75.20 0 0 1 331.01,512.36 L332.09,519.03 A68.45,68.45 0 0 0 329.38,519.52 Z" fill="#ffffff" stroke="#cdbfbf" stroke-width="0.22"/>
<path d="M329.38,519.52 A68.45,68.45 0 0 1 332.09,519.03 L333.16,525.69 A61.70,61.70 0 0 0 330.72,526.13 Z" fill="#ffffff" stroke="#cdbfbf" stroke-width="0.22"/>
<path d="M330.72,526.13 A61.70,61.70 0 0 1 333.16,525.69 L334.24,532.35 A54.95,54.95 0 0 0 332.07,532.75 Z" fill="#ffffff" stroke="#cdbfbf" stroke-width="0.22"/>
<path d="M332.07,532.75 A54.95,54.95 0 0 1 334.24,532.35 L335.32,539.02 A48.20,48.20 0 0 0 333.41,539.36 Z" fill="#ffffff" stroke="#cdbfbf" stroke-width="0.22"/>
<path d="M329.94,505.70 A81.95,81.95 0 0 1 333.20,505.24 L334.01,511.94 A75.20,75.20 0 0 0 331.01,512.36 Z" fill="#66a69e" stroke="#66a69e" stroke-width="0.45"/>
<path d="M331.01,512.36 A75.20,75.20 0 0 1 334.01,511.94 L334.82,518.64 A68.45,68.45 0 0 0 332.09,519.03 Z" fill="#ffffff" stroke="#cdbfbf" stroke-width="0.22"/>
<path d="M332.09,519.03 A68.45,68.45 0 0 1 334.82,518.64 L335.62,525.34 A61.70,61.70 0 0 0 333.16,525.69 Z" fill="#ffffff" stroke="#cdbfbf" stroke-width="0.22"/>
<path d="M333.16,525.69 A61.70,61.70 0 0 1 335.62,525.34 L336.43,532.04 A54.95,54.95 0 0 0 334.24,532.35 Z" fill="#ffffff" stroke="#cdbfbf" stroke-width="0.22"/>
<path d="M334.24,532.35 A54.95,54.95 0 0 1 336.43,532.04 L337.24,538.75 A48.20,48.20 0 0 0 335.32,539.02 Z" fill="#ffffff" stroke="#cdbfbf" stroke-width="0.22"/>
<path d="M333.20,505.24 A81.95,81.95 0 0 1 336.48,504.91 L337.02,511.64 A75.20,75.20 0 0 0 334.01,511.94 Z" fill="#5ea097" stroke="#5ea097" stroke-width="0.45"/>
<path d="M334.01,511.94 A75.20,75.20 0 0 1 337.02,511.64 L337.56,518.37 A68.45,68.45 0 0 0 334.82,518.64 Z" fill="#ffffff" stroke="#cdbfbf" stroke-width="0.22"/>
<path d="M334.82,518.64 A68.45,68.45 0 0 1 337.56,518.37 L338.09,525.10 A61.70,61.70 0 0 0 335.62,525.34 Z" fill="#ffffff" stroke="#cdbfbf" stroke-width="0.22"/>
<path d="M335.62,525.34 A61.70,61.70 0 0 1 338.09,525.10 L338.63,531.82 A54.95,54.95 0 0 0 336.43,532.04 Z" fill="#ffffff" stroke="#cdbfbf" stroke-width="0.22"/>
<path d="M336.43,532.04 A54.95,54.95 0 0 1 338.63,531.82 L339.17,538.55 A48.20,48.20 0 0 0 337.24,538.75 Z" fill="#ffffff" stroke="#cdbfbf" stroke-width="0.22"/>
<path d="M336.48,504.91 A81.95,81.95 0 0 1 339.77,504.71 L340.04,511.46 A75.20,75.20 0 0 0 337.02,511.64 Z" fill="#6daca3" stroke="#6daca3" stroke-width="0.45"/>
<path d="M337.02,511.64 A75.20,75.20 0 0 1 340.04,511.46 L340.31,518.20 A68.45,68.45 0 0 0 337.56,518.37 Z" fill="#ffffff" stroke="#cdbfbf" stroke-width="0.22"/>
<path d="M337.56,518.37 A68.45,68.45 0 0 1 340.31,518.20 L340.57,524.95 A61.70,61.70 0 0 0 338.09,525.10 Z" fill="#ffffff" stroke="#cdbfbf" stroke-width="0.22"/>
<path d="M338.09,525.10 A61.70,61.70 0 0 1 340.57,524.95 L340.84,531.69 A54.95,54.95 0 0 0 338.63,531.82 Z" fill="#ffffff" stroke="#cdbfbf" stroke-width="0.22"/>
<path d="M338.63,531.82 A54.95,54.95 0 0 1 340.84,531.69 L341.10,538.44 A48.20,48.20 0 0 0 339.17,538.55 Z" fill="#ffffff" stroke="#cdbfbf" stroke-width="0.22"/>
<path d="M339.77,504.71 A81.95,81.95 0 0 1 343.07,504.65 L343.07,511.40 A75.20,75.20 0 0 0 340.04,511.46 Z" fill="#71afa6" stroke="#71afa6" stroke-width="0.45"/>
<path d="M340.04,511.46 A75.20,75.20 0 0 1 343.07,511.40 L343.06,518.15 A68.45,68.45 0 0 0 340.31,518.20 Z" fill="#ffffff" stroke="#cdbfbf" stroke-width="0.22"/>
<path d="M340.31,518.20 A68.45,68.45 0 0 1 343.06,518.15 L343.05,524.90 A61.70,61.70 0 0 0 340.57,524.95 Z" fill="#ffffff" stroke="#cdbfbf" stroke-width="0.22"/>
<path d="M340.57,524.95 A61.70,61.70 0 0 1 343.05,524.90 L343.05,531.65 A54.95,54.95 0 0 0 340.84,531.69 Z" fill="#ffffff" stroke="#cdbfbf" stroke-width="0.22"/>
<path d="M340.84,531.69 A54.95,54.95 0 0 1 343.05,531.65 L343.04,538.40 A48.20,48.20 0 0 0 341.10,538.44 Z" fill="#ffffff" stroke="#cdbfbf" stroke-width="0.22"/>
<path d="M343.07,504.65 A81.95,81.95 0 0 1 346.37,504.72 L346.09,511.46 A75.20,75.20 0 0 0 343.07,511.40 Z" fill="#6e897e" stroke="#6e897e" stroke-width="0.45"/>
<path d="M343.07,511.40 A75.20,75.20 0 0 1 346.09,511.46 L345.81,518.21 A68.45,68.45 0 0 0 343.06,518.15 Z" fill="#ffffff" stroke="#cdbfbf" stroke-width="0.22"/>
<path d="M343.06,518.15 A68.45,68.45 0 0 1 345.81,518.21 L345.54,524.95 A61.70,61.70 0 0 0 343.05,524.90 Z" fill="#ffffff" stroke="#cdbfbf" stroke-width="0.22"/>
<path d="M343.05,524.90 A61.70,61.70 0 0 1 345.54,524.95 L345.26,531.70 A54.95,54.95 0 0 0 343.05,531.65 Z" fill="#ffffff" stroke="#cdbfbf" stroke-width="0.22"/>
<path d="M343.05,531.65 A54.95,54.95 0 0 1 345.26,531.70 L344.98,538.44 A48.20,48.20 0 0 0 343.04,538.40 Z" fill="#ffffff" stroke="#cdbfbf" stroke-width="0.22"/>
<path d="M346.37,504.72 A81.95,81.95 0 0 1 349.66,504.92 L349.11,511.65 A75.20,75.20 0 0 0 346.09,511.46 Z" fill="#6e897e" stroke="#6e897e" stroke-width="0.45"/>
<path d="M346.09,511.46 A75.20,75.20 0 0 1 349.11,511.65 L348.56,518.38 A68.45,68.45 0 0 0 345.81,518.21 Z" fill="#ffffff" stroke="#cdbfbf" stroke-width="0.22"/>
<path d="M345.81,518.21 A68.45,68.45 0 0 1 348.56,518.38 L348.01,525.10 A61.70,61.70 0 0 0 345.54,524.95 Z" fill="#ffffff" stroke="#cdbfbf" stroke-width="0.22"/>
<path d="M345.54,524.95 A61.70,61.70 0 0 1 348.01,525.10 L347.47,531.83 A54.95,54.95 0 0 0 345.26,531.70 Z" fill="#ffffff" stroke="#cdbfbf" stroke-width="0.22"/>
<path d="M345.26,531.70 A54.95,54.95 0 0 1 347.47,531.83 L346.92,538.56 A48.20,48.20 0 0 0 344.98,538.44 Z" fill="#ffffff" stroke="#cdbfbf" stroke-width="0.22"/>
<path d="M349.66,504.92 A81.95,81.95 0 0 1 352.94,505.26 L352.12,511.96 A75.20,75.20 0 0 0 349.11,511.65 Z" fill="#6e897e" stroke="#6e897e" stroke-width="0.45"/>
<path d="M349.11,511.65 A75.20,75.20 0 0 1 352.12,511.96 L351.30,518.66 A68.45,68.45 0 0 0 348.56,518.38 Z" fill="#ffffff" stroke="#cdbfbf" stroke-width="0.22"/>
<path d="M348.56,518.38 A68.45,68.45 0 0 1 351.30,518.66 L350.48,525.36 A61.70,61.70 0 0 0 348.01,525.10 Z" fill="#ffffff" stroke="#cdbfbf" stroke-width="0.22"/>
<path d="M348.01,525.10 A61.70,61.70 0 0 1 350.48,525.36 L349.67,532.06 A54.95,54.95 0 0 0 347.47,531.83 Z" fill="#ffffff" stroke="#cdbfbf" stroke-width="0.22"/>
<path d="M347.47,531.83 A54.95,54.95 0 0 1 349.67,532.06 L348.85,538.76 A48.20,48.20 0 0 0 346.92,538.56 Z" fill="#ffffff" stroke="#cdbfbf" stroke-width="0.22"/>
<path d="M352.94,505.26 A81.95,81.95 0 0 1 356.21,505.72 L355.12,512.38 A75.20,75.20 0 0 0 352.12,511.96 Z" fill="#60968e" stroke="#60968e" stroke-width="0.45"/>
<path d="M352.12,511.96 A75.20,75.20 0 0 1 355.12,512.38 L354.03,519.04 A68.45,68.45 0 0 0 351.30,518.66 Z" fill="#ffffff" stroke="#cdbfbf" stroke-width="0.22"/>
<path d="M351.30,518.66 A68.45,68.45 0 0 1 354.03,519.04 L352.94,525.71 A61.70,61.70 0 0 0 350.48,525.36 Z" fill="#ffffff" stroke="#cdbfbf" stroke-width="0.22"/>
<path d="M350.48,525.36 A61.70,61.70 0 0 1 352.94,525.71 L351.85,532.37 A54.95,54.95 0 0 0 349.67,532.06 Z" fill="#ffffff" stroke="#cdbfbf" stroke-width="0.22"/>
<path d="M349.67,532.06 A54.95,54.95 0 0 1 351.85,532.37 L350.77,539.03 A48.20,48.20 0 0 0 348.85,538.76 Z" fill="#ffffff" stroke="#cdbfbf" stroke-width="0.22"/>
<path d="M356.21,505.72 A81.95,81.95 0 0 1 359.45,506.32 L358.09,512.93 A75.20,75.20 0 0 0 355.12,512.38 Z" fill="#60968e" stroke="#60968e" stroke-width="0.45"/>
<path d="M355.12,512.38 A75.20,75.20 0 0 1 358.09,512.93 L356.74,519.54 A68.45,68.45 0 0 0 354.03,519.04 Z" fill="#ffffff" stroke="#cdbfbf" stroke-width="0.22"/>
<path d="M354.03,519.04 A68.45,68.45 0 0 1 356.74,519.54 L355.38,526.16 A61.70,61.70 0 0 0 352.94,525.71 Z" fill="#ffffff" stroke="#cdbfbf" stroke-width="0.22"/>
<path d="M352.94,525.71 A61.70,61.70 0 0 1 355.38,526.16 L354.03,532.77 A54.95,54.95 0 0 0 351.85,532.37 Z" fill="#ffffff" stroke="#cdbfbf" stroke-width="0.22"/>
<path d="M351.85,532.37 A54.95,54.95 0 0 1 354.03,532.77 L352.67,539.38 A48.20,48.20 0 0 0 350.77,539.03 Z" fill="#ffffff" stroke="#cdbfbf" stroke-width="0.22"/>
<path d="M359.45,506.32 A81.95,81.95 0 0 1 362.67,507.04 L361.05,513.60 A75.20,75.20 0 0 0 358.09,512.93 Z" fill="#60968e" stroke="#60968e" stroke-width="0.45"/>
<path d="M358.09,512.93 A75.20,75.20 0 0 1 361.05,513.60 L359.43,520.15 A68.45,68.45 0 0 0 356.74,519.54 Z" fill="#ffffff" stroke="#cdbfbf" stroke-width="0.22"/>
<path d="M356.74,519.54 A68.45,68.45 0 0 1 359.43,520.15 L357.81,526.70 A61.70,61.70 0 0 0 355.38,526.16 Z" fill="#ffffff" stroke="#cdbfbf" stroke-width="0.22"/>
<path d="M355.38,526.16 A61.70,61.70 0 0 1 357.81,526.70 L356.19,533.26 A54.95,54.95 0 0 0 354.03,532.77 Z" fill="#ffffff" stroke="#cdbfbf" stroke-width="0.22"/>
<path d="M354.03,532.77 A54.95,54.95 0 0 1 356.19,533.26 L354.57,539.81 A48.20,48.20 0 0 0 352.67,539.38 Z" fill="#ffffff" stroke="#cdbfbf" stroke-width="0.22"/>
<path d="M362.67,507.04 A81.95,81.95 0 0 1 365.85,507.90 L363.97,514.38 A75.20,75.20 0 0 0 361.05,513.60 Z" fill="#60968e" stroke="#60968e" stroke-width="0.45"/>
<path d="M361.05,513.60 A75.20,75.20 0 0 1 363.97,514.38 L362.09,520.86 A68.45,68.45 0 0 0 359.43,520.15 Z" fill="#ffffff" stroke="#cdbfbf" stroke-width="0.22"/>
<path d="M359.43,520.15 A68.45,68.45 0 0 1 362.09,520.86 L360.20,527.35 A61.70,61.70 0 0 0 357.81,526.70 Z" fill="#ffffff" stroke="#cdbfbf" stroke-width="0.22"/>
<path d="M357.81,526.70 A61.70,61.70 0 0 1 360.20,527.35 L358.32,533.83 A54.95,54.95 0 0 0 356.19,533.26 Z" fill="#ffffff" stroke="#cdbfbf" stroke-width="0.22"/>
<path d="M356.19,533.26 A54.95,54.95 0 0 1 358.32,533.83 L356.44,540.31 A48.20,48.20 0 0 0 354.57,539.81 Z" fill="#ffffff" stroke="#cdbfbf" stroke-width="0.22"/>
<path d="M365.85,507.90 A81.95,81.95 0 0 1 369.00,508.88 L366.86,515.28 A75.20,75.20 0 0 0 363.97,514.38 Z" fill="#60968e" stroke="#60968e" stroke-width="0.45"/>
<path d="M363.97,514.38 A75.20,75.20 0 0 1 366.86,515.28 L364.72,521.69 A68.45,68.45 0 0 0 362.09,520.86 Z" fill="#ffffff" stroke="#cdbfbf" stroke-width="0.22"/>
<path d="M362.09,520.86 A68.45,68.45 0 0 1 364.72,521.69 L362.57,528.09 A61.70,61.70 0 0 0 360.20,527.35 Z" fill="#ffffff" stroke="#cdbfbf" stroke-width="0.22"/>
<path d="M360.20,527.35 A61.70,61.70 0 0 1 362.57,528.09 L360.43,534.49 A54.95,54.95 0 0 0 358.32,533.83 Z" fill="#ffffff" stroke="#cdbfbf" stroke-width="0.22"/>
<path d="M358.32,533.83 A54.95,54.95 0 0 1 360.43,534.49 L358.29,540.89 A48.20,48.20 0 0 0 356.44,540.31 Z" fill="#ffffff" stroke="#cdbfbf" stroke-width="0.22"/>
<path d="M369.00,508.88 A81.95,81.95 0 0 1 372.10,509.99 L369.71,516.30 A75.20,75.20 0 0 0 366.86,515.28 Z" fill="#60968e" stroke="#60968e" stroke-width="0.45"/>
<path d="M366.86,515.28 A75.20,75.20 0 0 1 369.71,516.30 L367.31,522.61 A68.45,68.45 0 0 0 364.72,521.69 Z" fill="#ffffff" stroke="#cdbfbf" stroke-width="0.22"/>
<path d="M364.72,521.69 A68.45,68.45 0 0 1 367.31,522.61 L364.91,528.92 A61.70,61.70 0 0 0 362.57,528.09 Z" fill="#ffffff" stroke="#cdbfbf" stroke-width="0.22"/>
<path d="M362.57,528.09 A61.70,61.70 0 0 1 364.91,528.92 L362.52,535.23 A54.95,54.95 0 0 0 360.43,534.49 Z" fill="#ffffff" stroke="#cdbfbf" stroke-width="0.22"/>
<path d="M360.43,534.49 A54.95,54.95 0 0 1 362.52,535.23 L360.12,541.54 A48.20,48.20 0 0 0 358.29,540.89 Z" fill="#ffffff" stroke="#cdbfbf" stroke-width="0.22"/>
<path d="M372.10,509.99 A81.95,81.95 0 0 1 375.16,511.23 L372.51,517.43 A75.20,75.20 0 0 0 369.71,516.30 Z" fill="#60968e" stroke="#60968e" stroke-width="0.45"/>
<path d="M369.71,516.30 A75.20,75.20 0 0 1 372.51,517.43 L369.86,523.64 A68.45,68.45 0 0 0 367.31,522.61 Z" fill="#ffffff" stroke="#cdbfbf" stroke-width="0.22"/>
<path d="M367.31,522.61 A68.45,68.45 0 0 1 369.86,523.64 L367.22,529.85 A61.70,61.70 0 0 0 364.91,528.92 Z" fill="#ffffff" stroke="#cdbfbf" stroke-width="0.22"/>
<path d="M364.91,528.92 A61.70,61.70 0 0 1 367.22,529.85 L364.57,536.06 A54.95,54.95 0 0 0 362.52,535.23 Z" fill="#ffffff" stroke="#cdbfbf" stroke-width="0.22"/>
<path d="M362.52,535.23 A54.95,54.95 0 0 1 364.57,536.06 L361.92,542.27 A48.20,48.20 0 0 0 360.12,541.54 Z" fill="#ffffff" stroke="#cdbfbf" stroke-width="0.22"/>
<path d="M375.16,511.23 A81.95,81.95 0 0 1 378.17,512.58 L375.27,518.68 A75.20,75.20 0 0 0 372.51,517.43 Z" fill="#77b4ab" stroke="#77b4ab" stroke-width="0.45"/>
<path d="M372.51,517.43 A75.20,75.20 0 0 1 375.27,518.68 L372.38,524.77 A68.45,68.45 0 0 0 369.86,523.64 Z" fill="#ffffff" stroke="#cdbfbf" stroke-width="0.22"/>
<path d="M369.86,523.64 A68.45,68.45 0 0 1 372.38,524.77 L369.48,530.87 A61.70,61.70 0 0 0 367.22,529.85 Z" fill="#ffffff" stroke="#cdbfbf" stroke-width="0.22"/>
<path d="M367.22,529.85 A61.70,61.70 0 0 1 369.48,530.87 L366.58,536.97 A54.95,54.95 0 0 0 364.57,536.06 Z" fill="#ffffff" stroke="#cdbfbf" stroke-width="0.22"/>
<path d="M364.57,536.06 A54.95,54.95 0 0 1 366.58,536.97 L363.69,543.06 A48.20,48.20 0 0 0 361.92,542.27 Z" fill="#ffffff" stroke="#cdbfbf" stroke-width="0.22"/>
<path d="M378.17,512.58 A81.95,81.95 0 0 1 381.12,514.05 L377.98,520.03 A75.20,75.20 0 0 0 375.27,518.68 Z" fill="#6fada5" stroke="#6fada5" stroke-width="0.45"/>
<path d="M375.27,518.68 A75.20,75.20 0 0 1 377.98,520.03 L374.84,526.01 A68.45,68.45 0 0 0 372.38,524.77 Z" fill="#ffffff" stroke="#cdbfbf" stroke-width="0.22"/>
<path d="M372.38,524.77 A68.45,68.45 0 0 1 374.84,526.01 L371.70,531.98 A61.70,61.70 0 0 0 369.48,530.87 Z" fill="#ffffff" stroke="#cdbfbf" stroke-width="0.22"/>
<path d="M369.48,530.87 A61.70,61.70 0 0 1 371.70,531.98 L368.56,537.96 A54.95,54.95 0 0 0 366.58,536.97 Z" fill="#ffffff" stroke="#cdbfbf" stroke-width="0.22"/>
<path d="M366.58,536.97 A54.95,54.95 0 0 1 368.56,537.96 L365.42,543.93 A48.20,48.20 0 0 0 363.69,543.06 Z" fill="#ffffff" stroke="#cdbfbf" stroke-width="0.22"/>
<path d="M381.12,514.05 A81.95,81.95 0 0 1 384.01,515.65 L380.63,521.49 A75.20,75.20 0 0 0 377.98,520.03 Z" fill="#6faea5" stroke="#6faea5" stroke-width="0.45"/>
<path d="M377.98,520.03 A75.20,75.20 0 0 1 380.63,521.49 L377.25,527.34 A68.45,68.45 0 0 0 374.84,526.01 Z" fill="#ffffff" stroke="#cdbfbf" stroke-width="0.22"/>
<path d="M374.84,526.01 A68.45,68.45 0 0 1 377.25,527.34 L373.87,533.18 A61.70,61.70 0 0 0 371.70,531.98 Z" fill="#ffffff" stroke="#cdbfbf" stroke-width="0.22"/>
<path d="M371.70,531.98 A61.70,61.70 0 0 1 373.87,533.18 L370.50,539.02 A54.95,54.95 0 0 0 368.56,537.96 Z" fill="#ffffff" stroke="#cdbfbf" stroke-width="0.22"/>
<path d="M368.56,537.96 A54.95,54.95 0 0 1 370.50,539.02 L367.12,544.87 A48.20,48.20 0 0 0 365.42,543.93 Z" fill="#ffffff" stroke="#cdbfbf" stroke-width="0.22"/>
<path d="M384.01,515.65 A81.95,81.95 0 0 1 386.83,517.35 L383.22,523.06 A75.20,75.20 0 0 0 380.63,521.49 Z" fill="#61a29a" stroke="#61a29a" stroke-width="0.45"/>
<path d="M380.63,521.49 A75.20,75.20 0 0 1 383.22,523.06 L379.61,528.76 A68.45,68.45 0 0 0 377.25,527.34 Z" fill="#ffffff" stroke="#cdbfbf" stroke-width="0.22"/>
<path d="M377.25,527.34 A68.45,68.45 0 0 1 379.61,528.76 L376.00,534.47 A61.70,61.70 0 0 0 373.87,533.18 Z" fill="#ffffff" stroke="#cdbfbf" stroke-width="0.22"/>
<path d="M373.87,533.18 A61.70,61.70 0 0 1 376.00,534.47 L372.39,540.17 A54.95,54.95 0 0 0 370.50,539.02 Z" fill="#ffffff" stroke="#cdbfbf" stroke-width="0.22"/>
<path d="M370.50,539.02 A54.95,54.95 0 0 1 372.39,540.17 L368.78,545.87 A48.20,48.20 0 0 0 367.12,544.87 Z" fill="#ffffff" stroke="#cdbfbf" stroke-width="0.22"/>
<path d="M386.83,517.35 A81.95,81.95 0 0 1 389.58,519.17 L385.74,524.73 A75.20,75.20 0 0 0 383.22,523.06 Z" fill="#5b9b93" stroke="#5b9b93" stroke-width="0.45"/>
<path d="M383.22,523.06 A75.20,75.20 0 0 1 385.74,524.73 L381.90,530.28 A68.45,68.45 0 0 0 379.61,528.76 Z" fill="#ffffff" stroke="#cdbfbf" stroke-width="0.22"/>
<path d="M379.61,528.76 A68.45,68.45 0 0 1 381.90,530.28 L378.07,535.83 A61.70,61.70 0 0 0 376.00,534.47 Z" fill="#ffffff" stroke="#cdbfbf" stroke-width="0.22"/>
<path d="M376.00,534.47 A61.70,61.70 0 0 1 378.07,535.83 L374.23,541.39 A54.95,54.95 0 0 0 372.39,540.17 Z" fill="#ffffff" stroke="#cdbfbf" stroke-width="0.22"/>
<path d="M372.39,540.17 A54.95,54.95 0 0 1 374.23,541.39 L370.40,546.94 A48.20,48.20 0 0 0 368.78,545.87 Z" fill="#ffffff" stroke="#cdbfbf" stroke-width="0.22"/>
<path d="M389.58,519.17 A81.95,81.95 0 0 1 392.25,521.10 L388.20,526.50 A75.20,75.20 0 0 0 385.74,524.73 Z" fill="#69a9a0" stroke="#69a9a0" stroke-width="0.45"/>
<path d="M385.74,524.73 A75.20,75.20 0 0 1 388.20,526.50 L384.14,531.89 A68.45,68.45 0 0 0 381.90,530.28 Z" fill="#ffffff" stroke="#cdbfbf" stroke-width="0.22"/>
<path d="M381.90,530.28 A68.45,68.45 0 0 1 384.14,531.89 L380.08,537.29 A61.70,61.70 0 0 0 378.07,535.83 Z" fill="#ffffff" stroke="#cdbfbf" stroke-width="0.22"/>
<path d="M378.07,535.83 A61.70,61.70 0 0 1 380.08,537.29 L376.03,542.68 A54.95,54.95 0 0 0 374.23,541.39 Z" fill="#ffffff" stroke="#cdbfbf" stroke-width="0.22"/>
<path d="M374.23,541.39 A54.95,54.95 0 0 1 376.03,542.68 L371.97,548.08 A48.20,48.20 0 0 0 370.40,546.94 Z" fill="#ffffff" stroke="#cdbfbf" stroke-width="0.22"/>
<path d="M392.25,521.10 A81.95,81.95 0 0 1 394.85,523.14 L390.58,528.36 A75.20,75.20 0 0 0 388.20,526.50 Z" fill="#5b9b93" stroke="#5b9b93" stroke-width="0.45"/>
<path d="M388.20,526.50 A75.20,75.20 0 0 1 390.58,528.36 L386.31,533.59 A68.45,68.45 0 0 0 384.14,531.89 Z" fill="#ffffff" stroke="#cdbfbf" stroke-width="0.22"/>
<path d="M384.14,531.89 A68.45,68.45 0 0 1 386.31,533.59 L382.04,538.82 A61.70,61.70 0 0 0 380.08,537.29 Z" fill="#ffffff" stroke="#cdbfbf" stroke-width="0.22"/>
<path d="M380.08,537.29 A61.70,61.70 0 0 1 382.04,538.82 L377.77,544.05 A54.95,54.95 0 0 0 376.03,542.68 Z" fill="#ffffff" stroke="#cdbfbf" stroke-width="0.22"/>
<path d="M376.03,542.68 A54.95,54.95 0 0 1 377.77,544.05 L373.50,549.27 A48.20,48.20 0 0 0 371.97,548.08 Z" fill="#ffffff" stroke="#cdbfbf" stroke-width="0.22"/>
<path d="M394.85,523.14 A81.95,81.95 0 0 1 397.36,525.27 L392.88,530.33 A75.20,75.20 0 0 0 390.58,528.36 Z" fill="#5c9a92" stroke="#5c9a92" stroke-width="0.45"/>
<path d="M390.58,528.36 A75.20,75.20 0 0 1 392.88,530.33 L388.40,535.38 A68.45,68.45 0 0 0 386.31,533.59 Z" fill="#ffffff" stroke="#cdbfbf" stroke-width="0.22"/>
<path d="M386.31,533.59 A68.45,68.45 0 0 1 388.40,535.38 L383.93,540.43 A61.70,61.70 0 0 0 382.04,538.82 Z" fill="#ffffff" stroke="#cdbfbf" stroke-width="0.22"/>
<path d="M382.04,538.82 A61.70,61.70 0 0 1 383.93,540.43 L379.45,545.48 A54.95,54.95 0 0 0 377.77,544.05 Z" fill="#ffffff" stroke="#cdbfbf" stroke-width="0.22"/>
<path d="M377.77,544.05 A54.95,54.95 0 0 1 379.45,545.48 L374.97,550.53 A48.20,48.20 0 0 0 373.50,549.27 Z" fill="#ffffff" stroke="#cdbfbf" stroke-width="0.22"/>
<path d="M397.36,525.27 A81.95,81.95 0 0 1 399.78,527.51 L395.11,532.38 A75.20,75.20 0 0 0 392.88,530.33 Z" fill="#5b9b93" stroke="#5b9b93" stroke-width="0.45"/>
<path d="M392.88,530.33 A75.20,75.20 0 0 1 395.11,532.38 L390.43,537.24 A68.45,68.45 0 0 0 388.40,535.38 Z" fill="#ffffff" stroke="#cdbfbf" stroke-width="0.22"/>
<path d="M388.40,535.38 A68.45,68.45 0 0 1 390.43,537.24 L385.75,542.11 A61.70,61.70 0 0 0 383.93,540.43 Z" fill="#ffffff" stroke="#cdbfbf" stroke-width="0.22"/>
<path d="M383.93,540.43 A61.70,61.70 0 0 1 385.75,542.11 L381.07,546.98 A54.95,54.95 0 0 0 379.45,545.48 Z" fill="#ffffff" stroke="#cdbfbf" stroke-width="0.22"/>
<path d="M379.45,545.48 A54.95,54.95 0 0 1 381.07,546.98 L376.40,551.85 A48.20,48.20 0 0 0 374.97,550.53 Z" fill="#ffffff" stroke="#cdbfbf" stroke-width="0.22"/>
<path d="M399.78,527.51 A81.95,81.95 0 0 1 402.11,529.84 L397.24,534.52 A75.20,75.20 0 0 0 395.11,532.38 Z" fill="#6caba2" stroke="#6caba2" stroke-width="0.45"/>
<path d="M395.11,532.38 A75.20,75.20 0 0 1 397.24,534.52 L392.38,539.19 A68.45,68.45 0 0 0 390.43,537.24 Z" fill="#ffffff" stroke="#cdbfbf" stroke-width="0.22"/>
<path d="M390.43,537.24 A68.45,68.45 0 0 1 392.38,539.19 L387.51,543.87 A61.70,61.70 0 0 0 385.75,542.11 Z" fill="#ffffff" stroke="#cdbfbf" stroke-width="0.22"/>
<path d="M385.75,542.11 A61.70,61.70 0 0 1 387.51,543.87 L382.64,548.54 A54.95,54.95 0 0 0 381.07,546.98 Z" fill="#ffffff" stroke="#cdbfbf" stroke-width="0.22"/>
<path d="M381.07,546.98 A54.95,54.95 0 0 1 382.64,548.54 L377.77,553.22 A48.20,48.20 0 0 0 376.40,551.85 Z" fill="#ffffff" stroke="#cdbfbf" stroke-width="0.22"/>
<path d="M402.11,529.84 A81.95,81.95 0 0 1 404.35,532.27 L399.30,536.74 A75.20,75.20 0 0 0 397.24,534.52 Z" fill="#71afa6" stroke="#71afa6" stroke-width="0.45"/>
<path d="M397.24,534.52 A75.20,75.20 0 0 1 399.30,536.74 L394.24,541.22 A68.45,68.45 0 0 0 392.38,539.19 Z" fill="#ffffff" stroke="#cdbfbf" stroke-width="0.22"/>
<path d="M392.38,539.19 A68.45,68.45 0 0 1 394.24,541.22 L389.19,545.69 A61.70,61.70 0 0 0 387.51,543.87 Z" fill="#ffffff" stroke="#cdbfbf" stroke-width="0.22"/>
<path d="M387.51,543.87 A61.70,61.70 0 0 1 389.19,545.69 L384.14,550.17 A54.95,54.95 0 0 0 382.64,548.54 Z" fill="#ffffff" stroke="#cdbfbf" stroke-width="0.22"/>
<path d="M382.64,548.54 A54.95,54.95 0 0 1 384.14,550.17 L379.08,554.64 A48.20,48.20 0 0 0 377.77,553.22 Z" fill="#ffffff" stroke="#cdbfbf" stroke-width="0.22"/>
<path d="M404.35,532.27 A81.95,81.95 0 0 1 406.49,534.78 L401.26,539.05 A75.20,75.20 0 0 0 399.30,536.74 Z" fill="#71afa6" stroke="#71afa6" stroke-width="0.45"/>
<path d="M399.30,536.74 A75.20,75.20 0 0 1 401.26,539.05 L396.03,543.32 A68.45,68.45 0 0 0 394.24,541.22 Z" fill="#ffffff" stroke="#cdbfbf" stroke-width="0.22"/>
<path d="M394.24,541.22 A68.45,68.45 0 0 1 396.03,543.32 L390.80,547.58 A61.70,61.70 0 0 0 389.19,545.69 Z" fill="#ffffff" stroke="#cdbfbf" stroke-width="0.22"/>
<path d="M389.19,545.69 A61.70,61.70 0 0 1 390.80,547.58 L385.57,551.85 A54.95,54.95 0 0 0 384.14,550.17 Z" fill="#ffffff" stroke="#cdbfbf" stroke-width="0.22"/>
<path d="M384.14,550.17 A54.95,54.95 0 0 1 385.57,551.85 L380.34,556.12 A48.20,48.20 0 0 0 379.08,554.64 Z" fill="#ffffff" stroke="#cdbfbf" stroke-width="0.22"/>
<path d="M406.49,534.78 A81.95,81.95 0 0 1 408.52,537.38 L403.12,541.43 A75.20,75.20 0 0 0 401.26,539.05 Z" fill="#72b0a7" stroke="#72b0a7" stroke-width="0.45"/>
<path d="M401.26,539.05 A75.20,75.20 0 0 1 403.12,541.43 L397.73,545.48 A68.45,68.45 0 0 0 396.03,543.32 Z" fill="#ffffff" stroke="#cdbfbf" stroke-width="0.22"/>
<path d="M396.03,543.32 A68.45,68.45 0 0 1 397.73,545.48 L392.33,549.54 A61.70,61.70 0 0 0 390.80,547.58 Z" fill="#ffffff" stroke="#cdbfbf" stroke-width="0.22"/>
<path d="M390.80,547.58 A61.70,61.70 0 0 1 392.33,549.54 L386.93,553.59 A54.95,54.95 0 0 0 385.57,551.85 Z" fill="#ffffff" stroke="#cdbfbf" stroke-width="0.22"/>
<path d="M385.57,551.85 A54.95,54.95 0 0 1 386.93,553.59 L381.54,557.65 A48.20,48.20 0 0 0 380.34,556.12 Z" fill="#ffffff" stroke="#cdbfbf" stroke-width="0.22"/>
<path d="M408.52,537.38 A81.95,81.95 0 0 1 410.45,540.05 L404.89,543.89 A75.20,75.20 0 0 0 403.12,541.43 Z" fill="#71afa7" stroke="#71afa7" stroke-width="0.45"/>
<path d="M403.12,541.43 A75.20,75.20 0 0 1 404.89,543.89 L399.34,547.72 A68.45,68.45 0 0 0 397.73,545.48 Z" fill="#ffffff" stroke="#cdbfbf" stroke-width="0.22"/>
<path d="M397.73,545.48 A68.45,68.45 0 0 1 399.34,547.72 L393.78,551.55 A61.70,61.70 0 0 0 392.33,549.54 Z" fill="#ffffff" stroke="#cdbfbf" stroke-width="0.22"/>
<path d="M392.33,549.54 A61.70,61.70 0 0 1 393.78,551.55 L388.23,555.39 A54.95,54.95 0 0 0 386.93,553.59 Z" fill="#ffffff" stroke="#cdbfbf" stroke-width="0.22"/>
<path d="M386.93,553.59 A54.95,54.95 0 0 1 388.23,555.39 L382.67,559.22 A48.20,48.20 0 0 0 381.54,557.65 Z" fill="#ffffff" stroke="#cdbfbf" stroke-width="0.22"/>
<path d="M410.45,540.05 A81.95,81.95 0 0 1 412.26,542.80 L406.56,546.41 A75.20,75.20 0 0 0 404.89,543.89 Z" fill="#63a49c" stroke="#63a49c" stroke-width="0.45"/>
<path d="M404.89,543.89 A75.20,75.20 0 0 1 406.56,546.41 L400.85,550.02 A68.45,68.45 0 0 0 399.34,547.72 Z" fill="#ffffff" stroke="#cdbfbf" stroke-width="0.22"/>
<path d="M399.34,547.72 A68.45,68.45 0 0 1 400.85,550.02 L395.15,553.63 A61.70,61.70 0 0 0 393.78,551.55 Z" fill="#ffffff" stroke="#cdbfbf" stroke-width="0.22"/>
<path d="M393.78,551.55 A61.70,61.70 0 0 1 395.15,553.63 L389.44,557.23 A54.95,54.95 0 0 0 388.23,555.39 Z" fill="#ffffff" stroke="#cdbfbf" stroke-width="0.22"/>
<path d="M388.23,555.39 A54.95,54.95 0 0 1 389.44,557.23 L383.74,560.84 A48.20,48.20 0 0 0 382.67,559.22 Z" fill="#ffffff" stroke="#cdbfbf" stroke-width="0.22"/>
<path d="M412.26,542.80 A81.95,81.95 0 0 1 413.97,545.62 L408.13,549.00 A75.20,75.20 0 0 0 406.56,546.41 Z" fill="#5a9c94" stroke="#5a9c94" stroke-width="0.45"/>
<path d="M406.56,546.41 A75.20,75.20 0 0 1 408.13,549.00 L402.28,552.37 A68.45,68.45 0 0 0 400.85,550.02 Z" fill="#ffffff" stroke="#cdbfbf" stroke-width="0.22"/>
<path d="M400.85,550.02 A68.45,68.45 0 0 1 402.28,552.37 L396.43,555.75 A61.70,61.70 0 0 0 395.15,553.63 Z" fill="#ffffff" stroke="#cdbfbf" stroke-width="0.22"/>
<path d="M395.15,553.63 A61.70,61.70 0 0 1 396.43,555.75 L390.59,559.12 A54.95,54.95 0 0 0 389.44,557.23 Z" fill="#ffffff" stroke="#cdbfbf" stroke-width="0.22"/>
<path d="M389.44,557.23 A54.95,54.95 0 0 1 390.59,559.12 L384.74,562.50 A48.20,48.20 0 0 0 383.74,560.84 Z" fill="#ffffff" stroke="#cdbfbf" stroke-width="0.22"/>
<text font-size="4" stroke="#1a1a1a" stroke-width="0.16" transform="translate(425.55 602.13) rotate(10.65)" y="1.3">s__Lachnospiraceae_bacterium_2_1_46FAA</text>
<text font-size="4" stroke="#1a1a1a" stroke-width="0.16" transform="translate(424.86 605.44) rotate(12.96)" y="1.3">g__Bacteroides</text>
<text font-size="4" stroke="#1a1a1a" stroke-width="0.16" transform="translate(424.04 608.71) rotate(15.26)" y="1.3">s__Ruminococcus_callidus</text>
<text font-size="4" stroke="#1a1a1a" stroke-width="0.16" transform="translate(423.08 611.96) rotate(17.57)" y="1.3">s__Enterococcus_faecalis</text>
<text font-size="4" stroke="#1a1a1a" stroke-width="0.16" transform="translate(422.00 615.16) rotate(19.88)" y="1.3">s__Butyrivibrio_crossotus</text>
<text font-size="4" stroke="#1a1a1a" stroke-width="0.16" transform="translate(420.78 618.31) rotate(22.18)" y="1.3">s__Collinsella_intestinalis</text>
<text font-size="4" stroke="#1a1a1a" stroke-width="0.16" transform="translate(419.44 621.42) rotate(24.49)" y="1.3">s__Streptococcus_thermophilus</text>
<text font-size="4" stroke="#1a1a1a" stroke-width="0.16" transform="translate(417.98 624.46) rotate(26.79)" y="1.3">g__Paraprevotella</text>
<text font-size="4" stroke="#1a1a1a" stroke-width="0.16" transform="translate(416.40 627.45) rotate(29.10)" y="1.3">g__Anaerotruncus</text>
<text font-size="4" stroke="#1a1a1a" stroke-width="0.16" transform="translate(414.69 630.37) rotate(31.40)" y="1.3">s__Bifidobacterium_adolescentis</text>
<text font-size="4" stroke="#1a1a1a" stroke-width="0.16" transform="translate(412.88 633.22) rotate(33.71)" y="1.3">s__Ruminococcus_albus</text>
<text font-size="4" stroke="#1a1a1a" stroke-width="0.16" transform="translate(410.94 635.99) rotate(36.02)" y="1.3">c__Negativicutes</text>
<text font-size="4" stroke="#1a1a1a" stroke-width="0.16" transform="translate(408.90 638.69) rotate(38.32)" y="1.3">c__Fusobacteriia</text>
<text font-size="4" stroke="#1a1a1a" stroke-width="0.16" transform="translate(406.75 641.30) rotate(40.63)" y="1.3">g__Erysipelotrichaceae_noname</text>
<text font-size="4" stroke="#1a1a1a" stroke-width="0.16" transform="translate(404.50 643.82) rotate(42.93)" y="1.3">p__Verrucomicrobia</text>
<text font-size="4" stroke="#1a1a1a" stroke-width="0.16" transform="translate(402.15 646.24) rotate(45.24)" y="1.3">s__Roseburia_intestinalis</text>
<text font-size="4" stroke="#1a1a1a" stroke-width="0.16" transform="translate(399.70 648.58) rotate(47.54)" y="1.3">s__Bacteroides_finegoldii</text>
<text font-size="4" stroke="#1a1a1a" stroke-width="0.16" transform="translate(397.16 650.81) rotate(49.85)" y="1.3">s__Dorea_unclassified</text>
<text font-size="4" stroke="#1a1a1a" stroke-width="0.16" transform="translate(394.53 652.93) rotate(52.16)" y="1.3">s__Bacteroides_intestinalis</text>
<text font-size="4" stroke="#1a1a1a" stroke-width="0.16" transform="translate(391.82 654.95) rotate(54.46)" y="1.3">s__Fusobacterium_nucleatum</text>
<text font-size="4" stroke="#1a1a1a" stroke-width="0.16" transform="translate(389.03 656.86) rotate(56.77)" y="1.3">s__Veillonella_atypica</text>
<text font-size="4" stroke="#1a1a1a" stroke-width="0.16" transform="translate(386.17 658.66) rotate(59.07)" y="1.3">s__Eubacterium_biforme</text>
<text font-size="4" stroke="#1a1a1a" stroke-width="0.16" transform="translate(383.24 660.34) rotate(61.38)" y="1.3">s__Eubacterium_ventriosum</text>
<text font-size="4" stroke="#1a1a1a" stroke-width="0.16" transform="translate(380.24 661.90) rotate(63.69)" y="1.3">s__Streptococcus_salivarius</text>
<text font-size="4" stroke="#1a1a1a" stroke-width="0.16" transform="translate(377.18 663.33) rotate(65.99)" y="1.3">s__Parabacteroides_unclassified</text>
<text font-size="4" stroke="#1a1a1a" stroke-width="0.16" transform="translate(374.06 664.65) rotate(68.30)" y="1.3">s__Bacteroides_caccae</text>
<text font-size="4" stroke="#1a1a1a" stroke-width="0.16" transform="translate(370.90 665.83) rotate(70.60)" y="1.3">s__Ruminococcus_lactaris</text>
<text font-size="4" stroke="#1a1a1a" stroke-width="0.16" transform="translate(367.69 666.89) rotate(72.91)" y="1.3">s__Blautia_producta</text>
<text font-size="4" stroke="#1a1a1a" stroke-width="0.16" transform="translate(364.44 667.82) rotate(75.21)" y="1.3">s__Coprococcus_catus</text>
<text font-size="4" stroke="#1a1a1a" stroke-width="0.16" transform="translate(361.15 668.62) rotate(77.52)" y="1.3">s__Solobacterium_moorei</text>
<text font-size="4" stroke="#1a1a1a" stroke-width="0.16" transform="translate(357.84 669.28) rotate(79.83)" y="1.3">s__Prevotella_buccae</text>
<text font-size="4" stroke="#1a1a1a" stroke-width="0.16" transform="translate(354.50 669.81) rotate(82.13)" y="1.3">s__Holdemania_filiformis</text>
<text font-size="4" stroke="#1a1a1a" stroke-width="0.16" transform="translate(351.14 670.20) rotate(84.44)" y="1.3">s__Bacteroides_xylanisolvens</text>
<text font-size="4" stroke="#1a1a1a" stroke-width="0.16" transform="translate(347.77 670.46) rotate(86.74)" y="1.3">g__Prevotella</text>
<text font-size="4" stroke="#1a1a1a" stroke-width="0.16" transform="translate(344.39 670.59) rotate(89.05)" y="1.3">s__Rothia_mucilaginosa</text>
<text font-size="4" stroke="#1a1a1a" stroke-width="0.16" text-anchor="end" transform="translate(341.01 670.58) rotate(271.35)" y="1.3">s__Odoribacter_splanchnicus</text>
<text font-size="4" stroke="#1a1a1a" stroke-width="0.16" text-anchor="end" transform="translate(337.64 670.43) rotate(273.66)" y="1.3">s__Haemophilus_influenzae</text>
<text font-size="4" stroke="#1a1a1a" stroke-width="0.16" text-anchor="end" transform="translate(334.27 670.15) rotate(275.97)" y="1.3">g__Burkholderiales_noname</text>
<text font-size="4" stroke="#1a1a1a" stroke-width="0.16" text-anchor="end" transform="translate(330.92 669.73) rotate(278.27)" y="1.3">s__Clostridiales_bacterium_1_7_47FAA</text>
<text font-size="4" stroke="#1a1a1a" stroke-width="0.16" text-anchor="end" transform="translate(327.58 669.17) rotate(280.58)" y="1.3">s__Turicibacter_sanguinis</text>
<text font-size="4" stroke="#1a1a1a" stroke-width="0.16" text-anchor="end" transform="translate(324.27 668.49) rotate(282.88)" y="1.3">s__Lachnospiraceae_bacterium_3_1_57FAA</text>
<text font-size="4" stroke="#1a1a1a" stroke-width="0.16" text-anchor="end" transform="translate(320.99 667.67) rotate(285.19)" y="1.3">s__Lactobacillus_ruminis</text>
<text font-size="4" stroke="#1a1a1a" stroke-width="0.16" text-anchor="end" transform="translate(317.75 666.71) rotate(287.49)" y="1.3">s__Bacteroides_vulgatus</text>
<text font-size="4" stroke="#1a1a1a" stroke-width="0.16" text-anchor="end" transform="translate(314.55 665.63) rotate(289.80)" y="1.3">s__Clostridium_hathewayi</text>
<text font-size="4" stroke="#1a1a1a" stroke-width="0.16" text-anchor="end" transform="translate(311.39 664.43) rotate(292.11)" y="1.3">s__Lachnospiraceae_bacterium_7_1_58FAA</text>
<text font-size="4" stroke="#1a1a1a" stroke-width="0.16" text-anchor="end" transform="translate(308.28 663.09) rotate(294.41)" y="1.3">f__Acidaminococcaceae</text>
<text font-size="4" stroke="#1a1a1a" stroke-width="0.16" text-anchor="end" transform="translate(305.23 661.63) rotate(296.72)" y="1.3">s__Parabacteroides_distasonis</text>
<text font-size="4" stroke="#1a1a1a" stroke-width="0.16" text-anchor="end" transform="translate(302.25 660.05) rotate(299.02)" y="1.3">s__Enterobacter_cloacae</text>
<text font-size="4" stroke="#1a1a1a" stroke-width="0.16" text-anchor="end" transform="translate(299.32 658.35) rotate(301.33)" y="1.3">c__Erysipelotrichia</text>
<text font-size="4" stroke="#1a1a1a" stroke-width="0.16" text-anchor="end" transform="translate(296.47 656.54) rotate(303.63)" y="1.3">f__Erysipelotrichaceae</text>
<text font-size="4" stroke="#1a1a1a" stroke-width="0.16" text-anchor="end" transform="translate(293.70 654.61) rotate(305.94)" y="1.3">s__Bilophila_unclassified</text>
<text font-size="4" stroke="#1a1a1a" stroke-width="0.16" text-anchor="end" transform="translate(291.00 652.57) rotate(308.25)" y="1.3">c__Verrucomicrobiae</text>
<text font-size="4" stroke="#1a1a1a" stroke-width="0.16" text-anchor="end" transform="translate(288.39 650.42) rotate(310.55)" y="1.3">s__Olsenella_unclassified</text>
<text font-size="4" stroke="#1a1a1a" stroke-width="0.16" text-anchor="end" transform="translate(285.86 648.18) rotate(312.86)" y="1.3">g__Campylobacter</text>
<text font-size="4" stroke="#1a1a1a" stroke-width="0.16" text-anchor="end" transform="translate(283.43 645.83) rotate(315.16)" y="1.3">s__Bacteroides_ovatus</text>
<text font-size="4" stroke="#1a1a1a" stroke-width="0.16" text-anchor="end" transform="translate(281.10 643.38) rotate(317.47)" y="1.3">s__Parabacteroides_goldsteinii</text>
<text font-size="4" stroke="#1a1a1a" stroke-width="0.16" text-anchor="end" transform="translate(278.86 640.85) rotate(319.78)" y="1.3">g__Veillonella</text>
<text font-size="4" stroke="#1a1a1a" stroke-width="0.16" text-anchor="end" transform="translate(276.73 638.22) rotate(322.08)" y="1.3">f__Pseudomonadaceae</text>
<text font-size="4" stroke="#1a1a1a" stroke-width="0.16" text-anchor="end" transform="translate(274.71 635.51) rotate(324.39)" y="1.3">s__Oxalobacter_formigenes</text>
<text font-size="4" stroke="#1a1a1a" stroke-width="0.16" text-anchor="end" transform="translate(272.80 632.73) rotate(326.69)" y="1.3">g__Blautia</text>
<text font-size="4" stroke="#1a1a1a" stroke-width="0.16" text-anchor="end" transform="translate(271.00 629.87) rotate(329.00)" y="1.3">g__Proteus</text>
<text font-size="4" stroke="#1a1a1a" stroke-width="0.16" text-anchor="end" transform="translate(269.32 626.93) rotate(331.30)" y="1.3">s__Escherichia_coli</text>
<text font-size="4" stroke="#1a1a1a" stroke-width="0.16" text-anchor="end" transform="translate(267.75 623.94) rotate(333.61)" y="1.3">g__Escherichia</text>
<text font-size="4" stroke="#1a1a1a" stroke-width="0.16" text-anchor="end" transform="translate(266.31 620.88) rotate(335.92)" y="1.3">g__Collinsella</text>
<text font-size="4" stroke="#1a1a1a" stroke-width="0.16" text-anchor="end" transform="translate(265.00 617.77) rotate(338.22)" y="1.3">s__Lactobacillus_delbrueckii</text>
<text font-size="4" stroke="#1a1a1a" stroke-width="0.16" text-anchor="end" transform="translate(263.80 614.60) rotate(340.53)" y="1.3">f__Coriobacteriaceae</text>
<text font-size="4" stroke="#1a1a1a" stroke-width="0.16" text-anchor="end" transform="translate(262.74 611.39) rotate(342.83)" y="1.3">o__Coriobacteriales</text>
<text font-size="4" stroke="#1a1a1a" stroke-width="0.16" text-anchor="end" transform="translate(261.81 608.14) rotate(345.14)" y="1.3">s__Ruminococcaceae_bacterium_D16</text>
<text font-size="4" stroke="#1a1a1a" stroke-width="0.16" text-anchor="end" transform="translate(261.01 604.86) rotate(347.44)" y="1.3">g__Ruminococcaceae_noname</text>
<text font-size="4" stroke="#1a1a1a" stroke-width="0.16" text-anchor="end" transform="translate(260.34 601.55) rotate(349.75)" y="1.3">s__Pseudoflavonifractor_capillosus</text>
<text font-size="4" stroke="#1a1a1a" stroke-width="0.16" text-anchor="end" transform="translate(259.81 598.21) rotate(352.06)" y="1.3">s__Collinsella_aerofaciens</text>
<text font-size="4" stroke="#1a1a1a" stroke-width="0.16" text-anchor="end" transform="translate(259.41 594.85) rotate(354.36)" y="1.3">c__Actinobacteria</text>
<text font-size="4" stroke="#1a1a1a" stroke-width="0.16" text-anchor="end" transform="translate(259.14 591.48) rotate(356.67)" y="1.3">p__Actinobacteria</text>
<text font-size="4" stroke="#1a1a1a" stroke-width="0.16" text-anchor="end" transform="translate(259.01 588.11) rotate(358.97)" y="1.3">s__Lachnospiraceae_bacterium_1_1_57FAA</text>
<text font-size="4" stroke="#1a1a1a" stroke-width="0.16" text-anchor="end" transform="translate(259.02 584.73) rotate(361.28)" y="1.3">s__Barnesiella_intestinihominis</text>
<text font-size="4" stroke="#1a1a1a" stroke-width="0.16" text-anchor="end" transform="translate(259.16 581.35) rotate(363.58)" y="1.3">g__Barnesiella</text>
<text font-size="4" stroke="#1a1a1a" stroke-width="0.16" text-anchor="end" transform="translate(259.44 577.98) rotate(365.89)" y="1.3">f__Pasteurellaceae</text>
<text font-size="4" stroke="#1a1a1a" stroke-width="0.16" text-anchor="end" transform="translate(259.86 574.62) rotate(368.20)" y="1.3">s__Haemophilus_parainfluenzae</text>
<text font-size="4" stroke="#1a1a1a" stroke-width="0.16" text-anchor="end" transform="translate(260.41 571.29) rotate(370.50)" y="1.3">s__Alistipes_indistinctus</text>
<text font-size="4" stroke="#1a1a1a" stroke-width="0.16" text-anchor="end" transform="translate(261.09 567.98) rotate(372.81)" y="1.3">s__Faecalibacterium_prausnitzii</text>
<text font-size="4" stroke="#1a1a1a" stroke-width="0.16" text-anchor="end" transform="translate(261.91 564.70) rotate(375.11)" y="1.3">g__Faecalibacterium</text>
<text font-size="4" stroke="#1a1a1a" stroke-width="0.16" text-anchor="end" transform="translate(262.85 561.45) rotate(377.42)" y="1.3">s__Ruminococcus_bromii</text>
<text font-size="4" stroke="#1a1a1a" stroke-width="0.16" text-anchor="end" transform="translate(263.93 558.25) rotate(379.72)" y="1.3">g__Desulfovibrio</text>
<text font-size="4" stroke="#1a1a1a" stroke-width="0.16" text-anchor="end" transform="translate(265.13 555.09) rotate(382.03)" y="1.3">s__Phascolarctobacterium_succinatutens</text>
<text font-size="4" stroke="#1a1a1a" stroke-width="0.16" text-anchor="end" transform="translate(266.46 551.98) rotate(384.34)" y="1.3">g__Lactobacillus</text>
<text font-size="4" stroke="#1a1a1a" stroke-width="0.16" text-anchor="end" transform="translate(267.92 548.93) rotate(386.64)" y="1.3">s__Helicobacter_pylori</text>
<text font-size="4" stroke="#1a1a1a" stroke-width="0.16" text-anchor="end" transform="translate(269.49 545.94) rotate(388.95)" y="1.3">f__Lactobacillaceae</text>
<text font-size="4" stroke="#1a1a1a" stroke-width="0.16" text-anchor="end" transform="translate(271.19 543.02) rotate(391.25)" y="1.3">s__Flavonifractor_plautii</text>
<text font-size="4" stroke="#1a1a1a" stroke-width="0.16" text-anchor="end" transform="translate(273.00 540.16) rotate(393.56)" y="1.3">s__Lactobacillus_salivarius</text>
<text font-size="4" stroke="#1a1a1a" stroke-width="0.16" text-anchor="end" transform="translate(274.93 537.39) rotate(395.87)" y="1.3">f__Streptococcaceae</text>
<text font-size="4" stroke="#1a1a1a" stroke-width="0.16" text-anchor="end" transform="translate(276.96 534.69) rotate(398.17)" y="1.3">s__Adlercreutzia_equolifaciens</text>
<text font-size="4" stroke="#1a1a1a" stroke-width="0.16" text-anchor="end" transform="translate(279.10 532.07) rotate(400.48)" y="1.3">o__Methanobacteriales</text>
<text font-size="4" stroke="#1a1a1a" stroke-width="0.16" text-anchor="end" transform="translate(281.35 529.55) rotate(402.78)" y="1.3">s__Anaerotruncus_colihominis</text>
<text font-size="4" stroke="#1a1a1a" stroke-width="0.16" text-anchor="end" transform="translate(283.69 527.11) rotate(405.09)" y="1.3">s__Clostridium_leptum</text>
<text font-size="4" stroke="#1a1a1a" stroke-width="0.16" text-anchor="end" transform="translate(286.14 524.77) rotate(407.39)" y="1.3">s__Streptococcus_parasanguinis</text>
<text font-size="4" stroke="#1a1a1a" stroke-width="0.16" text-anchor="end" transform="translate(288.67 522.54) rotate(409.70)" y="1.3">s__Clostridium_citroniae</text>
<text font-size="4" stroke="#1a1a1a" stroke-width="0.16" text-anchor="end" transform="translate(291.29 520.40) rotate(412.01)" y="1.3">s__Ruminococcus_torques</text>
<text font-size="4" stroke="#1a1a1a" stroke-width="0.16" text-anchor="end" transform="translate(294.00 518.38) rotate(414.31)" y="1.3">c__Deltaproteobacteria</text>
<text font-size="4" stroke="#1a1a1a" stroke-width="0.16" text-anchor="end" transform="translate(296.78 516.46) rotate(416.62)" y="1.3">s__Phascolarctobacterium_faecium</text>
<text font-size="4" stroke="#1a1a1a" stroke-width="0.16" text-anchor="end" transform="translate(299.64 514.66) rotate(418.92)" y="1.3">s__Coprobacter_fastidiosus</text>
<text font-size="4" stroke="#1a1a1a" stroke-width="0.16" text-anchor="end" transform="translate(302.57 512.97) rotate(421.23)" y="1.3">s__Bifidobacterium_longum</text>
<text font-size="4" stroke="#1a1a1a" stroke-width="0.16" text-anchor="end" transform="translate(305.56 511.40) rotate(423.53)" y="1.3">c__Gammaproteobacteria</text>
<text font-size="4" stroke="#1a1a1a" stroke-width="0.16" text-anchor="end" transform="translate(308.62 509.96) rotate(425.84)" y="1.3">o__Verrucomicrobiales</text>
<text font-size="4" stroke="#1a1a1a" stroke-width="0.16" text-anchor="end" transform="translate(311.73 508.64) rotate(428.15)" y="1.3">s__Veillonella_dispar</text>
<text font-size="4" stroke="#1a1a1a" stroke-width="0.16" text-anchor="end" transform="translate(314.89 507.44) rotate(430.45)" y="1.3">g__Methanobrevibacter</text>
<text font-size="4" stroke="#1a1a1a" stroke-width="0.16" text-anchor="end" transform="translate(318.10 506.38) rotate(432.76)" y="1.3">p__Proteobacteria</text>
<text font-size="4" stroke="#1a1a1a" stroke-width="0.16" text-anchor="end" transform="translate(321.35 505.44) rotate(435.06)" y="1.3">s__Bacteroides_plebeius</text>
<text font-size="4" stroke="#1a1a1a" stroke-width="0.16" text-anchor="end" transform="translate(324.63 504.63) rotate(437.37)" y="1.3">f__Methanobacteriaceae</text>
<text font-size="4" stroke="#1a1a1a" stroke-width="0.16" text-anchor="end" transform="translate(327.94 503.96) rotate(439.67)" y="1.3">s__Alistipes_finegoldii</text>
<text font-size="4" stroke="#1a1a1a" stroke-width="0.16" text-anchor="end" transform="translate(331.28 503.42) rotate(441.98)" y="1.3">s__Megamonas_unclassified</text>
<text font-size="4" stroke="#1a1a1a" stroke-width="0.16" text-anchor="end" transform="translate(334.64 503.02) rotate(444.29)" y="1.3">s__Eggerthella_unclassified</text>
<text font-size="4" stroke="#1a1a1a" stroke-width="0.16" text-anchor="end" transform="translate(338.01 502.75) rotate(446.59)" y="1.3">s__Eubacterium_siraeum</text>
<text font-size="4" stroke="#1a1a1a" stroke-width="0.16" text-anchor="end" transform="translate(341.38 502.62) rotate(448.90)" y="1.3">s__Coprococcus_comes</text>
<text font-size="4" stroke="#1a1a1a" stroke-width="0.16" transform="translate(344.76 502.62) rotate(271.20)" y="1.3">f__Verrucomicrobiaceae</text>
<text font-size="4" stroke="#1a1a1a" stroke-width="0.16" transform="translate(348.14 502.76) rotate(273.51)" y="1.3">s__Eubacterium_ramulus</text>
<text font-size="4" stroke="#1a1a1a" stroke-width="0.16" transform="translate(351.51 503.03) rotate(275.81)" y="1.3">s__Odoribacter_laneus</text>
<text font-size="4" stroke="#1a1a1a" stroke-width="0.16" transform="translate(354.87 503.44) rotate(278.12)" y="1.3">p__Euryarchaeota</text>
<text font-size="4" stroke="#1a1a1a" stroke-width="0.16" transform="translate(358.20 503.99) rotate(280.43)" y="1.3">s__Eggerthella_lenta</text>
<text font-size="4" stroke="#1a1a1a" stroke-width="0.16" transform="translate(361.51 504.67) rotate(282.73)" y="1.3">g__Enterobacter</text>
<text font-size="4" stroke="#1a1a1a" stroke-width="0.16" transform="translate(364.79 505.48) rotate(285.04)" y="1.3">f__Eubacteriaceae</text>
<text font-size="4" stroke="#1a1a1a" stroke-width="0.16" transform="translate(368.04 506.42) rotate(287.34)" y="1.3">f__Moraxellaceae</text>
<text font-size="4" stroke="#1a1a1a" stroke-width="0.16" transform="translate(371.25 507.49) rotate(289.65)" y="1.3">f__Enterococcaceae</text>
<text font-size="4" stroke="#1a1a1a" stroke-width="0.16" transform="translate(374.41 508.69) rotate(291.96)" y="1.3">o__Clostridiales</text>
<text font-size="4" stroke="#1a1a1a" stroke-width="0.16" transform="translate(377.51 510.02) rotate(294.26)" y="1.3">f__Micrococcaceae</text>
<text font-size="4" stroke="#1a1a1a" stroke-width="0.16" transform="translate(380.57 511.47) rotate(296.57)" y="1.3">g__Parasutterella</text>
<text font-size="4" stroke="#1a1a1a" stroke-width="0.16" transform="translate(383.56 513.04) rotate(298.87)" y="1.3">f__Fusobacteriaceae</text>
<text font-size="4" stroke="#1a1a1a" stroke-width="0.16" transform="translate(386.49 514.73) rotate(301.18)" y="1.3">f__Bacteroidaceae</text>
<text font-size="4" stroke="#1a1a1a" stroke-width="0.16" transform="translate(389.34 516.54) rotate(303.48)" y="1.3">s__Lachnospiraceae_bacterium_5_1_63FAA</text>
<text font-size="4" stroke="#1a1a1a" stroke-width="0.16" transform="translate(392.12 518.46) rotate(305.79)" y="1.3">g__Subdoligranulum</text>
<text font-size="4" stroke="#1a1a1a" stroke-width="0.16" transform="translate(394.83 520.49) rotate(308.10)" y="1.3">f__Veillonellaceae</text>
<text font-size="4" stroke="#1a1a1a" stroke-width="0.16" transform="translate(397.44 522.63) rotate(310.40)" y="1.3">s__Roseburia_hominis</text>
<text font-size="4" stroke="#1a1a1a" stroke-width="0.16" transform="translate(399.97 524.87) rotate(312.71)" y="1.3">s__Dialister_invisus</text>
<text font-size="4" stroke="#1a1a1a" stroke-width="0.16" transform="translate(402.41 527.22) rotate(315.01)" y="1.3">s__Eubacterium_rectale</text>
<text font-size="4" stroke="#1a1a1a" stroke-width="0.16" transform="translate(404.75 529.65) rotate(317.32)" y="1.3">g__Pyramidobacter</text>
<text font-size="4" stroke="#1a1a1a" stroke-width="0.16" transform="translate(406.99 532.18) rotate(319.62)" y="1.3">f__Bifidobacteriaceae</text>
<text font-size="4" stroke="#1a1a1a" stroke-width="0.16" transform="translate(409.13 534.80) rotate(321.93)" y="1.3">g__Fusobacterium</text>
<text font-size="4" stroke="#1a1a1a" stroke-width="0.16" transform="translate(411.16 537.51) rotate(324.24)" y="1.3">g__Acidaminococcus</text>
<text font-size="4" stroke="#1a1a1a" stroke-width="0.16" transform="translate(413.08 540.29) rotate(326.54)" y="1.3">g__Butyricimonas</text>
<text font-size="4" stroke="#1a1a1a" stroke-width="0.16" transform="translate(414.89 543.14) rotate(328.85)" y="1.3">s__Bacteroidales_ph8</text>
<text font-size="5.9" stroke="#1a1a1a" stroke-width="0.2" transform="translate(410.10 549.71) rotate(60)">Liver (n = 92)</text>
<text font-size="5.9" stroke="#1a1a1a" stroke-width="0.2" transform="translate(404.19 552.96) rotate(60)">Pancreas (n = 27)</text>
<text font-size="5.9" stroke="#1a1a1a" stroke-width="0.2" transform="translate(398.27 556.21) rotate(60)">Kidney (n = 41)</text>
<text font-size="5.9" stroke="#1a1a1a" stroke-width="0.2" transform="translate(392.36 559.47) rotate(60)">Heart (n = 13)</text>
<text font-size="5.9" stroke="#1a1a1a" stroke-width="0.2" transform="translate(386.44 562.72) rotate(60)">Eye (n = 20)</text>
<defs><linearGradient id="gheat" x1="0" y1="1" x2="0" y2="0"><stop offset="0.000" stop-color="#ffffff"/><stop offset="0.114" stop-color="#c5e2dd"/><stop offset="0.286" stop-color="#78b5ac"/><stop offset="0.429" stop-color="#5a9c94"/><stop offset="0.600" stop-color="#72857a"/><stop offset="0.786" stop-color="#7a6553"/><stop offset="1.000" stop-color="#8a4a2f"/></linearGradient></defs>
<rect x="436.00" y="556.60" width="7.40" height="35.00" fill="url(#gheat)" />
<text x="445.20" y="559.50" font-size="3.6" stroke="#1a1a1a" stroke-width="0.108">0.6</text>
<text x="445.20" y="570.50" font-size="3.6" stroke="#1a1a1a" stroke-width="0.108">0.4</text>
<text x="445.20" y="581.30" font-size="3.6" stroke="#1a1a1a" stroke-width="0.108">0.2</text>
<text x="445.20" y="592.10" font-size="3.6" stroke="#1a1a1a" stroke-width="0.108">0</text>
</g>
<g id="panel_i">
<text x="506.40" y="455.60" font-size="11" fill="#111" font-weight="bold">i</text>
<text x="555.20" y="465.10" font-size="8.0" text-anchor="end" stroke="#1a1a1a" stroke-width="0.240">Liver</text>
<text x="555.20" y="475.92" font-size="8.0" text-anchor="end" stroke="#1a1a1a" stroke-width="0.240">Blood</text>
<text x="555.20" y="486.74" font-size="8.0" text-anchor="end" stroke="#1a1a1a" stroke-width="0.240">Eye</text>
<text x="555.20" y="497.56" font-size="8.0" text-anchor="end" stroke="#1a1a1a" stroke-width="0.240">Heart</text>
<text x="555.20" y="508.38" font-size="8.0" text-anchor="end" stroke="#1a1a1a" stroke-width="0.240">Lung</text>
<text x="555.20" y="519.20" font-size="8.0" text-anchor="end" stroke="#1a1a1a" stroke-width="0.240">Kidney</text>
<text x="555.20" y="530.02" font-size="8.0" text-anchor="end" stroke="#1a1a1a" stroke-width="0.240">Pancreas</text>
<text x="555.20" y="540.84" font-size="8.0" text-anchor="end" stroke="#1a1a1a" stroke-width="0.240">Salivary_Gland</text>
<text x="555.20" y="551.66" font-size="8.0" text-anchor="end" stroke="#1a1a1a" stroke-width="0.240">Muscle</text>
<text x="555.20" y="562.48" font-size="8.0" text-anchor="end" stroke="#1a1a1a" stroke-width="0.240">Tongue</text>
<text x="555.20" y="573.30" font-size="8.0" text-anchor="end" stroke="#1a1a1a" stroke-width="0.240">Thymus</text>
<text x="555.20" y="584.12" font-size="8.0" text-anchor="end" stroke="#1a1a1a" stroke-width="0.240">Prostate</text>
<text x="555.20" y="594.94" font-size="8.0" text-anchor="end" stroke="#1a1a1a" stroke-width="0.240">Large_Intestine</text>
<text x="555.20" y="605.76" font-size="8.0" text-anchor="end" stroke="#1a1a1a" stroke-width="0.240">Small_Intestine</text>
<text x="555.20" y="616.58" font-size="8.0" text-anchor="end" stroke="#1a1a1a" stroke-width="0.240">Lymph_Node</text>
<text x="555.20" y="627.40" font-size="8.0" text-anchor="end" stroke="#1a1a1a" stroke-width="0.240">Uterus</text>
<text x="555.20" y="638.22" font-size="8.0" text-anchor="end" stroke="#1a1a1a" stroke-width="0.240">Vasculature</text>
<text x="555.20" y="649.04" font-size="8.0" text-anchor="end" stroke="#1a1a1a" stroke-width="0.240">Trachea</text>
<text x="555.20" y="659.86" font-size="8.0" text-anchor="end" stroke="#1a1a1a" stroke-width="0.240">Spleen</text>
<text x="555.20" y="670.68" font-size="8.0" text-anchor="end" stroke="#1a1a1a" stroke-width="0.240">Fat</text>
<text x="555.20" y="681.50" font-size="8.0" text-anchor="end" stroke="#1a1a1a" stroke-width="0.240">Skin</text>
<text x="555.20" y="692.32" font-size="8.0" text-anchor="end" stroke="#1a1a1a" stroke-width="0.240">Bone_Marrow</text>
<text x="555.20" y="703.14" font-size="8.0" text-anchor="end" stroke="#1a1a1a" stroke-width="0.240">Mammary</text>
<line x1="559.81" y1="461.40" x2="648.63" y2="461.40" stroke="#555" stroke-width="0.6" />
<rect x="568.98" y="457.40" width="36.68" height="8.00" fill="#7f7c6e" stroke="#555" stroke-width="0.35" />
<line x1="584.70" y1="457.40" x2="584.70" y2="465.40" stroke="#1a1a1a" stroke-width="0.9" />
<line x1="564.53" y1="471.75" x2="620.07" y2="471.75" stroke="#b8b8b8" stroke-width="0.6" />
<rect x="573.96" y="467.75" width="18.60" height="8.00" fill="#7d7b7c" stroke="#555" stroke-width="0.35" />
<line x1="580.77" y1="467.75" x2="580.77" y2="475.75" stroke="#1a1a1a" stroke-width="0.9" />
<circle cx="621.38" cy="471.75" r="1.12" fill="#1a1a1a" />
<circle cx="626.62" cy="471.75" r="1.12" fill="#1a1a1a" />
<circle cx="631.86" cy="471.75" r="1.12" fill="#1a1a1a" />
<circle cx="633.17" cy="471.75" r="1.12" fill="#1a1a1a" />
<circle cx="648.89" cy="471.75" r="1.12" fill="#1a1a1a" />
<circle cx="650.20" cy="471.75" r="1.12" fill="#1a1a1a" />
<circle cx="651.51" cy="471.75" r="1.12" fill="#1a1a1a" />
<circle cx="671.16" cy="471.75" r="1.12" fill="#1a1a1a" />
<circle cx="677.71" cy="471.75" r="1.12" fill="#1a1a1a" />
<line x1="565.05" y1="482.10" x2="593.61" y2="482.10" stroke="#555" stroke-width="0.6" />
<rect x="570.81" y="478.40" width="10.22" height="7.40" fill="#777694" stroke="#555" stroke-width="0.35" />
<line x1="575.01" y1="478.40" x2="575.01" y2="485.80" stroke="#1a1a1a" stroke-width="0.9" />
<circle cx="595.18" cy="482.10" r="1.12" fill="#1a1a1a" />
<circle cx="596.49" cy="482.10" r="1.12" fill="#1a1a1a" />
<circle cx="597.80" cy="482.10" r="1.12" fill="#1a1a1a" />
<circle cx="603.04" cy="482.10" r="1.12" fill="#1a1a1a" />
<circle cx="606.97" cy="482.10" r="1.12" fill="#1a1a1a" />
<line x1="561.91" y1="492.44" x2="597.54" y2="492.44" stroke="#b8b8b8" stroke-width="0.6" />
<rect x="568.98" y="488.74" width="12.05" height="7.40" fill="#6b6c9c" stroke="#555" stroke-width="0.35" />
<line x1="575.01" y1="488.74" x2="575.01" y2="496.14" stroke="#1a1a1a" stroke-width="0.9" />
<circle cx="600.42" cy="492.44" r="1.12" fill="#1a1a1a" />
<circle cx="603.04" cy="492.44" r="1.12" fill="#1a1a1a" />
<circle cx="604.35" cy="492.44" r="1.12" fill="#1a1a1a" />
<circle cx="608.28" cy="492.44" r="1.12" fill="#1a1a1a" />
<line x1="566.10" y1="502.79" x2="585.49" y2="502.79" stroke="#555" stroke-width="0.6" />
<rect x="571.60" y="499.09" width="6.81" height="7.40" fill="#6f6fa8" stroke="#555" stroke-width="0.35" />
<line x1="575.01" y1="499.09" x2="575.01" y2="506.49" stroke="#1a1a1a" stroke-width="0.9" />
<circle cx="587.32" cy="502.79" r="1.12" fill="#1a1a1a" />
<circle cx="589.94" cy="502.79" r="1.12" fill="#1a1a1a" />
<circle cx="591.25" cy="502.79" r="1.12" fill="#1a1a1a" />
<circle cx="592.56" cy="502.79" r="1.12" fill="#1a1a1a" />
<circle cx="593.87" cy="502.79" r="1.12" fill="#1a1a1a" />
<circle cx="603.04" cy="502.79" r="1.12" fill="#1a1a1a" />
<line x1="559.55" y1="513.14" x2="612.47" y2="513.14" stroke="#b8b8b8" stroke-width="0.6" />
<rect x="567.41" y="509.44" width="18.60" height="7.40" fill="#6182ac" stroke="#555" stroke-width="0.35" />
<line x1="573.96" y1="509.44" x2="573.96" y2="516.84" stroke="#1a1a1a" stroke-width="0.9" />
<circle cx="613.52" cy="513.14" r="1.12" fill="#1a1a1a" />
<circle cx="618.76" cy="513.14" r="1.12" fill="#1a1a1a" />
<circle cx="621.38" cy="513.14" r="1.12" fill="#1a1a1a" />
<circle cx="627.93" cy="513.14" r="1.12" fill="#1a1a1a" />
<line x1="560.86" y1="523.49" x2="597.54" y2="523.49" stroke="#555" stroke-width="0.6" />
<rect x="566.88" y="519.79" width="13.10" height="7.40" fill="#5a8e96" stroke="#555" stroke-width="0.35" />
<line x1="570.81" y1="519.79" x2="570.81" y2="527.19" stroke="#1a1a1a" stroke-width="0.9" />
<circle cx="599.11" cy="523.49" r="1.12" fill="#1a1a1a" />
<circle cx="600.42" cy="523.49" r="1.12" fill="#1a1a1a" />
<circle cx="601.73" cy="523.49" r="1.12" fill="#1a1a1a" />
<circle cx="603.04" cy="523.49" r="1.12" fill="#1a1a1a" />
<circle cx="606.97" cy="523.49" r="1.12" fill="#1a1a1a" />
<circle cx="608.28" cy="523.49" r="1.12" fill="#1a1a1a" />
<circle cx="609.59" cy="523.49" r="1.12" fill="#1a1a1a" />
<circle cx="610.90" cy="523.49" r="1.12" fill="#1a1a1a" />
<circle cx="614.83" cy="523.49" r="1.12" fill="#1a1a1a" />
<circle cx="622.69" cy="523.49" r="1.12" fill="#1a1a1a" />
<circle cx="629.24" cy="523.49" r="1.12" fill="#1a1a1a" />
<circle cx="646.27" cy="523.49" r="1.12" fill="#1a1a1a" />
<line x1="561.91" y1="533.84" x2="586.53" y2="533.84" stroke="#b8b8b8" stroke-width="0.6" />
<rect x="566.88" y="530.14" width="8.65" height="7.40" fill="#6fa095" stroke="#555" stroke-width="0.35" />
<line x1="570.55" y1="530.14" x2="570.55" y2="537.54" stroke="#1a1a1a" stroke-width="0.9" />
<circle cx="587.32" cy="533.84" r="1.12" fill="#1a1a1a" />
<circle cx="588.63" cy="533.84" r="1.12" fill="#1a1a1a" />
<circle cx="589.94" cy="533.84" r="1.12" fill="#1a1a1a" />
<circle cx="591.25" cy="533.84" r="1.12" fill="#1a1a1a" />
<circle cx="592.56" cy="533.84" r="1.12" fill="#1a1a1a" />
<circle cx="593.87" cy="533.84" r="1.12" fill="#1a1a1a" />
<circle cx="595.18" cy="533.84" r="1.12" fill="#1a1a1a" />
<circle cx="603.04" cy="533.84" r="1.12" fill="#1a1a1a" />
<line x1="562.43" y1="544.18" x2="587.06" y2="544.18" stroke="#555" stroke-width="0.6" />
<rect x="567.41" y="540.48" width="8.38" height="7.40" fill="#72a38d" stroke="#555" stroke-width="0.35" />
<line x1="570.55" y1="540.48" x2="570.55" y2="547.88" stroke="#1a1a1a" stroke-width="0.9" />
<circle cx="591.25" cy="544.18" r="1.12" fill="#1a1a1a" />
<line x1="560.60" y1="554.53" x2="591.51" y2="554.53" stroke="#b8b8b8" stroke-width="0.6" />
<rect x="565.84" y="550.83" width="10.74" height="7.40" fill="#868876" stroke="#555" stroke-width="0.35" />
<line x1="569.50" y1="550.83" x2="569.50" y2="558.23" stroke="#1a1a1a" stroke-width="0.9" />
<circle cx="593.87" cy="554.53" r="1.12" fill="#1a1a1a" />
<circle cx="597.80" cy="554.53" r="1.12" fill="#1a1a1a" />
<circle cx="599.11" cy="554.53" r="1.12" fill="#1a1a1a" />
<circle cx="600.42" cy="554.53" r="1.12" fill="#1a1a1a" />
<circle cx="601.73" cy="554.53" r="1.12" fill="#1a1a1a" />
<circle cx="603.04" cy="554.53" r="1.12" fill="#1a1a1a" />
<circle cx="604.35" cy="554.53" r="1.12" fill="#1a1a1a" />
<circle cx="605.66" cy="554.53" r="1.12" fill="#1a1a1a" />
<circle cx="618.76" cy="554.53" r="1.12" fill="#1a1a1a" />
<circle cx="639.72" cy="554.53" r="1.12" fill="#1a1a1a" />
<line x1="562.43" y1="564.88" x2="575.79" y2="564.88" stroke="#555" stroke-width="0.6" />
<rect x="567.41" y="561.18" width="4.45" height="7.40" fill="#6a5554" stroke="#555" stroke-width="0.35" />
<line x1="569.50" y1="561.18" x2="569.50" y2="568.58" stroke="#1a1a1a" stroke-width="0.9" />
<circle cx="576.84" cy="564.88" r="1.12" fill="#1a1a1a" />
<circle cx="578.15" cy="564.88" r="1.12" fill="#1a1a1a" />
<circle cx="579.46" cy="564.88" r="1.12" fill="#1a1a1a" />
<circle cx="580.77" cy="564.88" r="1.12" fill="#1a1a1a" />
<line x1="559.55" y1="575.23" x2="582.60" y2="575.23" stroke="#b8b8b8" stroke-width="0.6" />
<rect x="564.53" y="571.53" width="7.60" height="7.40" fill="#a34559" stroke="#555" stroke-width="0.35" />
<line x1="568.98" y1="571.53" x2="568.98" y2="578.93" stroke="#1a1a1a" stroke-width="0.9" />
<circle cx="583.39" cy="575.23" r="1.12" fill="#1a1a1a" />
<circle cx="586.01" cy="575.23" r="1.12" fill="#1a1a1a" />
<circle cx="588.63" cy="575.23" r="1.12" fill="#1a1a1a" />
<line x1="560.60" y1="585.58" x2="583.39" y2="585.58" stroke="#555" stroke-width="0.6" />
<rect x="565.57" y="581.88" width="7.86" height="7.40" fill="#a5485a" stroke="#555" stroke-width="0.35" />
<line x1="568.98" y1="581.88" x2="568.98" y2="589.28" stroke="#1a1a1a" stroke-width="0.9" />
<circle cx="586.01" cy="585.58" r="1.12" fill="#1a1a1a" />
<circle cx="591.25" cy="585.58" r="1.12" fill="#1a1a1a" />
<line x1="562.43" y1="595.92" x2="575.79" y2="595.92" stroke="#b8b8b8" stroke-width="0.6" />
<rect x="566.36" y="592.22" width="5.24" height="7.40" fill="#5d5768" stroke="#555" stroke-width="0.35" />
<line x1="569.50" y1="592.22" x2="569.50" y2="599.62" stroke="#1a1a1a" stroke-width="0.9" />
<circle cx="576.84" cy="595.92" r="1.12" fill="#1a1a1a" />
<circle cx="578.15" cy="595.92" r="1.12" fill="#1a1a1a" />
<circle cx="579.46" cy="595.92" r="1.12" fill="#1a1a1a" />
<circle cx="580.77" cy="595.92" r="1.12" fill="#1a1a1a" />
<circle cx="582.08" cy="595.92" r="1.12" fill="#1a1a1a" />
<line x1="560.60" y1="606.27" x2="580.51" y2="606.27" stroke="#555" stroke-width="0.6" />
<rect x="565.05" y="602.57" width="7.07" height="7.40" fill="#4f8ba0" stroke="#555" stroke-width="0.35" />
<line x1="568.19" y1="602.57" x2="568.19" y2="609.97" stroke="#1a1a1a" stroke-width="0.9" />
<circle cx="582.08" cy="606.27" r="1.12" fill="#1a1a1a" />
<circle cx="583.39" cy="606.27" r="1.12" fill="#1a1a1a" />
<circle cx="584.70" cy="606.27" r="1.12" fill="#1a1a1a" />
<line x1="560.60" y1="616.62" x2="575.53" y2="616.62" stroke="#b8b8b8" stroke-width="0.6" />
<rect x="565.05" y="612.92" width="5.50" height="7.40" fill="#4686ad" stroke="#555" stroke-width="0.35" />
<line x1="567.41" y1="612.92" x2="567.41" y2="620.32" stroke="#1a1a1a" stroke-width="0.9" />
<circle cx="576.84" cy="616.62" r="1.12" fill="#1a1a1a" />
<circle cx="578.15" cy="616.62" r="1.12" fill="#1a1a1a" />
<circle cx="579.46" cy="616.62" r="1.12" fill="#1a1a1a" />
<circle cx="580.77" cy="616.62" r="1.12" fill="#1a1a1a" />
<circle cx="582.08" cy="616.62" r="1.12" fill="#1a1a1a" />
<circle cx="586.01" cy="616.62" r="1.12" fill="#1a1a1a" />
<line x1="560.60" y1="626.97" x2="579.46" y2="626.97" stroke="#555" stroke-width="0.6" />
<rect x="564.53" y="623.27" width="6.55" height="7.40" fill="#3f96a5" stroke="#555" stroke-width="0.35" />
<line x1="567.41" y1="623.27" x2="567.41" y2="630.67" stroke="#1a1a1a" stroke-width="0.9" />
<circle cx="580.77" cy="626.97" r="1.12" fill="#1a1a1a" />
<circle cx="582.08" cy="626.97" r="1.12" fill="#1a1a1a" />
<circle cx="583.39" cy="626.97" r="1.12" fill="#1a1a1a" />
<circle cx="584.70" cy="626.97" r="1.12" fill="#1a1a1a" />
<circle cx="586.01" cy="626.97" r="1.12" fill="#1a1a1a" />
<circle cx="588.63" cy="626.97" r="1.12" fill="#1a1a1a" />
<line x1="560.60" y1="637.32" x2="577.50" y2="637.32" stroke="#b8b8b8" stroke-width="0.6" />
<rect x="564.53" y="633.62" width="6.03" height="7.40" fill="#4f9a9a" stroke="#555" stroke-width="0.35" />
<line x1="567.41" y1="633.62" x2="567.41" y2="641.02" stroke="#1a1a1a" stroke-width="0.9" />
<circle cx="579.46" cy="637.32" r="1.12" fill="#1a1a1a" />
<circle cx="580.77" cy="637.32" r="1.12" fill="#1a1a1a" />
<line x1="561.38" y1="647.66" x2="574.48" y2="647.66" stroke="#555" stroke-width="0.6" />
<rect x="564.53" y="643.96" width="4.98" height="7.40" fill="#7a8068" stroke="#555" stroke-width="0.35" />
<line x1="567.15" y1="643.96" x2="567.15" y2="651.36" stroke="#1a1a1a" stroke-width="0.9" />
<circle cx="575.53" cy="647.66" r="1.12" fill="#1a1a1a" />
<circle cx="578.15" cy="647.66" r="1.12" fill="#1a1a1a" />
<circle cx="579.46" cy="647.66" r="1.12" fill="#1a1a1a" />
<line x1="560.60" y1="658.01" x2="571.86" y2="658.01" stroke="#b8b8b8" stroke-width="0.6" />
<rect x="564.00" y="654.31" width="4.19" height="7.40" fill="#a88668" stroke="#555" stroke-width="0.35" />
<line x1="566.10" y1="654.31" x2="566.10" y2="661.71" stroke="#1a1a1a" stroke-width="0.9" />
<circle cx="572.91" cy="658.01" r="1.12" fill="#1a1a1a" />
<circle cx="574.22" cy="658.01" r="1.12" fill="#1a1a1a" />
<circle cx="575.53" cy="658.01" r="1.12" fill="#1a1a1a" />
<circle cx="576.84" cy="658.01" r="1.12" fill="#1a1a1a" />
<circle cx="580.77" cy="658.01" r="1.12" fill="#1a1a1a" />
<line x1="560.60" y1="668.36" x2="569.50" y2="668.36" stroke="#555" stroke-width="0.6" />
<rect x="563.48" y="664.66" width="3.67" height="7.40" fill="#8a6a50" stroke="#555" stroke-width="0.35" />
<line x1="565.05" y1="664.66" x2="565.05" y2="672.06" stroke="#1a1a1a" stroke-width="0.9" />
<circle cx="571.60" cy="668.36" r="1.12" fill="#1a1a1a" />
<circle cx="572.91" cy="668.36" r="1.12" fill="#1a1a1a" />
<circle cx="574.22" cy="668.36" r="1.12" fill="#1a1a1a" />
<circle cx="578.15" cy="668.36" r="1.12" fill="#1a1a1a" />
<circle cx="582.08" cy="668.36" r="1.12" fill="#1a1a1a" />
<line x1="560.60" y1="678.71" x2="570.55" y2="678.71" stroke="#b8b8b8" stroke-width="0.6" />
<rect x="562.43" y="675.01" width="4.45" height="7.40" fill="#7d6a5a" stroke="#555" stroke-width="0.35" />
<line x1="564.53" y1="675.01" x2="564.53" y2="682.41" stroke="#1a1a1a" stroke-width="0.9" />
<circle cx="572.91" cy="678.71" r="1.12" fill="#1a1a1a" />
<circle cx="574.22" cy="678.71" r="1.12" fill="#1a1a1a" />
<circle cx="575.53" cy="678.71" r="1.12" fill="#1a1a1a" />
<line x1="560.07" y1="689.06" x2="568.98" y2="689.06" stroke="#555" stroke-width="0.6" />
<rect x="562.43" y="685.36" width="3.67" height="7.40" fill="#4a4a48" stroke="#555" stroke-width="0.35" />
<line x1="564.00" y1="685.36" x2="564.00" y2="692.76" stroke="#1a1a1a" stroke-width="0.9" />
<circle cx="570.29" cy="689.06" r="1.12" fill="#1a1a1a" />
<circle cx="571.60" cy="689.06" r="1.12" fill="#1a1a1a" />
<circle cx="572.91" cy="689.06" r="1.12" fill="#1a1a1a" />
<circle cx="574.22" cy="689.06" r="1.12" fill="#1a1a1a" />
<circle cx="575.53" cy="689.06" r="1.12" fill="#1a1a1a" />
<circle cx="576.84" cy="689.06" r="1.12" fill="#1a1a1a" />
<circle cx="578.15" cy="689.06" r="1.12" fill="#1a1a1a" />
<circle cx="582.08" cy="689.06" r="1.12" fill="#1a1a1a" />
<line x1="559.55" y1="699.40" x2="566.36" y2="699.40" stroke="#b8b8b8" stroke-width="0.6" />
<rect x="561.38" y="695.70" width="3.14" height="7.40" fill="#3c3c3c" stroke="#555" stroke-width="0.35" />
<line x1="562.95" y1="695.70" x2="562.95" y2="703.10" stroke="#1a1a1a" stroke-width="0.9" />
<circle cx="567.67" cy="699.40" r="1.12" fill="#1a1a1a" />
<circle cx="568.98" cy="699.40" r="1.12" fill="#1a1a1a" />
<circle cx="570.29" cy="699.40" r="1.12" fill="#1a1a1a" />
<circle cx="571.60" cy="699.40" r="1.12" fill="#1a1a1a" />
<circle cx="572.91" cy="699.40" r="1.12" fill="#1a1a1a" />
<line x1="558.50" y1="453.00" x2="558.50" y2="705.00" stroke="#1f1f1f" stroke-width="0.95" />
<line x1="558.10" y1="705.00" x2="685.00" y2="705.00" stroke="#1f1f1f" stroke-width="0.95" />
<line x1="558.50" y1="705.00" x2="558.50" y2="707.60" stroke="#222" stroke-width="0.6" />
<text x="558.50" y="715.20" font-size="6.8" text-anchor="middle" stroke="#1a1a1a" stroke-width="0.204">0.0</text>
<line x1="584.70" y1="705.00" x2="584.70" y2="707.60" stroke="#222" stroke-width="0.6" />
<text x="584.70" y="715.20" font-size="6.8" text-anchor="middle" stroke="#1a1a1a" stroke-width="0.204">0.1</text>
<line x1="610.90" y1="705.00" x2="610.90" y2="707.60" stroke="#222" stroke-width="0.6" />
<text x="610.90" y="715.20" font-size="6.8" text-anchor="middle" stroke="#1a1a1a" stroke-width="0.204">0.2</text>
<line x1="637.10" y1="705.00" x2="637.10" y2="707.60" stroke="#222" stroke-width="0.6" />
<text x="637.10" y="715.20" font-size="6.8" text-anchor="middle" stroke="#1a1a1a" stroke-width="0.204">0.3</text>
<line x1="663.30" y1="705.00" x2="663.30" y2="707.60" stroke="#222" stroke-width="0.6" />
<text x="663.30" y="715.20" font-size="6.8" text-anchor="middle" stroke="#1a1a1a" stroke-width="0.204">0.4</text>
<text x="621.50" y="726.40" font-size="7.8" text-anchor="middle" stroke="#1a1a1a" stroke-width="0.234">BPS<tspan font-size="4" dy="1.3">AUC</tspan><tspan dy="-1.3"> scores</tspan></text>
</g>
</g>
</svg>
</body></html>
